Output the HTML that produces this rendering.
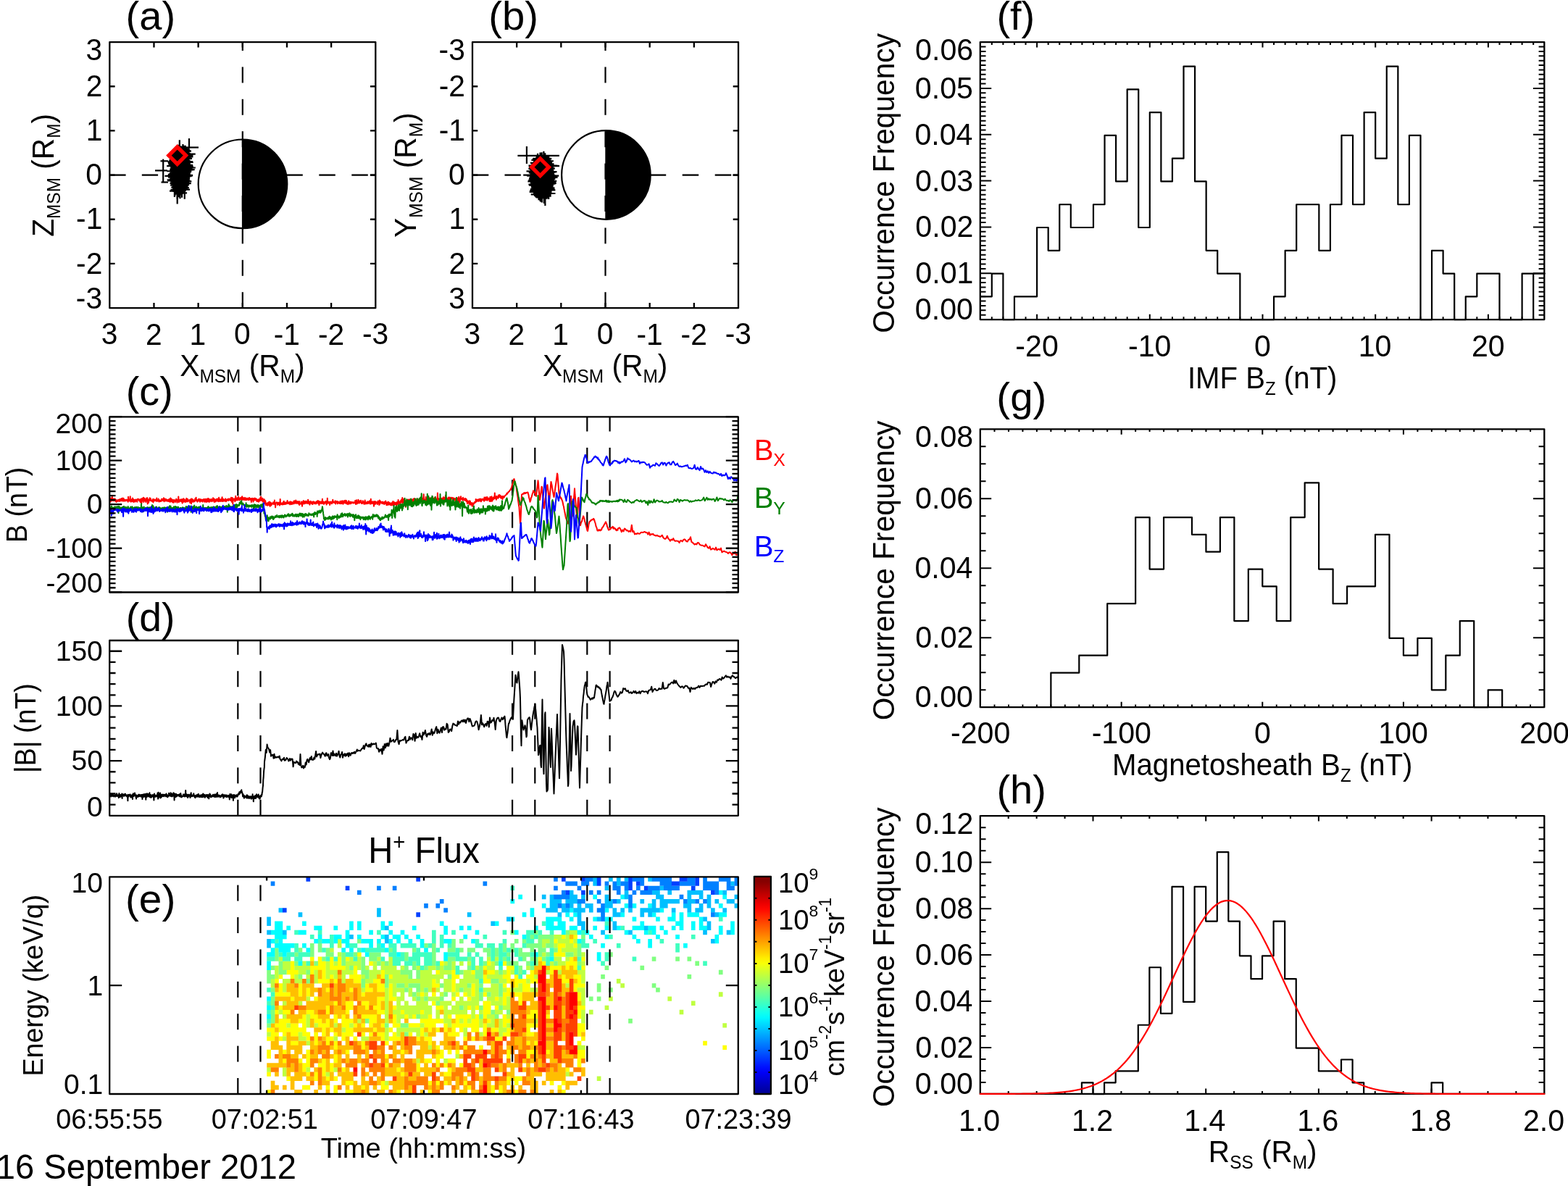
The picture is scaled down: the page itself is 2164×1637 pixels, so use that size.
<!DOCTYPE html>
<html><head><meta charset="utf-8"><title>Figure</title>
<style>html,body{margin:0;padding:0;background:#fff;overflow:hidden}svg{display:block}</style>
</head><body>
<svg width="2164" height="1637" viewBox="0 0 2164 1637" font-family="'Liberation Sans', Arial, Helvetica, sans-serif"><rect width="2164" height="1637" fill="#fff"/><circle cx="335" cy="253.8" r="61.3" fill="#fff" stroke="none"/>
<path d="M335,192.5 A61.3,61.3 0 0 1 335,315.1 Z" fill="#000"/>
<line x1="334.8" y1="425.2" x2="334.8" y2="403.2" stroke="#000" stroke-width="2.2" />
<line x1="334.8" y1="380.8" x2="334.8" y2="358.8" stroke="#000" stroke-width="2.2" />
<line x1="334.8" y1="336.4" x2="334.8" y2="314.4" stroke="#000" stroke-width="2.2" />
<line x1="334.8" y1="292" x2="334.8" y2="270" stroke="#000" stroke-width="2.2" />
<line x1="334.8" y1="247.6" x2="334.8" y2="225.6" stroke="#000" stroke-width="2.2" />
<line x1="334.8" y1="203.2" x2="334.8" y2="181.2" stroke="#000" stroke-width="2.2" />
<line x1="334.8" y1="158.8" x2="334.8" y2="136.8" stroke="#000" stroke-width="2.2" />
<line x1="334.8" y1="114.4" x2="334.8" y2="92.4" stroke="#000" stroke-width="2.2" />
<line x1="334.8" y1="70" x2="334.8" y2="58.1" stroke="#000" stroke-width="2.2" />
<line x1="151.3" y1="241.6" x2="173.6" y2="241.6" stroke="#000" stroke-width="2.3" />
<line x1="195.8" y1="241.6" x2="218.1" y2="241.6" stroke="#000" stroke-width="2.3" />
<line x1="240.3" y1="241.6" x2="262.6" y2="241.6" stroke="#000" stroke-width="2.3" />
<line x1="395.3" y1="241.6" x2="417.8" y2="241.6" stroke="#000" stroke-width="2.3" />
<line x1="440.3" y1="241.6" x2="462.8" y2="241.6" stroke="#000" stroke-width="2.3" />
<line x1="485.3" y1="241.6" x2="507.8" y2="241.6" stroke="#000" stroke-width="2.3" />
<line x1="510.8" y1="241.6" x2="518.3" y2="241.6" stroke="#000" stroke-width="2.3" />
<circle cx="335" cy="253.8" r="61.3" fill="none" stroke="#000" stroke-width="2.2"/>
<line x1="335" y1="192.5" x2="335" y2="315.1" stroke="#000" stroke-width="2.2"/>
<ellipse cx="249" cy="236" rx="13.8" ry="33" fill="#000"/>
<path d="M234.28,233.68H241.01M237.64,229.31V238.06M243.59,217.92H263.3M253.44,210.9V224.94M238.4,260.92H247.04M242.72,257.62V264.23M242.96,251.69H256.96M249.96,246.28V257.1M253.33,229.5H264.83M259.08,226.04V232.96M238.82,234.9H251.3M245.06,228.72V241.08M248.09,241.73H265.96M257.03,235.38V248.08M236.89,227H251.97M244.43,221.44V232.57M247.63,259.21H260.83M254.23,255.56V262.86M242.16,244.52H257.42M249.79,236.77V252.28M242.34,238.66H255.09M248.72,231.15V246.18M242.47,260.98H257.13M249.8,257.57V264.38M245.43,223.22H265.96M255.69,216.68V229.76M249.03,209.33H261.95M255.49,202.22V216.44M243.34,229.01H258.25M250.79,224.26V233.76M239.54,223.39H256.13M247.83,219.31V227.46M250.82,251.72H260.38M255.6,245.3V258.15M248.89,217.16H263.61M256.25,211.4V222.92M247.97,235.62H261.71M254.84,231.57V239.66M243.42,225.13H252.94M248.18,218.64V231.62M233.65,220.83H247.36M240.5,215.64V226.02M248.44,245.18H256.85M252.65,240.8V249.56M252.22,231.02H266.72M259.47,224.93V237.1M244,214.97H249.92M246.96,211.2V218.75M234.34,234.92H242.88M238.61,229.27V240.57M252.25,231.57H260.79M256.52,228.33V234.82M247,254.54H254.78M250.89,249.7V259.38M237.38,217.12H248.64M243.01,212.25V222M243.97,266.33H258.07M251.02,259.98V272.68M239.47,251.39H244.67M242.07,243.06V259.72M246.22,214.71H253.73M249.98,212.11V217.31M247.45,235.9H262.64M255.05,228.56V243.24M238.59,257.2H243.9M241.25,252.47V261.93M246.46,246.85H258.2M252.33,239.6V254.1M250.44,215.04H262.66M256.55,207.84V222.24M252.86,250.29H264.34M258.6,244.62V255.97M247.29,238.92H260.39M253.84,235.47V242.37M249.46,254.85H256.19M252.82,250.7V259.01M249.89,239.81H257.19M253.54,234.61V245.02M252.97,227.89H266.03M259.5,214.06V241.71M250.51,248.98H256.63M253.57,244.92V253.04M240.69,245.71H254.58M247.63,235.28V256.15M236.17,247.36H243.05M239.61,244.74V249.98M244.3,256.15H254.86M249.58,248.67V263.63M247.65,228.94H253.76M250.71,221.92V235.96M248.68,250.69H257.75M253.22,245.68V255.7M254.7,224.8H261.1M257.9,219.5V230.09M240.97,217.5H246.35M243.66,210.28V224.72M239.53,212.63H251.37M245.45,209.74V215.53M238.64,211.31H247.83M243.24,208.42V214.2M240.5,259.39H252.19M246.35,254.35V264.44M244.24,231.5H269.83M257.04,226.68V236.31M240.36,225.02H250.15M245.26,218.63V231.42M247.56,238.92H255.09M251.33,224.63V253.2M236.04,241.77H257.59M246.81,236.83V246.72M239.24,260.07H253.91M246.57,255.87V264.27M242.12,224.61H256.8M249.46,221.04V228.18M244.7,250.91H255.63M250.17,245.54V256.29M245.85,263.48H254.18M250.01,257.89V269.07M247.01,255.82H256.53M251.77,246.49V265.16M243.19,229.69H258.12M250.65,221.65V237.74M247.14,254.01H257.41M252.28,249.22V258.79M244.33,254.23H255.85M250.09,250.99V257.46M241.83,208.76H251.12M246.48,201.38V216.13M245.78,256.91H255.42M250.6,252.91V260.91M234.67,239.75H244.28M239.48,234.81V244.68M249.02,215.88H257.3M253.16,207.69V224.06M239.12,222.57H252.66M245.89,218.14V227M234.42,247.03H251.11M242.76,236.52V257.54M244.68,243.99H261.58M253.13,230.89V257.09M241.7,216.71H251.69M246.7,212.36V221.06M241.8,255.97H253.2M247.5,251.82V260.13M232,240.88H244.71M238.36,233.16V248.6M250.94,248.22H257.59M254.27,242.27V254.16M243.26,212.67H253.34M248.3,205.03V220.3M249.88,262.51H256.77M253.33,258.13V266.88M236.28,225.8H241.31M238.8,218.98V232.62M240.66,266.52H248.83M244.75,258.23V274.8M240.45,209.67H255.12M247.79,203.41V215.93M250.63,216.33H266.48M258.56,211.57V221.09M248.64,222.96H262.54M255.59,218.73V227.19M249.31,237.64H258.04M253.67,232.96V242.32M243.01,259.13H257.35M250.18,251.39V266.87M244.24,210.6H261.34M252.79,207.1V214.11M250.22,245.01H258.28M254.25,240.36V249.67M236.9,249.3H250.51M243.7,242.64V255.96M252.63,218.23H262.53M257.58,212.9V223.56M247.47,251.89H258.89M253.18,245.81V257.98M235.46,249.69H244.42M239.94,242.81V256.56M234.02,263.58H250.62M242.32,260.83V266.34M253.1,223.98H266.68M259.89,217.16V230.8M248.24,213.99H255.95M252.1,206.04V221.94M248.12,262.04H256.72M252.42,257.4V266.68M245.03,243.61H255.05M250.04,240.57V246.65M239.21,234.72H250.51M244.86,229.24V240.2M233.51,247.96H243.11M238.31,239.88V256.04M241.62,214H256.07M248.84,208.25V219.76M251.37,213.19H263.96M257.67,206.3V220.08M245.95,225.75H262.79M254.37,220.27V231.23M246.17,219.27H259.45M252.81,214.66V223.88M241.77,241.97H256.01M248.89,238.11V245.83M240.27,243.53H253.07M246.67,237.65V249.4M249.37,212.52H265.59M257.48,203.15V221.9M247.5,249.9H262.77M255.14,247.38V252.42M246.23,223.29H253.63M249.93,217.13V229.44M243.88,260.3H255.24M249.56,254.32V266.29M246.5,258.1H252.67M249.58,250.85V265.34M236.54,238.65H248.49M242.52,235.45V241.85M245.45,207.22H262.19M253.82,203.21V211.23M234.77,247.21H242.59M238.68,240.44V253.98M234.74,214.66H250.94M242.84,207.23V222.1M240.14,253.35H256.63M248.38,249.12V257.59M249.03,252.49H258.33M253.68,246.37V258.61M230.74,248.42H245.77M238.25,243.24V253.59M236.58,243.13H249.41M242.99,235.8V250.45M242.3,263.84H255.76M249.03,260.47V267.22M238.47,242.87H247.59M243.03,234.64V251.11M239.16,260.9H248.38M243.77,258.13V263.67M237.61,251.62H252.13M244.87,244.69V258.55M239.92,255.03H251.85M245.89,247.3V262.76M231.51,242.47H246.86M239.18,235.7V249.24M245.59,241.6H259.59M252.59,237.99V245.22M247.47,218.48H256.56M252.02,213.3V223.65M230.17,229.19H250.55M240.36,222.96V235.42M246.35,255.2H261.17M253.76,247.22V263.18M243.69,206.98H251.95M247.82,193.28V220.68M244.87,221.94H259.48M252.18,214.63V229.25M234.81,245.47H240.66M237.73,237.13V253.8M250.68,261.17H258.86M254.77,247.69V274.65M247.59,237.12H263.77M255.68,232.29V241.94M242.01,253.64H249.3M245.66,246.32V260.96M241.51,267.32H251.28M246.39,262.28V272.37M241.85,225.52H258.2M250.03,222.65V228.4M257.33,230.86H262.45M259.89,224.82V236.89M237.63,235.85H253.83M245.73,226.64V245.05M241.4,212.63H269.71M255.55,207.52V217.74M248.3,253.18H263.76M256.03,249.88V256.48M238.48,226.84H251.83M245.15,220.3V233.38M250.54,236.79H264.25M257.39,230.06V243.53M242.5,205.3H259.46M250.98,201.71V208.88M247,238.73H258.22M252.61,234.52V242.95M252.15,212.49H261.6M256.87,204.87V220.1M246.58,260.53H254.77M250.68,252.53V268.52M242.53,238.63H250.46M246.49,234.15V243.11M234.6,240.78H243.67M239.13,233.12V248.44M254.76,242.79H262.64M258.7,236.81V248.76M239.21,256.85H251.74M245.48,253.07V260.62M236.95,228.9H243.33M240.14,220.54V237.25M247.44,208.67H263.97M255.71,201.65V215.7M236.02,226.31H244.85M240.44,221.37V231.26M254.43,237.76H262.21M258.32,234.09V241.43M249.55,233.7H265.61M257.58,230.49V236.92M235.11,255.55H244.12M239.62,250.17V260.94M246.14,228.7H253.85M249.99,222.51V234.9M240.43,244.44H250.91M245.67,238.37V250.51M251.68,234.13H268.67M260.18,227.63V240.64M237.49,222.39H252.22M244.86,217.11V227.66M236.78,242.99H242.96M239.87,234.77V251.22M235.38,253.26H249.68M242.53,245.8V260.73M242.75,261.5H254.08M248.42,257.71V265.29M238.07,216.85H262.03M250.05,208.64V225.05M233.55,240.19H241.59M237.57,231.78V248.61M240.1,234.41H252.35M246.22,230.63V238.19M241.1,221.46H246.85M243.98,213.78V229.14M239.81,258.37H247.84M243.82,251.25V265.48M235.29,240.14H244.65M239.97,236.95V243.33M242.88,234.32H258.27M250.58,228.57V240.07M242.41,213.32H252.97M247.69,206.73V219.91M241.76,214.11H254.86M248.31,210.2V218.01M241.98,243.25H254.44M248.21,234.76V251.75M236.59,254.45H241.77M239.18,247.44V261.46M236.31,258.57H245.44M240.88,245.24V271.91M250.07,221.92H257.57M253.82,216.52V227.32M244.35,214.3H256.07M250.21,205.9V222.69M249.05,218.94H265.05M257.05,213.94V223.94M248.3,208.35H263.19M255.74,200.87V215.82M240.14,234.36H247.99M244.06,230.66V238.05M247.25,211.61H259.56M253.41,206.14V217.08M248.37,240.42H260.07M254.22,236.7V244.15M227.48,242.9H249.36M238.42,237.51V248.28M251.16,212.2H262.81M256.98,205.57V218.82M240.25,251.07H254.21M247.23,247.19V254.95M235.33,230.64H249.33M242.33,225.9V235.37M251.96,228.3H265.49M258.72,224.44V232.16M245.63,244.08H258.98M252.31,237.76V250.39M245.37,205.72H261.48M253.43,200.63V210.81M244.45,266.27H252.8M248.62,261.96V270.58M240.1,255.09H247.5M243.8,247.28V262.89M247.49,253.61H257.53M252.51,247.15V260.07M248.66,211.84H256.17M252.42,206.55V217.13M240.17,225.28H254.25M247.21,219.53V231.03M242.28,229.13H253.32M247.8,225.4V232.85M236.43,248.29H245.95M241.19,241.75V254.84M245.03,242.3H266.16M255.6,234.1V250.49M235.28,238.02H246.79M241.03,231.43V244.6M246.95,231.48H252.41M249.68,225.54V237.42M249.59,214.7H266.46M258.02,209.39V220.01M240.54,228.7H256.45M248.5,225.04V232.36M236.22,223.88H246.15M241.18,218.18V229.58M249.14,226.13H255.38M252.26,219.99V232.28M241.42,241.32H246.86M244.14,238.31V244.32M232.02,225.3H248.35M240.19,219.91V230.7M246.26,245.28H252.92M249.59,238.04V252.51M253.82,238.55H262.68M258.25,234.85V242.24M235.54,261.96H247.33M241.44,253.91V270.01M230.28,236.25H249.68M239.98,228.08V244.43M233.01,227.29H247.45M240.23,220.95V233.62M231.09,215.5H257.01M244.05,205.96V225.04M242.24,240.4H257.63M249.94,234.77V246.03M240.74,207.44H251.61M246.17,199.74V215.15M239.63,237.79H251.31M245.47,230.24V245.33M244.87,261.54H262.06M253.46,257.43V265.65M248.98,237.97H257.54M253.26,232.84V243.09M239.96,255.64H249.18M244.57,243.43V267.86M245.92,244.69H255.16M250.54,237.7V251.69M251.03,218.19H263.17M257.1,211.84V224.54M239.8,241.7H256.13M247.96,236.93V246.46M242.51,214.25H258.98M250.74,209.07V219.42M246.13,244.35H255.41M250.77,241.44V247.26M250.87,229.59H266.76M258.81,223.22V235.97M238.49,253.53H247.34M242.92,248.06V259.01M233.31,221.96H248.66M240.99,218.19V225.74M235.92,229.46H248.82M242.37,220.44V238.48M238.44,208.58H253.75M246.09,204.91V212.26M239.22,231.63H249.58M244.4,225.31V237.95M246.84,210.72H258.07M252.46,198.98V222.46M243.53,225H250.44M246.99,216.94V233.06M244.42,257.73H253.57M249,251.06V264.39M249.96,233.31H259.61M254.78,226.9V239.71M245.57,232.6H253.02M249.29,226.64V238.56M249.89,245.45H259.74M254.82,240.84V250.06M246.68,240.8H255.44M251.06,235.95V245.66M249.53,246.95H261.19M255.36,244.27V249.63M243.4,218.83H254.06M248.73,211.33V226.33M242.82,215.34H259.26M251.04,210.69V219.98M233.98,238.79H240.7M237.34,232.4V245.17M251.63,246.14H262.03M256.83,237.82V254.46M240.14,222.02H256.52M248.33,216.8V227.24M235.66,229.73H241.52M238.59,226.35V233.11M239.55,229.16H262.98M251.27,223.61V234.72M250.4,258.86H258.05M254.23,254.92V262.81M245.56,252.38H250.71M248.14,249.68V255.09M239.55,221.29H251.72M245.64,213.51V229.07M247,237.17H258.29M252.64,229.66V244.67M234.51,252.88H244.37M239.44,249.58V256.17M237.41,258.06H248.61M243.01,254.02V262.09M243.51,222.44H258.39M250.95,219.32V225.56M234.29,247.6H248.71M241.5,243.63V251.58M244.82,209.68H255.17M249.99,201.52V217.85M231.43,223.32H247.38M239.4,220.11V226.53M235.69,217.27H246.89M241.29,210.48V224.06M247.69,237.93H253.97M250.83,235.14V240.72M239.77,226.53H244.87M242.32,220.99V232.07M250.75,206.74H256.62M253.69,203.92V209.56M234.98,218.79H251.87M243.43,215.29V222.28M240.16,258.4H250.35M245.25,255.39V261.4M232.08,244.71H247.98M240.03,240.14V249.28M245.63,258.09H254.46M250.04,252.11V264.08M240.93,242.61H246.1M243.51,236.07V249.16M237.44,247.85H250.63M244.04,243.14V252.55M241.38,224.6H253.42M247.4,216.64V232.56M241.46,266.71H248.85M245.15,263.53V269.9M246.09,209.86H251.18M248.63,205.5V214.22M253.32,223.42H264.6M258.96,220.06V226.78M247.99,212.28H260.95M254.47,207.69V216.88M239.26,247.86H252.29M245.77,239.51V256.21M239.77,239.37H260.53M250.15,236.56V242.18M235.08,245.3H241.63M238.35,240.37V250.23M245.1,241.71H255.33M250.22,236.34V247.08M247.88,229.78H255.97M251.92,226.24V233.33M250.82,240.7H256.6M253.71,232.56V248.84M247.64,224.29H261.6M254.62,218.16V230.42M235.29,213.22H249.63M242.46,208.97V217.46M239.52,234.83H247.34M243.43,228.13V241.53M249.82,216.66H259.56M254.69,210.51V222.82M240.41,257.78H248.03M244.22,255.01V260.54M254.57,232.84H262.11M258.34,227.69V237.99M231.89,249.52H259.86M245.88,246.67V252.36M246.19,218.37H255.68M250.93,212.27V224.47M234.25,248.52H241.03M237.64,244.79V252.26M238.48,263.78H250.44M244.46,258.07V269.5M238.94,231.73H248.43M243.68,226.63V236.83M232.51,227.92H257.37M244.94,224.08V231.76M249.11,251.31H257.69M253.4,247.4V255.22M238.79,245.95H254.78M246.79,239.03V252.87M242.19,208.44H254.37M248.28,203.35V213.52M245.3,264.7H251.61M248.46,255.06V274.34M247.28,218.23H257.77M252.53,213.34V223.13M242.34,232.39H252.47M247.4,224.17V240.6M241.44,216.48H252.36M246.9,211.49V221.47M235.28,216.55H247.21M241.24,209.12V223.99M237.7,263.25H246.65M242.18,259.69V266.82M240.03,247.67H247.88M243.96,241.16V254.18M233.36,223H246.48M239.92,219.23V226.76M237.48,227.28H244.44M240.96,223.48V231.08M236.07,228.94H249.2M242.64,223.35V234.52M250.84,242.7H264.67M257.75,235.03V250.36M246.47,222.9H256.58M251.52,216.97V228.83M253.29,243.26H264.6M258.95,239.75V246.78M252.84,228.96H263.93M258.39,215.38V242.54M249.72,234.69H264.58M257.15,227.23V242.16M230.64,248.64H247.6M239.12,245.7V251.59M243.02,226.06H250.53M246.77,222.57V229.56M251.73,234.39H266.86M259.3,231.25V237.53M246.91,210.34H259.02M252.97,204.51V216.17M241.68,257.22H249.69M245.68,252.79V261.65M253.93,231.57H263.56M258.75,227.91V235.23M251.59,242.31H264.49M258.04,235.77V248.85M253.62,228.23H260.1M256.86,223.28V233.19M239.04,252.47H247.56M243.3,244.89V260.04M242.96,222.5H259.65M251.3,216.03V228.97M253.47,248.09H259.03M256.25,242.37V253.81M243.49,242.42H256.02M249.75,236.62V248.22M242.42,225.44H253.57M248,217.58V233.29M235.15,226.59H241.82M238.49,219.69V233.49M235.21,237.55H246.75M240.98,234.7V240.4M235.12,250.52H248.51M241.82,247.04V253.99M248.47,230.68H260.8M254.64,219.27V242.08M255.92,221.65H262.59M259.26,217.17V226.14M250.06,213.28H261.99M256.02,205.56V221" stroke="#000" stroke-width="2.2" fill="none"/>
<line x1="214" y1="235.4" x2="231" y2="235.4" stroke="#000" stroke-width="2.2" />
<line x1="225.2" y1="219.6" x2="225.2" y2="251.2" stroke="#000" stroke-width="2.2" />
<line x1="221.5" y1="222.3" x2="232" y2="222.3" stroke="#000" stroke-width="2.2" />
<line x1="222.5" y1="251.5" x2="232" y2="251.5" stroke="#000" stroke-width="2.2" />
<line x1="261" y1="191" x2="261" y2="205" stroke="#000" stroke-width="2.2" />
<line x1="244.7" y1="270" x2="244.7" y2="281.5" stroke="#000" stroke-width="2.2" />
<line x1="255" y1="203.5" x2="274" y2="203.5" stroke="#000" stroke-width="2.2" />
<path d="M232.9,214.6 L244.7,202.8 L256.5,214.6 L244.7,226.4 Z" fill="none" stroke="#ff0000" stroke-width="5.3" stroke-linejoin="miter"/>
<rect x="151.3" y="58.1" width="367" height="367.1" fill="none" stroke="#000" stroke-width="2.3" stroke-linejoin="round"/>
<path d="M212.47,425.2V417.9M212.47,58.1V65.4M151.3,119.27H158.6M518.3,119.27H511M273.63,425.2V417.9M273.63,58.1V65.4M151.3,180.43H158.6M518.3,180.43H511M334.8,425.2V417.9M334.8,58.1V65.4M151.3,241.6H158.6M518.3,241.6H511M395.97,425.2V417.9M395.97,58.1V65.4M151.3,302.77H158.6M518.3,302.77H511M457.13,425.2V417.9M457.13,58.1V65.4M151.3,363.93H158.6M518.3,363.93H511" stroke="#000" stroke-width="2.3" fill="none"/>
<circle cx="836.4" cy="241.5" r="61.3" fill="#fff" stroke="none"/>
<path d="M836.4,180.2 A61.3,61.3 0 0 1 836.4,302.8 Z" fill="#000"/>
<line x1="835.5" y1="425.2" x2="835.5" y2="403.2" stroke="#000" stroke-width="2.2" />
<line x1="835.5" y1="380.8" x2="835.5" y2="358.8" stroke="#000" stroke-width="2.2" />
<line x1="835.5" y1="336.4" x2="835.5" y2="314.4" stroke="#000" stroke-width="2.2" />
<line x1="835.5" y1="292" x2="835.5" y2="270" stroke="#000" stroke-width="2.2" />
<line x1="835.5" y1="247.6" x2="835.5" y2="225.6" stroke="#000" stroke-width="2.2" />
<line x1="835.5" y1="203.2" x2="835.5" y2="181.2" stroke="#000" stroke-width="2.2" />
<line x1="835.5" y1="158.8" x2="835.5" y2="136.8" stroke="#000" stroke-width="2.2" />
<line x1="835.5" y1="114.4" x2="835.5" y2="92.4" stroke="#000" stroke-width="2.2" />
<line x1="835.5" y1="70" x2="835.5" y2="58.1" stroke="#000" stroke-width="2.2" />
<line x1="652" y1="241.6" x2="674.3" y2="241.6" stroke="#000" stroke-width="2.3" />
<line x1="696.5" y1="241.6" x2="718.8" y2="241.6" stroke="#000" stroke-width="2.3" />
<line x1="741" y1="241.6" x2="763.3" y2="241.6" stroke="#000" stroke-width="2.3" />
<line x1="896.7" y1="241.6" x2="919.2" y2="241.6" stroke="#000" stroke-width="2.3" />
<line x1="941.7" y1="241.6" x2="964.2" y2="241.6" stroke="#000" stroke-width="2.3" />
<line x1="986.7" y1="241.6" x2="1009.2" y2="241.6" stroke="#000" stroke-width="2.3" />
<line x1="1011.5" y1="241.6" x2="1019" y2="241.6" stroke="#000" stroke-width="2.3" />
<circle cx="836.4" cy="241.5" r="61.3" fill="none" stroke="#000" stroke-width="2.2"/>
<line x1="836.4" y1="180.2" x2="836.4" y2="302.8" stroke="#000" stroke-width="2.2"/>
<ellipse cx="748.2" cy="244.5" rx="17" ry="30" fill="#000"/>
<path d="M740.22,260.3H754.99M747.6,254.2V266.4M745.39,250.8H753.69M749.54,244.92V256.67M731.97,254.25H742.05M737.01,245.94V262.55M738.58,252.4H747.73M743.16,244.55V260.25M736.89,269.86H747.54M742.21,266.72V273.01M745.82,270.54H758.98M752.4,264.17V276.9M729.03,242.18H744.38M736.71,234.32V250.03M746.61,226.53H759.92M753.26,220.89V232.16M743.86,247.87H757.29M750.58,239.98V255.76M731.04,263.41H743.14M737.09,258.47V268.35M745.09,255.38H757.34M751.21,252.76V258M750.94,255.88H761.8M756.37,250.36V261.41M742.02,222.52H754.43M748.23,214.23V230.81M741.27,224.46H746.77M744.02,216.4V232.52M753.78,245.77H758.9M756.34,240.4V251.15M750.65,242.3H765.65M758.15,237.46V247.14M743.59,244.15H750.37M746.98,239.01V249.29M734.18,234.38H750.09M742.13,231.52V237.23M733.17,234.68H738.94M736.05,229.44V239.92M747.32,229.09H772.01M759.67,220.73V237.45M748.47,252.04H760.92M754.69,246.86V257.22M745.92,225.33H760.43M753.18,216.99V233.68M743.49,243.27H759.08M751.28,236.49V250.06M735.18,239.8H745.83M740.51,231.86V247.74M745.03,258.64H755.62M750.32,255.44V261.85M748.82,239.55H761.51M755.16,232.86V246.23M730.64,248.67H743.16M736.9,240.83V256.52M747.64,259.37H759.47M753.56,252.61V266.14M751.79,241.94H759.9M755.85,237.67V246.21M748.2,241.11H759.42M753.81,235.65V246.56M743.87,217.35H750.21M747.04,214.46V220.25M742.69,243.71H757.16M749.93,235.76V251.66M743.64,230.71H749.55M746.6,227.96V233.47M738.17,264.3H753.86M746.01,258.99V269.61M748.39,263.07H755.57M751.98,256.89V269.26M750.36,241.63H763.42M756.89,234.68V248.59M756.13,226.78H763.18M759.66,221.69V231.88M754.46,242.53H771.32M762.89,236.44V248.62M745.13,251.86H752.16M748.65,248.84V254.89M754.12,250.84H765.03M759.58,245.18V256.5M735.75,220.93H744.99M740.37,217.12V224.75M739.74,236.71H747.83M743.78,233.14V240.29M748.53,226.92H756.86M752.69,222.82V231.03M751.28,250.13H760.16M755.72,243.2V257.06M740.05,251.05H754.12M747.09,244.61V257.48M749.46,246.75H763.81M756.64,242.16V251.34M754.46,251.02H762.55M758.5,247.19V254.85M740.35,271.19H746.66M743.5,266.03V276.35M739.36,261.33H745.2M742.28,254.48V268.18M737.61,247.79H744.6M741.1,240.41V255.17M734.51,256.97H748.25M741.38,248.97V264.96M730.33,247.13H741.87M736.1,241.91V252.35M731.5,237H742.34M736.92,229.85V244.16M746.43,218.94H761.23M753.83,214.24V223.65M750.28,251.33H765.48M757.88,244.86V257.81M737.05,232.97H751.69M744.37,225.13V240.81M755.79,258.02H762.08M758.94,253.05V263M752.1,251.44H765.23M758.66,245.29V257.59M738.97,261.03H751.4M745.18,257.42V264.64M741.86,225.4H750.24M746.05,220.1V230.71M745.63,235.27H760.28M752.96,228.89V241.64M740.02,217.28H756.07M748.05,213.8V220.77M742.89,257.59H757.55M750.22,250.02V265.16M730.7,264.81H744.53M737.61,262.24V267.38M758.52,246.84H766.35M762.43,240.84V252.83M726.52,236.35H741.89M734.2,228.36V244.35M731.24,242.12H748.24M739.74,235.19V249.04M740.67,235.83H752.11M746.39,229.95V241.71M744.5,249.9H768.21M756.35,247.11V252.69M749.28,231.52H761.77M755.52,227.38V235.65M746.76,263.67H753.54M750.15,257.28V270.06M748.24,269.24H757.71M752.98,266.6V271.88M732.25,233.13H739.29M735.77,225.67V240.59M745.19,225.22H750.76M747.97,222.56V227.87M738.6,249.95H749.03M743.81,246.4V253.49M746.06,244.41H756.13M751.1,237.52V251.3M747.81,228.03H755.22M751.51,221.86V234.21M740.03,237.33H751.92M745.97,225.89V248.77M736.2,222.95H745.52M740.86,215.1V230.8M749.67,269.44H759.55M754.61,264.12V274.77M748.86,229.43H765.05M756.96,221.39V237.48M734.47,247.94H739.54M737,244.61V251.28M753.23,251.2H767.45M760.34,248.13V254.28M738.06,258.53H751.37M744.72,255.45V261.61M736.49,230.98H752.59M744.54,228.02V233.93M746.53,259.84H762.46M754.5,256.43V263.25M734.37,236.07H744.39M739.38,228.62V243.51M744.68,240.74H755.18M749.93,233.19V248.29M735.63,242.97H748.82M742.23,235.81V250.13M737.32,235.68H744.97M741.14,228.31V243.05M742.68,224.69H757.9M750.29,220.74V228.64M736.33,233.65H752.56M744.44,230.27V237.02M759.19,244.88H766.28M762.74,235.41V254.34M742.94,258.79H757.11M750.03,255.44V262.14M736.01,243.82H752.68M744.35,238.67V248.96M738.44,236.03H754.71M746.57,229.26V242.81M747.56,229.5H762.3M754.93,222.8V236.21M741.4,253.89H757.4M749.4,250.73V257.05M742.98,256.4H759.13M751.06,249.35V263.45M745.6,221.09H754.76M750.18,217.09V225.08M744.45,262.42H759.71M752.08,256.31V268.53M745.15,223.95H761.53M753.34,215.86V232.04M746.02,235.33H751.56M748.79,228.79V241.87M737.44,263.72H751.88M744.66,256.13V271.31M748.12,222.26H763.95M756.04,214.31V230.21M729.49,228.53H742.23M735.86,223.86V233.19M730.14,245.91H741.61M735.87,242.26V249.55M739.1,236.28H748.16M743.63,232.34V240.21M729.74,238.47H742.7M736.22,230.38V246.57M749.42,261.88H760.75M755.08,257.12V266.63M738.44,230.55H744.64M741.54,227.14V233.96M733.56,238.43H745.12M739.34,231.97V244.89M750.53,241.56H758.43M754.48,233.14V249.97M733.84,259.94H739.86M736.85,253.76V266.12M749.88,255.75H761.99M755.94,250.03V261.46M751.01,243.18H759.08M755.04,240.07V246.28M730.26,233.06H738.79M734.52,226.86V239.25M745.01,245.26H760.54M752.77,238.91V251.61M745.62,223.96H753.39M749.51,220.05V227.87M742.07,260.37H754.25M748.16,257.45V263.28M756.94,232.53H765.77M761.36,228.27V236.78M739.66,272.35H755.19M747.42,266.55V278.15M737.52,221.47H751.35M744.44,218.17V224.77M741.58,234.3H748.92M745.25,229.48V239.11M739.93,267.82H752.31M746.12,263.65V272M742.84,252.79H750.66M746.75,248.93V256.64M735.73,254.47H743.22M739.48,251.5V257.43M730.07,229.5H741.66M735.86,224.78V234.22M735.43,242.12H742.3M738.86,237.12V247.11M744.72,234.97H755.17M749.95,230.94V238.99M748.56,237.13H755.65M752.1,231.47V242.79M735.1,218.74H748.96M742.03,211.78V225.69M748.67,223.73H754.76M751.72,215.55V231.91M732.96,262.3H746.16M739.56,257.04V267.57M753.25,258.83H759.68M756.46,251.73V265.93M747.5,222.3H760.13M753.82,217.09V227.52M740.04,238.87H751.07M745.56,233.45V244.3M744.81,225.01H760.11M752.46,217.14V232.88M745.3,244.66H752.36M748.83,240.37V248.96M753.32,236.06H760.71M757.01,227.67V244.45M745.8,239.99H759.7M752.75,235.33V244.65M730.95,250.48H739.5M735.22,245.38V255.58M737.53,242.23H752.78M745.15,238.81V245.64M754.69,228.52H764.54M759.62,220.31V236.74M735.54,228.64H750.92M743.23,221.17V236.11M732.62,242.06H745.86M739.24,237.08V247.04M743.95,233.37H754.89M749.42,224.96V241.79M733.52,239.04H749.93M741.73,231.04V247.04M747.56,261.89H755.87M751.71,254.44V269.34M758.66,241.92H766.26M762.46,235.31V248.52M740.83,272.27H752.78M746.81,266.39V278.15M745.61,226.76H756.66M751.13,219.17V234.36M752.9,244.84H769.58M761.24,237.54V252.14M749.7,243.47H765M757.35,237.33V249.61M752.5,239.39H763.17M757.84,234.18V244.6M744.46,258.92H754.11M749.29,253.7V264.14M749.4,259.84H756.53M752.96,254.96V264.72M730.16,255.61H746.25M738.2,251.46V259.76M744.89,230.72H758.74M751.82,225.05V236.39M735.25,247.01H748.47M741.86,239.22V254.8M750.19,238.38H761.89M756.04,235.05V241.72M735.84,232.77H745.03M740.43,229.81V235.73M741.21,252.27H758.01M749.61,247.6V256.94M748.08,272.14H756.69M752.38,260.27V284.02M755.19,248.97H760.56M757.88,240.65V257.29M742.5,257.07H749.13M745.82,253.62V260.51M739.24,217.96H751.84M745.54,210.56V225.36M736.71,254.55H751.33M744.02,246.79V262.31M751.3,227.07H763.14M757.22,215.33V238.82M744.25,235.6H755.74M749.99,228.53V242.67M739.35,220.11H748.48M743.92,215.12V225.09M753.55,230.58H758.69M756.12,224.56V236.6M743.55,225.1H750.65M747.1,218.95V231.26M745.64,249.8H755.26M750.45,245.23V254.37M743.73,222.59H760.53M752.13,214.45V230.73M747.83,215.82H752.97M750.4,208.86V222.78M754.93,253.34H760.71M757.82,250.53V256.14M756.06,252.96H767.75M761.9,249.58V256.34M738.34,271.45H757.24M747.79,263.34V279.57M750.52,243.79H761.52M756.02,240.63V246.95M739.49,268.73H744.8M742.15,266.11V271.35M737.62,247.99H746.38M742,244.35V251.63M748.48,234.35H760.48M754.48,226.25V242.46M736.18,261.21H742.89M739.54,254.09V268.32M731.4,233.84H739.31M735.35,229.39V238.29M740.23,220.1H752.55M746.39,215.72V224.47M748.85,260.25H765.52M757.18,256.29V264.22M735.25,233.57H744.84M740.04,228.36V238.79M741.41,232.89H755.78M748.6,224.44V241.34M743.77,223.66H751.47M747.62,210.25V237.06M743.77,264.44H752.26M748.01,260.88V268.01M729.41,232.84H746.12M737.77,227.54V238.14M737.9,264.08H752.01M744.95,256.71V271.45M729.29,248.66H739.4M734.34,240.37V256.95M755.2,237.57H766.55M760.87,230.27V244.88M752.01,228.64H768.72M760.36,225.31V231.96M754.08,256.7H760.51M757.29,252.37V261.03M736.21,246.48H750.28M743.25,234.96V258M744.66,233.41H759.5M752.08,222.18V244.63M732.37,252.08H756.78M744.57,246.91V257.24M749.66,227.66H755.66M752.66,223.38V231.94M748.29,244.73H764.59M756.44,237.93V251.53M744.58,254.94H761.01M752.8,248.45V261.43M744.4,233.53H750.67M747.54,229.48V237.57M749.77,244.41H757.77M753.77,239.57V249.25M735.48,233.17H746.73M741.1,225.5V240.84M738.26,266.33H756.42M747.34,259.41V273.25M732.02,248.67H754.77M743.4,245.79V251.55M730.46,255.66H738.48M734.47,251.22V260.09M744.62,242.8H751.17M747.89,236.89V248.71M751.9,250.84H757.12M754.51,242.75V258.94M745.5,234.13H753.84M749.67,227.54V240.72M756.36,259.73H764.36M760.36,252.05V267.4M728.37,250.36H745.25M736.81,245.27V255.44M739.43,243.6H747.05M743.24,237.05V250.15M740.97,251.39H754.95M747.96,244.6V258.18M750.47,224.48H756.12M753.29,216.09V232.86M746.82,226.42H761.2M754.01,222.11V230.73M748.26,250.17H756.7M752.48,245.31V255.03M733.39,220.88H747.87M740.63,217.75V224.02M739.82,243.61H746.62M743.22,236.14V251.07M750.03,247.14H761.64M755.83,244.5V249.79M756.36,237.17H768.51M762.44,225.97V248.37M742.88,272.3H749.08M745.98,266.09V278.51M731.95,261.04H748.7M740.32,258.46V263.62M752.77,262.36H766.4M759.58,253.1V271.63M742.3,252.6H756.36M749.33,247.38V257.82M745.26,263.26H755.31M750.29,260.58V265.94M752.32,258.95H763.05M757.69,252.63V265.27M750.53,259.27H765.4M757.97,253.67V264.87M746.9,238.93H757.83M752.36,228.5V249.36M738.99,256.95H748.06M743.53,249.54V264.35M747.27,217.07H757.27M752.27,211.29V222.84M747.54,270.4H757.31M752.43,266.06V274.74M727.23,242.75H741.02M734.13,237.25V248.24M753.57,228.26H762.51M758.04,223.44V233.07M749.54,221.84H755.18M752.36,214.66V229.03M748.69,224.43H761.93M755.31,216.35V232.5M752.36,219.84H758.8M755.58,214.08V225.6M746.19,242.61H751.99M749.09,238.46V246.76M747.9,266.98H766.46M757.18,259.04V274.91M745.41,253.3H750.77M748.09,250.07V256.52M737.73,241.98H751.39M744.56,235.58V248.37M737.02,269.39H753.79M745.4,261.41V277.37M741.68,230.5H755.86M748.77,222.37V238.63M744.33,261.41H754.49M749.41,256.33V266.49M743.33,271.23H758.26M750.8,261.8V280.67M738.71,234.91H745.3M742.01,228.06V241.76M741.31,221.65H753.36M747.34,214.51V228.79M740.11,229.68H747.69M743.9,223.38V235.99M740.2,247.98H754.58M747.39,236.06V259.9M749.07,250.13H755.79M752.43,247.48V252.77M731.16,238.11H744.3M737.73,232.47V243.75M746.17,229.23H752.97M749.57,225.98V232.48M745.9,266.05H755.85M750.88,257.98V274.12M752.06,262.62H760.74M756.4,255.2V270.05M738.33,262.92H752.63M745.48,254.68V271.16M744.79,244.78H761.74M753.27,239.29V250.27M735.4,245.11H748.94M742.17,237.38V252.83M731.78,224.74H747.1M739.44,220.15V229.33M744.8,267.46H757.27M751.04,262.43V272.49M736.21,248.73H742.21M739.21,243.99V253.47M748.95,232.48H761.82M755.38,225.15V239.81M758.26,244.97H766.07M762.16,238.24V251.7M740.16,244.75H745.33M742.74,241.31V248.2M745.12,246.21H761.32M753.22,235.65V256.76M737.05,224.99H751.86M744.46,218.51V231.47M731.62,233.51H741.02M736.32,230.22V236.79M739.88,237.23H747.59M743.73,234.29V240.17M732.23,241.56H742.08M737.15,234.61V248.5M758.44,245.51H763.93M761.18,239.76V251.26M749.69,235.01H761.61M755.65,229.33V240.69M732.32,253.63H748.25M740.28,246.09V261.18M732.77,268.34H747.78M740.27,264.51V272.17M729.44,254.69H742.67M736.05,251.25V258.13M743.73,262.22H759.96M751.85,256.26V268.18M751.53,257.85H761.28M756.4,252.69V263M748.25,226.55H757.33M752.79,218.71V234.39M733.49,240.19H753.06M743.27,236.96V243.42M745.92,247.36H757.43M751.68,243.44V251.28M749.59,259.33H758.94M754.26,253.51V265.15M749.74,250.29H757.85M753.8,242.63V257.95M748.11,222.51H763.11M755.61,219.69V225.32M753.2,253.72H766.46M759.83,249.59V257.85M748.79,223.14H762.04M755.41,217.67V228.6M749.43,259.75H761.28M755.35,256.76V262.75M739.64,222.64H747.62M743.63,216.39V228.88M734.84,225.83H749.13M741.98,219.23V232.43M744.76,243.05H750.54M747.65,237.92V248.17M736.91,253.96H742.69M739.8,248.45V259.47M749.59,228.76H771.29M760.44,223.83V233.69M741.5,249.99H755.32M748.41,243.9V256.08M742.77,221.04H749.41M746.09,217.16V224.91M753.33,224.27H760.5M756.91,218.59V229.95M742.95,261.55H755.16M749.06,254.58V268.53M749.48,246.63H761.05M755.27,238.23V255.03M745.6,234.71H759.83M752.71,226.24V243.17M756.11,232.33H765.44M760.77,229.23V235.44M748.73,235.67H757.66M753.2,228.29V243.05M735.7,237.62H750.83M743.26,231.48V243.77M736.16,225.01H750.04M743.1,221.86V228.16M748.26,234.31H758.81M753.54,230.2V238.42M737.36,254.07H753.2M745.28,247.56V260.58M741.17,228.73H769.4M755.29,224.79V232.67M729.87,230.58H744.92M737.39,222.52V238.64M734.83,244.61H739.84M737.33,233.13V256.09M743.84,255.18H750.02M746.93,250.02V260.34M732.62,225.39H749.57M741.1,222.77V228.01M749.59,238.97H757.1M753.35,231.67V246.28M748.91,246.94H765.42M757.16,240.32V253.56M751.23,249.96H762.02M756.63,246.38V253.55M748.76,256.74H758.93M753.84,251.99V261.49M748.97,247.64H761.63M755.3,242.57V252.7M755.14,249.38H764.71M759.92,244.93V253.84M744.99,251.74H756.8M750.9,248.44V255.04M740.77,231.16H747.57M744.17,222.83V239.49M752.51,243.6H759.11M755.81,240.58V246.62M722.22,241.65H745.07M733.65,237.01V246.29M731.46,238.03H743.19M737.33,234.28V241.79M748.54,226.39H764.55M756.54,223.39V229.39" stroke="#000" stroke-width="2.2" fill="none"/>
<line x1="714.4" y1="214.9" x2="771.9" y2="214.9" stroke="#000" stroke-width="2.2" />
<line x1="726.9" y1="202" x2="726.9" y2="226" stroke="#000" stroke-width="2.2" />
<path d="M733.8,230.7 L745.6,218.9 L757.4,230.7 L745.6,242.5 Z" fill="none" stroke="#ff0000" stroke-width="5.3" stroke-linejoin="miter"/>
<rect x="652" y="58.1" width="367" height="367.1" fill="none" stroke="#000" stroke-width="2.3" stroke-linejoin="round"/>
<path d="M713.17,425.2V417.9M713.17,58.1V65.4M652,119.27H659.3M1019,119.27H1011.7M774.33,425.2V417.9M774.33,58.1V65.4M652,180.43H659.3M1019,180.43H1011.7M835.5,425.2V417.9M835.5,58.1V65.4M652,241.6H659.3M1019,241.6H1011.7M896.67,425.2V417.9M896.67,58.1V65.4M652,302.77H659.3M1019,302.77H1011.7M957.83,425.2V417.9M957.83,58.1V65.4M652,363.93H659.3M1019,363.93H1011.7" stroke="#000" stroke-width="2.3" fill="none"/>
<line x1="328.3" y1="817.5" x2="328.3" y2="795.5" stroke="#000" stroke-width="2.2" />
<line x1="328.3" y1="773.1" x2="328.3" y2="751.1" stroke="#000" stroke-width="2.2" />
<line x1="328.3" y1="728.7" x2="328.3" y2="706.7" stroke="#000" stroke-width="2.2" />
<line x1="328.3" y1="684.3" x2="328.3" y2="662.3" stroke="#000" stroke-width="2.2" />
<line x1="328.3" y1="639.9" x2="328.3" y2="617.9" stroke="#000" stroke-width="2.2" />
<line x1="328.3" y1="595.5" x2="328.3" y2="575.4" stroke="#000" stroke-width="2.2" />
<line x1="359.5" y1="817.5" x2="359.5" y2="795.5" stroke="#000" stroke-width="2.2" />
<line x1="359.5" y1="773.1" x2="359.5" y2="751.1" stroke="#000" stroke-width="2.2" />
<line x1="359.5" y1="728.7" x2="359.5" y2="706.7" stroke="#000" stroke-width="2.2" />
<line x1="359.5" y1="684.3" x2="359.5" y2="662.3" stroke="#000" stroke-width="2.2" />
<line x1="359.5" y1="639.9" x2="359.5" y2="617.9" stroke="#000" stroke-width="2.2" />
<line x1="359.5" y1="595.5" x2="359.5" y2="575.4" stroke="#000" stroke-width="2.2" />
<line x1="707.1" y1="817.5" x2="707.1" y2="795.5" stroke="#000" stroke-width="2.2" />
<line x1="707.1" y1="773.1" x2="707.1" y2="751.1" stroke="#000" stroke-width="2.2" />
<line x1="707.1" y1="728.7" x2="707.1" y2="706.7" stroke="#000" stroke-width="2.2" />
<line x1="707.1" y1="684.3" x2="707.1" y2="662.3" stroke="#000" stroke-width="2.2" />
<line x1="707.1" y1="639.9" x2="707.1" y2="617.9" stroke="#000" stroke-width="2.2" />
<line x1="707.1" y1="595.5" x2="707.1" y2="575.4" stroke="#000" stroke-width="2.2" />
<line x1="738.3" y1="817.5" x2="738.3" y2="795.5" stroke="#000" stroke-width="2.2" />
<line x1="738.3" y1="773.1" x2="738.3" y2="751.1" stroke="#000" stroke-width="2.2" />
<line x1="738.3" y1="728.7" x2="738.3" y2="706.7" stroke="#000" stroke-width="2.2" />
<line x1="738.3" y1="684.3" x2="738.3" y2="662.3" stroke="#000" stroke-width="2.2" />
<line x1="738.3" y1="639.9" x2="738.3" y2="617.9" stroke="#000" stroke-width="2.2" />
<line x1="738.3" y1="595.5" x2="738.3" y2="575.4" stroke="#000" stroke-width="2.2" />
<line x1="810.3" y1="817.5" x2="810.3" y2="795.5" stroke="#000" stroke-width="2.2" />
<line x1="810.3" y1="773.1" x2="810.3" y2="751.1" stroke="#000" stroke-width="2.2" />
<line x1="810.3" y1="728.7" x2="810.3" y2="706.7" stroke="#000" stroke-width="2.2" />
<line x1="810.3" y1="684.3" x2="810.3" y2="662.3" stroke="#000" stroke-width="2.2" />
<line x1="810.3" y1="639.9" x2="810.3" y2="617.9" stroke="#000" stroke-width="2.2" />
<line x1="810.3" y1="595.5" x2="810.3" y2="575.4" stroke="#000" stroke-width="2.2" />
<line x1="841.6" y1="817.5" x2="841.6" y2="795.5" stroke="#000" stroke-width="2.2" />
<line x1="841.6" y1="773.1" x2="841.6" y2="751.1" stroke="#000" stroke-width="2.2" />
<line x1="841.6" y1="728.7" x2="841.6" y2="706.7" stroke="#000" stroke-width="2.2" />
<line x1="841.6" y1="684.3" x2="841.6" y2="662.3" stroke="#000" stroke-width="2.2" />
<line x1="841.6" y1="639.9" x2="841.6" y2="617.9" stroke="#000" stroke-width="2.2" />
<line x1="841.6" y1="595.5" x2="841.6" y2="575.4" stroke="#000" stroke-width="2.2" />
<polyline points="151.2,689.33 151.5,689.77 151.8,689.7 152.1,690.91 152.4,692.65 152.7,687.52 153,691.57 153.3,691.59 153.6,691.15 153.9,690.09 154.2,689.74 154.5,689.67 154.8,685.38 155.1,690.55 155.4,689.49 155.7,689.3 156,690.96 156.3,688.48 156.6,690.41 156.9,691.1 157.2,689.48 157.5,689.33 157.8,689.74 158.1,688.38 158.4,690.47 158.7,688.47 159,690.13 159.3,691.78 159.6,691.75 159.9,689.91 160.2,690.34 160.5,692.94 160.8,690.81 161.1,690.42 161.4,690.71 161.7,692.39 162,690.83 162.3,690.94 162.6,691.32 162.9,690.33 163.2,689.86 163.5,689.78 163.8,691.51 164.1,691.21 164.4,690.06 164.7,691.95 165,690.84 165.3,689.09 165.6,691.33 165.9,690.47 166.2,689.1 166.5,691.22 166.8,690.24 167.1,691.32 167.4,691.31 167.7,688.11 168,689.17 168.3,690.15 168.6,690.92 168.9,689.87 169.2,689.49 169.5,687.47 169.8,691.77 170.1,691.41 170.4,688.97 170.7,688.25 171,690.3 171.3,690.2 171.6,689.6 171.9,691.35 172.2,691.57 172.5,689.99 172.8,690.25 173.1,691.3 173.4,690.15 173.7,690.24 174,690.57 174.3,689.61 174.6,691.02 174.9,690.07 175.2,690.43 175.5,691.25 175.8,690.51 176.1,689.92 176.4,689.49 176.7,692.63 177,685.78 177.3,688.92 177.6,689.44 177.9,691.33 178.2,689.98 178.5,690.67 178.8,691.59 179.1,690.8 179.4,690.51 179.7,685.32 180,690.56 180.3,691.1 180.6,692.65 180.9,691.88 181.2,690.43 181.5,691.72 181.8,690.8 182.1,688.96 182.4,692.26 182.7,691.81 183,687.62 183.3,691.74 183.6,690.31 183.9,690.7 184.2,689.3 184.5,693.05 184.8,691.19 185.1,691.83 185.4,690.15 185.7,690.47 186,692.06 186.3,689.85 186.6,692.57 186.9,690.48 187.2,690.13 187.5,689.84 187.8,689.54 188.1,691.48 188.4,690.6 188.7,690.67 189,691.88 189.3,692.7 189.6,689.19 189.9,689.33 190.2,688.74 190.5,688.6 190.8,689.2 191.1,689.56 191.4,690.15 191.7,689.29 192,690.51 192.3,691.52 192.6,690.39 192.9,691.12 193.2,689.58 193.5,690.96 193.8,693.17 194.1,689.86 194.4,688.83 194.7,690.36 195,690.55 195.3,695.14 195.6,690.07 195.9,692.4 196.2,687.77 196.5,690.15 196.8,689.94 197.1,690.06 197.4,689.88 197.7,690.43 198,686.74 198.3,693.06 198.6,691.83 198.9,690.37 199.2,690.6 199.5,687.77 199.8,690.57 200.1,691.16 200.4,689.18 200.7,689.78 201,689.5 201.3,692.88 201.6,689.36 201.9,690.47 202.2,687.39 202.5,688.68 202.8,690.7 203.1,689.02 203.4,687.33 203.7,695.55 204,690.59 204.3,690.76 204.6,690.88 204.9,689.77 205.2,693.64 205.5,689.83 205.8,690.96 206.1,689.02 206.4,689.76 206.7,687.3 207,690.71 207.3,690.01 207.6,689.33 207.9,688.19 208.2,691.1 208.5,691.4 208.8,691.42 209.1,690.38 209.4,691.27 209.7,691.52 210,691.07 210.3,692.12 210.6,690.32 210.9,690.74 211.2,688.79 211.5,693.43 211.8,689.67 212.1,690.9 212.4,691.25 212.7,689.62 213,690.5 213.3,691.34 213.6,689.59 213.9,690.22 214.2,690.21 214.5,689.77 214.8,690.38 215.1,691 215.4,691.1 215.7,691.83 216,690.65 216.3,687.51 216.6,691.56 216.9,691 217.2,691.75 217.5,690.82 217.8,691.22 218.1,691.06 218.4,691.45 218.7,688.55 219,690.51 219.3,690.83 219.6,692.58 219.9,690.55 220.2,691.15 220.5,690.43 220.8,691 221.1,692.05 221.4,691.41 221.7,692.05 222,691.86 222.3,690.96 222.6,690.84 222.9,688.86 223.2,691.17 223.5,689.95 223.8,691.2 224.1,688.75 224.4,689.64 224.7,689.84 225,688.91 225.3,690.71 225.6,690.82 225.9,687.25 226.2,691.36 226.5,692.32 226.8,691.28 227.1,690.23 227.4,688.47 227.7,691.05 228,690.28 228.3,690.13 228.6,691.48 228.9,690.52 229.2,688.87 229.5,690.94 229.8,690.29 230.1,691.27 230.4,690.64 230.7,691.72 231,689.91 231.3,690.21 231.6,690.05 231.9,690.46 232.2,690.39 232.5,692.02 232.8,689.55 233.1,690.77 233.4,690.75 233.7,689.03 234,689.99 234.3,692.73 234.6,690.87 234.9,689.84 235.2,687.47 235.5,691.25 235.8,692.45 236.1,690.07 236.4,688.45 236.7,690.23 237,690.67 237.3,691.98 237.6,690.64 237.9,689.68 238.2,693.49 238.5,691.93 238.8,690.48 239.1,691.03 239.4,691.12 239.7,693.66 240,690.03 240.3,690.25 240.6,690.61 240.9,691.54 241.2,690.39 241.5,691.31 241.8,691.76 242.1,692.99 242.4,690.56 242.7,690.39 243,690.36 243.3,688.63 243.6,689.4 243.9,690.92 244.2,690.92 244.5,693.7 244.8,692.16 245.1,691.63 245.4,690.01 245.7,690.01 246,690.11 246.3,685.38 246.6,690.57 246.9,693.21 247.2,690.46 247.5,690.02 247.8,690.81 248.1,691.72 248.4,691.31 248.7,691.74 249,689.39 249.3,689.78 249.6,690.51 249.9,690.88 250.2,692.33 250.5,689.33 250.8,691.5 251.1,690.51 251.4,691.47 251.7,694.56 252,689.17 252.3,692.11 252.6,689.23 252.9,688.54 253.2,688.22 253.5,689.6 253.8,692.8 254.1,690.73 254.4,689.21 254.7,692.01 255,690.14 255.3,692.6 255.6,691.29 255.9,691.32 256.2,691.04 256.5,692.98 256.8,689.56 257.1,689.1 257.4,687.85 257.7,692.04 258,691.92 258.3,690.82 258.6,691.02 258.9,688.83 259.2,692.41 259.5,690.46 259.8,690.85 260.1,690.36 260.4,691.45 260.7,690.46 261,690.84 261.3,690.8 261.6,690.12 261.9,689.99 262.2,693.92 262.5,691.55 262.8,691.53 263.1,692.35 263.4,689.27 263.7,688.57 264,695.21 264.3,692.14 264.6,690.63 264.9,688.59 265.2,692.5 265.5,691.25 265.8,690.36 266.1,689.71 266.4,690.78 266.7,692.86 267,690.51 267.3,691.25 267.6,690.66 267.9,692.25 268.2,690.43 268.5,692.36 268.8,689.98 269.1,689.3 269.4,688.24 269.7,689.64 270,690.74 270.3,690.94 270.6,686.69 270.9,690.58 271.2,689.51 271.5,691.43 271.8,690.03 272.1,690.96 272.4,692.68 272.7,690.74 273,690.41 273.3,691.73 273.6,690.94 273.9,690.37 274.2,688.76 274.5,690.19 274.8,688.68 275.1,690.82 275.4,689.6 275.7,692.51 276,692.69 276.3,689.27 276.6,691.04 276.9,690.61 277.2,689.22 277.5,691.14 277.8,691.51 278.1,691.84 278.4,690.36 278.7,691.28 279,689.8 279.3,692.25 279.6,692.6 279.9,690.73 280.2,690.81 280.5,689.33 280.8,690.58 281.1,690.13 281.4,690.81 281.7,688.93 282,692.57 282.3,690.76 282.6,691.78 282.9,689.13 283.2,690.21 283.5,692.74 283.8,691.81 284.1,688.83 284.4,690.51 284.7,690.26 285,689.61 285.3,693 285.6,689.13 285.9,692.26 286.2,688.55 286.5,692.08 286.8,691.71 287.1,687.94 287.4,690.82 287.7,691.06 288,689.47 288.3,692.84 288.6,688.58 288.9,691.8 289.2,691.18 289.5,692.55 289.8,690.05 290.1,691.51 290.4,689.83 290.7,691.44 291,690.78 291.3,691.41 291.6,688.74 291.9,691.05 292.2,690.91 292.5,692.21 292.8,690.1 293.1,690.28 293.4,691.22 293.7,691.08 294,687.37 294.3,690.15 294.6,691.45 294.9,690.06 295.2,688.34 295.5,690.06 295.8,693.04 296.1,689.34 296.4,690.54 296.7,689.18 297,690.21 297.3,690.52 297.6,692.46 297.9,690.82 298.2,691.87 298.5,690.66 298.8,689.11 299.1,689.09 299.4,691.31 299.7,688.57 300,688.58 300.3,691.42 300.6,689.44 300.9,689.04 301.2,692.23 301.5,689.33 301.8,691.01 302.1,686.76 302.4,690.44 302.7,690.32 303,691.41 303.3,691.94 303.6,689.16 303.9,691.96 304.2,689.95 304.5,689.99 304.8,690.96 305.1,689.54 305.4,689.09 305.7,691.86 306,689.46 306.3,687.68 306.6,686.33 306.9,690.44 307.2,689.89 307.5,692.03 307.8,688.7 308.1,688.64 308.4,690.05 308.7,691.52 309,691.6 309.3,690.01 309.6,690.29 309.9,690.1 310.2,691.67 310.5,689.83 310.8,689.01 311.1,688.31 311.4,690.12 311.7,690 312,692.24 312.3,690.61 312.6,689.97 312.9,689.43 313.2,689.51 313.5,690.38 313.8,690.62 314.1,689.06 314.4,689.17 314.7,689.44 315,688.67 315.3,690.98 315.6,688.69 315.9,689.87 316.2,690.09 316.5,688.55 316.8,688.69 317.1,689.49 317.4,690.21 317.7,689.83 318,689.67 318.3,691.02 318.6,688.93 318.9,686.83 319.2,690.3 319.5,689.68 319.8,690.61 320.1,693.06 320.4,688.23 320.7,687.07 321,690.07 321.3,695.71 321.6,689.7 321.9,688.32 322.2,690.24 322.5,689.04 322.8,689.9 323.1,690.29 323.4,689.35 323.7,689.09 324,688.38 324.3,692.22 324.6,687.56 324.9,689.9 325.2,684.71 325.5,688.1 325.8,690.62 326.1,688.15 326.4,690.17 326.7,688.5 327,689.91 327.3,687.26 327.6,687.55 327.9,690.49 328.2,689.19 328.5,687.62 328.8,688.25 329.1,685.61 329.4,688.42 329.7,687.26 330,687.66 330.3,690.49 330.6,688.13 330.9,688.04 331.2,687.48 331.5,689.51 331.8,689.37 332.1,687.35 332.4,686.83 332.7,688.48 333,688.86 333.3,686.44 333.6,690.02 333.9,687.66 334.2,685.18 334.5,687.8 334.8,687.81 335.1,689.74 335.4,687.92 335.7,686.94 336,688.18 336.3,689.61 336.6,688.47 336.9,689.89 337.2,687.59 337.5,689.74 337.8,688.9 338.1,686.88 338.4,690.21 338.7,687.71 339,688.27 339.3,689.21 339.6,687.85 339.9,689.21 340.2,690.13 340.5,690.01 340.8,687.81 341.1,688.34 341.4,689.34 341.7,689.28 342,687.74 342.3,688.84 342.6,689.04 342.9,690.34 343.2,688.85 343.5,688.49 343.8,687.34 344.1,687 344.4,689.63 344.7,688.64 345,688.05 345.3,689.71 345.6,688.22 345.9,688.54 346.2,689.52 346.5,688.26 346.8,692.97 347.1,688.06 347.4,688.35 347.7,688.94 348,688.07 348.3,689.97 348.6,688.82 348.9,687.84 349.2,689.87 349.5,692.61 349.8,689.13 350.1,689.39 350.4,688.76 350.7,688.04 351,690.23 351.3,687.99 351.6,687.55 351.9,687.82 352.2,690.36 352.5,688.18 352.8,689.12 353.1,688.64 353.4,688.33 353.7,689.34 354,689.42 354.3,691.83 354.6,689.24 354.9,689.96 355.2,692.01 355.5,691.36 355.8,690.49 356.1,690.99 356.4,689.82 356.7,690.85 357,692.76 357.3,689.03 357.6,691.98 357.9,690.04 358.2,691.27 358.5,689.53 358.8,688.76 359.1,688.16 359.4,686.44 359.7,690.93 360,685.71 360.3,685.76 360.6,690.37 360.9,688.72 361.2,689.88 361.5,690.96 361.8,690.3 362.1,691.28 362.4,687.65 362.7,692.73 363,691.77 363.3,689.3 363.6,691.77 363.9,690.49 364.2,691.11 364.5,692.68 364.8,689.23 365.1,694.29 365.4,690.63 365.7,694.96 366,695.21 366.3,691.32 366.6,695.65 366.9,697.2 367.2,694.38 367.5,696.48 367.8,695.53 368.1,696.94 368.4,695.76 368.7,697.58 369,694.54 369.3,694.05 369.6,697.69 369.9,695.87 370.2,696.73 370.5,696.12 370.8,695.03 371.1,692.98 371.4,694.45 371.7,697.19 372,692.62 372.3,693.92 372.6,698.82 372.9,696.04 373.2,693.49 373.5,694.39 373.8,693.86 374.1,695.6 374.4,697.6 374.7,695.23 375,696.29 375.3,694.63 375.6,695.03 375.9,695.15 376.2,695.04 376.5,695.33 376.8,695.16 377.1,693.18 377.4,695.82 377.7,693.7 378,695.92 378.3,695.69 378.6,695.73 378.9,690.45 379.2,695.22 379.5,695.7 379.8,694.24 380.1,700.37 380.4,696.79 380.7,694.54 381,694.23 381.3,693.64 381.6,693.36 381.9,693.26 382.2,693.51 382.5,693.49 382.8,693.72 383.1,696.93 383.4,694.56 383.7,694.23 384,694.76 384.3,693.78 384.6,696.15 384.9,696.07 385.2,693.77 385.5,695.77 385.8,695.49 386.1,697.66 386.4,696.05 386.7,689.03 387,694.12 387.3,695.5 387.6,695.22 387.9,695.98 388.2,694.38 388.5,694.82 388.8,696.2 389.1,695.18 389.4,694.45 389.7,696.59 390,694.37 390.3,694.64 390.6,693.45 390.9,694.74 391.2,692.43 391.5,696.17 391.8,691.84 392.1,695.37 392.4,693.38 392.7,694.75 393,696.06 393.3,694.32 393.6,694.87 393.9,693.54 394.2,693.91 394.5,695.65 394.8,693.39 395.1,695.23 395.4,694.43 395.7,693.73 396,695.28 396.3,693.08 396.6,691.01 396.9,692.62 397.2,693.83 397.5,692.63 397.8,694.3 398.1,695.11 398.4,695.22 398.7,694.55 399,694.31 399.3,693.5 399.6,693.57 399.9,692.9 400.2,696.35 400.5,692.23 400.8,693.81 401.1,694.13 401.4,693.02 401.7,695.84 402,693.44 402.3,692.82 402.6,695.99 402.9,695.32 403.2,694.71 403.5,693.4 403.8,695.6 404.1,693.95 404.4,694.24 404.7,695.25 405,694.12 405.3,692.7 405.6,691.43 405.9,695.21 406.2,691.3 406.5,692.99 406.8,692.8 407.1,693.19 407.4,693.32 407.7,694.31 408,693.38 408.3,690.53 408.6,694.95 408.9,692.33 409.2,693.21 409.5,692.21 409.8,693.52 410.1,693.34 410.4,694.57 410.7,694.17 411,694.76 411.3,691.98 411.6,695.24 411.9,693.07 412.2,694.16 412.5,694.43 412.8,694.54 413.1,696.89 413.4,692.07 413.7,694.62 414,695.15 414.3,695.06 414.6,695.03 414.9,695.58 415.2,694.79 415.5,695.52 415.8,694.58 416.1,692.47 416.4,693.66 416.7,693.85 417,698.75 417.3,693.36 417.6,693.45 417.9,693.09 418.2,694.25 418.5,691.72 418.8,691.11 419.1,695.59 419.4,695.07 419.7,694.42 420,695.25 420.3,692.97 420.6,691.93 420.9,694.13 421.2,692.36 421.5,694.71 421.8,693.92 422.1,692.03 422.4,693.92 422.7,691.62 423,692.8 423.3,694.7 423.6,692.81 423.9,693.28 424.2,692.87 424.5,693.01 424.8,694.71 425.1,689.64 425.4,694.2 425.7,691.88 426,691.68 426.3,692.78 426.6,695.3 426.9,692.5 427.2,694.77 427.5,696.72 427.8,693.83 428.1,693.04 428.4,694.58 428.7,691.82 429,693.07 429.3,693.19 429.6,693.25 429.9,693.64 430.2,695.23 430.5,693.93 430.8,694.32 431.1,692.58 431.4,696.09 431.7,693.24 432,694.19 432.3,693.76 432.6,693.61 432.9,692.26 433.2,693.37 433.5,693.79 433.8,695.25 434.1,693.86 434.4,693.18 434.7,693.9 435,693.86 435.3,694.35 435.6,693.96 435.9,695.51 436.2,693.67 436.5,692.2 436.8,693.05 437.1,693.32 437.4,692.83 437.7,693.82 438,694.71 438.3,691.41 438.6,691.05 438.9,693.09 439.2,694.35 439.5,691.58 439.8,694.74 440.1,695.33 440.4,697.13 440.7,693.88 441,692.13 441.3,693.02 441.6,692.87 441.9,693.72 442.2,694.61 442.5,694.24 442.8,692.59 443.1,694.68 443.4,694.92 443.7,692.5 444,692.49 444.3,693.84 444.6,693.95 444.9,688.81 445.2,694.91 445.5,693.77 445.8,694.49 446.1,692.92 446.4,692.57 446.7,694.03 447,695.9 447.3,694.47 447.6,695.12 447.9,693.1 448.2,692.93 448.5,693.58 448.8,694.28 449.1,693.63 449.4,692.22 449.7,691.78 450,693.85 450.3,693.35 450.6,696.62 450.9,692.87 451.2,692.45 451.5,694.33 451.8,687.74 452.1,693.55 452.4,694.63 452.7,693.88 453,692.95 453.3,692.72 453.6,692.67 453.9,692.68 454.2,693.11 454.5,695 454.8,693.25 455.1,697 455.4,696.03 455.7,692.67 456,693.55 456.3,693.39 456.6,692.57 456.9,693.12 457.2,694.13 457.5,694.98 457.8,693.38 458.1,695.04 458.4,694.69 458.7,691.98 459,692.91 459.3,689.8 459.6,692.26 459.9,693.2 460.2,692.48 460.5,693.54 460.8,693.06 461.1,693.87 461.4,692.92 461.7,693.98 462,693.64 462.3,693.78 462.6,691.24 462.9,692.65 463.2,695.59 463.5,693.58 463.8,693.99 464.1,692.02 464.4,693.16 464.7,692.1 465,693.11 465.3,692.01 465.6,692.17 465.9,695.36 466.2,693.63 466.5,694.08 466.8,692.48 467.1,693.59 467.4,693.62 467.7,694.32 468,693.45 468.3,693.81 468.6,695 468.9,694.22 469.2,694.83 469.5,691.77 469.8,693.31 470.1,694.99 470.4,693.83 470.7,695.29 471,693.33 471.3,694.99 471.6,691.55 471.9,692.81 472.2,693.87 472.5,692.33 472.8,691.35 473.1,694.61 473.4,695.7 473.7,694.03 474,692.16 474.3,693.63 474.6,692.14 474.9,691.29 475.2,694.32 475.5,692.93 475.8,693.79 476.1,692.18 476.4,690.75 476.7,694.34 477,693.58 477.3,694.85 477.6,691.81 477.9,690.92 478.2,694.73 478.5,695.44 478.8,694.88 479.1,694.4 479.4,693.85 479.7,694.41 480,692.97 480.3,696.15 480.6,695.52 480.9,691.62 481.2,695.1 481.5,691.59 481.8,694.02 482.1,693.27 482.4,695.41 482.7,693.81 483,693.42 483.3,695.1 483.6,692.78 483.9,692.76 484.2,695.3 484.5,694.26 484.8,693.88 485.1,693.01 485.4,693.56 485.7,693.28 486,694.1 486.3,693.94 486.6,693.59 486.9,693.69 487.2,693.05 487.5,694.52 487.8,694.23 488.1,693.65 488.4,694.12 488.7,693.74 489,694.03 489.3,694.28 489.6,693.03 489.9,692.99 490.2,690.97 490.5,693.58 490.8,693.86 491.1,696.11 491.4,695.59 491.7,693.86 492,690.3 492.3,694.1 492.6,692.64 492.9,695.46 493.2,692.89 493.5,693.47 493.8,693.51 494.1,693.84 494.4,689.8 494.7,694.26 495,693.03 495.3,693.97 495.6,694.56 495.9,691.23 496.2,694.08 496.5,692.42 496.8,692.61 497.1,692.69 497.4,692.22 497.7,693.53 498,690.7 498.3,693.01 498.6,693.94 498.9,694.23 499.2,695.06 499.5,695.12 499.8,695.03 500.1,693.65 500.4,692.94 500.7,691.15 501,693.16 501.3,693.9 501.6,692.96 501.9,692.71 502.2,694.31 502.5,695.93 502.8,693.47 503.1,695.31 503.4,694.43 503.7,690.59 504,693.9 504.3,695.44 504.6,695.15 504.9,695.27 505.2,694.29 505.5,693.37 505.8,694.3 506.1,694.13 506.4,695.13 506.7,695.04 507,694.6 507.3,692.25 507.6,694.42 507.9,694.88 508.2,693.21 508.5,692.54 508.8,694.48 509.1,692.19 509.4,692.95 509.7,693.19 510,692.4 510.3,691.29 510.6,695.53 510.9,693.09 511.2,691.87 511.5,695.52 511.8,688.7 512.1,695.09 512.4,695.28 512.7,692.42 513,694.3 513.3,694.34 513.6,692.43 513.9,692.32 514.2,694.69 514.5,693.64 514.8,695.2 515.1,692.46 515.4,693.35 515.7,692.53 516,698.65 516.3,695.89 516.6,694.34 516.9,692.8 517.2,692.04 517.5,692.69 517.8,696.11 518.1,693.64 518.4,692.41 518.7,692.94 519,694.6 519.3,692.95 519.6,692.9 519.9,693.97 520.2,694.38 520.5,693.5 520.8,696.07 521.1,693.65 521.4,693.2 521.7,691.46 522,692.33 522.3,693.48 522.6,693.39 522.9,692.07 523.2,696.9 523.5,694.35 523.8,690.56 524.1,696.04 524.4,693.6 524.7,691.48 525,693.93 525.3,692.69 525.6,692.37 525.9,694.07 526.2,694.03 526.5,694.42 526.8,693.92 527.1,693.54 527.4,692.72 527.7,695.04 528,693.03 528.3,692.83 528.6,692.86 528.9,694.72 529.2,694.89 529.5,695.14 529.8,694.23 530.1,694.24 530.4,695.96 530.7,692.8 531,695.28 531.3,693.85 531.6,694 531.9,693.61 532.2,691.45 532.5,692.94 532.8,695.11 533.1,694.32 533.4,697.13 533.7,694.04 534,694.63 534.3,697.05 534.6,693.24 534.9,693.84 535.2,696.69 535.5,695.02 535.8,693.31 536.1,692.68 536.4,696.66 536.7,694.77 537,693.61 537.3,696.08 537.6,694.96 537.9,694.52 538.2,695.24 538.5,696.93 538.8,694.28 539.1,696.31 539.4,695.59 539.7,696.64 540,697.54 540.3,695.01 540.6,695.62 540.9,694.72 541.2,693.58 541.5,695.65 541.8,693.77 542.1,697.4 542.4,691.95 542.7,694.25 543,694.16 543.3,693.78 543.6,697.05 543.9,693.2 544.2,693.23 544.5,693.38 544.8,693.41 545.1,696.43 545.4,693.97 545.7,694.64 546,694.1 546.3,694.06 546.6,696.81 546.9,696.51 547.2,694.79 547.5,693.2 547.8,697.01 548.1,693.72 548.4,692.68 548.7,692.74 549,693.82 549.3,695.68 549.6,690 549.9,694.07 550.2,693.43 550.5,694.15 550.8,692.26 551.1,694.63 551.4,692.66 551.7,694.7 552,696.21 552.3,693.45 552.6,693.53 552.9,693.4 553.2,690.73 553.5,693.48 553.8,690.86 554.1,689.45 554.4,692.63 554.7,693.51 555,691.47 555.3,686.89 555.6,694.22 555.9,690.3 556.2,693.72 556.5,691.89 556.8,690.74 557.1,692.52 557.4,688.85 557.7,691.04 558,689.35 558.3,691.77 558.6,693.59 558.9,693.2 559.2,692.4 559.5,691.41 559.8,699.84 560.1,692.05 560.4,692.99 560.7,691.34 561,693.32 561.3,691.47 561.6,690.48 561.9,696.55 562.2,691.59 562.5,693.36 562.8,689.85 563.1,691.37 563.4,689.67 563.7,692.5 564,692.42 564.3,692.09 564.6,689.38 564.9,689.79 565.2,691.05 565.5,691.64 565.8,692.06 566.1,690.49 566.4,689.08 566.7,690.58 567,690.39 567.3,690.57 567.6,689.57 567.9,692.2 568.2,692.76 568.5,691.69 568.8,690.31 569.1,692.79 569.4,689.6 569.7,692.31 570,694.48 570.3,692.36 570.6,688.49 570.9,691.18 571.2,690.05 571.5,691.7 571.8,690.9 572.1,687.89 572.4,691.47 572.7,692.95 573,691.2 573.3,691.55 573.6,690.23 573.9,691.21 574.2,689.83 574.5,692.65 574.8,693.51 575.1,689.54 575.4,688.8 575.7,689.94 576,692.55 576.3,691.84 576.6,691.52 576.9,690.15 577.2,691.81 577.5,691.38 577.8,690.8 578.1,693.39 578.4,688.41 578.7,691.39 579,688.93 579.3,689.48 579.6,690.24 579.9,691.12 580.2,691.29 580.5,690.5 580.8,690.43 581.1,691.02 581.4,689.01 581.7,690.11 582,689.18 582.3,687.79 582.6,688.5 582.9,691.4 583.2,690.53 583.5,687.78 583.8,689.94 584.1,688.45 584.4,689.24 584.7,682.17 585,690.18 585.3,690.06 585.6,689.58 585.9,690.01 586.2,689.62 586.5,690.19 586.8,690.65 587.1,689.63 587.4,692.26 587.7,685.89 588,689.04 588.3,689.44 588.6,691.4 588.9,690.98 589.2,690.17 589.5,688.66 589.8,690.25 590.1,689.62 590.4,689.28 590.7,691.23 591,691.61 591.3,690.06 591.6,688.82 591.9,689.93 592.2,693.7 592.5,687.63 592.8,687.15 593.1,689.11 593.4,691.48 593.7,688.37 594,688.64 594.3,688.86 594.6,687.87 594.9,689.69 595.2,691.24 595.5,688.89 595.8,686.98 596.1,689.07 596.4,689.4 596.7,689.92 597,690.49 597.3,690.15 597.6,690.49 597.9,689.05 598.2,689.58 598.5,688.21 598.8,688.47 599.1,690.07 599.4,688.76 599.7,687.16 600,686.52 600.3,689.9 600.6,688.5 600.9,688.26 601.2,687.91 601.5,688.18 601.8,688.79 602.1,688.55 602.4,688.5 602.7,688.64 603,690 603.3,689.08 603.6,690.5 603.9,680.54 604.2,687.89 604.5,689.84 604.8,687.85 605.1,688.53 605.4,688.3 605.7,688.88 606,689.14 606.3,691.23 606.6,689.98 606.9,688.93 607.2,689.37 607.5,689.36 607.8,688.66 608.1,687.9 608.4,689.23 608.7,689.5 609,687.77 609.3,688.48 609.6,689.15 609.9,689.1 610.2,690.76 610.5,688.28 610.8,687.68 611.1,689.17 611.4,687.27 611.7,688.25 612,686.12 612.3,689.06 612.6,691.42 612.9,687.95 613.2,688.02 613.5,689.19 613.8,689.69 614.1,686.38 614.4,688.1 614.7,688.84 615,683.87 615.3,688.74 615.6,688.18 615.9,688.08 616.2,686.99 616.5,690.55 616.8,688.44 617.1,689.87 617.4,688.35 617.7,688.59 618,688.27 618.3,689.2 618.6,688.53 618.9,686.53 619.2,691.82 619.5,688.76 619.8,689.18 620.1,686.61 620.4,687.51 620.7,688.22 621,687.36 621.3,689.29 621.6,686.65 621.9,688.71 622.2,688.88 622.5,687.28 622.8,687.22 623.1,687.52 623.4,686.74 623.7,688.13 624,688.09 624.3,688.94 624.6,690.05 624.9,687.84 625.2,687.14 625.5,688.45 625.8,688.49 626.1,690.22 626.4,689.8 626.7,688.92 627,687.84 627.3,690.43 627.6,688.07 627.9,689.45 628.2,689.54 628.5,690.07 628.8,688.34 629.1,691.34 629.4,690.29 629.7,688.69 630,688.79 630.3,686.68 630.6,689.43 630.9,689.77 631.2,688.95 631.5,689.04 631.8,687.68 632.1,692.24 632.4,688.29 632.7,689.12 633,689.67 633.3,685.84 633.6,689.54 633.9,690.17 634.2,693.44 634.5,690.46 634.8,691.9 635.1,687.63 635.4,688.11 635.7,687.65 636,685.19 636.3,688.44 636.6,688.49 636.9,689.14 637.2,689.42 637.5,687.96 637.8,689.24 638.1,689.04 638.4,688.84 638.7,690.64 639,686.85 639.3,690.03 639.6,688.39 639.9,688.51 640.2,688.61 640.5,688.43 640.8,688.82 641.1,690.45 641.4,690.55 641.7,688.51 642,687.97 642.3,689.66 642.6,688.47 642.9,691.09 643.2,691.35 643.5,688.82 643.8,692.05 644.1,691.42 644.4,690.39 644.7,693.29 645,694.98 645.3,692.25 645.6,692.91 645.9,691.5 646.2,693.55 646.5,692.67 646.8,694.18 647.1,693.36 647.4,695.28 647.7,693.31 648,691.28 648.3,694.86 648.6,696.81 648.9,691.83 649.2,695.41 649.5,694.02 649.8,693.71 650.1,695.99 650.4,696.61 650.7,696.35 651,695.05 651.3,694.23 651.6,698.72 651.9,698.77 652.2,696.08 652.5,696.46 652.8,694.59 653.1,696.74 653.4,695.49 653.7,695.76 654,694.37 654.3,695 654.6,694.04 654.9,692.99 655.2,693.56 655.5,693.63 655.8,693.37 656.1,692.66 656.4,693.51 656.7,688.93 657,692.71 657.3,690.5 657.6,690.54 657.9,690.52 658.2,692.09 658.5,690.35 658.8,689.59 659.1,691.37 659.4,689.8 659.7,690.44 660,690.64 660.3,690.74 660.6,691.89 660.9,690.38 661.2,688.86 661.5,691.47 661.8,689.47 662.1,688.97 662.4,689.84 662.7,691.24 663,688.56 663.3,689.25 663.6,691.45 663.9,692.34 664.2,689.4 664.5,691.18 664.8,690.36 665.1,690.01 665.4,688.75 665.7,690.13 666,689.25 666.3,689.57 666.6,689.97 666.9,690.2 667.2,688.64 667.5,689.08 667.8,690.56 668.1,691.7 668.4,686.59 668.7,690.56 669,690.53 669.3,688.93 669.6,690.44 669.9,688.57 670.2,686.6 670.5,687.9 670.8,686.59 671.1,688.32 671.4,690.33 671.7,688.38 672,689.94 672.3,686.09 672.6,690.83 672.9,688.68 673.2,688.93 673.5,688.87 673.8,687.71 674.1,689.49 674.4,687.82 674.7,687.81 675,688.38 675.3,688.32 675.6,691.93 675.9,688.15 676.2,688.92 676.5,685.87 676.8,689.45 677.1,688.34 677.4,691.91 677.7,687.1 678,688.38 678.3,688.48 678.6,685.32 678.9,688.11 679.2,691.71 679.5,688.28 679.8,689.18 680.1,687.93 680.4,689.86 680.7,687.02 681,686.61 681.3,688.77 681.6,686.17 681.9,687.7 682.2,685.08 682.5,688.25 682.8,680.43 683.1,687.39 683.4,687.36 683.7,687.47 684,686.5 684.3,686.23 684.6,687.88 684.9,689.64 685.2,684.81 685.5,685.74 685.8,686.01 686.1,685.63 686.4,687.58 686.7,686.24 687,685.82 687.3,686.58 687.6,687.72 687.9,683.44 688.2,686.54 688.5,685.56 688.8,685.26 689.1,685.55 689.4,683.08 689.7,685.38 690,685.83 690.3,684.98 690.6,683.97 690.9,686.93 691.2,686.62 691.5,687.8 691.8,685.84 692.1,686.76 692.4,687.52 692.7,686.44 693,684.99 693.3,686.57 693.6,689.02 693.9,685.54 694.2,685.83 694.5,684.97 694.8,686.68 695,686.62 695.5,686.72 696,686.1 696.5,684.67 697,684.22 697.5,683.55 698,683.54 698.5,682.67 699,682.51 699.5,680.66 700,681.81 700.5,680.42 701,680.25 701.5,679.28 702,678.6 702.5,678.47 703,678.09 703.5,677.02 704,676.49 704.5,676.35 705,675.01 705.5,673.9 706,673.15 706.5,670.91 707,668.58 707.5,667.42 708,665.89 708.5,663.82 709,661.96 709.5,661.02 710,663.26 710.5,664.5 711,666.06 711.5,668.43 712,670.41 712.5,672.06 713,676.02 713.5,679.8 714,682.71 714.5,685.95 715,690.06 715.5,693.55 716,697.51 716.5,699.86 717,707.67 717.5,715.08 718,722.13 718.5,718.73 719,706.71 719.5,693.85 720,682.69 720.5,682.27 721,682.03 721.5,681.78 722,681.92 722.5,680.64 723,681.47 723.5,681.32 724,680 724.5,680.92 725,680.48 725.5,680.86 726,680.11 726.5,680.18 727,680.22 727.5,679.47 728,680.07 728.5,679.58 729,681.61 729.5,683.31 730,686.32 730.5,688.29 731,690.1 731.5,692.72 732,691.42 732.5,690.08 733,686.79 733.5,686.42 734,684.6 734.5,682.71 735,680.65 735.5,680.18 736,677.31 736.5,678.11 737,679.35 737.5,678.78 738,680.3 738.5,680.67 739,682.32 739.5,683.83 740,684.96 740.5,680.65 741,676.65 741.5,672.68 742,668.51 742.5,663.33 743,666.87 743.5,673.7 744,679.84 744.5,686.05 745,690.11 745.5,687.07 746,683.43 746.5,679.62 747,675.95 747.5,671.82 748,672.3 748.5,678.75 749,683.65 749.5,688.63 750,695.62 750.5,700.82 751,701.58 751.5,696.78 752,692.73 752.5,688.46 753,686.06 753.5,682.9 754,677.42 754.5,673.73 755,670.57 755.5,669.18 756,673.46 756.5,677.43 757,681.7 757.5,686.15 758,689.61 758.5,688.32 759,682.09 759.5,676.9 760,670.11 760.5,664.89 761,667.11 761.5,669.18 762,672.52 762.5,675.27 763,678.42 763.5,680.93 764,683.79 764.5,685.99 765,683.33 765.5,679.67 766,676.14 766.5,672.17 767,668.81 767.5,665.39 768,661.91 768.5,657.97 769,653.53 769.5,654.85 770,661.45 770.5,668.34 771,674.54 771.5,680.39 772,682.44 772.5,684.81 773,685.18 773.5,686.72 774,687.86 774.5,687.39 775,688.99 775.5,690.03 776,691.08 776.5,692.95 777,695.25 777.5,697.7 778,699.33 778.5,702.47 779,704.65 779.5,707.55 780,709.72 780.5,712.73 781,715.08 781.5,716.2 782,717.57 782.5,718.82 783,719.92 783.5,721.43 784,722.63 784.5,721.51 785,715.37 785.5,709.69 786,702.78 786.5,697.93 787,691.15 787.5,685.21 788,684.72 788.5,691.58 789,699.05 789.5,705.66 790,712.46 790.5,708.54 791,702.83 791.5,695.4 792,688 792.5,681.8 793,674.22 793.5,682.46 794,687.37 794.5,694.94 795,701.54 795.5,707.11 796,714.55 796.5,708.07 797,700.98 797.5,694.05 798,687.57 798.5,686.82 799,696.26 799.5,705.37 800,715.1 800.5,723.66 801,725.18 801.5,723.01 802,721.19 802.5,720.4 803,719.54 803.5,717.65 804,715.39 804.5,714.48 805,712.38 805.5,713.14 806,715.24 806.5,716.04 807,719.3 807.5,720.69 808,722.85 808.5,724.46 809,726.15 809.5,727.96 810,730.37 810.5,732.31 811,732.99 811.5,730.76 812,727.3 812.5,723.7 813,721.94 813.5,720.28 814,719.48 814.5,719.49 815,719.26 815.5,718.19 816,717.52 816.5,717.79 817,717.44 817.5,717 818,717.32 818.5,717.33 819,715.89 819.5,716.09 820,717.1 820.5,718.71 821,720.6 821.5,721.61 822,723.9 822.5,726.26 823,727.38 823.5,728.39 824,730.73 824.5,732.43 825,731.98 825.5,731.52 826,732.57 826.5,731.18 827,732.05 827.5,731.79 828,731.2 828.5,732.41 829,731.97 829.5,731.22 830,731.38 830.5,729.95 831,728.31 831.5,728.01 832,727.58 832.5,726.86 833,725.72 833.5,724.75 834,724.06 834.5,722.81 835,722.6 835.5,721.18 836,720.35 836.5,721.92 837,722.57 837.5,724.2 838,726.76 838.5,727.62 839,728.76 839.5,730.52 840,731.56 840.5,731.54 841,730.67 841.5,730.75 842,729.42 842.5,730.48 843,729.16 843.5,728.23 844,728.52 844.5,728.05 845,727.91 845.5,726.87 846,727.59 846.5,729.7 847,727.74 847.5,729.03 848,729.2 848.5,729.94 849,729.43 849.5,730.25 850,731.54 850.5,731.78 851,732.23 851.5,730.67 852,730.72 852.5,731.7 853,729.47 853.5,729.01 854,729.06 854.5,728.67 855,728.72 855,728.29 856.4,730.57 857.8,734.17 859.2,731.49 860.6,733.36 862,729.43 863.4,730.61 864.8,732.47 866.2,732 867.6,733.97 869,732.75 870.4,733.86 871.8,724.68 873.2,734.18 874.6,733.02 876,737.46 877.4,736.55 878.8,737.06 880.2,735.89 881.6,736.76 883,736.69 884.4,735.04 885.8,734.67 887.2,735.11 888.6,734.23 890,734.11 891.4,735.08 892.8,734.92 894.2,737.66 895.6,734.62 897,738.76 898.4,737.09 899.8,737.71 901.2,736.74 902.6,738.75 904,738.79 905.4,739.64 906.8,738.75 908.2,739.89 909.6,740.11 911,740.98 912.4,740.03 913.8,738.77 915.2,741.73 916.6,743.33 918,743.88 919.4,742.89 920.8,739.73 922.2,743.24 923.6,744.64 925,746.75 926.4,744.55 927.8,745.4 929.2,743.16 930.6,745.99 932,746.89 933.4,746.4 934.8,746.85 936.2,747.07 937.6,749.13 939,746.35 940.4,746.33 941.8,747.33 943.2,745.16 944.6,744.29 946,745.4 947.4,747.38 948.8,747.63 950.2,744.76 951.6,744.69 953,741.29 954.4,748.13 955.8,748.78 957.2,750.31 958.6,751.6 960,750.55 961.4,751.37 962.8,749.06 964.2,749.19 965.6,751.56 967,752.46 968.4,752.8 969.8,752.85 971.2,753.74 972.6,754.44 974,751.25 975.4,753.44 976.8,755.88 978.2,756.75 979.6,754.24 981,758.59 982.4,758.02 983.8,756.85 985.2,757.79 986.6,758.68 988,755.59 989.4,759.41 990.8,758.43 992.2,757.7 993.6,758.99 995,756.67 996.4,762.37 997.8,761.31 999.2,760.52 1000.6,761.47 1002,761.9 1003.4,762.35 1004.8,763.96 1006.2,762.54 1007.6,762.35 1009,763.7 1010.4,766.18 1011.8,762.79 1013.2,764.31 1014.6,761.42 1016,766.04 1017.4,765.25 1018.8,766.5" fill="none" stroke="#ff0000" stroke-width="2.0" stroke-linejoin="round" stroke-linecap="round" />
<polyline points="151.2,701.34 151.5,702.9 151.8,703.1 152.1,702.02 152.4,702.11 152.7,701.21 153,701.04 153.3,699.63 153.6,700.7 153.9,698.5 154.2,701.64 154.5,701.83 154.8,701.06 155.1,700.61 155.4,700.5 155.7,700.86 156,702.3 156.3,701.72 156.6,701.24 156.9,700.71 157.2,700.27 157.5,702.93 157.8,700.48 158.1,701.74 158.4,703.84 158.7,699.15 159,700.29 159.3,700.98 159.6,701.82 159.9,699.99 160.2,701.46 160.5,702.25 160.8,701.87 161.1,699.31 161.4,702.35 161.7,703.3 162,702.14 162.3,700.78 162.6,701.09 162.9,699.05 163.2,702.18 163.5,708.17 163.8,702.35 164.1,698.72 164.4,701.27 164.7,701.6 165,701.22 165.3,702.73 165.6,699.96 165.9,700.98 166.2,702.3 166.5,702.69 166.8,701.87 167.1,702.76 167.4,702.22 167.7,700.64 168,704.03 168.3,701.19 168.6,700.07 168.9,702.14 169.2,703.51 169.5,702.66 169.8,702.7 170.1,701.89 170.4,699.23 170.7,702.64 171,701.86 171.3,699.06 171.6,701.05 171.9,700.82 172.2,702.76 172.5,701.82 172.8,702 173.1,701.94 173.4,700.37 173.7,699.74 174,701.76 174.3,701.41 174.6,701.69 174.9,701.53 175.2,701.2 175.5,702.26 175.8,701.89 176.1,701.08 176.4,699.8 176.7,699.11 177,700.26 177.3,701.55 177.6,702.61 177.9,701.28 178.2,702.38 178.5,703.6 178.8,704.08 179.1,701.99 179.4,703.19 179.7,701.93 180,700.46 180.3,699.43 180.6,702 180.9,702.59 181.2,704.17 181.5,701.03 181.8,702.19 182.1,701.58 182.4,699.33 182.7,702.07 183,701.38 183.3,700.42 183.6,703.39 183.9,701.08 184.2,702.17 184.5,701.43 184.8,700.98 185.1,701.53 185.4,702.49 185.7,701.01 186,700.05 186.3,703.5 186.6,703.87 186.9,700.74 187.2,701.61 187.5,700.14 187.8,702.35 188.1,702.56 188.4,699.77 188.7,702.57 189,702.51 189.3,701.43 189.6,701.8 189.9,701.37 190.2,701.25 190.5,699.84 190.8,703.33 191.1,703 191.4,701.83 191.7,701.47 192,702.16 192.3,702.27 192.6,700.68 192.9,702.06 193.2,701.43 193.5,704.06 193.8,703 194.1,702.88 194.4,700.8 194.7,701.4 195,695.36 195.3,700.56 195.6,700.72 195.9,702.25 196.2,700.28 196.5,700.24 196.8,701.99 197.1,700.98 197.4,706.35 197.7,700.74 198,703.26 198.3,700.92 198.6,699.39 198.9,702.05 199.2,702.4 199.5,702.66 199.8,701.51 200.1,702.37 200.4,701.55 200.7,701.61 201,700.9 201.3,701.54 201.6,703.87 201.9,702.3 202.2,703.36 202.5,700.65 202.8,701.59 203.1,701.64 203.4,700.01 203.7,700.63 204,701.11 204.3,702.08 204.6,702.22 204.9,702.48 205.2,701.43 205.5,700.86 205.8,700.26 206.1,702.89 206.4,701.28 206.7,702.12 207,702.69 207.3,703.68 207.6,700.82 207.9,702.25 208.2,700.04 208.5,702.73 208.8,700.48 209.1,701.56 209.4,700.6 209.7,703.25 210,696.95 210.3,702.59 210.6,701.56 210.9,702.08 211.2,698.12 211.5,701.22 211.8,703.07 212.1,699.84 212.4,701.76 212.7,702.91 213,702.78 213.3,702.37 213.6,701.71 213.9,703.05 214.2,701.41 214.5,701.66 214.8,700.01 215.1,702.01 215.4,701.38 215.7,701.7 216,699.43 216.3,703.91 216.6,701.55 216.9,701.28 217.2,702.34 217.5,703.77 217.8,701.66 218.1,702.12 218.4,701.24 218.7,701.21 219,700.22 219.3,702.19 219.6,700.33 219.9,701.13 220.2,701.05 220.5,700.4 220.8,700.9 221.1,701.47 221.4,702.64 221.7,701.57 222,702.87 222.3,701.91 222.6,701.71 222.9,702.05 223.2,701.28 223.5,702.47 223.8,701.7 224.1,701.68 224.4,703.34 224.7,700.72 225,700.6 225.3,701.49 225.6,701.86 225.9,701.25 226.2,702.46 226.5,701.91 226.8,701.66 227.1,700.3 227.4,703.24 227.7,701.67 228,701.34 228.3,702.94 228.6,701.59 228.9,700.89 229.2,700.52 229.5,701.6 229.8,700.98 230.1,700.64 230.4,701.53 230.7,701.39 231,706.68 231.3,702.54 231.6,703.08 231.9,703.04 232.2,701.26 232.5,701.11 232.8,700.07 233.1,701.36 233.4,700.67 233.7,701.8 234,698.13 234.3,702.25 234.6,701.58 234.9,702.08 235.2,702.22 235.5,698.59 235.8,700.62 236.1,701.87 236.4,701.63 236.7,701.82 237,701.14 237.3,702.33 237.6,701.17 237.9,701.37 238.2,700.99 238.5,702.31 238.8,702.43 239.1,701.58 239.4,701.99 239.7,699.58 240,702.58 240.3,701.36 240.6,701.04 240.9,699.22 241.2,701.03 241.5,700.98 241.8,703.62 242.1,700.47 242.4,698.95 242.7,701.73 243,701.29 243.3,702.76 243.6,703.51 243.9,699.89 244.2,701.25 244.5,702.38 244.8,701.7 245.1,701.28 245.4,699.86 245.7,701.87 246,699.8 246.3,700.64 246.6,703.36 246.9,702.87 247.2,701.86 247.5,702.23 247.8,702.69 248.1,703.13 248.4,701.62 248.7,701.05 249,702.9 249.3,701.42 249.6,700.83 249.9,702.29 250.2,701.53 250.5,701.62 250.8,701.6 251.1,702.46 251.4,701.82 251.7,701.8 252,700.27 252.3,700.26 252.6,700.53 252.9,701.02 253.2,702.56 253.5,701.09 253.8,700.93 254.1,703.69 254.4,702.04 254.7,701.28 255,702.34 255.3,701.78 255.6,703.21 255.9,702.42 256.2,700.88 256.5,702.94 256.8,699.04 257.1,703.76 257.4,702.31 257.7,699.76 258,704.06 258.3,701.09 258.6,699.53 258.9,703.79 259.2,699.29 259.5,701.66 259.8,701.56 260.1,701.88 260.4,702.39 260.7,699.98 261,704.42 261.3,702.47 261.6,701.78 261.9,702.42 262.2,698.38 262.5,702.59 262.8,702.4 263.1,702.91 263.4,702.22 263.7,706.87 264,701.93 264.3,701.28 264.6,702.16 264.9,700.23 265.2,700.13 265.5,702.8 265.8,699.98 266.1,701.89 266.4,702.22 266.7,699.18 267,701.65 267.3,703.08 267.6,700.85 267.9,703.02 268.2,697.62 268.5,699.11 268.8,700.4 269.1,700.48 269.4,702.01 269.7,701.01 270,700.58 270.3,700.54 270.6,702.58 270.9,699.32 271.2,699.82 271.5,700.65 271.8,701.18 272.1,701.94 272.4,702.4 272.7,700.51 273,701.74 273.3,700.14 273.6,703.96 273.9,703.15 274.2,699.79 274.5,702.34 274.8,701.41 275.1,702.49 275.4,702.18 275.7,699.49 276,701.99 276.3,700.86 276.6,700.75 276.9,701.27 277.2,701.11 277.5,701.47 277.8,702.58 278.1,701.33 278.4,701.59 278.7,702.81 279,701.11 279.3,701.75 279.6,701.44 279.9,701.27 280.2,697.05 280.5,701.6 280.8,702.4 281.1,701.64 281.4,701.98 281.7,701.26 282,701.92 282.3,701.24 282.6,702.24 282.9,701.31 283.2,700.91 283.5,701.42 283.8,700.94 284.1,704.03 284.4,701.99 284.7,701.52 285,701.1 285.3,702.19 285.6,700.85 285.9,700.93 286.2,700.75 286.5,700.93 286.8,700.97 287.1,700.24 287.4,698.9 287.7,700.13 288,701.76 288.3,702.38 288.6,700.57 288.9,700.68 289.2,702.23 289.5,700.61 289.8,701.3 290.1,701.12 290.4,701.01 290.7,700.4 291,701.83 291.3,701.27 291.6,700.79 291.9,700.87 292.2,700.03 292.5,701.73 292.8,701.64 293.1,702.7 293.4,700.4 293.7,702.93 294,701.25 294.3,702.45 294.6,699.46 294.9,701.37 295.2,701.71 295.5,699.54 295.8,701.55 296.1,702.08 296.4,700.21 296.7,704.01 297,701.5 297.3,703.15 297.6,700.71 297.9,699.93 298.2,700.52 298.5,698.79 298.8,698.87 299.1,701.42 299.4,701.02 299.7,700.88 300,698.12 300.3,701.21 300.6,700.65 300.9,700.44 301.2,701.28 301.5,700.01 301.8,700.1 302.1,701.73 302.4,701.51 302.7,700.58 303,700.22 303.3,699.03 303.6,701.27 303.9,701.71 304.2,702.45 304.5,700.12 304.8,700.8 305.1,700.11 305.4,701.06 305.7,703.23 306,700.42 306.3,699.83 306.6,701.12 306.9,701 307.2,699 307.5,701.66 307.8,699.64 308.1,701.62 308.4,700.78 308.7,701.24 309,700.99 309.3,699.99 309.6,699.25 309.9,700 310.2,698.97 310.5,699.33 310.8,700.56 311.1,699.41 311.4,701.75 311.7,700.45 312,702.83 312.3,698.06 312.6,698.29 312.9,698.32 313.2,699.74 313.5,698.93 313.8,706.78 314.1,700.25 314.4,698.65 314.7,700.91 315,699.89 315.3,700.97 315.6,696.04 315.9,701.18 316.2,700.86 316.5,700.32 316.8,698.3 317.1,698.41 317.4,699.05 317.7,699.72 318,700.81 318.3,699.93 318.6,699.9 318.9,699.33 319.2,699.47 319.5,699.38 319.8,699.81 320.1,700.95 320.4,700.2 320.7,700.42 321,701.46 321.3,698.48 321.6,699.08 321.9,700.56 322.2,700.35 322.5,698.85 322.8,697.02 323.1,700.01 323.4,700.09 323.7,703.63 324,699.28 324.3,701.87 324.6,698.55 324.9,696.39 325.2,701.69 325.5,699.22 325.8,700.37 326.1,699.92 326.4,696.07 326.7,700.19 327,700.64 327.3,698.22 327.6,698.53 327.9,697.02 328.2,698.32 328.5,698.41 328.8,697.23 329.1,697.19 329.4,696.72 329.7,696.97 330,698.08 330.3,696.3 330.6,693.66 330.9,694.57 331.2,695.48 331.5,694.8 331.8,693.61 332.1,695.07 332.4,691.64 332.7,693.68 333,692.46 333.3,691.33 333.6,696.34 333.9,695.09 334.2,695.12 334.5,695 334.8,696.32 335.1,694.4 335.4,696.2 335.7,695.29 336,696.76 336.3,697.09 336.6,697.12 336.9,697.26 337.2,696.89 337.5,697.38 337.8,697.76 338.1,698.71 338.4,697.51 338.7,698.92 339,696.69 339.3,698.3 339.6,694.18 339.9,697.92 340.2,699.85 340.5,697.62 340.8,698.24 341.1,696.9 341.4,697.12 341.7,697.6 342,699.41 342.3,698.39 342.6,697.51 342.9,698.55 343.2,699.89 343.5,697.8 343.8,698.53 344.1,697.86 344.4,698.11 344.7,699.33 345,697.59 345.3,698.69 345.6,698.75 345.9,698.2 346.2,697.76 346.5,699.05 346.8,697.81 347.1,697.4 347.4,700.05 347.7,698.55 348,697.07 348.3,697.91 348.6,698.08 348.9,698.5 349.2,698.13 349.5,699.38 349.8,699.13 350.1,702.45 350.4,696.4 350.7,698.23 351,698.36 351.3,696.18 351.6,697.96 351.9,700.41 352.2,698.13 352.5,699.07 352.8,698.79 353.1,696.77 353.4,699.38 353.7,699.41 354,699.88 354.3,700.44 354.6,697.93 354.9,699.26 355.2,697.96 355.5,698.47 355.8,696.74 356.1,699.14 356.4,700.64 356.7,699.23 357,699.06 357.3,699.37 357.6,699.42 357.9,697.59 358.2,699.81 358.5,698.43 358.8,700.89 359.1,699.84 359.4,699.09 359.7,699.13 360,696.46 360.3,699.17 360.6,699.28 360.9,699.28 361.2,698.67 361.5,700.15 361.8,700.01 362.1,695.52 362.4,699.84 362.7,698.28 363,700.91 363.3,700.87 363.6,700.53 363.9,703.98 364.2,705.08 364.5,708.72 364.8,707.41 365.1,707.3 365.4,708.66 365.7,712.36 366,712.28 366.3,712.84 366.6,715.46 366.9,717.78 367.2,717.38 367.5,716.28 367.8,717.05 368.1,715.76 368.4,715.36 368.7,711.33 369,715.09 369.3,718.01 369.6,716.92 369.9,714.44 370.2,719.37 370.5,714.25 370.8,718.88 371.1,715.04 371.4,716.13 371.7,716.42 372,714.89 372.3,715.2 372.6,716.27 372.9,713.15 373.2,716.45 373.5,715.54 373.8,714.57 374.1,715.04 374.4,713.47 374.7,713.66 375,712.52 375.3,713.23 375.6,715.22 375.9,713.95 376.2,714.74 376.5,712.81 376.8,712.8 377.1,717.06 377.4,715.19 377.7,714.32 378,714.69 378.3,715.75 378.6,714.06 378.9,714.25 379.2,713.45 379.5,713.37 379.8,712.71 380.1,712.09 380.4,713.41 380.7,714.08 381,713.15 381.3,713.47 381.6,713.47 381.9,713.43 382.2,711.04 382.5,712.4 382.8,713.03 383.1,712.81 383.4,713.64 383.7,713.84 384,713.68 384.3,713.34 384.6,712.34 384.9,711.75 385.2,712.14 385.5,714.37 385.8,712.45 386.1,712.37 386.4,714.17 386.7,711.89 387,713.4 387.3,712.62 387.6,711.56 387.9,712.66 388.2,713.27 388.5,714.54 388.8,713.03 389.1,713.29 389.4,711.24 389.7,713.62 390,713 390.3,713.14 390.6,713.28 390.9,712.03 391.2,714.38 391.5,714.54 391.8,714.06 392.1,712.59 392.4,711.77 392.7,712.42 393,710.44 393.3,710.82 393.6,712.46 393.9,711.28 394.2,712.61 394.5,713.45 394.8,712.65 395.1,711.49 395.4,712.53 395.7,711.73 396,712.49 396.3,711.65 396.6,711.31 396.9,710.26 397.2,710.41 397.5,709.49 397.8,711.62 398.1,709.15 398.4,712.5 398.7,710.9 399,711.22 399.3,711.84 399.6,712.79 399.9,710.6 400.2,710.54 400.5,711.58 400.8,710.52 401.1,711.95 401.4,710.29 401.7,711.32 402,711.05 402.3,710.7 402.6,710.44 402.9,710.38 403.2,708.67 403.5,710.82 403.8,712.39 404.1,709.45 404.4,711.87 404.7,711.77 405,712.67 405.3,711.13 405.6,712.29 405.9,711.29 406.2,711.09 406.5,712.65 406.8,712.13 407.1,710.84 407.4,709.98 407.7,712.19 408,712.13 408.3,709.64 408.6,711.16 408.9,712.83 409.2,711.09 409.5,713.1 409.8,711.75 410.1,710.11 410.4,710.54 410.7,710.15 411,711.65 411.3,712.72 411.6,710.61 411.9,710.99 412.2,713.01 412.5,711.37 412.8,709.51 413.1,711.21 413.4,710.86 413.7,708.54 414,711.25 414.3,711.59 414.6,711.27 414.9,710.39 415.2,711.8 415.5,708.77 415.8,711.92 416.1,710.61 416.4,709.56 416.7,710.86 417,711.47 417.3,708.91 417.6,713.74 417.9,712.95 418.2,710.98 418.5,712.35 418.8,710.6 419.1,709.89 419.4,711.51 419.7,713.54 420,711.25 420.3,710.13 420.6,710.23 420.9,711.16 421.2,710.8 421.5,708.89 421.8,711.76 422.1,710.36 422.4,711.64 422.7,709.77 423,711.09 423.3,709.8 423.6,710.84 423.9,711.44 424.2,711.87 424.5,710.88 424.8,710.72 425.1,710.51 425.4,710.21 425.7,712 426,711.65 426.3,708.32 426.6,710.43 426.9,709.74 427.2,710.45 427.5,709.9 427.8,709.81 428.1,709.53 428.4,709.47 428.7,710.38 429,710.94 429.3,710.72 429.6,711.21 429.9,710.64 430.2,710.55 430.5,709.44 430.8,710.76 431.1,709.52 431.4,710.01 431.7,709.83 432,711.16 432.3,710.98 432.6,709.79 432.9,708.59 433.2,713.43 433.5,708.4 433.8,709.21 434.1,709.78 434.4,707.01 434.7,708.64 435,707.4 435.3,710.09 435.6,708.79 435.9,708.09 436.2,708.64 436.5,708.59 436.8,708.41 437.1,708.16 437.4,707.28 437.7,712.9 438,705.53 438.3,709.37 438.6,706.9 438.9,708.1 439.2,707.12 439.5,706.63 439.8,705.28 440.1,707.3 440.4,706.18 440.7,707.46 441,707.41 441.3,706.85 441.6,704.59 441.9,705.95 442.2,707.76 442.5,706.69 442.8,707.24 443.1,705.81 443.4,705.74 443.7,704.37 444,705.03 444.3,702.63 444.6,702.17 444.9,699.35 445.2,700.92 445.5,704.04 445.8,706.1 446.1,708.7 446.4,710.55 446.7,712.47 447,716.29 447.3,716.45 447.6,715.26 447.9,715.49 448.2,718.11 448.5,715.61 448.8,716.56 449.1,713.88 449.4,717.22 449.7,714.42 450,715.7 450.3,715.79 450.6,716.01 450.9,715.26 451.2,715.62 451.5,716.18 451.8,715.7 452.1,714.67 452.4,715.38 452.7,714.35 453,716.6 453.3,714.22 453.6,714.94 453.9,714.86 454.2,714.52 454.5,712.75 454.8,716.12 455.1,713.8 455.4,713.39 455.7,714.1 456,714.01 456.3,715.56 456.6,714.21 456.9,717.48 457.2,714.16 457.5,715.37 457.8,715.39 458.1,715.13 458.4,713.88 458.7,712.62 459,716.4 459.3,712.48 459.6,714.07 459.9,715.88 460.2,714.71 460.5,712.87 460.8,714.27 461.1,715.33 461.4,713.18 461.7,712.26 462,714.36 462.3,712.43 462.6,712.41 462.9,713.63 463.2,712.72 463.5,712.77 463.8,714.09 464.1,713.9 464.4,713.69 464.7,712.39 465,712.26 465.3,717.18 465.6,710.24 465.9,711.1 466.2,712.1 466.5,712.08 466.8,712.87 467.1,713.18 467.4,713.12 467.7,715.13 468,713.29 468.3,712.82 468.6,713.61 468.9,714.2 469.2,714.24 469.5,711.88 469.8,713.04 470.1,712.02 470.4,711.84 470.7,709.2 471,713.45 471.3,710.41 471.6,711.66 471.9,711.63 472.2,708.25 472.5,710.68 472.8,711.76 473.1,713.2 473.4,711.76 473.7,709.89 474,710.94 474.3,711.5 474.6,711.55 474.9,711.26 475.2,711.05 475.5,711.12 475.8,708.92 476.1,709.39 476.4,710.32 476.7,711.98 477,711.37 477.3,710.84 477.6,710.98 477.9,711.73 478.2,709.38 478.5,709.41 478.8,709.56 479.1,710.78 479.4,709.5 479.7,709.42 480,713.59 480.3,708.93 480.6,710.51 480.9,711.81 481.2,710.52 481.5,710.43 481.8,711.43 482.1,711.49 482.4,708.24 482.7,708.87 483,712.5 483.3,712.96 483.6,710.63 483.9,710.78 484.2,711.47 484.5,709.8 484.8,710.17 485.1,710.69 485.4,711.91 485.7,711.14 486,712.43 486.3,712.5 486.6,713.06 486.9,713.58 487.2,709.99 487.5,711.86 487.8,711.89 488.1,710.67 488.4,714.29 488.7,713.14 489,711.84 489.3,718.14 489.6,711.81 489.9,713.13 490.2,713.27 490.5,711.04 490.8,712.92 491.1,710.18 491.4,714.72 491.7,712.18 492,712.44 492.3,715.31 492.6,714.15 492.9,713.86 493.2,713.61 493.5,714.89 493.8,713.37 494.1,711.44 494.4,715.03 494.7,714.68 495,711.42 495.3,715.45 495.6,714.59 495.9,713.49 496.2,712.71 496.5,715.11 496.8,714.71 497.1,713.56 497.4,717.15 497.7,715.89 498,714.13 498.3,713.58 498.6,713.71 498.9,713.9 499.2,714.82 499.5,715.08 499.8,714.93 500.1,714.68 500.4,713.99 500.7,713.61 501,715.4 501.3,714.81 501.6,717.16 501.9,715.02 502.2,713.99 502.5,714.23 502.8,715.5 503.1,714.83 503.4,714.36 503.7,717.36 504,716.86 504.3,715.26 504.6,713.17 504.9,717.31 505.2,713.97 505.5,714.91 505.8,715.81 506.1,716 506.4,714.86 506.7,713.43 507,716.16 507.3,714.06 507.6,714.32 507.9,717.31 508.2,713.24 508.5,713.86 508.8,714.93 509.1,712.21 509.4,715.63 509.7,713.46 510,714.04 510.3,713.33 510.6,715.49 510.9,716.73 511.2,714.86 511.5,714.11 511.8,714.44 512.1,714 512.4,714.4 512.7,714.67 513,712.93 513.3,713.77 513.6,713.31 513.9,712.93 514.2,716.67 514.5,711.7 514.8,710.1 515.1,713.77 515.4,713.25 515.7,711.87 516,712.99 516.3,712.15 516.6,713.15 516.9,710.95 517.2,712.27 517.5,712.51 517.8,711.37 518.1,712.67 518.4,712.58 518.7,712.87 519,711.02 519.3,711.32 519.6,711.37 519.9,710.31 520.2,712.61 520.5,712.98 520.8,712.24 521.1,711.38 521.4,712.83 521.7,711.57 522,715.28 522.3,712.37 522.6,715.09 522.9,714.57 523.2,713.63 523.5,716.49 523.8,717.15 524.1,716.06 524.4,716.62 524.7,715.11 525,718.32 525.3,716.15 525.6,715.48 525.9,716.91 526.2,716.58 526.5,715.28 526.8,715.82 527.1,714.82 527.4,713.55 527.7,716.6 528,714.8 528.3,715.09 528.6,715.53 528.9,714.24 529.2,714.94 529.5,715.45 529.8,714.74 530.1,714.59 530.4,713.6 530.7,714.47 531,713.58 531.3,713.36 531.6,711.74 531.9,710.49 532.2,712.71 532.5,713.18 532.8,712.89 533.1,713.98 533.4,712.92 533.7,712.15 534,712.52 534.3,711.92 534.6,712.97 534.9,712.38 535.2,714.48 535.5,711.06 535.8,711.97 536.1,718 536.4,711.3 536.7,711.6 537,709.77 537.3,710.45 537.6,709.84 537.9,712.74 538.2,711.43 538.5,710.8 538.8,711.27 539.1,709.67 539.4,711.14 539.7,710.51 540,708.52 540.3,708.73 540.6,703.75 540.9,709.66 541.2,715.01 541.5,709.51 541.8,706.17 542.1,707 542.4,705.6 542.7,705.11 543,702.83 543.3,705.73 543.6,697.8 543.9,709.23 544.2,708.94 544.5,712.93 544.8,708.35 545.1,706.05 545.4,714.67 545.7,707.77 546,699.81 546.3,700.25 546.6,704.46 546.9,702.95 547.2,698.36 547.5,703.18 547.8,703.86 548.1,706 548.4,703.17 548.7,702.3 549,702.58 549.3,701.56 549.6,697.89 549.9,704.26 550.2,701.35 550.5,696.45 550.8,698.86 551.1,704.77 551.4,702.19 551.7,701.41 552,700.88 552.3,701.01 552.6,700.26 552.9,696.25 553.2,701.13 553.5,695.93 553.8,699.12 554.1,699.36 554.4,698.51 554.7,700.06 555,704.46 555.3,695.76 555.6,696.76 555.9,702.26 556.2,697.21 556.5,698.37 556.8,699.23 557.1,697.54 557.4,695.41 557.7,694.34 558,692.6 558.3,697.58 558.6,687.68 558.9,692.69 559.2,694.17 559.5,695.52 559.8,694.45 560.1,698.89 560.4,698.2 560.7,695.16 561,694.02 561.3,689.37 561.6,692.67 561.9,693.97 562.2,690.42 562.5,692.73 562.8,703.28 563.1,693.4 563.4,693.52 563.7,696.49 564,692.16 564.3,690.77 564.6,696.42 564.9,694.27 565.2,697.54 565.5,695.32 565.8,696.92 566.1,691.09 566.4,693.76 566.7,692.26 567,696.1 567.3,688.41 567.6,698.89 567.9,690.79 568.2,693.53 568.5,692.87 568.8,695.72 569.1,699.29 569.4,698.69 569.7,695.34 570,695.49 570.3,695.2 570.6,692.83 570.9,697.99 571.2,696.52 571.5,694.42 571.8,695.19 572.1,692.18 572.4,694.1 572.7,690.7 573,688.55 573.3,695.88 573.6,694.7 573.9,692.12 574.2,697.74 574.5,692.81 574.8,698.05 575.1,691.57 575.4,695.06 575.7,687.91 576,694.92 576.3,689.33 576.6,696.65 576.9,696.93 577.2,692.08 577.5,690.72 577.8,696.61 578.1,690.24 578.4,692.72 578.7,688.25 579,690.17 579.3,689.66 579.6,691.84 579.9,694.76 580.2,686.6 580.5,690.33 580.8,692.38 581.1,690.93 581.4,691.34 581.7,681.34 582,688.41 582.3,697.42 582.6,698.23 582.9,693.97 583.2,695.07 583.5,692.13 583.8,691.5 584.1,694.64 584.4,694.43 584.7,690.53 585,694.03 585.3,691.26 585.6,691.99 585.9,692.68 586.2,693.06 586.5,691.27 586.8,691.95 587.1,696.68 587.4,696.16 587.7,691.88 588,693.38 588.3,694.42 588.6,697.7 588.9,697.06 589.2,693.57 589.5,690.9 589.8,681.76 590.1,693.71 590.4,696.25 590.7,692.77 591,689.32 591.3,684.65 591.6,694.2 591.9,694.98 592.2,695.57 592.5,693.06 592.8,691.64 593.1,691.5 593.4,694.29 593.7,688.29 594,697.74 594.3,690.87 594.6,690.37 594.9,687.27 595.2,691.6 595.5,703.82 595.8,694.41 596.1,696.59 596.4,684.63 596.7,690.58 597,685.34 597.3,693.17 597.6,693.88 597.9,694 598.2,689.93 598.5,688.5 598.8,691.81 599.1,690.99 599.4,693.23 599.7,694.61 600,690.3 600.3,690.48 600.6,692.54 600.9,685.89 601.2,692.82 601.5,692.97 601.8,692.02 602.1,689.59 602.4,695.05 602.7,693.99 603,697.59 603.3,691.52 603.6,691.96 603.9,692.7 604.2,695.51 604.5,696.68 604.8,691.89 605.1,694.38 605.4,694.82 605.7,695.53 606,693.21 606.3,693.1 606.6,688.62 606.9,690.68 607.2,695.45 607.5,682.02 607.8,693.77 608.1,698.57 608.4,689.59 608.7,690.9 609,689.62 609.3,693.55 609.6,694.16 609.9,690.35 610.2,690.12 610.5,694.17 610.8,692.17 611.1,690.69 611.4,696.07 611.7,696.19 612,694.63 612.3,696.68 612.6,695.43 612.9,690.95 613.2,693.05 613.5,691.03 613.8,690.44 614.1,690.36 614.4,692.8 614.7,692.07 615,691.92 615.3,691.59 615.6,679.24 615.9,691.62 616.2,692.55 616.5,692.79 616.8,690.05 617.1,693.48 617.4,698.41 617.7,693.47 618,690.3 618.3,696.23 618.6,695.68 618.9,696.67 619.2,690.38 619.5,693.78 619.8,694.56 620.1,698.83 620.4,698.02 620.7,694.52 621,690.66 621.3,703.84 621.6,698.12 621.9,687.97 622.2,694.77 622.5,696.17 622.8,695.96 623.1,697.46 623.4,693.44 623.7,698.02 624,695.08 624.3,691.09 624.6,692.8 624.9,694.92 625.2,697.29 625.5,697.26 625.8,689.18 626.1,696.19 626.4,696.21 626.7,693.01 627,697.15 627.3,695.95 627.6,693.24 627.9,699.22 628.2,692.27 628.5,703.4 628.8,696.86 629.1,694.79 629.4,696.55 629.7,697.39 630,686.94 630.3,692.69 630.6,699.45 630.9,696.65 631.2,697.86 631.5,696.49 631.8,697.77 632.1,697.56 632.4,692.29 632.7,699.86 633,694.21 633.3,694.85 633.6,699.98 633.9,696.28 634.2,696.46 634.5,697.76 634.8,696.63 635.1,701.82 635.4,695.22 635.7,696.96 636,694.68 636.3,697.88 636.6,694.04 636.9,692.55 637.2,698.72 637.5,696.47 637.8,698.37 638.1,712.3 638.4,694.01 638.7,694.27 639,692.88 639.3,692.47 639.6,697.74 639.9,698.91 640.2,700.41 640.5,699.39 640.8,694.9 641.1,698.53 641.4,697.9 641.7,700.83 642,699.94 642.3,700.47 642.6,700.39 642.9,699.72 643.2,699.76 643.5,700.93 643.8,700.52 644.1,700.86 644.4,703.04 644.7,704.4 645,706.59 645.3,704.52 645.6,701.92 645.9,704.05 646.2,697.4 646.5,707.51 646.8,708.83 647.1,706.74 647.4,703.53 647.7,704.72 648,703.81 648.3,703.7 648.6,704.64 648.9,703.73 649.2,704.44 649.5,708.39 649.8,705.7 650.1,703.09 650.4,707.38 650.7,709.09 651,707.41 651.3,706.2 651.6,704.87 651.9,708.48 652.2,705.41 652.5,703.51 652.8,701.74 653.1,706.18 653.4,704.33 653.7,702.97 654,698.45 654.3,707.85 654.6,703.73 654.9,705.94 655.2,703.5 655.5,704.57 655.8,707.61 656.1,706.39 656.4,706.35 656.7,704.42 657,707.34 657.3,706.75 657.6,706.74 657.9,707.38 658.2,707.55 658.5,702.9 658.8,706.14 659.1,703.55 659.4,705.26 659.7,706.12 660,706.72 660.3,706.06 660.6,700.96 660.9,704.48 661.2,707.35 661.5,704.57 661.8,704.94 662.1,709.54 662.4,703.98 662.7,702.66 663,706.16 663.3,702.52 663.6,703.53 663.9,707.74 664.2,706.48 664.5,705.12 664.8,702.56 665.1,704.08 665.4,707.32 665.7,704 666,704.44 666.3,707.43 666.6,705.16 666.9,698.26 667.2,701.29 667.5,704.24 667.8,702.32 668.1,704.37 668.4,704.9 668.7,702.32 669,704.78 669.3,702.66 669.6,705.17 669.9,709.56 670.2,701.94 670.5,702.18 670.8,703.21 671.1,703.43 671.4,702.3 671.7,705.44 672,705.65 672.3,702.05 672.6,703.06 672.9,698.85 673.2,703.04 673.5,704.45 673.8,701.8 674.1,702.02 674.4,698.24 674.7,701.57 675,704.57 675.3,702.34 675.6,698.22 675.9,701.34 676.2,702.61 676.5,702.34 676.8,699.35 677.1,701.4 677.4,700.4 677.7,702.08 678,702.89 678.3,702.73 678.6,702.82 678.9,702.34 679.2,699.06 679.5,704.54 679.8,703.84 680.1,697.44 680.4,698.52 680.7,700.86 681,705.61 681.3,700.57 681.6,705.18 681.9,699.27 682.2,702.6 682.5,702.47 682.8,702.21 683.1,701.98 683.4,698.88 683.7,701.74 684,699.79 684.3,698.27 684.6,700.37 684.9,703.47 685.2,701.91 685.5,700.89 685.8,700.17 686.1,700.59 686.4,703.13 686.7,702.44 687,701.77 687.3,699.49 687.6,704.26 687.9,703.21 688.2,699.74 688.5,702.43 688.8,702.7 689.1,699.69 689.4,704.72 689.7,702.45 690,700.07 690.3,704.49 690.6,703.98 690.9,703.55 691.2,697.95 691.5,702.38 691.8,704.82 692.1,701.61 692.4,704.02 692.7,702.34 693,691.28 693.3,703.03 693.6,699.48 693.9,701.98 694.2,700.79 694.5,700.55 694.8,701.04 695,701.92 695.5,700.97 696,697.35 696.5,697.79 697,695.11 697.5,693.01 698,691.37 698.5,689.56 699,688.44 699.5,687.43 700,689.47 700.5,692.65 701,694.39 701.5,697.61 702,702.63 702.5,701.14 703,700.73 703.5,699 704,696.52 704.5,696.76 705,695.23 705.5,693.84 706,692.08 706.5,691.43 707,687.93 707.5,684.59 708,680.15 708.5,677.06 709,671.67 709.5,668.45 710,664.49 710.5,664.21 711,665.67 711.5,668.65 712,670.01 712.5,671.26 713,673.25 713.5,674.26 714,677.16 714.5,679.18 715,682.17 715.5,685.17 716,686.9 716.5,690.14 717,691.53 717.5,694.5 718,696.37 718.5,697.15 719,695.6 719.5,693.77 720,692.07 720.5,691.38 721,689.77 721.5,686.53 722,688.1 722.5,687.69 723,689.61 723.5,691.28 724,692.78 724.5,693.41 725,694.94 725.5,696.93 726,698.11 726.5,699.78 727,702.21 727.5,704.01 728,705.06 728.5,706.74 729,708.36 729.5,709.74 730,709.96 730.5,707.82 731,707 731.5,704.73 732,702.87 732.5,701.25 733,699.62 733.5,699.29 734,698.87 734.5,699.39 735,700.34 735.5,700.31 736,702.18 736.5,702.56 737,703.02 737.5,703.12 738,704.24 738.5,705.02 739,705.28 739.5,706.95 740,708.63 740.5,712.73 741,714.47 741.5,713.2 742,699.28 742.5,683.99 743,687.81 743.5,698.43 744,708.15 744.5,718.73 745,725.76 745.5,731.15 746,735.79 746.5,741.21 747,744.19 747.5,747.56 748,752.98 748.5,755.74 749,746.98 749.5,738.45 750,728.56 750.5,718.75 751,719.76 751.5,725.26 752,731.19 752.5,737.37 753,744.16 753.5,738.26 754,733.58 754.5,729.55 755,724.95 755.5,719.89 756,717.19 756.5,723 757,728.65 757.5,733.34 758,738.38 758.5,737.01 759,728.83 759.5,722.89 760,717.14 760.5,710.62 761,704.51 761.5,698.91 762,691.87 762.5,689.9 763,692.09 763.5,695.89 764,700.44 764.5,702.47 765,706.14 765.5,709.53 766,713.02 766.5,719.44 767,725.01 767.5,731.08 768,736.06 768.5,733.81 769,730.4 769.5,727.03 770,724.02 770.5,719.92 771,716.15 771.5,712.62 772,718.4 772.5,724.57 773,733 773.5,738.53 774,746.09 774.5,754.14 775,761.11 775.5,767.4 776,774.96 776.5,781.71 777,786.23 777.5,784.34 778,781.88 778.5,780.84 779,772.58 779.5,764.96 780,757.24 780.5,749.06 781,741.86 781.5,734.08 782,726.26 782.5,717 783,706.5 783.5,696.11 784,695.07 784.5,705.88 785,716.16 785.5,726.9 786,737.43 786.5,747.27 787,745.2 787.5,734.27 788,725.09 788.5,713.91 789,703.03 789.5,692.61 790,691.77 790.5,693.99 791,694.55 791.5,694.1 792,696.07 792.5,697.33 793,698.58 793.5,699.17 794,699.35 794.5,700.75 795,700.93 795.5,700.69 796,702.37 796.5,705.8 797,710.2 797.5,713.67 798,715.82 798.5,719.96 799,723.32 799.5,724.01 800,718.01 800.5,713.56 801,708.07 801.5,702 802,695.1 802.5,691.09 803,686.45 803.5,687.25 804,688.57 804.5,689.08 805,691.08 805.5,691.73 806,692.38 806.5,693.27 807,691.1 807.5,688.23 808,687.07 808.5,684.9 809,682.15 809.5,681.95 810,683.46 810.5,683.7 811,685.78 811.5,686.81 812,686.47 812.5,687.85 813,689.58 813.5,688.96 814,689.28 814.5,690.22 815,690.31 815.5,690.98 816,692.57 816.5,692.86 817,693.73 817.5,694.08 818,693.54 818.5,694.09 819,694.25 819.5,694.22 820,694.32 820.5,695.22 821,695.15 821.5,695.64 822,696.25 822.5,696.47 823,694.91 823.5,694.66 824,694.61 824.5,694.43 825,694.52 825.5,692.97 826,692.88 826.5,692.89 827,693.07 827.5,692.76 828,690.92 828.5,691.08 829,690.78 829.5,691.82 830,691.63 830.5,691.2 831,691.1 831.5,691.7 832,692.16 832.5,691.16 833,691.48 833.5,691.8 834,691.79 834.5,692.03 835,691.28 835.5,691.58 836,690.73 836.5,692.07 837,692.73 837.5,690.91 838,691.81 838.5,692.78 839,692.21 839.5,691.21 840,693.1 840.5,691.5 841,693.14 841.5,691.93 842,691.82 842.5,692.22 843,692.15 843.5,692.48 844,692.38 844.5,691.95 845,692.79 845.5,692.39 846,692.08 846.5,691.96 847,691.78 847.5,691.75 848,692.16 848.5,692 849,691.7 849.5,692.25 850,691.44 850.5,691.82 851,692.04 851.5,690.81 852,691.28 852.5,692.4 853,690.79 853.5,692.01 854,690.64 854.5,691.48 855,690.56 855,689.52 856.4,689.8 857.8,689.73 859.2,690.59 860.6,693.12 862,689.5 863.4,692.6 864.8,693.03 866.2,689.91 867.6,690.76 869,692.21 870.4,693.15 871.8,694.32 873.2,692.85 874.6,693.74 876,691.33 877.4,690.87 878.8,689.9 880.2,690.62 881.6,691.56 883,692.23 884.4,690.42 885.8,692.98 887.2,691.88 888.6,691.23 890,691.08 891.4,694.42 892.8,692.2 894.2,697.02 895.6,690.86 897,694.21 898.4,691.31 899.8,693.43 901.2,693.69 902.6,689.17 904,693.55 905.4,691.66 906.8,690.59 908.2,691.21 909.6,692.51 911,692.27 912.4,692.3 913.8,690.9 915.2,693.28 916.6,693.53 918,693.9 919.4,692.88 920.8,693.93 922.2,694.14 923.6,692.45 925,692.64 926.4,692.26 927.8,693.17 929.2,692.55 930.6,689.43 932,691.06 933.4,691.99 934.8,688.84 936.2,689.6 937.6,693.2 939,689.99 940.4,690.67 941.8,691.64 943.2,690.58 944.6,690.08 946,690.45 947.4,690.52 948.8,690.3 950.2,691.18 951.6,692.86 953,691.31 954.4,692.8 955.8,691.7 957.2,691.78 958.6,691.44 960,690.34 961.4,691.08 962.8,690.81 964.2,689.94 965.6,691.09 967,690.76 968.4,690.39 969.8,689.15 971.2,686.53 972.6,691.33 974,689.36 975.4,686.7 976.8,689.97 978.2,688.22 979.6,689.76 981,688.69 982.4,690.05 983.8,688.84 985.2,688.77 986.6,691.96 988,689.66 989.4,686.5 990.8,691.11 992.2,689.12 993.6,687.81 995,688.66 996.4,688.32 997.8,689.11 999.2,690.36 1000.6,688.6 1002,690.49 1003.4,690.92 1004.8,690.74 1006.2,691.94 1007.6,690.05 1009,691.03 1010.4,693.25 1011.8,690.38 1013.2,690.25 1014.6,690.49 1016,691.26 1017.4,689.89 1018.8,682.22" fill="none" stroke="#008000" stroke-width="2.0" stroke-linejoin="round" stroke-linecap="round" />
<polyline points="151.2,706.09 151.5,705.09 151.8,703.04 152.1,703.95 152.4,703.86 152.7,707.04 153,703.07 153.3,705.85 153.6,704.35 153.9,711.83 154.2,704.2 154.5,704.67 154.8,704.79 155.1,708.47 155.4,704.99 155.7,704.62 156,709.13 156.3,706.37 156.6,704.1 156.9,703.98 157.2,704.7 157.5,702.64 157.8,704.58 158.1,703.58 158.4,703.22 158.7,702.31 159,703.94 159.3,703.22 159.6,703.57 159.9,703.12 160.2,703.53 160.5,704.03 160.8,702.82 161.1,704.46 161.4,702.92 161.7,704.06 162,706.3 162.3,704.41 162.6,706.6 162.9,703.38 163.2,702.85 163.5,703.87 163.8,704.31 164.1,704.66 164.4,704.68 164.7,703.83 165,705.28 165.3,704.11 165.6,705.05 165.9,704.75 166.2,704.52 166.5,704.48 166.8,703.35 167.1,704.87 167.4,704.91 167.7,703.64 168,707.27 168.3,704.04 168.6,702.68 168.9,702.33 169.2,703.2 169.5,701.59 169.8,704.71 170.1,712.86 170.4,704.68 170.7,702.57 171,704.49 171.3,705.51 171.6,704.58 171.9,702.13 172.2,704.29 172.5,703.77 172.8,705.63 173.1,704.72 173.4,706.49 173.7,704.47 174,702.97 174.3,703.19 174.6,705.71 174.9,703.09 175.2,704.46 175.5,706.85 175.8,704.27 176.1,703.22 176.4,705.32 176.7,704.74 177,702.85 177.3,708.75 177.6,704.51 177.9,705.13 178.2,703.5 178.5,705.65 178.8,703.67 179.1,705.18 179.4,702.95 179.7,704.64 180,704.69 180.3,702.73 180.6,701.99 180.9,703.43 181.2,703.32 181.5,703.49 181.8,704.09 182.1,706.96 182.4,704.5 182.7,706.22 183,704.72 183.3,705.62 183.6,704.98 183.9,704.37 184.2,704.88 184.5,706.91 184.8,702.33 185.1,704.56 185.4,705.05 185.7,702.83 186,704.94 186.3,704.51 186.6,705.78 186.9,705.04 187.2,704.27 187.5,704.63 187.8,701.68 188.1,706.7 188.4,703.02 188.7,702.6 189,703.09 189.3,703.99 189.6,703.55 189.9,704.45 190.2,703.42 190.5,704.85 190.8,703.67 191.1,704.12 191.4,702.55 191.7,703.31 192,704.04 192.3,702.48 192.6,703.89 192.9,703.79 193.2,702.29 193.5,705.46 193.8,702.52 194.1,706.2 194.4,705.38 194.7,704.84 195,704.12 195.3,703.14 195.6,706.13 195.9,706.6 196.2,703.35 196.5,706.37 196.8,705.58 197.1,705.28 197.4,704.85 197.7,703.91 198,704.14 198.3,704.52 198.6,705.84 198.9,702.72 199.2,704.51 199.5,702.96 199.8,704.35 200.1,703.93 200.4,703.37 200.7,701.84 201,705.07 201.3,702.75 201.6,703.37 201.9,704.82 202.2,703.64 202.5,704.61 202.8,700.91 203.1,703.77 203.4,701.65 203.7,704.58 204,712.28 204.3,703.93 204.6,704.05 204.9,705.95 205.2,704.1 205.5,706.22 205.8,701.63 206.1,702.12 206.4,704.48 206.7,706.15 207,704.82 207.3,704.61 207.6,705.74 207.9,706.8 208.2,705.76 208.5,704.92 208.8,699.27 209.1,707.07 209.4,702.51 209.7,703.48 210,703.89 210.3,703.81 210.6,702.21 210.9,706.97 211.2,704.15 211.5,708.99 211.8,707.63 212.1,702.83 212.4,707.04 212.7,704.12 213,704.42 213.3,704.21 213.6,704.62 213.9,705.95 214.2,704.99 214.5,700.22 214.8,703.47 215.1,702.97 215.4,704.94 215.7,702.19 216,704.85 216.3,704.48 216.6,703.63 216.9,705.17 217.2,703.91 217.5,701.94 217.8,702.43 218.1,703.05 218.4,701.11 218.7,704.18 219,704.5 219.3,702.79 219.6,701.47 219.9,702.87 220.2,706.09 220.5,704.01 220.8,704.33 221.1,704.51 221.4,704.21 221.7,704.01 222,704.99 222.3,704.95 222.6,703.34 222.9,703.37 223.2,704.12 223.5,704.62 223.8,704.92 224.1,702.61 224.4,704.04 224.7,702.85 225,705.67 225.3,705.41 225.6,705.17 225.9,703.9 226.2,702.97 226.5,703.59 226.8,703.56 227.1,704.86 227.4,703.81 227.7,705.57 228,704.92 228.3,707.29 228.6,701.95 228.9,705.96 229.2,703.64 229.5,704.24 229.8,704.64 230.1,701.35 230.4,704.39 230.7,703.77 231,705.76 231.3,699.86 231.6,705.47 231.9,704.07 232.2,705.77 232.5,704.26 232.8,703.31 233.1,702.94 233.4,703.47 233.7,705.15 234,705.99 234.3,704.4 234.6,704.7 234.9,702.52 235.2,704.08 235.5,705.6 235.8,704.45 236.1,702.8 236.4,703.76 236.7,703.62 237,704.65 237.3,703.45 237.6,706.5 237.9,705.89 238.2,704.5 238.5,705.13 238.8,704.48 239.1,702.57 239.4,704.2 239.7,704.43 240,706.27 240.3,703.12 240.6,705.57 240.9,704.98 241.2,706.45 241.5,706.15 241.8,704.91 242.1,704.06 242.4,706.24 242.7,706.55 243,704.14 243.3,706.48 243.6,701.75 243.9,704.75 244.2,703.21 244.5,710.3 244.8,704.47 245.1,704.38 245.4,703.62 245.7,703.76 246,705.08 246.3,704.04 246.6,702.2 246.9,703.11 247.2,705.97 247.5,704.41 247.8,704.16 248.1,706.26 248.4,702.13 248.7,703.06 249,705.14 249.3,705.71 249.6,704.72 249.9,702.92 250.2,705.52 250.5,704.57 250.8,703.24 251.1,701.71 251.4,704.3 251.7,703.36 252,703.11 252.3,703.28 252.6,703.77 252.9,703.59 253.2,704.36 253.5,705.89 253.8,701.56 254.1,703.06 254.4,707.67 254.7,704.26 255,704.83 255.3,703.92 255.6,703.95 255.9,704.57 256.2,705.42 256.5,704.94 256.8,703.72 257.1,705.07 257.4,704.67 257.7,701.16 258,705.19 258.3,705.08 258.6,703.01 258.9,707.7 259.2,703.84 259.5,706.54 259.8,706.15 260.1,704.1 260.4,698.1 260.7,702.89 261,703.47 261.3,704.34 261.6,704.49 261.9,704.41 262.2,703.43 262.5,704.49 262.8,704.39 263.1,702.85 263.4,700.84 263.7,704.52 264,702.81 264.3,698.45 264.6,705.18 264.9,703.67 265.2,706.07 265.5,705.11 265.8,707.89 266.1,704.5 266.4,705.24 266.7,705.72 267,706.21 267.3,703.98 267.6,704.3 267.9,705 268.2,702.35 268.5,704.75 268.8,706.3 269.1,704.22 269.4,705.19 269.7,703 270,705.1 270.3,702.03 270.6,703.59 270.9,705.38 271.2,708.13 271.5,704.67 271.8,702.67 272.1,704.05 272.4,704.09 272.7,704.02 273,702.88 273.3,703.45 273.6,702.66 273.9,702.84 274.2,702.48 274.5,703.54 274.8,705.32 275.1,709.22 275.4,704.55 275.7,704.41 276,702.86 276.3,703.04 276.6,704.87 276.9,698.73 277.2,702.9 277.5,703.33 277.8,705.32 278.1,703.62 278.4,705.01 278.7,703.3 279,703.29 279.3,703.9 279.6,700.94 279.9,704.21 280.2,704.83 280.5,703.94 280.8,704.19 281.1,702.55 281.4,705.5 281.7,704.19 282,701.85 282.3,703.97 282.6,702.31 282.9,703.8 283.2,702.35 283.5,702.77 283.8,702.47 284.1,702.33 284.4,702.21 284.7,704.98 285,705.26 285.3,703.75 285.6,703.48 285.9,703.71 286.2,704.81 286.5,702.5 286.8,703.64 287.1,703.85 287.4,703.27 287.7,705.17 288,703.9 288.3,703.12 288.6,705.37 288.9,702.2 289.2,703.19 289.5,703.31 289.8,702.6 290.1,704.86 290.4,702.07 290.7,703.59 291,702.27 291.3,707.14 291.6,704.83 291.9,702.25 292.2,702.4 292.5,706.81 292.8,702.8 293.1,704.18 293.4,705.53 293.7,703.66 294,704.06 294.3,704.31 294.6,705.43 294.9,699.91 295.2,702.26 295.5,705.79 295.8,704.05 296.1,702.71 296.4,703.91 296.7,704.34 297,702.02 297.3,704.35 297.6,705.65 297.9,704.36 298.2,704.4 298.5,703.74 298.8,704.48 299.1,702.73 299.4,705.31 299.7,704.1 300,705.08 300.3,705.84 300.6,702.31 300.9,703.47 301.2,701.92 301.5,705.98 301.8,702.73 302.1,699.57 302.4,703.95 302.7,703.41 303,704.51 303.3,702.21 303.6,704.55 303.9,704.57 304.2,701.13 304.5,702.64 304.8,701.7 305.1,707.15 305.4,701.64 305.7,702.13 306,702.17 306.3,701.81 306.6,705.62 306.9,701.08 307.2,702.15 307.5,702.01 307.8,697.73 308.1,703.28 308.4,703.35 308.7,702.77 309,700.81 309.3,702.62 309.6,700.8 309.9,702.23 310.2,702.42 310.5,702.73 310.8,702.08 311.1,702.75 311.4,702.84 311.7,702.23 312,701.37 312.3,702.96 312.6,703.07 312.9,703.45 313.2,702.18 313.5,703.29 313.8,701.28 314.1,701.94 314.4,702.3 314.7,704.09 315,701.42 315.3,701.86 315.6,701.36 315.9,703.43 316.2,703.05 316.5,701.99 316.8,700.43 317.1,703.14 317.4,700.8 317.7,703.29 318,700.47 318.3,703.24 318.6,701.65 318.9,700.68 319.2,703.07 319.5,702.6 319.8,699.85 320.1,704.16 320.4,700.81 320.7,700.58 321,702.75 321.3,703.36 321.6,703 321.9,702.07 322.2,705.75 322.5,701.9 322.8,696.85 323.1,706.21 323.4,702.35 323.7,702.42 324,704.08 324.3,701.83 324.6,702.65 324.9,702.91 325.2,703.38 325.5,703.24 325.8,702.59 326.1,703.68 326.4,704.75 326.7,702.09 327,702.22 327.3,703.64 327.6,702.93 327.9,705.73 328.2,703.99 328.5,703.31 328.8,702.4 329.1,703.73 329.4,702.78 329.7,709.76 330,701.91 330.3,703.66 330.6,704.45 330.9,702.3 331.2,702.55 331.5,702.55 331.8,704.57 332.1,704.07 332.4,701.52 332.7,703.87 333,704 333.3,704.42 333.6,705.39 333.9,697.92 334.2,705.04 334.5,702.14 334.8,703.04 335.1,703.18 335.4,703.51 335.7,703.44 336,707.67 336.3,704.71 336.6,705.14 336.9,704.77 337.2,703.86 337.5,696.97 337.8,705.15 338.1,704.86 338.4,704.77 338.7,704.4 339,704.97 339.3,701.79 339.6,705.23 339.9,704.87 340.2,703.45 340.5,705.33 340.8,703.53 341.1,703.22 341.4,704.59 341.7,705.91 342,704.7 342.3,702.47 342.6,703.54 342.9,705.12 343.2,702.61 343.5,703.58 343.8,704.82 344.1,706.2 344.4,703.85 344.7,704.04 345,704.79 345.3,704 345.6,704.18 345.9,704.49 346.2,706.05 346.5,704.88 346.8,707.07 347.1,702.7 347.4,704.13 347.7,703.34 348,703.3 348.3,705.74 348.6,704.84 348.9,702.62 349.2,704.99 349.5,705.24 349.8,703.16 350.1,703.75 350.4,703.87 350.7,705.14 351,705.21 351.3,704.24 351.6,704.21 351.9,704.33 352.2,702.21 352.5,702.13 352.8,705.41 353.1,704.1 353.4,703.99 353.7,702.84 354,703.08 354.3,702.39 354.6,705.26 354.9,703.72 355.2,704.68 355.5,707.26 355.8,703.58 356.1,705.98 356.4,704.83 356.7,703.23 357,702.86 357.3,703.23 357.6,705.19 357.9,702.21 358.2,706.26 358.5,704.85 358.8,704.57 359.1,699.93 359.4,701.56 359.7,706.53 360,704.75 360.3,705.65 360.6,705.72 360.9,706.22 361.2,705.69 361.5,703.62 361.8,703.41 362.1,703.86 362.4,705.09 362.7,702.22 363,702.04 363.3,702.75 363.6,700.96 363.9,694.28 364.2,703.91 364.5,701.52 364.8,703.64 365.1,703.62 365.4,705.66 365.7,707.4 366,709.26 366.3,711.45 366.6,711.19 366.9,713.76 367.2,718.41 367.5,719.39 367.8,717.67 368.1,727.75 368.4,726.25 368.7,734.7 369,729.06 369.3,729.84 369.6,728.71 369.9,728.45 370.2,728.78 370.5,729.07 370.8,727.25 371.1,727.85 371.4,727.46 371.7,730.11 372,726.33 372.3,728.65 372.6,725.33 372.9,725.82 373.2,728.33 373.5,725.77 373.8,728.25 374.1,724.98 374.4,726.47 374.7,726.33 375,723.36 375.3,727.38 375.6,726.41 375.9,723.45 376.2,726.87 376.5,725.3 376.8,725.29 377.1,726.84 377.4,723.84 377.7,724.82 378,726.48 378.3,724.91 378.6,724.64 378.9,726.45 379.2,725.27 379.5,723.52 379.8,724.96 380.1,724.3 380.4,725.74 380.7,726.08 381,727.61 381.3,724.07 381.6,724.92 381.9,726.48 382.2,724.86 382.5,725.5 382.8,726.15 383.1,724.35 383.4,725.58 383.7,725.71 384,725.61 384.3,723.14 384.6,725.85 384.9,725.07 385.2,724.08 385.5,723.32 385.8,725.1 386.1,726.89 386.4,725.46 386.7,724.02 387,725.69 387.3,723.86 387.6,724.12 387.9,724.06 388.2,726.08 388.5,725.63 388.8,724.97 389.1,724.24 389.4,725.41 389.7,726.67 390,724.69 390.3,725.81 390.6,725.11 390.9,723.59 391.2,723.15 391.5,724.32 391.8,723.29 392.1,730.34 392.4,725.09 392.7,721.32 393,724.18 393.3,726.18 393.6,722.84 393.9,722.62 394.2,723.42 394.5,723.42 394.8,725.54 395.1,723.71 395.4,726.52 395.7,724.72 396,723.38 396.3,722.66 396.6,726.14 396.9,724.02 397.2,724.36 397.5,722.54 397.8,723.46 398.1,724.9 398.4,723.2 398.7,724.06 399,724.29 399.3,722.68 399.6,722.82 399.9,724.77 400.2,723.72 400.5,722.39 400.8,725.11 401.1,719.25 401.4,723.52 401.7,723.02 402,722.25 402.3,721.94 402.6,724.71 402.9,725.27 403.2,724.33 403.5,720.84 403.8,723.32 404.1,724.72 404.4,722.81 404.7,724.11 405,721.93 405.3,723.96 405.6,724.47 405.9,724.24 406.2,722.54 406.5,722.96 406.8,723.95 407.1,722.45 407.4,723.52 407.7,721.81 408,721.43 408.3,721.31 408.6,722.11 408.9,724.03 409.2,721.27 409.5,724.72 409.8,723.98 410.1,718.91 410.4,721.61 410.7,722.45 411,723.34 411.3,724.18 411.6,721.99 411.9,722.66 412.2,722.81 412.5,721.26 412.8,722.98 413.1,722.7 413.4,720.5 413.7,722.1 414,722.13 414.3,721.38 414.6,722.93 414.9,722.99 415.2,722.34 415.5,720.95 415.8,720.94 416.1,723.05 416.4,719.57 416.7,721.38 417,720.72 417.3,719.22 417.6,720.74 417.9,721.25 418.2,722.86 418.5,720.47 418.8,723.43 419.1,720.47 419.4,721.82 419.7,720.23 420,723.46 420.3,721.07 420.6,722.42 420.9,721.63 421.2,722.36 421.5,727.12 421.8,721.43 422.1,722.29 422.4,722.32 422.7,720.72 423,722.06 423.3,722.4 423.6,716.5 423.9,721.59 424.2,720.76 424.5,723.29 424.8,721.79 425.1,724.46 425.4,724.36 425.7,721.8 426,722.22 426.3,722.63 426.6,725.06 426.9,722.66 427.2,722.86 427.5,723.48 427.8,724.72 428.1,722.76 428.4,721.45 428.7,717.62 429,724.53 429.3,723.56 429.6,724.72 429.9,722.92 430.2,723.05 430.5,724.96 430.8,724.22 431.1,722.02 431.4,725.02 431.7,722.21 432,725.01 432.3,720.42 432.6,724.92 432.9,726.41 433.2,725.36 433.5,724.51 433.8,724.11 434.1,724.76 434.4,724.12 434.7,723.54 435,725.13 435.3,723.54 435.6,724.7 435.9,723.8 436.2,723.02 436.5,726.04 436.8,723.97 437.1,727.9 437.4,724.15 437.7,723.69 438,723.23 438.3,722.43 438.6,723.81 438.9,723.87 439.2,726.39 439.5,729.86 439.8,725.62 440.1,725.35 440.4,724.84 440.7,728.16 441,728.72 441.3,727.24 441.6,725.56 441.9,726.05 442.2,728.24 442.5,728.05 442.8,729.49 443.1,729.68 443.4,729.1 443.7,729.35 444,728.37 444.3,728.57 444.6,726.61 444.9,726 445.2,723.65 445.5,723.12 445.8,722.69 446.1,719.54 446.4,722.85 446.7,724.06 447,722.4 447.3,723.76 447.6,725.77 447.9,728.07 448.2,729.42 448.5,725.33 448.8,726.79 449.1,726.49 449.4,728.15 449.7,727.06 450,727 450.3,726.79 450.6,727.36 450.9,727.63 451.2,725.68 451.5,726.04 451.8,727.77 452.1,725.91 452.4,726.78 452.7,726.88 453,724.56 453.3,727.8 453.6,726.41 453.9,726.18 454.2,727.58 454.5,725.78 454.8,726.84 455.1,725.96 455.4,724.86 455.7,725.58 456,725.91 456.3,726.26 456.6,723.15 456.9,726.99 457.2,725.32 457.5,722.83 457.8,727.57 458.1,720.62 458.4,725.7 458.7,724.26 459,723.99 459.3,726.29 459.6,726.1 459.9,727.38 460.2,727.56 460.5,725.88 460.8,725.02 461.1,728.7 461.4,722.22 461.7,728.12 462,725.4 462.3,725.38 462.6,726.22 462.9,725.16 463.2,725.86 463.5,725.48 463.8,726.73 464.1,726.25 464.4,725.78 464.7,726.34 465,727.47 465.3,728.58 465.6,724.16 465.9,727.14 466.2,726.08 466.5,725.49 466.8,726.84 467.1,725.31 467.4,725.54 467.7,728.86 468,725.2 468.3,727.64 468.6,727.63 468.9,728.18 469.2,725.1 469.5,728.82 469.8,725.3 470.1,726.33 470.4,725.67 470.7,727.95 471,727.24 471.3,726.52 471.6,730.61 471.9,727.15 472.2,728.99 472.5,726.55 472.8,728.98 473.1,727.3 473.4,727.68 473.7,725.88 474,731.59 474.3,725.07 474.6,727.07 474.9,727.2 475.2,727.84 475.5,726.53 475.8,729.86 476.1,727.54 476.4,724.6 476.7,729.95 477,726.75 477.3,727.21 477.6,727.69 477.9,729.13 478.2,730.51 478.5,727.95 478.8,727.06 479.1,727.48 479.4,730.1 479.7,729.54 480,727.88 480.3,729.41 480.6,727.09 480.9,728.52 481.2,728.42 481.5,729.32 481.8,728.9 482.1,728.92 482.4,727.82 482.7,728.54 483,728.38 483.3,728.58 483.6,727.2 483.9,726.33 484.2,729.06 484.5,725.98 484.8,729.75 485.1,727.91 485.4,725.33 485.7,729.9 486,728.19 486.3,727.72 486.6,729.79 486.9,729.43 487.2,726.52 487.5,727.61 487.8,726 488.1,730.11 488.4,728.59 488.7,728.42 489,728.14 489.3,728.17 489.6,727.53 489.9,727.69 490.2,728.1 490.5,728.59 490.8,727.46 491.1,725.81 491.4,728.46 491.7,726.57 492,726.86 492.3,729.12 492.6,727.07 492.9,726.25 493.2,728.71 493.5,728.07 493.8,729.88 494.1,728.6 494.4,728.78 494.7,727.35 495,726.39 495.3,727.75 495.6,728.15 495.9,722.51 496.2,727.39 496.5,728.51 496.8,727.73 497.1,728.75 497.4,726.46 497.7,727.12 498,727.52 498.3,729.23 498.6,727.39 498.9,724.76 499.2,727.53 499.5,726.93 499.8,728.49 500.1,728.8 500.4,728.82 500.7,729.6 501,726.88 501.3,730.89 501.6,727.02 501.9,727.38 502.2,726.53 502.5,728.19 502.8,728.22 503.1,726.04 503.4,730.28 503.7,728.65 504,731.26 504.3,723.03 504.6,729.32 504.9,728.89 505.2,737.51 505.5,730.51 505.8,725.46 506.1,728.48 506.4,727.8 506.7,732.66 507,732.05 507.3,731.5 507.6,729.79 507.9,731.06 508.2,728.61 508.5,730.96 508.8,731.15 509.1,733.7 509.4,732.37 509.7,729.43 510,733.37 510.3,730.69 510.6,732.44 510.9,731.56 511.2,732.34 511.5,735.06 511.8,733.57 512.1,733.28 512.4,735.31 512.7,734 513,731.57 513.3,732.42 513.6,730.6 513.9,736.01 514.2,734.18 514.5,735.86 514.8,735.54 515.1,733.75 515.4,732.05 515.7,735.25 516,732.77 516.3,734.12 516.6,729.63 516.9,732.21 517.2,728.92 517.5,730.17 517.8,732.38 518.1,731.97 518.4,731.05 518.7,731.46 519,730.47 519.3,731.96 519.6,731.53 519.9,728.96 520.2,730.25 520.5,729.66 520.8,732.15 521.1,730.25 521.4,730.48 521.7,730.55 522,729.82 522.3,726.93 522.6,728.13 522.9,729.05 523.2,728.56 523.5,728.52 523.8,727.44 524.1,727.15 524.4,724.24 524.7,728.37 525,725.31 525.3,724.06 525.6,722.39 525.9,727.69 526.2,727.78 526.5,727.37 526.8,725.91 527.1,726.87 527.4,727.81 527.7,728.59 528,727.4 528.3,727.75 528.6,726.83 528.9,731.52 529.2,730.71 529.5,729.86 529.8,727.03 530.1,729.73 530.4,729.39 530.7,729.16 531,731.02 531.3,730.74 531.6,729.54 531.9,733.43 532.2,732.6 532.5,730.63 532.8,730.75 533.1,734.09 533.4,731.09 533.7,730.66 534,733.63 534.3,733.73 534.6,732.81 534.9,732.7 535.2,733.88 535.5,734.06 535.8,732.23 536.1,731.77 536.4,729.72 536.7,730.84 537,733.73 537.3,732.1 537.6,739.84 537.9,733.44 538.2,733.33 538.5,734.1 538.8,736.3 539.1,731.94 539.4,728.24 539.7,735.6 540,725.5 540.3,733.88 540.6,734.61 540.9,735.28 541.2,733.28 541.5,731.86 541.8,735.01 542.1,732.17 542.4,736.3 542.7,738.81 543,734.29 543.3,734.01 543.6,734.95 543.9,735.98 544.2,736.78 544.5,737.53 544.8,738.28 545.1,733.16 545.4,736.51 545.7,737.06 546,736.99 546.3,738.12 546.6,733.92 546.9,736.15 547.2,737.67 547.5,738.25 547.8,737.38 548.1,736.49 548.4,737.35 548.7,736.38 549,736.08 549.3,740.38 549.6,735.68 549.9,739.78 550.2,735.66 550.5,737.61 550.8,736.38 551.1,738.25 551.4,737.42 551.7,736.36 552,736.8 552.3,741.79 552.6,736.27 552.9,735.45 553.2,739.22 553.5,739.32 553.8,739.1 554.1,740.13 554.4,734.36 554.7,736.04 555,739.35 555.3,736.2 555.6,737.31 555.9,738.33 556.2,738.13 556.5,738.85 556.8,739.25 557.1,739.81 557.4,740.07 557.7,740.68 558,739.23 558.3,736.2 558.6,739.94 558.9,738.68 559.2,739.24 559.5,740.08 559.8,738.98 560.1,742.02 560.4,739.47 560.7,740.26 561,739.01 561.3,740.04 561.6,739.71 561.9,740.07 562.2,739.58 562.5,741.86 562.8,740.68 563.1,740.53 563.4,739.81 563.7,739.93 564,737.82 564.3,739.36 564.6,738.71 564.9,740.09 565.2,740.62 565.5,741.91 565.8,738.87 566.1,741.71 566.4,740.46 566.7,740 567,742.65 567.3,739.1 567.6,740.13 567.9,741.25 568.2,740.3 568.5,740.9 568.8,739.79 569.1,740.25 569.4,737.74 569.7,740.37 570,741.8 570.3,740.04 570.6,742.07 570.9,743.55 571.2,740.71 571.5,740.87 571.8,740.18 572.1,739.31 572.4,739.21 572.7,739.62 573,740.66 573.3,740.12 573.6,741.29 573.9,740.08 574.2,738.79 574.5,738.14 574.8,738.17 575.1,736.58 575.4,740.06 575.7,736.12 576,739.51 576.3,734.83 576.6,742.88 576.9,737.86 577.2,742.34 577.5,738.33 577.8,734.6 578.1,741 578.4,739.91 578.7,739.01 579,739.37 579.3,732.3 579.6,740.09 579.9,739.57 580.2,739.98 580.5,740.21 580.8,739.51 581.1,736.98 581.4,740.18 581.7,739.12 582,741.82 582.3,740.3 582.6,740.44 582.9,739.44 583.2,742.11 583.5,741.32 583.8,741 584.1,740.86 584.4,739.57 584.7,736.88 585,734.28 585.3,739.89 585.6,737.87 585.9,740.49 586.2,738.89 586.5,738.83 586.8,740.23 587.1,747.09 587.4,741.54 587.7,738.78 588,742 588.3,739.79 588.6,740.74 588.9,738.54 589.2,742.88 589.5,742.87 589.8,746.26 590.1,741.56 590.4,740.15 590.7,744.91 591,737.01 591.3,741.64 591.6,739.73 591.9,737.9 592.2,742.24 592.5,740.8 592.8,738.89 593.1,740.69 593.4,741.05 593.7,739.65 594,740.78 594.3,741.87 594.6,741.98 594.9,740.47 595.2,740.97 595.5,741.93 595.8,741.33 596.1,742.24 596.4,740.59 596.7,745.14 597,741.97 597.3,740.18 597.6,745.05 597.9,742.29 598.2,739.78 598.5,741.01 598.8,741.04 599.1,734.8 599.4,742.02 599.7,740.96 600,742.85 600.3,739.53 600.6,740.4 600.9,738.33 601.2,739.95 601.5,740.98 601.8,741.44 602.1,737.61 602.4,738.86 602.7,743.7 603,735.87 603.3,743.12 603.6,740.45 603.9,743.57 604.2,741.52 604.5,740.64 604.8,740.77 605.1,741.62 605.4,736.65 605.7,741.95 606,742.35 606.3,740.58 606.6,743.37 606.9,739.87 607.2,740.29 607.5,741.39 607.8,741.86 608.1,738.72 608.4,741.82 608.7,742 609,738.66 609.3,740.48 609.6,739.39 609.9,739.98 610.2,741.9 610.5,740.99 610.8,741.74 611.1,741.33 611.4,738.06 611.7,739.42 612,740.79 612.3,738.24 612.6,743.63 612.9,738.64 613.2,737.89 613.5,743.36 613.8,744.66 614.1,739.3 614.4,740.68 614.7,740.92 615,738.8 615.3,740.18 615.6,740.81 615.9,741.68 616.2,738.13 616.5,738.87 616.8,739.66 617.1,741.4 617.4,738.48 617.7,737.45 618,739.27 618.3,738.34 618.6,739.17 618.9,741.34 619.2,740.36 619.5,741.42 619.8,739.83 620.1,734.38 620.4,740.89 620.7,740.96 621,739.35 621.3,739.79 621.6,739.84 621.9,739.96 622.2,740.28 622.5,741.69 622.8,741.23 623.1,740.18 623.4,737.58 623.7,737.76 624,741.72 624.3,740.77 624.6,739.3 624.9,741.11 625.2,740.89 625.5,745.65 625.8,743.23 626.1,741.49 626.4,742.86 626.7,743.71 627,743.29 627.3,741.74 627.6,742.68 627.9,743.08 628.2,741.67 628.5,744.45 628.8,743.24 629.1,741.8 629.4,742.81 629.7,747.08 630,741.5 630.3,743 630.6,744.29 630.9,743.92 631.2,745.13 631.5,742.8 631.8,742.39 632.1,744.59 632.4,742.77 632.7,745.88 633,745.84 633.3,745.3 633.6,748.71 633.9,746.25 634.2,742.95 634.5,746.03 634.8,747.3 635.1,746.89 635.4,741.2 635.7,745.06 636,744.62 636.3,744.43 636.6,744.89 636.9,744.1 637.2,744.39 637.5,746.45 637.8,745.53 638.1,746.64 638.4,744.97 638.7,745.76 639,749.14 639.3,747.09 639.6,747.33 639.9,743.27 640.2,744.94 640.5,748.64 640.8,747.5 641.1,746.61 641.4,747.88 641.7,747.88 642,746.99 642.3,746.35 642.6,748.43 642.9,748.63 643.2,748.34 643.5,745.86 643.8,747.15 644.1,748.76 644.4,746.97 644.7,748.16 645,747.97 645.3,747.67 645.6,747.46 645.9,749.94 646.2,746.39 646.5,745.95 646.8,748.3 647.1,745.95 647.4,746.84 647.7,749.06 648,748.41 648.3,745.36 648.6,746.58 648.9,751.03 649.2,748.36 649.5,746.76 649.8,746.49 650.1,743.87 650.4,746.55 650.7,744.12 651,745.74 651.3,748.34 651.6,743.58 651.9,746.51 652.2,748.23 652.5,746.71 652.8,747.6 653.1,747.68 653.4,747.97 653.7,746.09 654,741.43 654.3,747.07 654.6,746.24 654.9,744.11 655.2,743.66 655.5,744.36 655.8,745.63 656.1,745.43 656.4,743.14 656.7,747.1 657,742.72 657.3,745.99 657.6,743.23 657.9,746.43 658.2,746.41 658.5,746.51 658.8,744.44 659.1,744.42 659.4,743.24 659.7,747.05 660,743.46 660.3,744.93 660.6,742.04 660.9,742.97 661.2,743.5 661.5,743.71 661.8,745.75 662.1,744.61 662.4,746.27 662.7,743.76 663,745.39 663.3,745.24 663.6,744.46 663.9,744.42 664.2,742.94 664.5,742.52 664.8,744.49 665.1,741.35 665.4,742.37 665.7,743.31 666,743.6 666.3,743.92 666.6,744.12 666.9,746.43 667.2,743.85 667.5,743.02 667.8,746.54 668.1,743.74 668.4,743.42 668.7,741.25 669,743.68 669.3,743.66 669.6,742.39 669.9,742.82 670.2,744.43 670.5,741.45 670.8,743.38 671.1,745.5 671.4,746.24 671.7,740.3 672,741.99 672.3,744.21 672.6,742.77 672.9,743.19 673.2,743.5 673.5,743.57 673.8,744.58 674.1,742.03 674.4,743.3 674.7,742.32 675,741.59 675.3,742.81 675.6,739.05 675.9,744.38 676.2,743.85 676.5,740.58 676.8,741.77 677.1,741.03 677.4,741.56 677.7,740.32 678,739.66 678.3,742.55 678.6,743.57 678.9,736.24 679.2,739.12 679.5,741.99 679.8,740.26 680.1,741.97 680.4,743.32 680.7,740.55 681,740.79 681.3,741.62 681.6,740.79 681.9,743.82 682.2,744.09 682.5,743.89 682.8,743.64 683.1,742.66 683.4,743.82 683.7,745.44 684,737.19 684.3,741.62 684.6,745.52 684.9,744.3 685.2,744.81 685.5,748.82 685.8,743.55 686.1,744.77 686.4,745.65 686.7,744.52 687,742.37 687.3,744.26 687.6,743.69 687.9,744.41 688.2,743.3 688.5,746.08 688.8,745.6 689.1,747.2 689.4,746.58 689.7,746.35 690,748.24 690.3,746.08 690.6,746.51 690.9,748.35 691.2,746.81 691.5,749.41 691.8,749.21 692.1,747.52 692.4,748.8 692.7,748.18 693,749.68 693.3,750.54 693.6,746.51 693.9,750.46 694.2,748.2 694.5,749.18 694.8,749.25 695,749 695.5,747.95 696,746.74 696.5,744.57 697,744.06 697.5,742.43 698,741.31 698.5,739.67 699,738.74 699.5,736.31 700,738.59 700.5,739.8 701,740.4 701.5,742.53 702,743.92 702.5,744.33 703,747 703.5,746.19 704,745.72 704.5,744.91 705,744.35 705.5,743.96 706,743.33 706.5,741.86 707,741.87 707.5,740.69 708,740.09 708.5,739.91 709,739.87 709.5,739.12 710,744.54 710.5,750.53 711,756.52 711.5,763.05 712,767.47 712.5,768.01 713,769.35 713.5,770.16 714,771.75 714.5,771 715,771.93 715.5,773.9 716,773.11 716.5,762.57 717,752.97 717.5,742.16 718,732.1 718.5,722.35 719,721.57 719.5,732.62 720,743.04 720.5,743.03 721,742.16 721.5,742.03 722,741 722.5,741.08 723,740.27 723.5,740.16 724,739.39 724.5,738.85 725,738.85 725.5,738.17 726,737.89 726.5,737.94 727,739.81 727.5,740.46 728,742.61 728.5,744.26 729,744.82 729.5,747.19 730,748.69 730.5,749.26 731,749.72 731.5,747.83 732,746.79 732.5,746.01 733,743.64 733.5,743.08 734,743.56 734.5,744.31 735,745.86 735.5,746.11 736,747.56 736.5,748.91 737,749.66 737.5,750.9 738,751.4 738.5,752.92 739,753.81 739.5,753.78 740,750.88 740.5,745.04 741,739.73 741.5,733.55 742,727.54 742.5,721.49 743,722.02 743.5,724.06 744,725.19 744.5,726.56 745,729.57 745.5,731.01 746,733.02 746.5,726.28 747,719.19 747.5,712.36 748,706.97 748.5,700.4 749,693.69 749.5,686.7 750,681.53 750.5,675.98 751,671.01 751.5,665.57 752,660.29 752.5,659.4 753,674.65 753.5,687.36 754,703.1 754.5,717.64 755,722.36 755.5,715.54 756,707.84 756.5,699.97 757,692.37 757.5,684.33 758,687.89 758.5,696.61 759,704.62 759.5,712.08 760,720.77 760.5,729.21 761,725.16 761.5,719.03 762,713.01 762.5,706.12 763,699.03 763.5,692.87 764,696.41 764.5,698.9 765,701.7 765.5,705.31 766,704.02 766.5,697.82 767,692.34 767.5,687.64 768,680.2 768.5,682.09 769,683.92 769.5,685.12 770,687.03 770.5,689.91 771,691.32 771.5,688.16 772,686.57 772.5,682.97 773,680.28 773.5,677.36 774,674.42 774.5,671.86 775,668.84 775.5,666.51 776,667.83 776.5,669.84 777,671.9 777.5,674.05 778,675.68 778.5,677 779,680.18 779.5,681.27 780,684.13 780.5,687.03 781,688.44 781.5,691.4 782,687.47 782.5,684.55 783,682.23 783.5,679.55 784,677.24 784.5,674.49 785,672.4 785.5,669.12 786,684.16 786.5,698.44 787,714.06 787.5,728.29 788,733.64 788.5,727.81 789,719.17 789.5,711.7 790,704.35 790.5,697.66 791,689.11 791.5,692.17 792,710.06 792.5,728.14 793,744.46 793.5,734.63 794,724.17 794.5,715.59 795,711.09 795.5,717.52 796,724.03 796.5,729.89 797,736.74 797.5,742.51 798,742.01 798.5,733.79 799,726.39 799.5,719.66 800,711.07 800.5,704.98 801,695.56 801.5,684.42 802,675.15 802.5,664.75 803,655.24 803.5,644.82 804,641.95 804.5,640.32 805,637.5 805.5,635.3 806,633.31 806.5,631.3 807,629.98 807.5,627.92 808,627.95 808.5,628.85 809,631.54 809.5,632.9 810,635.71 810.5,637.26 811,639 811.5,638.9 812,637.63 812.5,638.55 813,638.08 813.5,637.23 814,637.74 814.5,637.45 815,637.22 815.5,636.74 816,636.73 816.5,636.14 817,635.18 817.5,634.5 818,633.7 818.5,633.02 819,633.02 819.5,631.84 820,630.8 820.5,631.03 821,630.86 821.5,629.56 822,630.59 822.5,630.84 823,630.55 823.5,631.67 824,631.91 824.5,632.75 825,631.47 825.5,633.73 826,634.14 826.5,633.76 827,635.35 827.5,635.44 828,636.31 828.5,637.35 829,638.29 829.5,638.4 830,639.35 830.5,639.93 831,640.04 831.5,641.93 832,642.19 832.5,642.58 833,641.53 833.5,639.76 834,637.7 834.5,636.96 835,634.98 835.5,633.75 836,632.41 836.5,630.9 837,629.85 837.5,630.07 838,631.58 838.5,632.99 839,634.74 839.5,637.08 840,638.66 840.5,639.71 841,641.53 841.5,642 842,642.49 842.5,640.75 843,640.9 843.5,639.41 844,639.6 844.5,639.91 845,638.09 845.5,638.8 846,636.78 846.5,637.25 847,636.17 847.5,636.21 848,635.6 848.5,636.05 849,636 849.5,636.16 850,636.02 850.5,636.72 851,636.31 851.5,636.61 852,636.83 852.5,637.64 853,638.7 853.5,637.75 854,638.95 854.5,637.7 855,638.12 855,639.76 856.4,638.94 857.8,637.19 859.2,637.61 860.6,636.14 862,633.3 863.4,638.38 864.8,636.39 866.2,632.39 867.6,633.72 869,634.2 870.4,635.62 871.8,637.46 873.2,636.29 874.6,635.55 876,637.26 877.4,636.59 878.8,637.56 880.2,636.63 881.6,636.01 883,639.94 884.4,637.74 885.8,638.59 887.2,637.71 888.6,637.99 890,638.47 891.4,640.52 892.8,641.89 894.2,641.41 895.6,640.3 897,645.85 898.4,643.45 899.8,643.38 901.2,641.76 902.6,641.95 904,642.97 905.4,639.18 906.8,640.37 908.2,641.87 909.6,643.09 911,641.38 912.4,638.93 913.8,638.4 915.2,641.46 916.6,638.68 918,639.28 919.4,642.65 920.8,639.7 922.2,638.99 923.6,638.25 925,641.32 926.4,641.22 927.8,638.13 929.2,636.93 930.6,639.12 932,642.06 933.4,641.38 934.8,639.58 936.2,642.6 937.6,643.95 939,643.45 940.4,644.29 941.8,644.18 943.2,643.56 944.6,643.46 946,642.55 947.4,642.94 948.8,641.73 950.2,645.71 951.6,646.2 953,645.98 954.4,646.96 955.8,646.8 957.2,645.99 958.6,641.73 960,647.48 961.4,647.79 962.8,645.1 964.2,647.57 965.6,649.14 967,643.97 968.4,647.5 969.8,646.47 971.2,648.27 972.6,651.81 974,649.16 975.4,652.08 976.8,650.19 978.2,652.9 979.6,650.92 981,652.63 982.4,653.32 983.8,653.57 985.2,651.53 986.6,652.73 988,652.24 989.4,653.64 990.8,653.73 992.2,654.26 993.6,655.98 995,653.91 996.4,657.06 997.8,655.45 999.2,656.38 1000.6,655.96 1002,653.12 1003.4,656.38 1004.8,661.08 1006.2,658.93 1007.6,661.04 1009,658.08 1010.4,659.63 1011.8,660.66 1013.2,663.47 1014.6,661.34 1016,663.77 1017.4,660.83 1018.8,664.5" fill="none" stroke="#0000ff" stroke-width="2.0" stroke-linejoin="round" stroke-linecap="round" />
<rect x="151.2" y="575.4" width="867.6" height="242.1" fill="none" stroke="#000" stroke-width="2.3" stroke-linejoin="round"/>
<path d="M151.2,817.3H168.2M1018.8,817.3H1001.8M151.2,811.25H159.5M1018.8,811.25H1010.5M151.2,805.19H159.5M1018.8,805.19H1010.5M151.2,799.13H159.5M1018.8,799.13H1010.5M151.2,793.08H159.5M1018.8,793.08H1010.5M151.2,787.03H159.5M1018.8,787.03H1010.5M151.2,780.97H159.5M1018.8,780.97H1010.5M151.2,774.92H159.5M1018.8,774.92H1010.5M151.2,768.86H159.5M1018.8,768.86H1010.5M151.2,762.81H159.5M1018.8,762.81H1010.5M151.2,756.75H168.2M1018.8,756.75H1001.8M151.2,750.7H159.5M1018.8,750.7H1010.5M151.2,744.64H159.5M1018.8,744.64H1010.5M151.2,738.59H159.5M1018.8,738.59H1010.5M151.2,732.53H159.5M1018.8,732.53H1010.5M151.2,726.48H159.5M1018.8,726.48H1010.5M151.2,720.42H159.5M1018.8,720.42H1010.5M151.2,714.37H159.5M1018.8,714.37H1010.5M151.2,708.31H159.5M1018.8,708.31H1010.5M151.2,702.25H159.5M1018.8,702.25H1010.5M151.2,696.2H168.2M1018.8,696.2H1001.8M151.2,690.15H159.5M1018.8,690.15H1010.5M151.2,684.09H159.5M1018.8,684.09H1010.5M151.2,678.04H159.5M1018.8,678.04H1010.5M151.2,671.98H159.5M1018.8,671.98H1010.5M151.2,665.93H159.5M1018.8,665.93H1010.5M151.2,659.87H159.5M1018.8,659.87H1010.5M151.2,653.82H159.5M1018.8,653.82H1010.5M151.2,647.76H159.5M1018.8,647.76H1010.5M151.2,641.71H159.5M1018.8,641.71H1010.5M151.2,635.65H168.2M1018.8,635.65H1001.8M151.2,629.6H159.5M1018.8,629.6H1010.5M151.2,623.54H159.5M1018.8,623.54H1010.5M151.2,617.49H159.5M1018.8,617.49H1010.5M151.2,611.43H159.5M1018.8,611.43H1010.5M151.2,605.38H159.5M1018.8,605.38H1010.5M151.2,599.32H159.5M1018.8,599.32H1010.5M151.2,593.27H159.5M1018.8,593.27H1010.5M151.2,587.21H159.5M1018.8,587.21H1010.5M151.2,581.16H159.5M1018.8,581.16H1010.5M151.2,575.1H168.2M1018.8,575.1H1001.8" stroke="#000" stroke-width="2.3" fill="none"/>
<line x1="328.3" y1="1125.8" x2="328.3" y2="1103.8" stroke="#000" stroke-width="2.2" />
<line x1="328.3" y1="1081.4" x2="328.3" y2="1059.4" stroke="#000" stroke-width="2.2" />
<line x1="328.3" y1="1037" x2="328.3" y2="1015" stroke="#000" stroke-width="2.2" />
<line x1="328.3" y1="992.6" x2="328.3" y2="970.6" stroke="#000" stroke-width="2.2" />
<line x1="328.3" y1="948.2" x2="328.3" y2="926.2" stroke="#000" stroke-width="2.2" />
<line x1="328.3" y1="903.8" x2="328.3" y2="884" stroke="#000" stroke-width="2.2" />
<line x1="359.5" y1="1125.8" x2="359.5" y2="1103.8" stroke="#000" stroke-width="2.2" />
<line x1="359.5" y1="1081.4" x2="359.5" y2="1059.4" stroke="#000" stroke-width="2.2" />
<line x1="359.5" y1="1037" x2="359.5" y2="1015" stroke="#000" stroke-width="2.2" />
<line x1="359.5" y1="992.6" x2="359.5" y2="970.6" stroke="#000" stroke-width="2.2" />
<line x1="359.5" y1="948.2" x2="359.5" y2="926.2" stroke="#000" stroke-width="2.2" />
<line x1="359.5" y1="903.8" x2="359.5" y2="884" stroke="#000" stroke-width="2.2" />
<line x1="707.1" y1="1125.8" x2="707.1" y2="1103.8" stroke="#000" stroke-width="2.2" />
<line x1="707.1" y1="1081.4" x2="707.1" y2="1059.4" stroke="#000" stroke-width="2.2" />
<line x1="707.1" y1="1037" x2="707.1" y2="1015" stroke="#000" stroke-width="2.2" />
<line x1="707.1" y1="992.6" x2="707.1" y2="970.6" stroke="#000" stroke-width="2.2" />
<line x1="707.1" y1="948.2" x2="707.1" y2="926.2" stroke="#000" stroke-width="2.2" />
<line x1="707.1" y1="903.8" x2="707.1" y2="884" stroke="#000" stroke-width="2.2" />
<line x1="738.3" y1="1125.8" x2="738.3" y2="1103.8" stroke="#000" stroke-width="2.2" />
<line x1="738.3" y1="1081.4" x2="738.3" y2="1059.4" stroke="#000" stroke-width="2.2" />
<line x1="738.3" y1="1037" x2="738.3" y2="1015" stroke="#000" stroke-width="2.2" />
<line x1="738.3" y1="992.6" x2="738.3" y2="970.6" stroke="#000" stroke-width="2.2" />
<line x1="738.3" y1="948.2" x2="738.3" y2="926.2" stroke="#000" stroke-width="2.2" />
<line x1="738.3" y1="903.8" x2="738.3" y2="884" stroke="#000" stroke-width="2.2" />
<line x1="810.3" y1="1125.8" x2="810.3" y2="1103.8" stroke="#000" stroke-width="2.2" />
<line x1="810.3" y1="1081.4" x2="810.3" y2="1059.4" stroke="#000" stroke-width="2.2" />
<line x1="810.3" y1="1037" x2="810.3" y2="1015" stroke="#000" stroke-width="2.2" />
<line x1="810.3" y1="992.6" x2="810.3" y2="970.6" stroke="#000" stroke-width="2.2" />
<line x1="810.3" y1="948.2" x2="810.3" y2="926.2" stroke="#000" stroke-width="2.2" />
<line x1="810.3" y1="903.8" x2="810.3" y2="884" stroke="#000" stroke-width="2.2" />
<line x1="841.6" y1="1125.8" x2="841.6" y2="1103.8" stroke="#000" stroke-width="2.2" />
<line x1="841.6" y1="1081.4" x2="841.6" y2="1059.4" stroke="#000" stroke-width="2.2" />
<line x1="841.6" y1="1037" x2="841.6" y2="1015" stroke="#000" stroke-width="2.2" />
<line x1="841.6" y1="992.6" x2="841.6" y2="970.6" stroke="#000" stroke-width="2.2" />
<line x1="841.6" y1="948.2" x2="841.6" y2="926.2" stroke="#000" stroke-width="2.2" />
<line x1="841.6" y1="903.8" x2="841.6" y2="884" stroke="#000" stroke-width="2.2" />
<polyline points="151.2,1096.59 151.5,1096.67 151.8,1095.25 152.1,1098.79 152.4,1096.71 152.7,1096.72 153,1097.45 153.3,1099.5 153.6,1096.85 153.9,1097.11 154.2,1098.13 154.5,1097.25 154.8,1098.35 155.1,1097.26 155.4,1098.97 155.7,1096.38 156,1098.29 156.3,1097.68 156.6,1098.41 156.9,1097.97 157.2,1099.52 157.5,1098.59 157.8,1098.11 158.1,1097.97 158.4,1097.34 158.7,1097.48 159,1097.56 159.3,1099.67 159.6,1097.71 159.9,1097.24 160.2,1096.45 160.5,1098.76 160.8,1096.63 161.1,1095.25 161.4,1097.62 161.7,1099.11 162,1097.14 162.3,1098.66 162.6,1098.41 162.9,1098.73 163.2,1097.2 163.5,1097.53 163.8,1101.17 164.1,1098.73 164.4,1095.06 164.7,1099.39 165,1100.26 165.3,1097.64 165.6,1098.89 165.9,1096.96 166.2,1098 166.5,1099.86 166.8,1097.23 167.1,1099.07 167.4,1098.58 167.7,1098.69 168,1098.99 168.3,1095.45 168.6,1101.88 168.9,1096.12 169.2,1097.47 169.5,1096.6 169.8,1096.7 170.1,1098.09 170.4,1096.41 170.7,1096.77 171,1098.96 171.3,1096.82 171.6,1098.15 171.9,1096.19 172.2,1098.29 172.5,1095.95 172.8,1095.62 173.1,1096 173.4,1098.23 173.7,1096.79 174,1097.32 174.3,1098.24 174.6,1099 174.9,1098.62 175.2,1097.7 175.5,1099.64 175.8,1098.97 176.1,1099.73 176.4,1105.23 176.7,1096.87 177,1097.82 177.3,1099.47 177.6,1098.81 177.9,1098.55 178.2,1097.61 178.5,1096.87 178.8,1097.57 179.1,1098.6 179.4,1097.45 179.7,1096.41 180,1097.61 180.3,1100.52 180.6,1099.17 180.9,1100.52 181.2,1098.16 181.5,1097.95 181.8,1097.54 182.1,1100.22 182.4,1097.21 182.7,1100.9 183,1103.02 183.3,1096.57 183.6,1097.52 183.9,1095.22 184.2,1097.95 184.5,1098.97 184.8,1097.17 185.1,1098.61 185.4,1097.34 185.7,1098.01 186,1094.44 186.3,1097.2 186.6,1096.4 186.9,1097.76 187.2,1097.77 187.5,1100.51 187.8,1099.62 188.1,1102.53 188.4,1097.56 188.7,1099.78 189,1099.4 189.3,1098.49 189.6,1099.94 189.9,1098.66 190.2,1098.75 190.5,1098.17 190.8,1097.26 191.1,1099.62 191.4,1096.71 191.7,1098.55 192,1096.74 192.3,1098.26 192.6,1097.02 192.9,1099.17 193.2,1097.52 193.5,1097.67 193.8,1097.21 194.1,1097.31 194.4,1097.28 194.7,1099.62 195,1098.35 195.3,1097.01 195.6,1099.62 195.9,1098.44 196.2,1099.06 196.5,1103.07 196.8,1096.85 197.1,1097.39 197.4,1098.27 197.7,1100.11 198,1099.33 198.3,1096.23 198.6,1096.26 198.9,1099.8 199.2,1098.29 199.5,1099.33 199.8,1099.51 200.1,1095.96 200.4,1099.14 200.7,1098.02 201,1098.04 201.3,1103.8 201.6,1095.87 201.9,1097.47 202.2,1096.49 202.5,1100.2 202.8,1099.01 203.1,1095.3 203.4,1098.4 203.7,1098.62 204,1095.98 204.3,1098.72 204.6,1097.32 204.9,1099.45 205.2,1097.4 205.5,1098.03 205.8,1095.47 206.1,1096.96 206.4,1094.32 206.7,1100.27 207,1097.76 207.3,1098.28 207.6,1097.1 207.9,1097.3 208.2,1096.97 208.5,1100.96 208.8,1099.03 209.1,1100.07 209.4,1099.88 209.7,1098.37 210,1098.95 210.3,1099.43 210.6,1097.1 210.9,1097.82 211.2,1097.25 211.5,1097.84 211.8,1098.9 212.1,1100.72 212.4,1104.39 212.7,1098.81 213,1095.61 213.3,1099.68 213.6,1097.41 213.9,1099.05 214.2,1099.83 214.5,1099.86 214.8,1097.78 215.1,1098.65 215.4,1098.33 215.7,1097.87 216,1099.32 216.3,1097.85 216.6,1097.96 216.9,1098.95 217.2,1099.52 217.5,1094.6 217.8,1098.27 218.1,1102.62 218.4,1101.52 218.7,1093.72 219,1100.89 219.3,1098.47 219.6,1097.79 219.9,1099.72 220.2,1098.36 220.5,1098.17 220.8,1095.64 221.1,1094.41 221.4,1101.57 221.7,1100.02 222,1096.85 222.3,1100.28 222.6,1100.55 222.9,1097.36 223.2,1099.58 223.5,1096.75 223.8,1096.46 224.1,1099.12 224.4,1098.89 224.7,1098 225,1097.02 225.3,1097.58 225.6,1096.7 225.9,1097.5 226.2,1099.24 226.5,1099.33 226.8,1096.75 227.1,1097.78 227.4,1097.26 227.7,1098.06 228,1097.58 228.3,1096.76 228.6,1096.74 228.9,1099.29 229.2,1097.72 229.5,1095.5 229.8,1098.56 230.1,1099.28 230.4,1098.58 230.7,1097.25 231,1100.08 231.3,1100.34 231.6,1099.03 231.9,1099.42 232.2,1098.09 232.5,1098.08 232.8,1096.68 233.1,1094.8 233.4,1096.04 233.7,1098.51 234,1098.05 234.3,1097.04 234.6,1096.88 234.9,1098.21 235.2,1098.64 235.5,1094.29 235.8,1096.68 236.1,1099.09 236.4,1098.46 236.7,1096.02 237,1095.38 237.3,1099.53 237.6,1097.91 237.9,1096.37 238.2,1098.07 238.5,1098.39 238.8,1098.62 239.1,1097.53 239.4,1094.24 239.7,1097.85 240,1098.55 240.3,1098.21 240.6,1104.38 240.9,1095.35 241.2,1096.98 241.5,1098.11 241.8,1098.43 242.1,1099.87 242.4,1100.15 242.7,1097.77 243,1095.67 243.3,1098.02 243.6,1097.87 243.9,1099.38 244.2,1097.8 244.5,1097.85 244.8,1096.99 245.1,1097.09 245.4,1098.3 245.7,1097.67 246,1096.98 246.3,1097.14 246.6,1098.1 246.9,1098.05 247.2,1099.01 247.5,1096.56 247.8,1098.69 248.1,1099.54 248.4,1097.44 248.7,1095.79 249,1099.34 249.3,1095.03 249.6,1097.91 249.9,1097.21 250.2,1100.48 250.5,1099.78 250.8,1099.27 251.1,1099.07 251.4,1099.03 251.7,1099.58 252,1098.83 252.3,1098.95 252.6,1099.08 252.9,1096.56 253.2,1096.49 253.5,1098.64 253.8,1098.42 254.1,1099.08 254.4,1096.39 254.7,1099.45 255,1099.15 255.3,1096.56 255.6,1099.3 255.9,1095.53 256.2,1090.98 256.5,1098.85 256.8,1098.56 257.1,1096.04 257.4,1098.62 257.7,1099.5 258,1097.73 258.3,1099.28 258.6,1097.7 258.9,1096.73 259.2,1101.06 259.5,1098.9 259.8,1098.5 260.1,1097.94 260.4,1099.23 260.7,1096.7 261,1097.63 261.3,1098.31 261.6,1098.23 261.9,1098.4 262.2,1098.46 262.5,1101.04 262.8,1096.33 263.1,1098.23 263.4,1098.65 263.7,1094.29 264,1098.2 264.3,1099.25 264.6,1098.15 264.9,1099.06 265.2,1097.52 265.5,1098.36 265.8,1099.13 266.1,1098.74 266.4,1098.61 266.7,1097.8 267,1098.53 267.3,1095.3 267.6,1097.54 267.9,1097.87 268.2,1098.86 268.5,1099.89 268.8,1098.21 269.1,1098.38 269.4,1101.22 269.7,1099.31 270,1098.15 270.3,1097.89 270.6,1097.59 270.9,1098.86 271.2,1098.7 271.5,1099.67 271.8,1097.26 272.1,1097.9 272.4,1099.72 272.7,1096.81 273,1098.74 273.3,1099.31 273.6,1097.38 273.9,1095.94 274.2,1099.02 274.5,1097.98 274.8,1100.23 275.1,1098.15 275.4,1099.28 275.7,1098.36 276,1099.93 276.3,1097.58 276.6,1098.43 276.9,1097.86 277.2,1097.89 277.5,1100 277.8,1099.36 278.1,1099.83 278.4,1096.96 278.7,1099.64 279,1100.18 279.3,1100.26 279.6,1097.87 279.9,1098.67 280.2,1095.57 280.5,1099.92 280.8,1096.09 281.1,1098.62 281.4,1098.38 281.7,1097.83 282,1099 282.3,1096.99 282.6,1100.12 282.9,1100.86 283.2,1099.24 283.5,1098.61 283.8,1097.56 284.1,1098.83 284.4,1098.62 284.7,1097.09 285,1099.22 285.3,1097.63 285.6,1098.1 285.9,1097.16 286.2,1099.55 286.5,1101.08 286.8,1097.21 287.1,1096.93 287.4,1100.07 287.7,1098.38 288,1098.25 288.3,1102.37 288.6,1097.29 288.9,1099.74 289.2,1098.64 289.5,1095.57 289.8,1096.96 290.1,1097.86 290.4,1096.84 290.7,1099.95 291,1098.19 291.3,1099.7 291.6,1100.27 291.9,1099.64 292.2,1098.62 292.5,1098.91 292.8,1098.37 293.1,1098.66 293.4,1097.45 293.7,1099.32 294,1096.81 294.3,1097.67 294.6,1099.21 294.9,1098.81 295.2,1098.06 295.5,1099.28 295.8,1099.8 296.1,1096.39 296.4,1099.78 296.7,1096.88 297,1100.08 297.3,1097.51 297.6,1097.88 297.9,1096.52 298.2,1098.76 298.5,1100.04 298.8,1095.82 299.1,1097.65 299.4,1096.14 299.7,1098.78 300,1093.98 300.3,1099.74 300.6,1099.29 300.9,1099.79 301.2,1099.08 301.5,1098.99 301.8,1097.56 302.1,1097.47 302.4,1098.73 302.7,1098.6 303,1098.06 303.3,1099.63 303.6,1100.46 303.9,1099.43 304.2,1098.28 304.5,1099.8 304.8,1100 305.1,1099 305.4,1098.44 305.7,1098.5 306,1097.72 306.3,1096.84 306.6,1098.7 306.9,1096.41 307.2,1099.26 307.5,1096.42 307.8,1097.44 308.1,1098.33 308.4,1101.57 308.7,1100.65 309,1100.49 309.3,1097.25 309.6,1099.07 309.9,1097.93 310.2,1098.6 310.5,1097.41 310.8,1097.6 311.1,1099.34 311.4,1097.57 311.7,1099.65 312,1098.77 312.3,1099.86 312.6,1100.04 312.9,1097.52 313.2,1100.21 313.5,1098.25 313.8,1098.88 314.1,1099.13 314.4,1099.01 314.7,1099.48 315,1098.53 315.3,1097.81 315.6,1100.11 315.9,1098.31 316.2,1100.6 316.5,1100.32 316.8,1103.51 317.1,1098.84 317.4,1096.01 317.7,1098.94 318,1099.23 318.3,1098.79 318.6,1100.2 318.9,1099.62 319.2,1096.22 319.5,1101.03 319.8,1097.64 320.1,1100.95 320.4,1098.57 320.7,1098.83 321,1097.58 321.3,1099 321.6,1097.14 321.9,1104.87 322.2,1098.51 322.5,1098.79 322.8,1100.9 323.1,1096.95 323.4,1097.98 323.7,1097.71 324,1101.36 324.3,1098.81 324.6,1097.65 324.9,1097.84 325.2,1099.48 325.5,1098.2 325.8,1097.86 326.1,1099.12 326.4,1097.16 326.7,1099.4 327,1098.86 327.3,1099.59 327.6,1099.34 327.9,1099.06 328.2,1097.52 328.5,1096.19 328.8,1095.75 329.1,1096.77 329.4,1095.05 329.7,1096.68 330,1096.48 330.3,1093.13 330.6,1094.63 330.9,1095.57 331.2,1095.21 331.5,1092.8 331.8,1094.07 332.1,1091.94 332.4,1092.16 332.7,1093.83 333,1091.77 333.3,1090.21 333.6,1093.98 333.9,1094.15 334.2,1093.24 334.5,1095.89 334.8,1095.71 335.1,1099.31 335.4,1096.08 335.7,1097.85 336,1099.64 336.3,1099.22 336.6,1097.69 336.9,1101.64 337.2,1098.91 337.5,1099.94 337.8,1098.84 338.1,1099.43 338.4,1099.2 338.7,1100.59 339,1099.38 339.3,1100.6 339.6,1098.7 339.9,1099.04 340.2,1099.73 340.5,1101.6 340.8,1097.13 341.1,1099.15 341.4,1097.79 341.7,1101.43 342,1099.82 342.3,1098.66 342.6,1099.47 342.9,1101.11 343.2,1101.78 343.5,1099.31 343.8,1100.39 344.1,1101.76 344.4,1101.81 344.7,1099.57 345,1100.93 345.3,1099.6 345.6,1100.99 345.9,1100.51 346.2,1101.68 346.5,1099.19 346.8,1102.73 347.1,1101.53 347.4,1100.25 347.7,1100.71 348,1100.47 348.3,1101.67 348.6,1096.22 348.9,1099.59 349.2,1100.05 349.5,1100.73 349.8,1106.31 350.1,1102.06 350.4,1099.21 350.7,1102.12 351,1099.93 351.3,1100.03 351.6,1102.08 351.9,1100.63 352.2,1098.06 352.5,1099.69 352.8,1101.09 353.1,1102.04 353.4,1099.48 353.7,1100.6 354,1096.25 354.3,1099.28 354.6,1099.24 354.9,1099.82 355.2,1100.15 355.5,1099.47 355.8,1099.93 356.1,1097.38 356.4,1098.9 356.7,1096.43 357,1097.63 357.3,1101.4 357.6,1099.46 357.9,1099.2 358.2,1102.62 358.5,1099.02 358.8,1102.52 359.1,1099.2 359.4,1100.39 359.7,1099.43 360,1097.84 360.3,1097.57 360.6,1098.54 360.9,1099.23 361.2,1096.25 361.5,1097.23 361.8,1093.37 362.1,1093.74 362.4,1089.58 362.7,1086.32 363,1084.62 363.3,1076.25 363.6,1073.7 363.9,1068.51 364.2,1063.52 364.5,1061.11 364.8,1058.9 365,1051.65 365.9,1045 366.8,1034.78 367.7,1038.88 368.6,1027.39 369.5,1031.95 370.4,1032.58 371.3,1034.72 372.2,1038.44 373.1,1035.12 374,1043.64 374.9,1042.81 375.8,1041.73 376.7,1041.9 377.6,1046.79 378.5,1040.83 379.4,1046.18 380.3,1044.64 381.2,1044.92 382.1,1045.61 383,1044.75 383.9,1044.55 384.8,1045.68 385.7,1043.42 386.6,1047.83 387.5,1048.9 388.4,1050.33 389.3,1048.26 390.2,1047.52 391.1,1048.34 392,1045.74 392.9,1049.74 393.8,1049.27 394.7,1048.42 395.6,1046.02 396.5,1046.87 397.4,1047.85 398.3,1050.54 399.2,1049.38 400.1,1046.93 401,1049.82 401.9,1047.99 402.8,1047.26 403.7,1047.95 404.6,1058.36 405.5,1051.83 406.4,1052.59 407.3,1052.73 408.2,1053.2 409.1,1050.51 410,1051.88 410.9,1051.73 411.8,1054.85 412.7,1053.22 413.6,1056.16 414.5,1040.95 415.4,1056.15 416.3,1059.39 417.2,1058.98 418.1,1056.78 419,1060.5 419.9,1057.53 420.8,1058.82 421.7,1052.6 422.6,1055.59 423.5,1049.45 424.4,1047.81 425.3,1050.26 426.2,1052.26 427.1,1048.03 428,1045.99 428.9,1048.42 429.8,1043.97 430.7,1048.81 431.6,1048.77 432.5,1048.77 433.4,1045.62 434.3,1047.51 435.2,1042.3 436.1,1036.95 437,1044.42 437.9,1042.55 438.8,1041.21 439.7,1041.05 440.6,1041.62 441.5,1040.46 442.4,1046.12 443.3,1042.7 444.2,1040.34 445.1,1038.63 446,1040.07 446.9,1041.04 447.8,1042 448.7,1043.75 449.6,1039.66 450.5,1039.31 451.4,1043.28 452.3,1042.71 453.2,1040.97 454.1,1046.19 455,1048.2 455.9,1046.31 456.8,1039.15 457.7,1039.46 458.6,1042.9 459.5,1036.49 460.4,1043.04 461.3,1040.5 462.2,1042.27 463.1,1043.25 464,1039.71 464.9,1043.68 465.8,1041.95 466.7,1040 467.6,1036.77 468.5,1043.37 469.4,1045.55 470.3,1041.63 471.2,1040.97 472.1,1037.97 473,1045.74 473.9,1041.53 474.8,1042.55 475.7,1040.3 476.6,1043.68 477.5,1040.65 478.4,1042.97 479.3,1040.31 480.2,1039.59 481.1,1044.2 482,1039.15 482.9,1042.08 483.8,1042.59 484.7,1039.65 485.6,1038.98 486.5,1039.99 487.4,1038.86 488.3,1039.66 489.2,1037.77 490.1,1039.92 491,1038.21 491.9,1036.76 492.8,1034.5 493.7,1036.73 494.6,1035.65 495.5,1035.86 496.4,1036.17 497.3,1036.41 498.2,1034.93 499.1,1033.97 500,1032.52 500.9,1032.93 501.8,1029.11 502.7,1034.06 503.6,1030.56 504.5,1027.8 505.4,1026.26 506.3,1029.37 507.2,1029.53 508.1,1030.63 509,1027.75 509.9,1030.67 510.8,1027.41 511.7,1030.86 512.6,1025.86 513.5,1027.97 514.4,1027.21 515.3,1026.35 516.2,1027.43 517.1,1027.05 518,1026.11 518.9,1025.65 519.8,1032.19 520.9,1033.32 522,1033.13 523.1,1037.81 524.2,1034.44 525.3,1036.21 526.4,1033.75 527.5,1040.78 528.6,1030.26 529.7,1035.49 530.8,1026.9 531.9,1032.22 533,1026.34 534.1,1029.63 535.2,1025.65 536.3,1029.85 537.4,1025.68 538.5,1018.64 539.6,1023.86 540.7,1022.61 541.8,1022.26 542.9,1020.89 544,1024.25 545.1,1023.74 546.2,1021.05 547.3,1020.78 548.4,1007.98 549.5,1023.49 550.6,1027.2 551.7,1022.11 552.8,1022.67 553.9,1022.06 555,1021.61 556.1,1020.89 557.2,1021.55 558.3,1018.35 559.4,1016.81 560.5,1025.5 561.6,1023.03 562.7,1021.85 563.8,1021.95 564.9,1016.73 566,1020.78 567.1,1018.32 568.2,1018.73 569.3,1021.24 570.4,1012.97 571.5,1013.98 572.6,1022.84 573.7,1012.06 574.8,1018.73 575.9,1016.8 577,1018.05 578.1,1015.85 579.2,1012.3 580.3,1017.1 581.4,1016.09 582.5,1021.01 583.6,1010.8 584.7,1014.24 585.8,1011.92 586.9,1008.07 588,1014.7 589.1,1016.88 590.2,1012.89 591.3,1013.63 592.4,1011.74 593.5,1014.3 594.6,1011.79 595.7,1006.58 596.8,1014.76 597.9,1010.36 599,1012.3 600.1,1009.83 601.2,1005.69 602.3,1003.13 603.4,1012.24 604.5,1006.81 605.6,1010.8 606.7,1011.66 607.8,1008.04 608.9,1004.43 610,1011.1 611.1,1003.2 612.2,1003.25 613.3,1007.7 614.4,1006.27 615.5,1006.54 616.6,998.82 617.7,1000.4 618.8,1010.89 619.9,1009.75 621,1006.63 622.1,1006.56 623.2,1009.15 624.3,1002.31 625.4,998.63 626.5,999.16 627.6,1000.74 628.7,1000.8 629.8,1001.61 630.9,1001.98 632,995.53 633.1,999.72 634.2,996.5 635.3,997.52 636.4,995.36 637.5,994.39 638.6,996.11 639.7,993.5 640.8,996.28 641.9,993.58 643,998 644.1,993.97 645.2,991.49 646.3,991.48 647.4,996.22 648.5,991.98 649.6,994.56 650.7,998.38 651.8,1002.43 652.9,1002.13 654,1001.93 655.1,1000.67 656.2,996.49 657.3,995.32 658.4,996.16 659.5,1000.36 660.6,1007.18 661.7,1002.96 662.8,997.61 663.9,987.08 665,1000.33 666.1,998.2 667.2,1000.52 668.3,1003.32 669.4,999.82 670.5,998.92 671.6,1001.92 672.7,995.8 673.8,996.15 674.9,1003.5 676,990.52 677.1,997.54 678.2,996.91 679.3,993.98 680.4,994.63 681.5,990.83 682.6,997.01 683.7,1006.93 684.8,994.88 685.9,991.74 687,990.58 688.1,990.83 689.2,994.95 690.3,995.95 691.4,993.19 692.5,990.46 693.6,993.23 694.7,992.32 695,990.38 695.5,990.27 696,989.26 696.5,988.65 697,993.47 697.5,1000.42 698,1005.64 698.5,1010.74 699,1016.38 699.5,1018.2 700,1014.38 700.5,1011.22 701,1006.95 701.5,1002.12 702,998.58 702.5,998.61 703,996.89 703.5,994.82 704,993.94 704.5,992.59 705,991.67 705.5,990.82 706,990.17 706.5,991.16 707,991.94 707.5,992.72 708,992.68 708.5,982.19 709,972.59 709.5,963.57 710,955.73 710.5,948 711,939.55 711.5,931.71 712,936.13 712.5,939.33 713,941.51 713.5,942.54 714,937.89 714.5,933.79 715,930.58 715.5,927.36 716,931.6 716.5,939.68 717,945.72 717.5,953.62 718,964.43 718.5,989.36 719,1014.75 719.5,1029.34 720,1003.03 720.5,994.31 721,998.01 721.5,1001.58 722,1004.62 722.5,1007.44 723,1005.67 723.5,1005.3 724,1003.37 724.5,1001.3 725,1002.81 725.5,1007.81 726,1012.43 726.5,1017.3 727,1015.57 727.5,1001.68 728,993.52 728.5,992.81 729,991.93 729.5,991.08 730,990.63 730.5,990 731,990.85 731.5,995.49 732,1000.55 732.5,1005.21 733,1007.37 733.5,1003.48 734,998.6 734.5,994.75 735,990.45 735.5,986.96 736,984.08 736.5,981.41 737,979.24 737.5,975.76 738,974.1 738.5,971.83 739,977.64 739.5,981.85 740,987.64 740.5,992.25 741,999.36 741.5,1004.01 742,1015.89 742.5,1028.25 743,1042.12 743.5,1041.4 744,1037.12 744.5,1033.16 745,1029.29 745.5,1028.79 746,1041.58 746.5,1056.35 747,1059.13 747.5,1023.57 748,987.93 748.5,965.5 749,996.92 749.5,1028.57 750,1059.5 750.5,1068.23 751,1040.39 751.5,1013.97 752,985.84 752.5,983.19 753,1015.91 753.5,1048.75 754,1081.29 754.5,1092.44 755,1091.42 755.5,1091.33 756,1089.19 756.5,1063.96 757,1034.73 757.5,1003.94 758,1008.62 758.5,1023.51 759,1039.01 759.5,1052.75 760,1058.96 760.5,1031.98 761,1005.78 761.5,1017.19 762,1031.04 762.5,1043.78 763,1056.82 763.5,1069.81 764,1082.34 764.5,1095.48 765,1082.81 765.5,1070.69 766,1056.3 766.5,1044.74 767,1033.26 767.5,1020.97 768,1010.71 768.5,998.7 769,986.02 769.5,1001.25 770,1016.26 770.5,1030.51 771,1044.63 771.5,1059.82 772,1074.22 772.5,1052.89 773,1023.69 773.5,994.89 774,965.29 774.5,937.16 775,920.02 775.5,903.71 776,889.94 776.5,891.98 777,894.11 777.5,896.66 778,899.32 778.5,910.04 779,930.56 779.5,948.67 780,967.44 780.5,986.73 781,1005.48 781.5,1021.89 782,1034.87 782.5,1047.11 783,1060.27 783.5,1071.5 784,1085.11 784.5,1081.92 785,1058.38 785.5,1033.92 786,1010.32 786.5,985.03 787,1004.44 787.5,1034.67 788,1064.03 788.5,1057.49 789,1043.39 789.5,1028.94 790,1014.05 790.5,1002.25 791,999.84 791.5,995.95 792,995.06 792.5,994.2 793,997.91 793.5,1008.87 794,1019.98 794.5,1030.5 795,1041.67 795.5,1031.82 796,1022.9 796.5,1011.84 797,1002.28 797.5,1002.72 798,1019.31 798.5,1036.41 799,1053.15 799.5,1071.34 800,1087.5 800.5,1070.04 801,1053.88 801.5,1038.04 802,1020.6 802.5,1005.18 803,990.08 803.5,976.59 804,971.6 804.5,968.08 805,961.1 805.5,957.81 806,952.95 806.5,948.61 807,945.79 807.5,944.17 808,941.83 808.5,941.58 809,945.85 809.5,951.09 810,956.25 810.5,959.23 811,959.71 811.5,961.85 812,962.1 812.5,961.8 813,962.51 813.5,963.66 814,963.97 814.5,965.26 815,965.85 815.5,965.18 816,964.41 816.5,964.42 817,963.46 817.5,963.81 818,964.59 818.5,963.13 819,963.45 819.5,963.42 820,963.32 820.5,959.55 821,956.46 821.5,952.63 822,949.94 822.5,946.15 823,945.49 823.5,946.14 824,947.01 824.5,948.26 825,947.46 825.5,948.66 826,948.04 826.5,948.29 827,949.81 827.5,949.52 828,949.62 828.5,951.53 829,951.71 829.5,951.72 830,955.59 830.5,958.18 831,961.05 831.5,963.04 832,966.17 832.5,968.11 833,970.91 833.5,971.82 834,968.39 834.5,965.92 835,962.91 835.5,959.95 836,957.16 836.5,954.56 837,950.89 837.5,946.94 838,944.96 838.5,941.79 839,945.9 839.5,950.68 840,954.45 840.5,958.79 841,963.76 841.5,967.88 842,967.26 842.5,966.97 843,966.3 843.5,966.54 844,964.67 844.5,963.46 845,962.5 845.5,962.01 846,960.26 846.5,959 847,957.04 847.5,955.22 848,954.37 848.5,953.7 849,954.75 849.5,955.1 850,956.87 850.5,958.59 851,959.5 851.5,960.2 852,961.46 852.5,961.83 853,961.33 853.5,960.2 854,959.78 854.5,958.81 855,957.97 855,958.42 856.3,954.91 857.6,956.73 858.9,955.83 860.2,949.92 861.5,951.26 862.8,950.23 864.1,953.4 865.4,954.14 866.7,952.96 868,956.13 869.3,956.2 870.6,955.16 871.9,957.07 873.2,956.05 874.5,953.9 875.8,956.09 877.1,953.94 878.4,957.17 879.7,955.69 881,956.62 882.3,954.23 883.6,957.23 884.9,954.66 886.2,953.96 887.5,953.85 888.8,955.12 890.1,954.61 891.4,954.59 892.7,954.52 894,957.32 895.3,952.89 896.6,952.6 897.9,951.98 899.2,947.79 900.5,955.01 901.8,952.61 903.1,951.09 904.4,950.83 905.7,953.05 907,952.92 908.3,952.3 909.6,949.96 910.9,951.24 912.2,950.82 913.5,950.78 914.8,942.07 916.1,950.34 917.4,950.9 918.7,949.64 920,949.79 921.3,949.16 922.6,944.4 923.9,945.13 925.2,943.66 926.5,942.17 927.8,941.58 929.1,943.38 930.4,938.85 931.7,943.01 933,939.54 934.3,942.87 935.6,944.76 936.9,946.52 938.2,947.77 939.5,948.95 940.8,947.49 942.1,947.42 943.4,949.8 944.7,948.14 946,946.43 947.3,946.8 948.6,947.3 949.9,949.84 951.2,949.43 952.5,954.95 953.8,948.88 955.1,950.09 956.4,951.09 957.7,949.71 959,951.22 960.3,949.34 961.6,949.25 962.9,948.62 964.2,946.64 965.5,948.9 966.8,946.67 968.1,946.9 969.4,947.09 970.7,946.63 972,946.75 973.3,945.21 974.6,944.41 975.9,944.74 977.2,941.76 978.5,941.92 979.8,941.89 981.1,948 982.4,943.8 983.7,941.04 985,941.41 986.3,943.73 987.6,940.38 988.9,941.7 990.2,938.31 991.5,938.9 992.8,936.98 994.1,937.37 995.4,938.73 996.7,934.59 998,936.74 999.3,935.75 1000.6,933.93 1001.9,932.35 1003.2,934.8 1004.5,933.65 1005.8,934.82 1007.1,934.33 1008.4,936.88 1009.7,933.62 1011,932.24 1012.3,934.25 1013.6,934.29 1014.9,936.2 1016.2,935.28 1017.5,934.44 1018.8,936.29" fill="none" stroke="#000" stroke-width="2.0" stroke-linejoin="round" stroke-linecap="round" />
<rect x="151.2" y="884" width="867.6" height="241.8" fill="none" stroke="#000" stroke-width="2.3" stroke-linejoin="round"/>
<path d="M151.2,1110.66H159.5M1018.8,1110.66H1010.5M151.2,1095.52H159.5M1018.8,1095.52H1010.5M151.2,1080.39H159.5M1018.8,1080.39H1010.5M151.2,1065.25H159.5M1018.8,1065.25H1010.5M151.2,1050.11H168.2M1018.8,1050.11H1001.8M151.2,1034.97H159.5M1018.8,1034.97H1010.5M151.2,1019.83H159.5M1018.8,1019.83H1010.5M151.2,1004.7H159.5M1018.8,1004.7H1010.5M151.2,989.56H159.5M1018.8,989.56H1010.5M151.2,974.42H168.2M1018.8,974.42H1001.8M151.2,959.28H159.5M1018.8,959.28H1010.5M151.2,944.14H159.5M1018.8,944.14H1010.5M151.2,929.01H159.5M1018.8,929.01H1010.5M151.2,913.87H159.5M1018.8,913.87H1010.5M151.2,898.73H168.2M1018.8,898.73H1001.8" stroke="#000" stroke-width="2.3" fill="none"/>
<path d="M368.25,1503.89h5.67v6.36h-5.67zM368.25,1479.43h5.67v6.36h-5.67zM368.25,1454.97h5.67v6.36h-5.67zM368.25,1448.86h5.67v6.36h-5.67zM368.25,1430.51h5.67v6.36h-5.67zM368.25,1418.29h5.67v6.36h-5.67zM373.67,1430.51h5.67v6.36h-5.67zM373.67,1424.4h5.67v6.36h-5.67zM373.67,1418.29h5.67v6.36h-5.67zM379.1,1424.4h5.67v6.36h-5.67zM379.1,1412.17h5.67v6.36h-5.67zM379.1,1393.83h5.67v6.36h-5.67zM379.1,1369.37h5.67v6.36h-5.67zM379.1,1351.03h5.67v6.36h-5.67zM384.52,1430.51h5.67v6.36h-5.67zM384.52,1418.29h5.67v6.36h-5.67zM384.52,1412.17h5.67v6.36h-5.67zM384.52,1406.06h5.67v6.36h-5.67zM384.52,1387.71h5.67v6.36h-5.67zM384.52,1369.37h5.67v6.36h-5.67zM384.52,1363.26h5.67v6.36h-5.67zM384.52,1357.14h5.67v6.36h-5.67zM384.52,1344.91h5.67v6.36h-5.67zM389.94,1461.09h5.67v6.36h-5.67zM389.94,1448.86h5.67v6.36h-5.67zM389.94,1424.4h5.67v6.36h-5.67zM389.94,1418.29h5.67v6.36h-5.67zM389.94,1412.17h5.67v6.36h-5.67zM389.94,1406.06h5.67v6.36h-5.67zM389.94,1393.83h5.67v6.36h-5.67zM389.94,1369.37h5.67v6.36h-5.67zM395.36,1485.54h5.67v6.36h-5.67zM395.36,1418.29h5.67v6.36h-5.67zM395.36,1406.06h5.67v6.36h-5.67zM395.36,1393.83h5.67v6.36h-5.67zM395.36,1369.37h5.67v6.36h-5.67zM395.36,1338.8h5.67v6.36h-5.67zM400.79,1436.63h5.67v6.36h-5.67zM400.79,1424.4h5.67v6.36h-5.67zM400.79,1418.29h5.67v6.36h-5.67zM400.79,1412.17h5.67v6.36h-5.67zM400.79,1375.49h5.67v6.36h-5.67zM400.79,1344.91h5.67v6.36h-5.67zM400.79,1338.8h5.67v6.36h-5.67zM400.79,1332.69h5.67v6.36h-5.67zM400.79,1326.57h5.67v6.36h-5.67zM406.21,1436.63h5.67v6.36h-5.67zM406.21,1424.4h5.67v6.36h-5.67zM406.21,1418.29h5.67v6.36h-5.67zM406.21,1412.17h5.67v6.36h-5.67zM406.21,1338.8h5.67v6.36h-5.67zM411.63,1461.09h5.67v6.36h-5.67zM411.63,1418.29h5.67v6.36h-5.67zM411.63,1406.06h5.67v6.36h-5.67zM411.63,1369.37h5.67v6.36h-5.67zM411.63,1363.26h5.67v6.36h-5.67zM411.63,1357.14h5.67v6.36h-5.67zM417.06,1497.77h5.67v6.36h-5.67zM417.06,1473.31h5.67v6.36h-5.67zM417.06,1467.2h5.67v6.36h-5.67zM417.06,1424.4h5.67v6.36h-5.67zM417.06,1418.29h5.67v6.36h-5.67zM417.06,1412.17h5.67v6.36h-5.67zM417.06,1406.06h5.67v6.36h-5.67zM417.06,1399.94h5.67v6.36h-5.67zM422.48,1497.77h5.67v6.36h-5.67zM422.48,1479.43h5.67v6.36h-5.67zM422.48,1467.2h5.67v6.36h-5.67zM422.48,1461.09h5.67v6.36h-5.67zM422.48,1454.97h5.67v6.36h-5.67zM422.48,1448.86h5.67v6.36h-5.67zM422.48,1430.51h5.67v6.36h-5.67zM422.48,1424.4h5.67v6.36h-5.67zM422.48,1393.83h5.67v6.36h-5.67zM422.48,1369.37h5.67v6.36h-5.67zM422.48,1363.26h5.67v6.36h-5.67zM427.9,1399.94h5.67v6.36h-5.67zM427.9,1393.83h5.67v6.36h-5.67zM427.9,1338.8h5.67v6.36h-5.67zM427.9,1332.69h5.67v6.36h-5.67zM427.9,1320.46h5.67v6.36h-5.67zM433.32,1485.54h5.67v6.36h-5.67zM433.32,1479.43h5.67v6.36h-5.67zM433.32,1436.63h5.67v6.36h-5.67zM433.32,1430.51h5.67v6.36h-5.67zM433.32,1424.4h5.67v6.36h-5.67zM433.32,1406.06h5.67v6.36h-5.67zM433.32,1399.94h5.67v6.36h-5.67zM433.32,1375.49h5.67v6.36h-5.67zM433.32,1332.69h5.67v6.36h-5.67zM438.75,1467.2h5.67v6.36h-5.67zM438.75,1412.17h5.67v6.36h-5.67zM438.75,1406.06h5.67v6.36h-5.67zM438.75,1351.03h5.67v6.36h-5.67zM438.75,1332.69h5.67v6.36h-5.67zM438.75,1326.57h5.67v6.36h-5.67zM438.75,1320.46h5.67v6.36h-5.67zM444.17,1479.43h5.67v6.36h-5.67zM444.17,1473.31h5.67v6.36h-5.67zM444.17,1467.2h5.67v6.36h-5.67zM444.17,1461.09h5.67v6.36h-5.67zM444.17,1424.4h5.67v6.36h-5.67zM444.17,1418.29h5.67v6.36h-5.67zM444.17,1412.17h5.67v6.36h-5.67zM444.17,1351.03h5.67v6.36h-5.67zM444.17,1344.91h5.67v6.36h-5.67zM444.17,1338.8h5.67v6.36h-5.67zM444.17,1332.69h5.67v6.36h-5.67zM444.17,1326.57h5.67v6.36h-5.67zM449.59,1497.77h5.67v6.36h-5.67zM449.59,1485.54h5.67v6.36h-5.67zM449.59,1436.63h5.67v6.36h-5.67zM449.59,1430.51h5.67v6.36h-5.67zM449.59,1412.17h5.67v6.36h-5.67zM449.59,1406.06h5.67v6.36h-5.67zM449.59,1393.83h5.67v6.36h-5.67zM449.59,1387.71h5.67v6.36h-5.67zM449.59,1363.26h5.67v6.36h-5.67zM449.59,1351.03h5.67v6.36h-5.67zM455.02,1473.31h5.67v6.36h-5.67zM455.02,1467.2h5.67v6.36h-5.67zM455.02,1430.51h5.67v6.36h-5.67zM455.02,1418.29h5.67v6.36h-5.67zM455.02,1344.91h5.67v6.36h-5.67zM455.02,1332.69h5.67v6.36h-5.67zM455.02,1326.57h5.67v6.36h-5.67zM455.02,1320.46h5.67v6.36h-5.67zM460.44,1503.89h5.67v6.36h-5.67zM460.44,1497.77h5.67v6.36h-5.67zM460.44,1485.54h5.67v6.36h-5.67zM460.44,1461.09h5.67v6.36h-5.67zM460.44,1454.97h5.67v6.36h-5.67zM460.44,1442.74h5.67v6.36h-5.67zM460.44,1436.63h5.67v6.36h-5.67zM460.44,1424.4h5.67v6.36h-5.67zM460.44,1406.06h5.67v6.36h-5.67zM460.44,1399.94h5.67v6.36h-5.67zM460.44,1381.6h5.67v6.36h-5.67zM460.44,1351.03h5.67v6.36h-5.67zM460.44,1332.69h5.67v6.36h-5.67zM465.86,1332.69h5.67v6.36h-5.67zM465.86,1326.57h5.67v6.36h-5.67zM465.86,1320.46h5.67v6.36h-5.67zM471.29,1473.31h5.67v6.36h-5.67zM471.29,1430.51h5.67v6.36h-5.67zM471.29,1424.4h5.67v6.36h-5.67zM471.29,1412.17h5.67v6.36h-5.67zM471.29,1406.06h5.67v6.36h-5.67zM471.29,1399.94h5.67v6.36h-5.67zM471.29,1332.69h5.67v6.36h-5.67zM476.71,1503.89h5.67v6.36h-5.67zM476.71,1491.66h5.67v6.36h-5.67zM476.71,1448.86h5.67v6.36h-5.67zM476.71,1424.4h5.67v6.36h-5.67zM476.71,1418.29h5.67v6.36h-5.67zM476.71,1412.17h5.67v6.36h-5.67zM476.71,1406.06h5.67v6.36h-5.67zM476.71,1393.83h5.67v6.36h-5.67zM476.71,1387.71h5.67v6.36h-5.67zM476.71,1381.6h5.67v6.36h-5.67zM476.71,1320.46h5.67v6.36h-5.67zM482.13,1503.89h5.67v6.36h-5.67zM482.13,1491.66h5.67v6.36h-5.67zM482.13,1424.4h5.67v6.36h-5.67zM482.13,1418.29h5.67v6.36h-5.67zM482.13,1406.06h5.67v6.36h-5.67zM482.13,1387.71h5.67v6.36h-5.67zM482.13,1381.6h5.67v6.36h-5.67zM482.13,1363.26h5.67v6.36h-5.67zM482.13,1344.91h5.67v6.36h-5.67zM487.55,1430.51h5.67v6.36h-5.67zM487.55,1412.17h5.67v6.36h-5.67zM487.55,1351.03h5.67v6.36h-5.67zM487.55,1344.91h5.67v6.36h-5.67zM487.55,1338.8h5.67v6.36h-5.67zM487.55,1332.69h5.67v6.36h-5.67zM492.98,1351.03h5.67v6.36h-5.67zM492.98,1344.91h5.67v6.36h-5.67zM492.98,1314.34h5.67v6.36h-5.67zM498.4,1497.77h5.67v6.36h-5.67zM498.4,1442.74h5.67v6.36h-5.67zM498.4,1436.63h5.67v6.36h-5.67zM498.4,1424.4h5.67v6.36h-5.67zM498.4,1412.17h5.67v6.36h-5.67zM498.4,1399.94h5.67v6.36h-5.67zM498.4,1381.6h5.67v6.36h-5.67zM498.4,1369.37h5.67v6.36h-5.67zM503.82,1399.94h5.67v6.36h-5.67zM503.82,1387.71h5.67v6.36h-5.67zM503.82,1381.6h5.67v6.36h-5.67zM503.82,1363.26h5.67v6.36h-5.67zM503.82,1357.14h5.67v6.36h-5.67zM509.25,1424.4h5.67v6.36h-5.67zM509.25,1412.17h5.67v6.36h-5.67zM509.25,1406.06h5.67v6.36h-5.67zM509.25,1399.94h5.67v6.36h-5.67zM509.25,1363.26h5.67v6.36h-5.67zM509.25,1326.57h5.67v6.36h-5.67zM514.67,1418.29h5.67v6.36h-5.67zM514.67,1406.06h5.67v6.36h-5.67zM514.67,1399.94h5.67v6.36h-5.67zM514.67,1387.71h5.67v6.36h-5.67zM514.67,1351.03h5.67v6.36h-5.67zM520.09,1424.4h5.67v6.36h-5.67zM520.09,1393.83h5.67v6.36h-5.67zM520.09,1387.71h5.67v6.36h-5.67zM520.09,1381.6h5.67v6.36h-5.67zM520.09,1375.49h5.67v6.36h-5.67zM520.09,1363.26h5.67v6.36h-5.67zM520.09,1357.14h5.67v6.36h-5.67zM520.09,1351.03h5.67v6.36h-5.67zM525.51,1497.77h5.67v6.36h-5.67zM525.51,1491.66h5.67v6.36h-5.67zM525.51,1430.51h5.67v6.36h-5.67zM525.51,1424.4h5.67v6.36h-5.67zM525.51,1412.17h5.67v6.36h-5.67zM525.51,1393.83h5.67v6.36h-5.67zM525.51,1375.49h5.67v6.36h-5.67zM525.51,1363.26h5.67v6.36h-5.67zM525.51,1357.14h5.67v6.36h-5.67zM525.51,1344.91h5.67v6.36h-5.67zM525.51,1338.8h5.67v6.36h-5.67zM530.94,1497.77h5.67v6.36h-5.67zM530.94,1467.2h5.67v6.36h-5.67zM530.94,1454.97h5.67v6.36h-5.67zM530.94,1436.63h5.67v6.36h-5.67zM536.36,1430.51h5.67v6.36h-5.67zM536.36,1418.29h5.67v6.36h-5.67zM536.36,1375.49h5.67v6.36h-5.67zM536.36,1369.37h5.67v6.36h-5.67zM536.36,1363.26h5.67v6.36h-5.67zM536.36,1357.14h5.67v6.36h-5.67zM536.36,1344.91h5.67v6.36h-5.67zM541.78,1430.51h5.67v6.36h-5.67zM541.78,1424.4h5.67v6.36h-5.67zM541.78,1412.17h5.67v6.36h-5.67zM541.78,1406.06h5.67v6.36h-5.67zM541.78,1399.94h5.67v6.36h-5.67zM541.78,1387.71h5.67v6.36h-5.67zM541.78,1375.49h5.67v6.36h-5.67zM547.21,1503.89h5.67v6.36h-5.67zM547.21,1473.31h5.67v6.36h-5.67zM547.21,1430.51h5.67v6.36h-5.67zM547.21,1412.17h5.67v6.36h-5.67zM552.63,1479.43h5.67v6.36h-5.67zM552.63,1448.86h5.67v6.36h-5.67zM552.63,1393.83h5.67v6.36h-5.67zM558.05,1399.94h5.67v6.36h-5.67zM563.48,1424.4h5.67v6.36h-5.67zM563.48,1412.17h5.67v6.36h-5.67zM568.9,1412.17h5.67v6.36h-5.67zM568.9,1399.94h5.67v6.36h-5.67zM574.32,1473.31h5.67v6.36h-5.67zM574.32,1467.2h5.67v6.36h-5.67zM574.32,1430.51h5.67v6.36h-5.67zM574.32,1412.17h5.67v6.36h-5.67zM579.74,1424.4h5.67v6.36h-5.67zM579.74,1418.29h5.67v6.36h-5.67zM579.74,1406.06h5.67v6.36h-5.67zM579.74,1393.83h5.67v6.36h-5.67zM579.74,1369.37h5.67v6.36h-5.67zM585.17,1461.09h5.67v6.36h-5.67zM585.17,1430.51h5.67v6.36h-5.67zM585.17,1412.17h5.67v6.36h-5.67zM585.17,1406.06h5.67v6.36h-5.67zM590.59,1503.89h5.67v6.36h-5.67zM590.59,1491.66h5.67v6.36h-5.67zM590.59,1461.09h5.67v6.36h-5.67zM590.59,1436.63h5.67v6.36h-5.67zM590.59,1430.51h5.67v6.36h-5.67zM590.59,1418.29h5.67v6.36h-5.67zM590.59,1412.17h5.67v6.36h-5.67zM590.59,1406.06h5.67v6.36h-5.67zM590.59,1399.94h5.67v6.36h-5.67zM596.01,1412.17h5.67v6.36h-5.67zM596.01,1406.06h5.67v6.36h-5.67zM596.01,1381.6h5.67v6.36h-5.67zM596.01,1369.37h5.67v6.36h-5.67zM596.01,1357.14h5.67v6.36h-5.67zM596.01,1351.03h5.67v6.36h-5.67zM601.44,1491.66h5.67v6.36h-5.67zM601.44,1467.2h5.67v6.36h-5.67zM601.44,1461.09h5.67v6.36h-5.67zM601.44,1454.97h5.67v6.36h-5.67zM601.44,1442.74h5.67v6.36h-5.67zM601.44,1418.29h5.67v6.36h-5.67zM601.44,1406.06h5.67v6.36h-5.67zM601.44,1387.71h5.67v6.36h-5.67zM601.44,1357.14h5.67v6.36h-5.67zM601.44,1338.8h5.67v6.36h-5.67zM606.86,1454.97h5.67v6.36h-5.67zM606.86,1448.86h5.67v6.36h-5.67zM606.86,1406.06h5.67v6.36h-5.67zM606.86,1387.71h5.67v6.36h-5.67zM606.86,1326.57h5.67v6.36h-5.67zM612.28,1491.66h5.67v6.36h-5.67zM612.28,1479.43h5.67v6.36h-5.67zM612.28,1467.2h5.67v6.36h-5.67zM612.28,1418.29h5.67v6.36h-5.67zM612.28,1412.17h5.67v6.36h-5.67zM617.7,1479.43h5.67v6.36h-5.67zM617.7,1473.31h5.67v6.36h-5.67zM617.7,1461.09h5.67v6.36h-5.67zM617.7,1448.86h5.67v6.36h-5.67zM617.7,1424.4h5.67v6.36h-5.67zM617.7,1399.94h5.67v6.36h-5.67zM623.13,1461.09h5.67v6.36h-5.67zM623.13,1424.4h5.67v6.36h-5.67zM623.13,1418.29h5.67v6.36h-5.67zM623.13,1412.17h5.67v6.36h-5.67zM623.13,1375.49h5.67v6.36h-5.67zM623.13,1363.26h5.67v6.36h-5.67zM623.13,1357.14h5.67v6.36h-5.67zM623.13,1351.03h5.67v6.36h-5.67zM623.13,1344.91h5.67v6.36h-5.67zM623.13,1338.8h5.67v6.36h-5.67zM628.55,1448.86h5.67v6.36h-5.67zM628.55,1424.4h5.67v6.36h-5.67zM628.55,1412.17h5.67v6.36h-5.67zM628.55,1406.06h5.67v6.36h-5.67zM628.55,1399.94h5.67v6.36h-5.67zM628.55,1369.37h5.67v6.36h-5.67zM628.55,1344.91h5.67v6.36h-5.67zM633.97,1467.2h5.67v6.36h-5.67zM633.97,1418.29h5.67v6.36h-5.67zM633.97,1412.17h5.67v6.36h-5.67zM633.97,1399.94h5.67v6.36h-5.67zM639.4,1491.66h5.67v6.36h-5.67zM639.4,1442.74h5.67v6.36h-5.67zM639.4,1430.51h5.67v6.36h-5.67zM639.4,1412.17h5.67v6.36h-5.67zM639.4,1406.06h5.67v6.36h-5.67zM639.4,1399.94h5.67v6.36h-5.67zM639.4,1369.37h5.67v6.36h-5.67zM644.82,1497.77h5.67v6.36h-5.67zM644.82,1412.17h5.67v6.36h-5.67zM644.82,1399.94h5.67v6.36h-5.67zM644.82,1387.71h5.67v6.36h-5.67zM644.82,1375.49h5.67v6.36h-5.67zM650.24,1430.51h5.67v6.36h-5.67zM650.24,1418.29h5.67v6.36h-5.67zM650.24,1412.17h5.67v6.36h-5.67zM650.24,1406.06h5.67v6.36h-5.67zM650.24,1369.37h5.67v6.36h-5.67zM650.24,1363.26h5.67v6.36h-5.67zM650.24,1357.14h5.67v6.36h-5.67zM650.24,1338.8h5.67v6.36h-5.67zM655.66,1418.29h5.67v6.36h-5.67zM655.66,1412.17h5.67v6.36h-5.67zM655.66,1406.06h5.67v6.36h-5.67zM655.66,1399.94h5.67v6.36h-5.67zM655.66,1387.71h5.67v6.36h-5.67zM661.09,1442.74h5.67v6.36h-5.67zM666.51,1424.4h5.67v6.36h-5.67zM666.51,1418.29h5.67v6.36h-5.67zM666.51,1412.17h5.67v6.36h-5.67zM666.51,1399.94h5.67v6.36h-5.67zM666.51,1393.83h5.67v6.36h-5.67zM666.51,1387.71h5.67v6.36h-5.67zM666.51,1381.6h5.67v6.36h-5.67zM666.51,1369.37h5.67v6.36h-5.67zM666.51,1351.03h5.67v6.36h-5.67zM666.51,1344.91h5.67v6.36h-5.67zM666.51,1332.69h5.67v6.36h-5.67zM671.93,1406.06h5.67v6.36h-5.67zM671.93,1393.83h5.67v6.36h-5.67zM671.93,1387.71h5.67v6.36h-5.67zM671.93,1381.6h5.67v6.36h-5.67zM671.93,1351.03h5.67v6.36h-5.67zM671.93,1338.8h5.67v6.36h-5.67zM671.93,1326.57h5.67v6.36h-5.67zM677.36,1503.89h5.67v6.36h-5.67zM677.36,1497.77h5.67v6.36h-5.67zM677.36,1418.29h5.67v6.36h-5.67zM677.36,1338.8h5.67v6.36h-5.67zM682.78,1430.51h5.67v6.36h-5.67zM682.78,1418.29h5.67v6.36h-5.67zM682.78,1387.71h5.67v6.36h-5.67zM682.78,1375.49h5.67v6.36h-5.67zM688.2,1503.89h5.67v6.36h-5.67zM688.2,1497.77h5.67v6.36h-5.67zM688.2,1430.51h5.67v6.36h-5.67zM693.62,1424.4h5.67v6.36h-5.67zM693.62,1412.17h5.67v6.36h-5.67zM693.62,1406.06h5.67v6.36h-5.67zM693.62,1399.94h5.67v6.36h-5.67zM693.62,1381.6h5.67v6.36h-5.67zM693.62,1375.49h5.67v6.36h-5.67zM693.62,1369.37h5.67v6.36h-5.67zM693.62,1357.14h5.67v6.36h-5.67zM693.62,1344.91h5.67v6.36h-5.67zM693.62,1326.57h5.67v6.36h-5.67zM699.05,1491.66h5.67v6.36h-5.67zM699.05,1485.54h5.67v6.36h-5.67zM699.05,1454.97h5.67v6.36h-5.67zM699.05,1448.86h5.67v6.36h-5.67zM699.05,1424.4h5.67v6.36h-5.67zM699.05,1418.29h5.67v6.36h-5.67zM699.05,1406.06h5.67v6.36h-5.67zM699.05,1369.37h5.67v6.36h-5.67zM699.05,1363.26h5.67v6.36h-5.67zM699.05,1351.03h5.67v6.36h-5.67zM699.05,1344.91h5.67v6.36h-5.67zM699.05,1338.8h5.67v6.36h-5.67zM699.05,1332.69h5.67v6.36h-5.67zM704.47,1332.69h5.67v6.36h-5.67zM709.89,1503.89h5.67v6.36h-5.67zM709.89,1491.66h5.67v6.36h-5.67zM709.89,1485.54h5.67v6.36h-5.67zM709.89,1369.37h5.67v6.36h-5.67zM709.89,1357.14h5.67v6.36h-5.67zM709.89,1351.03h5.67v6.36h-5.67zM709.89,1344.91h5.67v6.36h-5.67zM715.32,1485.54h5.67v6.36h-5.67zM715.32,1381.6h5.67v6.36h-5.67zM715.32,1375.49h5.67v6.36h-5.67zM715.32,1369.37h5.67v6.36h-5.67zM715.32,1351.03h5.67v6.36h-5.67zM720.74,1363.26h5.67v6.36h-5.67zM720.74,1357.14h5.67v6.36h-5.67zM720.74,1351.03h5.67v6.36h-5.67zM726.16,1454.97h5.67v6.36h-5.67zM726.16,1448.86h5.67v6.36h-5.67zM726.16,1436.63h5.67v6.36h-5.67zM726.16,1424.4h5.67v6.36h-5.67zM726.16,1418.29h5.67v6.36h-5.67zM726.16,1412.17h5.67v6.36h-5.67zM726.16,1399.94h5.67v6.36h-5.67zM726.16,1363.26h5.67v6.36h-5.67zM726.16,1357.14h5.67v6.36h-5.67zM726.16,1344.91h5.67v6.36h-5.67zM731.59,1448.86h5.67v6.36h-5.67zM731.59,1424.4h5.67v6.36h-5.67zM731.59,1412.17h5.67v6.36h-5.67zM731.59,1399.94h5.67v6.36h-5.67zM731.59,1393.83h5.67v6.36h-5.67zM731.59,1351.03h5.67v6.36h-5.67zM731.59,1344.91h5.67v6.36h-5.67zM731.59,1338.8h5.67v6.36h-5.67zM737.01,1436.63h5.67v6.36h-5.67zM737.01,1412.17h5.67v6.36h-5.67zM737.01,1399.94h5.67v6.36h-5.67zM737.01,1393.83h5.67v6.36h-5.67zM737.01,1351.03h5.67v6.36h-5.67zM742.43,1320.46h5.67v6.36h-5.67zM747.85,1326.57h5.67v6.36h-5.67zM753.28,1448.86h5.67v6.36h-5.67zM753.28,1399.94h5.67v6.36h-5.67zM758.7,1491.66h5.67v6.36h-5.67zM758.7,1338.8h5.67v6.36h-5.67zM758.7,1332.69h5.67v6.36h-5.67zM764.12,1332.69h5.67v6.36h-5.67zM764.12,1314.34h5.67v6.36h-5.67zM764.12,1296h5.67v6.36h-5.67zM769.55,1497.77h5.67v6.36h-5.67zM769.55,1332.69h5.67v6.36h-5.67zM769.55,1314.34h5.67v6.36h-5.67zM769.55,1308.23h5.67v6.36h-5.67zM769.55,1302.11h5.67v6.36h-5.67zM774.97,1503.89h5.67v6.36h-5.67zM774.97,1491.66h5.67v6.36h-5.67zM774.97,1351.03h5.67v6.36h-5.67zM774.97,1344.91h5.67v6.36h-5.67zM774.97,1314.34h5.67v6.36h-5.67zM774.97,1302.11h5.67v6.36h-5.67zM774.97,1289.89h5.67v6.36h-5.67zM780.39,1473.31h5.67v6.36h-5.67zM780.39,1351.03h5.67v6.36h-5.67zM780.39,1332.69h5.67v6.36h-5.67zM780.39,1326.57h5.67v6.36h-5.67zM785.81,1326.57h5.67v6.36h-5.67zM785.81,1320.46h5.67v6.36h-5.67zM785.81,1296h5.67v6.36h-5.67zM791.24,1363.26h5.67v6.36h-5.67zM791.24,1357.14h5.67v6.36h-5.67zM791.24,1344.91h5.67v6.36h-5.67zM791.24,1332.69h5.67v6.36h-5.67zM791.24,1326.57h5.67v6.36h-5.67zM791.24,1302.11h5.67v6.36h-5.67zM791.24,1289.89h5.67v6.36h-5.67zM796.66,1467.2h5.67v6.36h-5.67zM796.66,1461.09h5.67v6.36h-5.67zM796.66,1454.97h5.67v6.36h-5.67zM796.66,1448.86h5.67v6.36h-5.67zM796.66,1436.63h5.67v6.36h-5.67zM796.66,1424.4h5.67v6.36h-5.67zM796.66,1418.29h5.67v6.36h-5.67zM796.66,1412.17h5.67v6.36h-5.67zM796.66,1399.94h5.67v6.36h-5.67zM796.66,1393.83h5.67v6.36h-5.67zM796.66,1387.71h5.67v6.36h-5.67zM796.66,1375.49h5.67v6.36h-5.67zM796.66,1369.37h5.67v6.36h-5.67zM796.66,1357.14h5.67v6.36h-5.67zM796.66,1351.03h5.67v6.36h-5.67zM796.66,1344.91h5.67v6.36h-5.67zM802.08,1454.97h5.67v6.36h-5.67zM802.08,1448.86h5.67v6.36h-5.67zM802.08,1430.51h5.67v6.36h-5.67zM802.08,1418.29h5.67v6.36h-5.67zM802.08,1412.17h5.67v6.36h-5.67zM802.08,1387.71h5.67v6.36h-5.67zM802.08,1357.14h5.67v6.36h-5.67zM802.08,1332.69h5.67v6.36h-5.67zM802.08,1320.46h5.67v6.36h-5.67zM970.19,1436.63h5.67v6.36h-5.67zM997.31,1442.74h5.67v6.36h-5.67z" fill="#ffff00"/>
<path d="M368.25,1473.31h5.67v6.36h-5.67zM368.25,1424.4h5.67v6.36h-5.67zM373.67,1357.14h5.67v6.36h-5.67zM373.67,1351.03h5.67v6.36h-5.67zM379.1,1344.91h5.67v6.36h-5.67zM379.1,1338.8h5.67v6.36h-5.67zM379.1,1332.69h5.67v6.36h-5.67zM384.52,1393.83h5.67v6.36h-5.67zM384.52,1320.46h5.67v6.36h-5.67zM389.94,1479.43h5.67v6.36h-5.67zM389.94,1473.31h5.67v6.36h-5.67zM389.94,1430.51h5.67v6.36h-5.67zM389.94,1399.94h5.67v6.36h-5.67zM389.94,1381.6h5.67v6.36h-5.67zM389.94,1363.26h5.67v6.36h-5.67zM389.94,1357.14h5.67v6.36h-5.67zM389.94,1351.03h5.67v6.36h-5.67zM389.94,1332.69h5.67v6.36h-5.67zM389.94,1326.57h5.67v6.36h-5.67zM395.36,1412.17h5.67v6.36h-5.67zM395.36,1351.03h5.67v6.36h-5.67zM395.36,1332.69h5.67v6.36h-5.67zM395.36,1326.57h5.67v6.36h-5.67zM406.21,1351.03h5.67v6.36h-5.67zM406.21,1344.91h5.67v6.36h-5.67zM406.21,1332.69h5.67v6.36h-5.67zM411.63,1430.51h5.67v6.36h-5.67zM411.63,1424.4h5.67v6.36h-5.67zM411.63,1381.6h5.67v6.36h-5.67zM411.63,1351.03h5.67v6.36h-5.67zM411.63,1338.8h5.67v6.36h-5.67zM411.63,1332.69h5.67v6.36h-5.67zM417.06,1430.51h5.67v6.36h-5.67zM417.06,1338.8h5.67v6.36h-5.67zM417.06,1332.69h5.67v6.36h-5.67zM417.06,1326.57h5.67v6.36h-5.67zM422.48,1473.31h5.67v6.36h-5.67zM422.48,1436.63h5.67v6.36h-5.67zM422.48,1412.17h5.67v6.36h-5.67zM422.48,1406.06h5.67v6.36h-5.67zM422.48,1399.94h5.67v6.36h-5.67zM422.48,1375.49h5.67v6.36h-5.67zM422.48,1344.91h5.67v6.36h-5.67zM422.48,1332.69h5.67v6.36h-5.67zM433.32,1412.17h5.67v6.36h-5.67zM433.32,1351.03h5.67v6.36h-5.67zM433.32,1344.91h5.67v6.36h-5.67zM433.32,1338.8h5.67v6.36h-5.67zM449.59,1479.43h5.67v6.36h-5.67zM449.59,1344.91h5.67v6.36h-5.67zM449.59,1338.8h5.67v6.36h-5.67zM449.59,1332.69h5.67v6.36h-5.67zM449.59,1326.57h5.67v6.36h-5.67zM455.02,1338.8h5.67v6.36h-5.67zM455.02,1308.23h5.67v6.36h-5.67zM460.44,1473.31h5.67v6.36h-5.67zM460.44,1430.51h5.67v6.36h-5.67zM460.44,1412.17h5.67v6.36h-5.67zM460.44,1344.91h5.67v6.36h-5.67zM460.44,1338.8h5.67v6.36h-5.67zM460.44,1326.57h5.67v6.36h-5.67zM465.86,1314.34h5.67v6.36h-5.67zM465.86,1302.11h5.67v6.36h-5.67zM465.86,1296h5.67v6.36h-5.67zM471.29,1418.29h5.67v6.36h-5.67zM471.29,1351.03h5.67v6.36h-5.67zM471.29,1344.91h5.67v6.36h-5.67zM471.29,1338.8h5.67v6.36h-5.67zM476.71,1338.8h5.67v6.36h-5.67zM476.71,1332.69h5.67v6.36h-5.67zM476.71,1326.57h5.67v6.36h-5.67zM482.13,1412.17h5.67v6.36h-5.67zM482.13,1338.8h5.67v6.36h-5.67zM482.13,1326.57h5.67v6.36h-5.67zM482.13,1320.46h5.67v6.36h-5.67zM487.55,1326.57h5.67v6.36h-5.67zM492.98,1406.06h5.67v6.36h-5.67zM492.98,1332.69h5.67v6.36h-5.67zM492.98,1326.57h5.67v6.36h-5.67zM492.98,1320.46h5.67v6.36h-5.67zM498.4,1430.51h5.67v6.36h-5.67zM498.4,1363.26h5.67v6.36h-5.67zM498.4,1344.91h5.67v6.36h-5.67zM503.82,1430.51h5.67v6.36h-5.67zM503.82,1351.03h5.67v6.36h-5.67zM503.82,1332.69h5.67v6.36h-5.67zM509.25,1351.03h5.67v6.36h-5.67zM509.25,1344.91h5.67v6.36h-5.67zM509.25,1338.8h5.67v6.36h-5.67zM514.67,1344.91h5.67v6.36h-5.67zM514.67,1338.8h5.67v6.36h-5.67zM514.67,1332.69h5.67v6.36h-5.67zM514.67,1326.57h5.67v6.36h-5.67zM520.09,1338.8h5.67v6.36h-5.67zM520.09,1320.46h5.67v6.36h-5.67zM525.51,1332.69h5.67v6.36h-5.67zM525.51,1326.57h5.67v6.36h-5.67zM530.94,1491.66h5.67v6.36h-5.67zM530.94,1430.51h5.67v6.36h-5.67zM530.94,1424.4h5.67v6.36h-5.67zM530.94,1418.29h5.67v6.36h-5.67zM530.94,1406.06h5.67v6.36h-5.67zM530.94,1399.94h5.67v6.36h-5.67zM530.94,1393.83h5.67v6.36h-5.67zM530.94,1387.71h5.67v6.36h-5.67zM530.94,1381.6h5.67v6.36h-5.67zM530.94,1375.49h5.67v6.36h-5.67zM530.94,1369.37h5.67v6.36h-5.67zM530.94,1363.26h5.67v6.36h-5.67zM530.94,1338.8h5.67v6.36h-5.67zM530.94,1332.69h5.67v6.36h-5.67zM536.36,1351.03h5.67v6.36h-5.67zM536.36,1338.8h5.67v6.36h-5.67zM536.36,1332.69h5.67v6.36h-5.67zM536.36,1326.57h5.67v6.36h-5.67zM536.36,1320.46h5.67v6.36h-5.67zM541.78,1393.83h5.67v6.36h-5.67zM541.78,1369.37h5.67v6.36h-5.67zM541.78,1363.26h5.67v6.36h-5.67zM541.78,1357.14h5.67v6.36h-5.67zM541.78,1351.03h5.67v6.36h-5.67zM541.78,1344.91h5.67v6.36h-5.67zM541.78,1338.8h5.67v6.36h-5.67zM541.78,1332.69h5.67v6.36h-5.67zM547.21,1424.4h5.67v6.36h-5.67zM547.21,1418.29h5.67v6.36h-5.67zM547.21,1406.06h5.67v6.36h-5.67zM547.21,1399.94h5.67v6.36h-5.67zM547.21,1393.83h5.67v6.36h-5.67zM547.21,1387.71h5.67v6.36h-5.67zM547.21,1381.6h5.67v6.36h-5.67zM547.21,1375.49h5.67v6.36h-5.67zM547.21,1363.26h5.67v6.36h-5.67zM547.21,1351.03h5.67v6.36h-5.67zM547.21,1344.91h5.67v6.36h-5.67zM547.21,1338.8h5.67v6.36h-5.67zM552.63,1418.29h5.67v6.36h-5.67zM552.63,1399.94h5.67v6.36h-5.67zM552.63,1387.71h5.67v6.36h-5.67zM552.63,1375.49h5.67v6.36h-5.67zM552.63,1369.37h5.67v6.36h-5.67zM552.63,1363.26h5.67v6.36h-5.67zM552.63,1351.03h5.67v6.36h-5.67zM552.63,1344.91h5.67v6.36h-5.67zM552.63,1332.69h5.67v6.36h-5.67zM558.05,1418.29h5.67v6.36h-5.67zM558.05,1393.83h5.67v6.36h-5.67zM558.05,1387.71h5.67v6.36h-5.67zM558.05,1381.6h5.67v6.36h-5.67zM558.05,1357.14h5.67v6.36h-5.67zM558.05,1351.03h5.67v6.36h-5.67zM558.05,1344.91h5.67v6.36h-5.67zM563.48,1418.29h5.67v6.36h-5.67zM563.48,1399.94h5.67v6.36h-5.67zM563.48,1393.83h5.67v6.36h-5.67zM563.48,1387.71h5.67v6.36h-5.67zM563.48,1369.37h5.67v6.36h-5.67zM563.48,1363.26h5.67v6.36h-5.67zM563.48,1351.03h5.67v6.36h-5.67zM568.9,1418.29h5.67v6.36h-5.67zM568.9,1393.83h5.67v6.36h-5.67zM568.9,1387.71h5.67v6.36h-5.67zM568.9,1375.49h5.67v6.36h-5.67zM568.9,1351.03h5.67v6.36h-5.67zM574.32,1461.09h5.67v6.36h-5.67zM574.32,1424.4h5.67v6.36h-5.67zM574.32,1418.29h5.67v6.36h-5.67zM574.32,1393.83h5.67v6.36h-5.67zM574.32,1387.71h5.67v6.36h-5.67zM574.32,1381.6h5.67v6.36h-5.67zM574.32,1369.37h5.67v6.36h-5.67zM574.32,1351.03h5.67v6.36h-5.67zM574.32,1332.69h5.67v6.36h-5.67zM579.74,1412.17h5.67v6.36h-5.67zM579.74,1399.94h5.67v6.36h-5.67zM579.74,1387.71h5.67v6.36h-5.67zM579.74,1381.6h5.67v6.36h-5.67zM579.74,1375.49h5.67v6.36h-5.67zM579.74,1363.26h5.67v6.36h-5.67zM579.74,1357.14h5.67v6.36h-5.67zM579.74,1351.03h5.67v6.36h-5.67zM579.74,1344.91h5.67v6.36h-5.67zM579.74,1338.8h5.67v6.36h-5.67zM585.17,1424.4h5.67v6.36h-5.67zM585.17,1399.94h5.67v6.36h-5.67zM585.17,1393.83h5.67v6.36h-5.67zM585.17,1387.71h5.67v6.36h-5.67zM585.17,1381.6h5.67v6.36h-5.67zM585.17,1369.37h5.67v6.36h-5.67zM585.17,1357.14h5.67v6.36h-5.67zM585.17,1351.03h5.67v6.36h-5.67zM585.17,1344.91h5.67v6.36h-5.67zM585.17,1338.8h5.67v6.36h-5.67zM590.59,1442.74h5.67v6.36h-5.67zM590.59,1393.83h5.67v6.36h-5.67zM590.59,1387.71h5.67v6.36h-5.67zM590.59,1375.49h5.67v6.36h-5.67zM590.59,1363.26h5.67v6.36h-5.67zM590.59,1357.14h5.67v6.36h-5.67zM590.59,1351.03h5.67v6.36h-5.67zM590.59,1344.91h5.67v6.36h-5.67zM590.59,1338.8h5.67v6.36h-5.67zM590.59,1332.69h5.67v6.36h-5.67zM596.01,1375.49h5.67v6.36h-5.67zM596.01,1344.91h5.67v6.36h-5.67zM596.01,1332.69h5.67v6.36h-5.67zM601.44,1399.94h5.67v6.36h-5.67zM601.44,1393.83h5.67v6.36h-5.67zM601.44,1375.49h5.67v6.36h-5.67zM601.44,1363.26h5.67v6.36h-5.67zM601.44,1351.03h5.67v6.36h-5.67zM601.44,1344.91h5.67v6.36h-5.67zM606.86,1381.6h5.67v6.36h-5.67zM606.86,1369.37h5.67v6.36h-5.67zM606.86,1344.91h5.67v6.36h-5.67zM606.86,1338.8h5.67v6.36h-5.67zM606.86,1332.69h5.67v6.36h-5.67zM612.28,1461.09h5.67v6.36h-5.67zM612.28,1406.06h5.67v6.36h-5.67zM612.28,1399.94h5.67v6.36h-5.67zM612.28,1393.83h5.67v6.36h-5.67zM612.28,1387.71h5.67v6.36h-5.67zM612.28,1381.6h5.67v6.36h-5.67zM612.28,1363.26h5.67v6.36h-5.67zM612.28,1357.14h5.67v6.36h-5.67zM612.28,1351.03h5.67v6.36h-5.67zM612.28,1338.8h5.67v6.36h-5.67zM612.28,1326.57h5.67v6.36h-5.67zM617.7,1412.17h5.67v6.36h-5.67zM617.7,1406.06h5.67v6.36h-5.67zM617.7,1393.83h5.67v6.36h-5.67zM617.7,1381.6h5.67v6.36h-5.67zM617.7,1363.26h5.67v6.36h-5.67zM617.7,1357.14h5.67v6.36h-5.67zM617.7,1351.03h5.67v6.36h-5.67zM617.7,1338.8h5.67v6.36h-5.67zM623.13,1393.83h5.67v6.36h-5.67zM623.13,1387.71h5.67v6.36h-5.67zM623.13,1369.37h5.67v6.36h-5.67zM623.13,1332.69h5.67v6.36h-5.67zM623.13,1326.57h5.67v6.36h-5.67zM628.55,1454.97h5.67v6.36h-5.67zM628.55,1393.83h5.67v6.36h-5.67zM628.55,1387.71h5.67v6.36h-5.67zM628.55,1381.6h5.67v6.36h-5.67zM628.55,1363.26h5.67v6.36h-5.67zM628.55,1357.14h5.67v6.36h-5.67zM633.97,1406.06h5.67v6.36h-5.67zM633.97,1393.83h5.67v6.36h-5.67zM633.97,1381.6h5.67v6.36h-5.67zM633.97,1375.49h5.67v6.36h-5.67zM633.97,1357.14h5.67v6.36h-5.67zM633.97,1351.03h5.67v6.36h-5.67zM633.97,1326.57h5.67v6.36h-5.67zM639.4,1424.4h5.67v6.36h-5.67zM639.4,1418.29h5.67v6.36h-5.67zM639.4,1393.83h5.67v6.36h-5.67zM639.4,1387.71h5.67v6.36h-5.67zM639.4,1381.6h5.67v6.36h-5.67zM639.4,1363.26h5.67v6.36h-5.67zM639.4,1357.14h5.67v6.36h-5.67zM639.4,1351.03h5.67v6.36h-5.67zM639.4,1344.91h5.67v6.36h-5.67zM639.4,1338.8h5.67v6.36h-5.67zM644.82,1406.06h5.67v6.36h-5.67zM644.82,1381.6h5.67v6.36h-5.67zM644.82,1369.37h5.67v6.36h-5.67zM644.82,1363.26h5.67v6.36h-5.67zM644.82,1351.03h5.67v6.36h-5.67zM644.82,1344.91h5.67v6.36h-5.67zM644.82,1338.8h5.67v6.36h-5.67zM644.82,1326.57h5.67v6.36h-5.67zM650.24,1399.94h5.67v6.36h-5.67zM650.24,1393.83h5.67v6.36h-5.67zM650.24,1387.71h5.67v6.36h-5.67zM650.24,1381.6h5.67v6.36h-5.67zM650.24,1375.49h5.67v6.36h-5.67zM650.24,1351.03h5.67v6.36h-5.67zM650.24,1344.91h5.67v6.36h-5.67zM655.66,1381.6h5.67v6.36h-5.67zM655.66,1375.49h5.67v6.36h-5.67zM655.66,1369.37h5.67v6.36h-5.67zM655.66,1363.26h5.67v6.36h-5.67zM655.66,1357.14h5.67v6.36h-5.67zM655.66,1351.03h5.67v6.36h-5.67zM655.66,1332.69h5.67v6.36h-5.67zM661.09,1424.4h5.67v6.36h-5.67zM661.09,1412.17h5.67v6.36h-5.67zM661.09,1406.06h5.67v6.36h-5.67zM661.09,1393.83h5.67v6.36h-5.67zM666.51,1363.26h5.67v6.36h-5.67zM671.93,1412.17h5.67v6.36h-5.67zM671.93,1399.94h5.67v6.36h-5.67zM671.93,1375.49h5.67v6.36h-5.67zM671.93,1363.26h5.67v6.36h-5.67zM671.93,1344.91h5.67v6.36h-5.67zM671.93,1332.69h5.67v6.36h-5.67zM671.93,1320.46h5.67v6.36h-5.67zM677.36,1412.17h5.67v6.36h-5.67zM677.36,1406.06h5.67v6.36h-5.67zM677.36,1399.94h5.67v6.36h-5.67zM677.36,1381.6h5.67v6.36h-5.67zM677.36,1375.49h5.67v6.36h-5.67zM677.36,1369.37h5.67v6.36h-5.67zM677.36,1363.26h5.67v6.36h-5.67zM677.36,1357.14h5.67v6.36h-5.67zM677.36,1344.91h5.67v6.36h-5.67zM677.36,1332.69h5.67v6.36h-5.67zM677.36,1326.57h5.67v6.36h-5.67zM682.78,1393.83h5.67v6.36h-5.67zM682.78,1381.6h5.67v6.36h-5.67zM682.78,1369.37h5.67v6.36h-5.67zM682.78,1363.26h5.67v6.36h-5.67zM682.78,1357.14h5.67v6.36h-5.67zM682.78,1344.91h5.67v6.36h-5.67zM682.78,1338.8h5.67v6.36h-5.67zM682.78,1320.46h5.67v6.36h-5.67zM688.2,1424.4h5.67v6.36h-5.67zM688.2,1418.29h5.67v6.36h-5.67zM688.2,1412.17h5.67v6.36h-5.67zM688.2,1406.06h5.67v6.36h-5.67zM688.2,1393.83h5.67v6.36h-5.67zM688.2,1381.6h5.67v6.36h-5.67zM688.2,1375.49h5.67v6.36h-5.67zM688.2,1351.03h5.67v6.36h-5.67zM688.2,1344.91h5.67v6.36h-5.67zM693.62,1418.29h5.67v6.36h-5.67zM693.62,1387.71h5.67v6.36h-5.67zM693.62,1363.26h5.67v6.36h-5.67zM693.62,1351.03h5.67v6.36h-5.67zM693.62,1338.8h5.67v6.36h-5.67zM699.05,1412.17h5.67v6.36h-5.67zM699.05,1399.94h5.67v6.36h-5.67zM699.05,1387.71h5.67v6.36h-5.67zM699.05,1381.6h5.67v6.36h-5.67zM699.05,1375.49h5.67v6.36h-5.67zM704.47,1363.26h5.67v6.36h-5.67zM704.47,1338.8h5.67v6.36h-5.67zM709.89,1363.26h5.67v6.36h-5.67zM715.32,1363.26h5.67v6.36h-5.67zM715.32,1357.14h5.67v6.36h-5.67zM726.16,1351.03h5.67v6.36h-5.67zM726.16,1332.69h5.67v6.36h-5.67zM731.59,1363.26h5.67v6.36h-5.67zM737.01,1406.06h5.67v6.36h-5.67zM737.01,1363.26h5.67v6.36h-5.67zM737.01,1344.91h5.67v6.36h-5.67zM747.85,1314.34h5.67v6.36h-5.67zM747.85,1302.11h5.67v6.36h-5.67zM747.85,1296h5.67v6.36h-5.67zM753.28,1338.8h5.67v6.36h-5.67zM753.28,1296h5.67v6.36h-5.67zM758.7,1326.57h5.67v6.36h-5.67zM764.12,1320.46h5.67v6.36h-5.67zM764.12,1302.11h5.67v6.36h-5.67zM764.12,1289.89h5.67v6.36h-5.67zM769.55,1338.8h5.67v6.36h-5.67zM769.55,1326.57h5.67v6.36h-5.67zM769.55,1320.46h5.67v6.36h-5.67zM769.55,1296h5.67v6.36h-5.67zM769.55,1289.89h5.67v6.36h-5.67zM774.97,1326.57h5.67v6.36h-5.67zM774.97,1308.23h5.67v6.36h-5.67zM774.97,1296h5.67v6.36h-5.67zM780.39,1479.43h5.67v6.36h-5.67zM780.39,1357.14h5.67v6.36h-5.67zM780.39,1320.46h5.67v6.36h-5.67zM780.39,1308.23h5.67v6.36h-5.67zM780.39,1302.11h5.67v6.36h-5.67zM780.39,1296h5.67v6.36h-5.67zM780.39,1289.89h5.67v6.36h-5.67zM785.81,1308.23h5.67v6.36h-5.67zM785.81,1302.11h5.67v6.36h-5.67zM785.81,1283.77h5.67v6.36h-5.67zM791.24,1314.34h5.67v6.36h-5.67zM791.24,1308.23h5.67v6.36h-5.67zM791.24,1296h5.67v6.36h-5.67zM791.24,1283.77h5.67v6.36h-5.67zM796.66,1442.74h5.67v6.36h-5.67zM796.66,1363.26h5.67v6.36h-5.67zM796.66,1338.8h5.67v6.36h-5.67zM802.08,1442.74h5.67v6.36h-5.67zM802.08,1406.06h5.67v6.36h-5.67zM802.08,1399.94h5.67v6.36h-5.67zM802.08,1393.83h5.67v6.36h-5.67zM802.08,1381.6h5.67v6.36h-5.67zM802.08,1375.49h5.67v6.36h-5.67zM802.08,1369.37h5.67v6.36h-5.67zM802.08,1363.26h5.67v6.36h-5.67zM802.08,1351.03h5.67v6.36h-5.67zM802.08,1344.91h5.67v6.36h-5.67zM802.08,1338.8h5.67v6.36h-5.67zM802.08,1326.57h5.67v6.36h-5.67zM802.08,1314.34h5.67v6.36h-5.67zM812.93,1393.83h5.67v6.36h-5.67zM823.77,1485.54h5.67v6.36h-5.67zM834.62,1387.71h5.67v6.36h-5.67zM840.04,1375.49h5.67v6.36h-5.67zM850.89,1351.03h5.67v6.36h-5.67zM856.31,1357.14h5.67v6.36h-5.67zM921.39,1375.49h5.67v6.36h-5.67zM937.66,1393.83h5.67v6.36h-5.67zM953.92,1381.6h5.67v6.36h-5.67zM991.89,1369.37h5.67v6.36h-5.67zM997.31,1412.17h5.67v6.36h-5.67z" fill="#bfff40"/>
<path d="M368.25,1467.2h5.67v6.36h-5.67zM373.67,1497.77h5.67v6.36h-5.67zM373.67,1491.66h5.67v6.36h-5.67zM373.67,1467.2h5.67v6.36h-5.67zM373.67,1442.74h5.67v6.36h-5.67zM373.67,1436.63h5.67v6.36h-5.67zM373.67,1412.17h5.67v6.36h-5.67zM379.1,1497.77h5.67v6.36h-5.67zM379.1,1479.43h5.67v6.36h-5.67zM379.1,1467.2h5.67v6.36h-5.67zM379.1,1442.74h5.67v6.36h-5.67zM379.1,1436.63h5.67v6.36h-5.67zM379.1,1430.51h5.67v6.36h-5.67zM379.1,1418.29h5.67v6.36h-5.67zM379.1,1406.06h5.67v6.36h-5.67zM379.1,1399.94h5.67v6.36h-5.67zM379.1,1387.71h5.67v6.36h-5.67zM379.1,1375.49h5.67v6.36h-5.67zM379.1,1363.26h5.67v6.36h-5.67zM384.52,1467.2h5.67v6.36h-5.67zM384.52,1461.09h5.67v6.36h-5.67zM384.52,1454.97h5.67v6.36h-5.67zM384.52,1448.86h5.67v6.36h-5.67zM384.52,1442.74h5.67v6.36h-5.67zM384.52,1375.49h5.67v6.36h-5.67zM389.94,1497.77h5.67v6.36h-5.67zM389.94,1467.2h5.67v6.36h-5.67zM389.94,1387.71h5.67v6.36h-5.67zM389.94,1375.49h5.67v6.36h-5.67zM395.36,1479.43h5.67v6.36h-5.67zM395.36,1473.31h5.67v6.36h-5.67zM395.36,1448.86h5.67v6.36h-5.67zM395.36,1442.74h5.67v6.36h-5.67zM395.36,1436.63h5.67v6.36h-5.67zM395.36,1430.51h5.67v6.36h-5.67zM395.36,1424.4h5.67v6.36h-5.67zM395.36,1399.94h5.67v6.36h-5.67zM395.36,1387.71h5.67v6.36h-5.67zM395.36,1381.6h5.67v6.36h-5.67zM395.36,1375.49h5.67v6.36h-5.67zM395.36,1363.26h5.67v6.36h-5.67zM395.36,1357.14h5.67v6.36h-5.67zM400.79,1497.77h5.67v6.36h-5.67zM400.79,1491.66h5.67v6.36h-5.67zM400.79,1485.54h5.67v6.36h-5.67zM400.79,1473.31h5.67v6.36h-5.67zM400.79,1467.2h5.67v6.36h-5.67zM400.79,1454.97h5.67v6.36h-5.67zM400.79,1442.74h5.67v6.36h-5.67zM400.79,1430.51h5.67v6.36h-5.67zM400.79,1406.06h5.67v6.36h-5.67zM400.79,1399.94h5.67v6.36h-5.67zM400.79,1387.71h5.67v6.36h-5.67zM400.79,1381.6h5.67v6.36h-5.67zM400.79,1369.37h5.67v6.36h-5.67zM400.79,1363.26h5.67v6.36h-5.67zM400.79,1357.14h5.67v6.36h-5.67zM406.21,1503.89h5.67v6.36h-5.67zM406.21,1485.54h5.67v6.36h-5.67zM406.21,1479.43h5.67v6.36h-5.67zM406.21,1454.97h5.67v6.36h-5.67zM406.21,1448.86h5.67v6.36h-5.67zM406.21,1442.74h5.67v6.36h-5.67zM406.21,1430.51h5.67v6.36h-5.67zM406.21,1406.06h5.67v6.36h-5.67zM406.21,1399.94h5.67v6.36h-5.67zM406.21,1381.6h5.67v6.36h-5.67zM406.21,1375.49h5.67v6.36h-5.67zM406.21,1369.37h5.67v6.36h-5.67zM406.21,1363.26h5.67v6.36h-5.67zM411.63,1503.89h5.67v6.36h-5.67zM411.63,1485.54h5.67v6.36h-5.67zM411.63,1479.43h5.67v6.36h-5.67zM411.63,1473.31h5.67v6.36h-5.67zM411.63,1467.2h5.67v6.36h-5.67zM411.63,1448.86h5.67v6.36h-5.67zM411.63,1442.74h5.67v6.36h-5.67zM411.63,1436.63h5.67v6.36h-5.67zM411.63,1399.94h5.67v6.36h-5.67zM411.63,1393.83h5.67v6.36h-5.67zM411.63,1375.49h5.67v6.36h-5.67zM417.06,1479.43h5.67v6.36h-5.67zM417.06,1454.97h5.67v6.36h-5.67zM417.06,1436.63h5.67v6.36h-5.67zM417.06,1393.83h5.67v6.36h-5.67zM417.06,1375.49h5.67v6.36h-5.67zM417.06,1369.37h5.67v6.36h-5.67zM417.06,1363.26h5.67v6.36h-5.67zM417.06,1357.14h5.67v6.36h-5.67zM422.48,1485.54h5.67v6.36h-5.67zM422.48,1387.71h5.67v6.36h-5.67zM422.48,1381.6h5.67v6.36h-5.67zM422.48,1357.14h5.67v6.36h-5.67zM427.9,1485.54h5.67v6.36h-5.67zM427.9,1454.97h5.67v6.36h-5.67zM427.9,1442.74h5.67v6.36h-5.67zM427.9,1436.63h5.67v6.36h-5.67zM427.9,1412.17h5.67v6.36h-5.67zM427.9,1406.06h5.67v6.36h-5.67zM427.9,1387.71h5.67v6.36h-5.67zM427.9,1381.6h5.67v6.36h-5.67zM427.9,1369.37h5.67v6.36h-5.67zM427.9,1363.26h5.67v6.36h-5.67zM427.9,1357.14h5.67v6.36h-5.67zM427.9,1326.57h5.67v6.36h-5.67zM433.32,1503.89h5.67v6.36h-5.67zM433.32,1473.31h5.67v6.36h-5.67zM433.32,1454.97h5.67v6.36h-5.67zM433.32,1448.86h5.67v6.36h-5.67zM433.32,1442.74h5.67v6.36h-5.67zM433.32,1418.29h5.67v6.36h-5.67zM433.32,1393.83h5.67v6.36h-5.67zM433.32,1387.71h5.67v6.36h-5.67zM433.32,1381.6h5.67v6.36h-5.67zM433.32,1363.26h5.67v6.36h-5.67zM438.75,1497.77h5.67v6.36h-5.67zM438.75,1461.09h5.67v6.36h-5.67zM438.75,1436.63h5.67v6.36h-5.67zM438.75,1418.29h5.67v6.36h-5.67zM438.75,1399.94h5.67v6.36h-5.67zM438.75,1387.71h5.67v6.36h-5.67zM438.75,1381.6h5.67v6.36h-5.67zM438.75,1375.49h5.67v6.36h-5.67zM438.75,1344.91h5.67v6.36h-5.67zM438.75,1338.8h5.67v6.36h-5.67zM444.17,1491.66h5.67v6.36h-5.67zM444.17,1485.54h5.67v6.36h-5.67zM444.17,1448.86h5.67v6.36h-5.67zM444.17,1430.51h5.67v6.36h-5.67zM444.17,1406.06h5.67v6.36h-5.67zM444.17,1399.94h5.67v6.36h-5.67zM444.17,1387.71h5.67v6.36h-5.67zM444.17,1381.6h5.67v6.36h-5.67zM444.17,1375.49h5.67v6.36h-5.67zM444.17,1369.37h5.67v6.36h-5.67zM444.17,1363.26h5.67v6.36h-5.67zM444.17,1357.14h5.67v6.36h-5.67zM449.59,1503.89h5.67v6.36h-5.67zM449.59,1491.66h5.67v6.36h-5.67zM449.59,1473.31h5.67v6.36h-5.67zM449.59,1467.2h5.67v6.36h-5.67zM449.59,1461.09h5.67v6.36h-5.67zM449.59,1424.4h5.67v6.36h-5.67zM449.59,1418.29h5.67v6.36h-5.67zM449.59,1399.94h5.67v6.36h-5.67zM449.59,1381.6h5.67v6.36h-5.67zM449.59,1375.49h5.67v6.36h-5.67zM449.59,1369.37h5.67v6.36h-5.67zM449.59,1357.14h5.67v6.36h-5.67zM455.02,1485.54h5.67v6.36h-5.67zM455.02,1479.43h5.67v6.36h-5.67zM455.02,1454.97h5.67v6.36h-5.67zM455.02,1442.74h5.67v6.36h-5.67zM455.02,1412.17h5.67v6.36h-5.67zM455.02,1406.06h5.67v6.36h-5.67zM455.02,1381.6h5.67v6.36h-5.67zM455.02,1351.03h5.67v6.36h-5.67zM460.44,1467.2h5.67v6.36h-5.67zM460.44,1448.86h5.67v6.36h-5.67zM460.44,1418.29h5.67v6.36h-5.67zM460.44,1393.83h5.67v6.36h-5.67zM460.44,1387.71h5.67v6.36h-5.67zM460.44,1369.37h5.67v6.36h-5.67zM460.44,1363.26h5.67v6.36h-5.67zM460.44,1357.14h5.67v6.36h-5.67zM465.86,1479.43h5.67v6.36h-5.67zM465.86,1467.2h5.67v6.36h-5.67zM465.86,1461.09h5.67v6.36h-5.67zM465.86,1454.97h5.67v6.36h-5.67zM465.86,1442.74h5.67v6.36h-5.67zM465.86,1424.4h5.67v6.36h-5.67zM465.86,1418.29h5.67v6.36h-5.67zM465.86,1412.17h5.67v6.36h-5.67zM465.86,1399.94h5.67v6.36h-5.67zM465.86,1393.83h5.67v6.36h-5.67zM465.86,1387.71h5.67v6.36h-5.67zM465.86,1344.91h5.67v6.36h-5.67zM471.29,1491.66h5.67v6.36h-5.67zM471.29,1485.54h5.67v6.36h-5.67zM471.29,1479.43h5.67v6.36h-5.67zM471.29,1448.86h5.67v6.36h-5.67zM471.29,1442.74h5.67v6.36h-5.67zM471.29,1393.83h5.67v6.36h-5.67zM471.29,1381.6h5.67v6.36h-5.67zM471.29,1375.49h5.67v6.36h-5.67zM471.29,1369.37h5.67v6.36h-5.67zM476.71,1497.77h5.67v6.36h-5.67zM476.71,1485.54h5.67v6.36h-5.67zM476.71,1479.43h5.67v6.36h-5.67zM476.71,1473.31h5.67v6.36h-5.67zM476.71,1461.09h5.67v6.36h-5.67zM476.71,1454.97h5.67v6.36h-5.67zM476.71,1442.74h5.67v6.36h-5.67zM476.71,1436.63h5.67v6.36h-5.67zM476.71,1430.51h5.67v6.36h-5.67zM476.71,1399.94h5.67v6.36h-5.67zM476.71,1369.37h5.67v6.36h-5.67zM476.71,1363.26h5.67v6.36h-5.67zM476.71,1357.14h5.67v6.36h-5.67zM476.71,1351.03h5.67v6.36h-5.67zM482.13,1485.54h5.67v6.36h-5.67zM482.13,1479.43h5.67v6.36h-5.67zM482.13,1442.74h5.67v6.36h-5.67zM482.13,1375.49h5.67v6.36h-5.67zM482.13,1369.37h5.67v6.36h-5.67zM482.13,1357.14h5.67v6.36h-5.67zM482.13,1351.03h5.67v6.36h-5.67zM487.55,1503.89h5.67v6.36h-5.67zM487.55,1497.77h5.67v6.36h-5.67zM487.55,1491.66h5.67v6.36h-5.67zM487.55,1418.29h5.67v6.36h-5.67zM487.55,1406.06h5.67v6.36h-5.67zM487.55,1399.94h5.67v6.36h-5.67zM487.55,1357.14h5.67v6.36h-5.67zM492.98,1503.89h5.67v6.36h-5.67zM492.98,1497.77h5.67v6.36h-5.67zM492.98,1461.09h5.67v6.36h-5.67zM492.98,1454.97h5.67v6.36h-5.67zM492.98,1436.63h5.67v6.36h-5.67zM492.98,1418.29h5.67v6.36h-5.67zM492.98,1412.17h5.67v6.36h-5.67zM492.98,1393.83h5.67v6.36h-5.67zM492.98,1387.71h5.67v6.36h-5.67zM492.98,1375.49h5.67v6.36h-5.67zM492.98,1369.37h5.67v6.36h-5.67zM492.98,1363.26h5.67v6.36h-5.67zM492.98,1357.14h5.67v6.36h-5.67zM498.4,1491.66h5.67v6.36h-5.67zM498.4,1485.54h5.67v6.36h-5.67zM498.4,1467.2h5.67v6.36h-5.67zM498.4,1418.29h5.67v6.36h-5.67zM498.4,1406.06h5.67v6.36h-5.67zM498.4,1393.83h5.67v6.36h-5.67zM498.4,1387.71h5.67v6.36h-5.67zM498.4,1375.49h5.67v6.36h-5.67zM503.82,1503.89h5.67v6.36h-5.67zM503.82,1497.77h5.67v6.36h-5.67zM503.82,1491.66h5.67v6.36h-5.67zM503.82,1479.43h5.67v6.36h-5.67zM503.82,1454.97h5.67v6.36h-5.67zM503.82,1448.86h5.67v6.36h-5.67zM503.82,1442.74h5.67v6.36h-5.67zM503.82,1418.29h5.67v6.36h-5.67zM503.82,1393.83h5.67v6.36h-5.67zM503.82,1375.49h5.67v6.36h-5.67zM503.82,1369.37h5.67v6.36h-5.67zM509.25,1430.51h5.67v6.36h-5.67zM509.25,1418.29h5.67v6.36h-5.67zM509.25,1393.83h5.67v6.36h-5.67zM509.25,1381.6h5.67v6.36h-5.67zM509.25,1375.49h5.67v6.36h-5.67zM509.25,1369.37h5.67v6.36h-5.67zM509.25,1357.14h5.67v6.36h-5.67zM514.67,1497.77h5.67v6.36h-5.67zM514.67,1430.51h5.67v6.36h-5.67zM514.67,1412.17h5.67v6.36h-5.67zM514.67,1393.83h5.67v6.36h-5.67zM514.67,1381.6h5.67v6.36h-5.67zM514.67,1375.49h5.67v6.36h-5.67zM514.67,1369.37h5.67v6.36h-5.67zM514.67,1363.26h5.67v6.36h-5.67zM514.67,1357.14h5.67v6.36h-5.67zM520.09,1503.89h5.67v6.36h-5.67zM520.09,1491.66h5.67v6.36h-5.67zM520.09,1485.54h5.67v6.36h-5.67zM520.09,1448.86h5.67v6.36h-5.67zM520.09,1430.51h5.67v6.36h-5.67zM520.09,1418.29h5.67v6.36h-5.67zM520.09,1412.17h5.67v6.36h-5.67zM520.09,1406.06h5.67v6.36h-5.67zM520.09,1399.94h5.67v6.36h-5.67zM520.09,1369.37h5.67v6.36h-5.67zM520.09,1344.91h5.67v6.36h-5.67zM525.51,1503.89h5.67v6.36h-5.67zM525.51,1418.29h5.67v6.36h-5.67zM525.51,1406.06h5.67v6.36h-5.67zM525.51,1387.71h5.67v6.36h-5.67zM525.51,1381.6h5.67v6.36h-5.67zM525.51,1369.37h5.67v6.36h-5.67zM530.94,1479.43h5.67v6.36h-5.67zM530.94,1473.31h5.67v6.36h-5.67zM530.94,1461.09h5.67v6.36h-5.67zM536.36,1491.66h5.67v6.36h-5.67zM536.36,1479.43h5.67v6.36h-5.67zM536.36,1473.31h5.67v6.36h-5.67zM536.36,1406.06h5.67v6.36h-5.67zM536.36,1393.83h5.67v6.36h-5.67zM536.36,1387.71h5.67v6.36h-5.67zM536.36,1381.6h5.67v6.36h-5.67zM541.78,1503.89h5.67v6.36h-5.67zM541.78,1497.77h5.67v6.36h-5.67zM541.78,1491.66h5.67v6.36h-5.67zM541.78,1479.43h5.67v6.36h-5.67zM541.78,1473.31h5.67v6.36h-5.67zM541.78,1467.2h5.67v6.36h-5.67zM541.78,1454.97h5.67v6.36h-5.67zM541.78,1448.86h5.67v6.36h-5.67zM541.78,1442.74h5.67v6.36h-5.67zM541.78,1436.63h5.67v6.36h-5.67zM547.21,1497.77h5.67v6.36h-5.67zM547.21,1491.66h5.67v6.36h-5.67zM547.21,1485.54h5.67v6.36h-5.67zM547.21,1479.43h5.67v6.36h-5.67zM547.21,1467.2h5.67v6.36h-5.67zM547.21,1448.86h5.67v6.36h-5.67zM552.63,1497.77h5.67v6.36h-5.67zM552.63,1491.66h5.67v6.36h-5.67zM552.63,1485.54h5.67v6.36h-5.67zM552.63,1473.31h5.67v6.36h-5.67zM552.63,1461.09h5.67v6.36h-5.67zM552.63,1454.97h5.67v6.36h-5.67zM552.63,1442.74h5.67v6.36h-5.67zM552.63,1436.63h5.67v6.36h-5.67zM552.63,1430.51h5.67v6.36h-5.67zM552.63,1424.4h5.67v6.36h-5.67zM558.05,1503.89h5.67v6.36h-5.67zM558.05,1479.43h5.67v6.36h-5.67zM558.05,1448.86h5.67v6.36h-5.67zM558.05,1406.06h5.67v6.36h-5.67zM563.48,1503.89h5.67v6.36h-5.67zM563.48,1497.77h5.67v6.36h-5.67zM563.48,1485.54h5.67v6.36h-5.67zM568.9,1485.54h5.67v6.36h-5.67zM568.9,1479.43h5.67v6.36h-5.67zM568.9,1461.09h5.67v6.36h-5.67zM574.32,1479.43h5.67v6.36h-5.67zM574.32,1454.97h5.67v6.36h-5.67zM574.32,1448.86h5.67v6.36h-5.67zM574.32,1436.63h5.67v6.36h-5.67zM579.74,1503.89h5.67v6.36h-5.67zM579.74,1473.31h5.67v6.36h-5.67zM579.74,1461.09h5.67v6.36h-5.67zM579.74,1454.97h5.67v6.36h-5.67zM579.74,1448.86h5.67v6.36h-5.67zM579.74,1442.74h5.67v6.36h-5.67zM579.74,1436.63h5.67v6.36h-5.67zM579.74,1430.51h5.67v6.36h-5.67zM585.17,1479.43h5.67v6.36h-5.67zM585.17,1473.31h5.67v6.36h-5.67zM585.17,1467.2h5.67v6.36h-5.67zM585.17,1448.86h5.67v6.36h-5.67zM585.17,1442.74h5.67v6.36h-5.67zM585.17,1436.63h5.67v6.36h-5.67zM585.17,1418.29h5.67v6.36h-5.67zM590.59,1497.77h5.67v6.36h-5.67zM590.59,1479.43h5.67v6.36h-5.67zM590.59,1473.31h5.67v6.36h-5.67zM590.59,1448.86h5.67v6.36h-5.67zM590.59,1424.4h5.67v6.36h-5.67zM596.01,1473.31h5.67v6.36h-5.67zM596.01,1454.97h5.67v6.36h-5.67zM596.01,1442.74h5.67v6.36h-5.67zM596.01,1436.63h5.67v6.36h-5.67zM596.01,1424.4h5.67v6.36h-5.67zM596.01,1418.29h5.67v6.36h-5.67zM596.01,1363.26h5.67v6.36h-5.67zM601.44,1497.77h5.67v6.36h-5.67zM601.44,1448.86h5.67v6.36h-5.67zM606.86,1479.43h5.67v6.36h-5.67zM606.86,1436.63h5.67v6.36h-5.67zM606.86,1393.83h5.67v6.36h-5.67zM612.28,1485.54h5.67v6.36h-5.67zM612.28,1442.74h5.67v6.36h-5.67zM612.28,1436.63h5.67v6.36h-5.67zM612.28,1430.51h5.67v6.36h-5.67zM612.28,1424.4h5.67v6.36h-5.67zM617.7,1491.66h5.67v6.36h-5.67zM617.7,1485.54h5.67v6.36h-5.67zM617.7,1442.74h5.67v6.36h-5.67zM617.7,1430.51h5.67v6.36h-5.67zM617.7,1418.29h5.67v6.36h-5.67zM623.13,1503.89h5.67v6.36h-5.67zM623.13,1473.31h5.67v6.36h-5.67zM623.13,1467.2h5.67v6.36h-5.67zM623.13,1430.51h5.67v6.36h-5.67zM623.13,1406.06h5.67v6.36h-5.67zM628.55,1497.77h5.67v6.36h-5.67zM628.55,1491.66h5.67v6.36h-5.67zM628.55,1485.54h5.67v6.36h-5.67zM628.55,1442.74h5.67v6.36h-5.67zM628.55,1436.63h5.67v6.36h-5.67zM633.97,1503.89h5.67v6.36h-5.67zM633.97,1454.97h5.67v6.36h-5.67zM639.4,1503.89h5.67v6.36h-5.67zM639.4,1497.77h5.67v6.36h-5.67zM639.4,1485.54h5.67v6.36h-5.67zM644.82,1479.43h5.67v6.36h-5.67zM650.24,1503.89h5.67v6.36h-5.67zM655.66,1503.89h5.67v6.36h-5.67zM655.66,1473.31h5.67v6.36h-5.67zM661.09,1491.66h5.67v6.36h-5.67zM661.09,1485.54h5.67v6.36h-5.67zM661.09,1473.31h5.67v6.36h-5.67zM661.09,1467.2h5.67v6.36h-5.67zM661.09,1461.09h5.67v6.36h-5.67zM661.09,1430.51h5.67v6.36h-5.67zM666.51,1406.06h5.67v6.36h-5.67zM666.51,1338.8h5.67v6.36h-5.67zM671.93,1503.89h5.67v6.36h-5.67zM671.93,1497.77h5.67v6.36h-5.67zM671.93,1491.66h5.67v6.36h-5.67zM677.36,1448.86h5.67v6.36h-5.67zM677.36,1442.74h5.67v6.36h-5.67zM677.36,1436.63h5.67v6.36h-5.67zM677.36,1424.4h5.67v6.36h-5.67zM682.78,1412.17h5.67v6.36h-5.67zM682.78,1406.06h5.67v6.36h-5.67zM688.2,1491.66h5.67v6.36h-5.67zM688.2,1473.31h5.67v6.36h-5.67zM688.2,1467.2h5.67v6.36h-5.67zM693.62,1503.89h5.67v6.36h-5.67zM693.62,1497.77h5.67v6.36h-5.67zM693.62,1491.66h5.67v6.36h-5.67zM699.05,1479.43h5.67v6.36h-5.67zM699.05,1467.2h5.67v6.36h-5.67zM699.05,1442.74h5.67v6.36h-5.67zM704.47,1497.77h5.67v6.36h-5.67zM704.47,1485.54h5.67v6.36h-5.67zM704.47,1479.43h5.67v6.36h-5.67zM704.47,1473.31h5.67v6.36h-5.67zM704.47,1467.2h5.67v6.36h-5.67zM704.47,1418.29h5.67v6.36h-5.67zM704.47,1357.14h5.67v6.36h-5.67zM704.47,1351.03h5.67v6.36h-5.67zM709.89,1467.2h5.67v6.36h-5.67zM709.89,1436.63h5.67v6.36h-5.67zM709.89,1430.51h5.67v6.36h-5.67zM715.32,1497.77h5.67v6.36h-5.67zM715.32,1442.74h5.67v6.36h-5.67zM715.32,1436.63h5.67v6.36h-5.67zM715.32,1430.51h5.67v6.36h-5.67zM720.74,1473.31h5.67v6.36h-5.67zM720.74,1461.09h5.67v6.36h-5.67zM720.74,1424.4h5.67v6.36h-5.67zM720.74,1375.49h5.67v6.36h-5.67zM720.74,1369.37h5.67v6.36h-5.67zM726.16,1485.54h5.67v6.36h-5.67zM726.16,1467.2h5.67v6.36h-5.67zM726.16,1430.51h5.67v6.36h-5.67zM726.16,1406.06h5.67v6.36h-5.67zM726.16,1393.83h5.67v6.36h-5.67zM726.16,1387.71h5.67v6.36h-5.67zM726.16,1375.49h5.67v6.36h-5.67zM726.16,1369.37h5.67v6.36h-5.67zM731.59,1497.77h5.67v6.36h-5.67zM731.59,1491.66h5.67v6.36h-5.67zM731.59,1485.54h5.67v6.36h-5.67zM731.59,1479.43h5.67v6.36h-5.67zM731.59,1473.31h5.67v6.36h-5.67zM731.59,1461.09h5.67v6.36h-5.67zM731.59,1442.74h5.67v6.36h-5.67zM731.59,1436.63h5.67v6.36h-5.67zM731.59,1430.51h5.67v6.36h-5.67zM731.59,1406.06h5.67v6.36h-5.67zM731.59,1387.71h5.67v6.36h-5.67zM731.59,1381.6h5.67v6.36h-5.67zM731.59,1375.49h5.67v6.36h-5.67zM731.59,1369.37h5.67v6.36h-5.67zM737.01,1503.89h5.67v6.36h-5.67zM737.01,1497.77h5.67v6.36h-5.67zM737.01,1491.66h5.67v6.36h-5.67zM737.01,1479.43h5.67v6.36h-5.67zM737.01,1454.97h5.67v6.36h-5.67zM737.01,1448.86h5.67v6.36h-5.67zM737.01,1430.51h5.67v6.36h-5.67zM737.01,1424.4h5.67v6.36h-5.67zM737.01,1387.71h5.67v6.36h-5.67zM737.01,1381.6h5.67v6.36h-5.67zM737.01,1369.37h5.67v6.36h-5.67zM737.01,1338.8h5.67v6.36h-5.67zM737.01,1332.69h5.67v6.36h-5.67zM742.43,1479.43h5.67v6.36h-5.67zM742.43,1467.2h5.67v6.36h-5.67zM742.43,1461.09h5.67v6.36h-5.67zM742.43,1332.69h5.67v6.36h-5.67zM742.43,1326.57h5.67v6.36h-5.67zM747.85,1491.66h5.67v6.36h-5.67zM753.28,1485.54h5.67v6.36h-5.67zM753.28,1479.43h5.67v6.36h-5.67zM753.28,1454.97h5.67v6.36h-5.67zM753.28,1442.74h5.67v6.36h-5.67zM753.28,1436.63h5.67v6.36h-5.67zM753.28,1424.4h5.67v6.36h-5.67zM753.28,1412.17h5.67v6.36h-5.67zM753.28,1393.83h5.67v6.36h-5.67zM753.28,1381.6h5.67v6.36h-5.67zM753.28,1375.49h5.67v6.36h-5.67zM753.28,1351.03h5.67v6.36h-5.67zM753.28,1332.69h5.67v6.36h-5.67zM758.7,1503.89h5.67v6.36h-5.67zM758.7,1485.54h5.67v6.36h-5.67zM758.7,1479.43h5.67v6.36h-5.67zM758.7,1473.31h5.67v6.36h-5.67zM758.7,1461.09h5.67v6.36h-5.67zM758.7,1454.97h5.67v6.36h-5.67zM758.7,1448.86h5.67v6.36h-5.67zM758.7,1442.74h5.67v6.36h-5.67zM758.7,1436.63h5.67v6.36h-5.67zM758.7,1424.4h5.67v6.36h-5.67zM758.7,1412.17h5.67v6.36h-5.67zM758.7,1387.71h5.67v6.36h-5.67zM758.7,1381.6h5.67v6.36h-5.67zM758.7,1375.49h5.67v6.36h-5.67zM758.7,1369.37h5.67v6.36h-5.67zM758.7,1357.14h5.67v6.36h-5.67zM758.7,1351.03h5.67v6.36h-5.67zM758.7,1344.91h5.67v6.36h-5.67zM764.12,1485.54h5.67v6.36h-5.67zM764.12,1479.43h5.67v6.36h-5.67zM764.12,1461.09h5.67v6.36h-5.67zM769.55,1503.89h5.67v6.36h-5.67zM769.55,1485.54h5.67v6.36h-5.67zM769.55,1479.43h5.67v6.36h-5.67zM769.55,1473.31h5.67v6.36h-5.67zM769.55,1467.2h5.67v6.36h-5.67zM769.55,1344.91h5.67v6.36h-5.67zM774.97,1485.54h5.67v6.36h-5.67zM774.97,1479.43h5.67v6.36h-5.67zM774.97,1473.31h5.67v6.36h-5.67zM774.97,1454.97h5.67v6.36h-5.67zM774.97,1448.86h5.67v6.36h-5.67zM774.97,1430.51h5.67v6.36h-5.67zM774.97,1424.4h5.67v6.36h-5.67zM774.97,1399.94h5.67v6.36h-5.67zM774.97,1393.83h5.67v6.36h-5.67zM774.97,1387.71h5.67v6.36h-5.67zM774.97,1369.37h5.67v6.36h-5.67zM774.97,1363.26h5.67v6.36h-5.67zM774.97,1357.14h5.67v6.36h-5.67zM774.97,1338.8h5.67v6.36h-5.67zM774.97,1332.69h5.67v6.36h-5.67zM780.39,1497.77h5.67v6.36h-5.67zM780.39,1491.66h5.67v6.36h-5.67zM780.39,1454.97h5.67v6.36h-5.67zM780.39,1363.26h5.67v6.36h-5.67zM780.39,1344.91h5.67v6.36h-5.67zM780.39,1338.8h5.67v6.36h-5.67zM785.81,1491.66h5.67v6.36h-5.67zM785.81,1479.43h5.67v6.36h-5.67zM785.81,1454.97h5.67v6.36h-5.67zM785.81,1344.91h5.67v6.36h-5.67zM785.81,1338.8h5.67v6.36h-5.67zM785.81,1332.69h5.67v6.36h-5.67zM785.81,1289.89h5.67v6.36h-5.67zM791.24,1491.66h5.67v6.36h-5.67zM791.24,1351.03h5.67v6.36h-5.67zM791.24,1338.8h5.67v6.36h-5.67zM791.24,1320.46h5.67v6.36h-5.67zM796.66,1381.6h5.67v6.36h-5.67zM802.08,1479.43h5.67v6.36h-5.67zM802.08,1473.31h5.67v6.36h-5.67zM802.08,1424.4h5.67v6.36h-5.67z" fill="#ffbf00"/>
<path d="M368.25,1412.17h5.67v6.36h-5.67zM368.25,1351.03h5.67v6.36h-5.67zM368.25,1344.91h5.67v6.36h-5.67zM368.25,1338.8h5.67v6.36h-5.67zM373.67,1406.06h5.67v6.36h-5.67zM373.67,1399.94h5.67v6.36h-5.67zM373.67,1393.83h5.67v6.36h-5.67zM373.67,1381.6h5.67v6.36h-5.67zM373.67,1375.49h5.67v6.36h-5.67zM373.67,1363.26h5.67v6.36h-5.67zM373.67,1344.91h5.67v6.36h-5.67zM373.67,1332.69h5.67v6.36h-5.67zM379.1,1320.46h5.67v6.36h-5.67zM379.1,1314.34h5.67v6.36h-5.67zM379.1,1308.23h5.67v6.36h-5.67zM384.52,1338.8h5.67v6.36h-5.67zM384.52,1332.69h5.67v6.36h-5.67zM384.52,1326.57h5.67v6.36h-5.67zM389.94,1338.8h5.67v6.36h-5.67zM406.21,1326.57h5.67v6.36h-5.67zM406.21,1314.34h5.67v6.36h-5.67zM411.63,1344.91h5.67v6.36h-5.67zM411.63,1308.23h5.67v6.36h-5.67zM422.48,1351.03h5.67v6.36h-5.67zM422.48,1338.8h5.67v6.36h-5.67zM427.9,1314.34h5.67v6.36h-5.67zM427.9,1308.23h5.67v6.36h-5.67zM427.9,1302.11h5.67v6.36h-5.67zM433.32,1326.57h5.67v6.36h-5.67zM438.75,1308.23h5.67v6.36h-5.67zM438.75,1302.11h5.67v6.36h-5.67zM444.17,1320.46h5.67v6.36h-5.67zM449.59,1314.34h5.67v6.36h-5.67zM449.59,1308.23h5.67v6.36h-5.67zM455.02,1314.34h5.67v6.36h-5.67zM471.29,1326.57h5.67v6.36h-5.67zM471.29,1320.46h5.67v6.36h-5.67zM471.29,1314.34h5.67v6.36h-5.67zM482.13,1332.69h5.67v6.36h-5.67zM487.55,1314.34h5.67v6.36h-5.67zM492.98,1296h5.67v6.36h-5.67zM498.4,1357.14h5.67v6.36h-5.67zM498.4,1351.03h5.67v6.36h-5.67zM498.4,1338.8h5.67v6.36h-5.67zM498.4,1332.69h5.67v6.36h-5.67zM498.4,1326.57h5.67v6.36h-5.67zM498.4,1320.46h5.67v6.36h-5.67zM503.82,1406.06h5.67v6.36h-5.67zM503.82,1344.91h5.67v6.36h-5.67zM503.82,1338.8h5.67v6.36h-5.67zM509.25,1320.46h5.67v6.36h-5.67zM509.25,1314.34h5.67v6.36h-5.67zM514.67,1320.46h5.67v6.36h-5.67zM514.67,1314.34h5.67v6.36h-5.67zM520.09,1326.57h5.67v6.36h-5.67zM520.09,1314.34h5.67v6.36h-5.67zM530.94,1412.17h5.67v6.36h-5.67zM530.94,1357.14h5.67v6.36h-5.67zM530.94,1351.03h5.67v6.36h-5.67zM530.94,1344.91h5.67v6.36h-5.67zM530.94,1326.57h5.67v6.36h-5.67zM536.36,1308.23h5.67v6.36h-5.67zM547.21,1357.14h5.67v6.36h-5.67zM552.63,1412.17h5.67v6.36h-5.67zM552.63,1357.14h5.67v6.36h-5.67zM552.63,1338.8h5.67v6.36h-5.67zM558.05,1424.4h5.67v6.36h-5.67zM558.05,1412.17h5.67v6.36h-5.67zM558.05,1363.26h5.67v6.36h-5.67zM558.05,1338.8h5.67v6.36h-5.67zM558.05,1332.69h5.67v6.36h-5.67zM558.05,1320.46h5.67v6.36h-5.67zM558.05,1314.34h5.67v6.36h-5.67zM563.48,1357.14h5.67v6.36h-5.67zM563.48,1344.91h5.67v6.36h-5.67zM563.48,1338.8h5.67v6.36h-5.67zM568.9,1369.37h5.67v6.36h-5.67zM568.9,1357.14h5.67v6.36h-5.67zM568.9,1332.69h5.67v6.36h-5.67zM568.9,1326.57h5.67v6.36h-5.67zM568.9,1308.23h5.67v6.36h-5.67zM574.32,1399.94h5.67v6.36h-5.67zM574.32,1375.49h5.67v6.36h-5.67zM574.32,1363.26h5.67v6.36h-5.67zM574.32,1357.14h5.67v6.36h-5.67zM574.32,1344.91h5.67v6.36h-5.67zM574.32,1338.8h5.67v6.36h-5.67zM585.17,1375.49h5.67v6.36h-5.67zM585.17,1363.26h5.67v6.36h-5.67zM585.17,1332.69h5.67v6.36h-5.67zM585.17,1302.11h5.67v6.36h-5.67zM596.01,1326.57h5.67v6.36h-5.67zM596.01,1320.46h5.67v6.36h-5.67zM596.01,1314.34h5.67v6.36h-5.67zM596.01,1308.23h5.67v6.36h-5.67zM596.01,1302.11h5.67v6.36h-5.67zM601.44,1381.6h5.67v6.36h-5.67zM601.44,1332.69h5.67v6.36h-5.67zM606.86,1375.49h5.67v6.36h-5.67zM606.86,1357.14h5.67v6.36h-5.67zM612.28,1369.37h5.67v6.36h-5.67zM612.28,1332.69h5.67v6.36h-5.67zM617.7,1344.91h5.67v6.36h-5.67zM617.7,1332.69h5.67v6.36h-5.67zM617.7,1326.57h5.67v6.36h-5.67zM617.7,1320.46h5.67v6.36h-5.67zM617.7,1308.23h5.67v6.36h-5.67zM623.13,1320.46h5.67v6.36h-5.67zM623.13,1308.23h5.67v6.36h-5.67zM623.13,1302.11h5.67v6.36h-5.67zM623.13,1296h5.67v6.36h-5.67zM633.97,1387.71h5.67v6.36h-5.67zM633.97,1363.26h5.67v6.36h-5.67zM633.97,1338.8h5.67v6.36h-5.67zM633.97,1308.23h5.67v6.36h-5.67zM633.97,1296h5.67v6.36h-5.67zM644.82,1357.14h5.67v6.36h-5.67zM644.82,1332.69h5.67v6.36h-5.67zM644.82,1320.46h5.67v6.36h-5.67zM644.82,1308.23h5.67v6.36h-5.67zM650.24,1308.23h5.67v6.36h-5.67zM655.66,1344.91h5.67v6.36h-5.67zM655.66,1338.8h5.67v6.36h-5.67zM661.09,1399.94h5.67v6.36h-5.67zM661.09,1387.71h5.67v6.36h-5.67zM661.09,1375.49h5.67v6.36h-5.67zM661.09,1369.37h5.67v6.36h-5.67zM661.09,1357.14h5.67v6.36h-5.67zM661.09,1344.91h5.67v6.36h-5.67zM661.09,1338.8h5.67v6.36h-5.67zM661.09,1332.69h5.67v6.36h-5.67zM666.51,1326.57h5.67v6.36h-5.67zM666.51,1308.23h5.67v6.36h-5.67zM671.93,1369.37h5.67v6.36h-5.67zM671.93,1314.34h5.67v6.36h-5.67zM671.93,1308.23h5.67v6.36h-5.67zM677.36,1393.83h5.67v6.36h-5.67zM677.36,1351.03h5.67v6.36h-5.67zM682.78,1399.94h5.67v6.36h-5.67zM682.78,1351.03h5.67v6.36h-5.67zM682.78,1326.57h5.67v6.36h-5.67zM682.78,1314.34h5.67v6.36h-5.67zM682.78,1308.23h5.67v6.36h-5.67zM688.2,1387.71h5.67v6.36h-5.67zM688.2,1369.37h5.67v6.36h-5.67zM688.2,1363.26h5.67v6.36h-5.67zM688.2,1357.14h5.67v6.36h-5.67zM688.2,1338.8h5.67v6.36h-5.67zM693.62,1320.46h5.67v6.36h-5.67zM693.62,1308.23h5.67v6.36h-5.67zM693.62,1302.11h5.67v6.36h-5.67zM699.05,1393.83h5.67v6.36h-5.67zM699.05,1326.57h5.67v6.36h-5.67zM699.05,1314.34h5.67v6.36h-5.67zM704.47,1326.57h5.67v6.36h-5.67zM704.47,1308.23h5.67v6.36h-5.67zM704.47,1302.11h5.67v6.36h-5.67zM704.47,1283.77h5.67v6.36h-5.67zM709.89,1326.57h5.67v6.36h-5.67zM709.89,1296h5.67v6.36h-5.67zM715.32,1338.8h5.67v6.36h-5.67zM715.32,1332.69h5.67v6.36h-5.67zM715.32,1314.34h5.67v6.36h-5.67zM715.32,1308.23h5.67v6.36h-5.67zM720.74,1320.46h5.67v6.36h-5.67zM720.74,1314.34h5.67v6.36h-5.67zM720.74,1296h5.67v6.36h-5.67zM726.16,1326.57h5.67v6.36h-5.67zM726.16,1314.34h5.67v6.36h-5.67zM726.16,1302.11h5.67v6.36h-5.67zM731.59,1332.69h5.67v6.36h-5.67zM731.59,1320.46h5.67v6.36h-5.67zM731.59,1308.23h5.67v6.36h-5.67zM731.59,1302.11h5.67v6.36h-5.67zM731.59,1289.89h5.67v6.36h-5.67zM737.01,1326.57h5.67v6.36h-5.67zM737.01,1320.46h5.67v6.36h-5.67zM737.01,1302.11h5.67v6.36h-5.67zM737.01,1283.77h5.67v6.36h-5.67zM742.43,1314.34h5.67v6.36h-5.67zM742.43,1308.23h5.67v6.36h-5.67zM742.43,1302.11h5.67v6.36h-5.67zM742.43,1296h5.67v6.36h-5.67zM742.43,1289.89h5.67v6.36h-5.67zM747.85,1320.46h5.67v6.36h-5.67zM747.85,1308.23h5.67v6.36h-5.67zM747.85,1289.89h5.67v6.36h-5.67zM753.28,1314.34h5.67v6.36h-5.67zM753.28,1302.11h5.67v6.36h-5.67zM753.28,1289.89h5.67v6.36h-5.67zM758.7,1302.11h5.67v6.36h-5.67zM758.7,1296h5.67v6.36h-5.67zM758.7,1289.89h5.67v6.36h-5.67zM764.12,1326.57h5.67v6.36h-5.67zM764.12,1308.23h5.67v6.36h-5.67zM780.39,1314.34h5.67v6.36h-5.67zM780.39,1283.77h5.67v6.36h-5.67zM785.81,1314.34h5.67v6.36h-5.67zM796.66,1326.57h5.67v6.36h-5.67zM796.66,1314.34h5.67v6.36h-5.67zM796.66,1308.23h5.67v6.36h-5.67zM796.66,1302.11h5.67v6.36h-5.67zM802.08,1289.89h5.67v6.36h-5.67zM812.93,1375.49h5.67v6.36h-5.67zM823.77,1375.49h5.67v6.36h-5.67zM823.77,1363.26h5.67v6.36h-5.67zM823.77,1357.14h5.67v6.36h-5.67zM829.2,1344.91h5.67v6.36h-5.67zM834.62,1332.69h5.67v6.36h-5.67zM840.04,1363.26h5.67v6.36h-5.67zM840.04,1314.34h5.67v6.36h-5.67zM867.16,1406.06h5.67v6.36h-5.67zM883.43,1332.69h5.67v6.36h-5.67zM899.7,1357.14h5.67v6.36h-5.67zM899.7,1320.46h5.67v6.36h-5.67zM905.12,1363.26h5.67v6.36h-5.67zM932.23,1320.46h5.67v6.36h-5.67zM948.5,1344.91h5.67v6.36h-5.67zM948.5,1320.46h5.67v6.36h-5.67zM959.35,1326.57h5.67v6.36h-5.67zM991.89,1338.8h5.67v6.36h-5.67z" fill="#80ff80"/>
<path d="M368.25,1406.06h5.67v6.36h-5.67zM368.25,1393.83h5.67v6.36h-5.67zM368.25,1381.6h5.67v6.36h-5.67zM368.25,1363.26h5.67v6.36h-5.67zM368.25,1320.46h5.67v6.36h-5.67zM373.67,1387.71h5.67v6.36h-5.67zM373.67,1369.37h5.67v6.36h-5.67zM373.67,1320.46h5.67v6.36h-5.67zM379.1,1296h5.67v6.36h-5.67zM384.52,1314.34h5.67v6.36h-5.67zM389.94,1320.46h5.67v6.36h-5.67zM395.36,1320.46h5.67v6.36h-5.67zM395.36,1314.34h5.67v6.36h-5.67zM400.79,1314.34h5.67v6.36h-5.67zM406.21,1320.46h5.67v6.36h-5.67zM406.21,1308.23h5.67v6.36h-5.67zM406.21,1302.11h5.67v6.36h-5.67zM406.21,1283.77h5.67v6.36h-5.67zM411.63,1320.46h5.67v6.36h-5.67zM411.63,1314.34h5.67v6.36h-5.67zM417.06,1314.34h5.67v6.36h-5.67zM422.48,1326.57h5.67v6.36h-5.67zM422.48,1314.34h5.67v6.36h-5.67zM427.9,1289.89h5.67v6.36h-5.67zM438.75,1296h5.67v6.36h-5.67zM438.75,1283.77h5.67v6.36h-5.67zM444.17,1308.23h5.67v6.36h-5.67zM449.59,1320.46h5.67v6.36h-5.67zM455.02,1302.11h5.67v6.36h-5.67zM455.02,1296h5.67v6.36h-5.67zM455.02,1289.89h5.67v6.36h-5.67zM460.44,1320.46h5.67v6.36h-5.67zM476.71,1314.34h5.67v6.36h-5.67zM482.13,1314.34h5.67v6.36h-5.67zM482.13,1302.11h5.67v6.36h-5.67zM487.55,1320.46h5.67v6.36h-5.67zM487.55,1302.11h5.67v6.36h-5.67zM492.98,1308.23h5.67v6.36h-5.67zM503.82,1308.23h5.67v6.36h-5.67zM509.25,1308.23h5.67v6.36h-5.67zM514.67,1308.23h5.67v6.36h-5.67zM520.09,1308.23h5.67v6.36h-5.67zM520.09,1302.11h5.67v6.36h-5.67zM520.09,1283.77h5.67v6.36h-5.67zM525.51,1320.46h5.67v6.36h-5.67zM525.51,1308.23h5.67v6.36h-5.67zM536.36,1314.34h5.67v6.36h-5.67zM536.36,1302.11h5.67v6.36h-5.67zM541.78,1326.57h5.67v6.36h-5.67zM541.78,1320.46h5.67v6.36h-5.67zM541.78,1314.34h5.67v6.36h-5.67zM541.78,1308.23h5.67v6.36h-5.67zM541.78,1302.11h5.67v6.36h-5.67zM547.21,1326.57h5.67v6.36h-5.67zM547.21,1320.46h5.67v6.36h-5.67zM552.63,1320.46h5.67v6.36h-5.67zM552.63,1314.34h5.67v6.36h-5.67zM552.63,1302.11h5.67v6.36h-5.67zM558.05,1326.57h5.67v6.36h-5.67zM558.05,1302.11h5.67v6.36h-5.67zM563.48,1326.57h5.67v6.36h-5.67zM563.48,1320.46h5.67v6.36h-5.67zM563.48,1302.11h5.67v6.36h-5.67zM568.9,1320.46h5.67v6.36h-5.67zM568.9,1314.34h5.67v6.36h-5.67zM568.9,1302.11h5.67v6.36h-5.67zM574.32,1326.57h5.67v6.36h-5.67zM574.32,1320.46h5.67v6.36h-5.67zM574.32,1314.34h5.67v6.36h-5.67zM574.32,1308.23h5.67v6.36h-5.67zM579.74,1332.69h5.67v6.36h-5.67zM579.74,1314.34h5.67v6.36h-5.67zM585.17,1326.57h5.67v6.36h-5.67zM585.17,1320.46h5.67v6.36h-5.67zM585.17,1314.34h5.67v6.36h-5.67zM590.59,1326.57h5.67v6.36h-5.67zM590.59,1320.46h5.67v6.36h-5.67zM590.59,1314.34h5.67v6.36h-5.67zM590.59,1302.11h5.67v6.36h-5.67zM596.01,1296h5.67v6.36h-5.67zM596.01,1289.89h5.67v6.36h-5.67zM596.01,1283.77h5.67v6.36h-5.67zM601.44,1326.57h5.67v6.36h-5.67zM601.44,1308.23h5.67v6.36h-5.67zM606.86,1302.11h5.67v6.36h-5.67zM606.86,1296h5.67v6.36h-5.67zM606.86,1289.89h5.67v6.36h-5.67zM617.7,1314.34h5.67v6.36h-5.67zM617.7,1302.11h5.67v6.36h-5.67zM623.13,1314.34h5.67v6.36h-5.67zM623.13,1283.77h5.67v6.36h-5.67zM628.55,1338.8h5.67v6.36h-5.67zM628.55,1332.69h5.67v6.36h-5.67zM628.55,1320.46h5.67v6.36h-5.67zM628.55,1314.34h5.67v6.36h-5.67zM628.55,1308.23h5.67v6.36h-5.67zM633.97,1320.46h5.67v6.36h-5.67zM639.4,1320.46h5.67v6.36h-5.67zM644.82,1314.34h5.67v6.36h-5.67zM650.24,1332.69h5.67v6.36h-5.67zM650.24,1326.57h5.67v6.36h-5.67zM650.24,1320.46h5.67v6.36h-5.67zM655.66,1314.34h5.67v6.36h-5.67zM655.66,1302.11h5.67v6.36h-5.67zM655.66,1296h5.67v6.36h-5.67zM661.09,1363.26h5.67v6.36h-5.67zM661.09,1351.03h5.67v6.36h-5.67zM661.09,1326.57h5.67v6.36h-5.67zM661.09,1320.46h5.67v6.36h-5.67zM661.09,1302.11h5.67v6.36h-5.67zM666.51,1289.89h5.67v6.36h-5.67zM671.93,1302.11h5.67v6.36h-5.67zM677.36,1320.46h5.67v6.36h-5.67zM677.36,1314.34h5.67v6.36h-5.67zM677.36,1308.23h5.67v6.36h-5.67zM677.36,1302.11h5.67v6.36h-5.67zM688.2,1332.69h5.67v6.36h-5.67zM688.2,1320.46h5.67v6.36h-5.67zM688.2,1314.34h5.67v6.36h-5.67zM688.2,1308.23h5.67v6.36h-5.67zM688.2,1302.11h5.67v6.36h-5.67zM693.62,1314.34h5.67v6.36h-5.67zM693.62,1296h5.67v6.36h-5.67zM693.62,1283.77h5.67v6.36h-5.67zM699.05,1320.46h5.67v6.36h-5.67zM699.05,1308.23h5.67v6.36h-5.67zM704.47,1222.63h5.67v6.36h-5.67zM709.89,1338.8h5.67v6.36h-5.67zM709.89,1332.69h5.67v6.36h-5.67zM709.89,1314.34h5.67v6.36h-5.67zM709.89,1308.23h5.67v6.36h-5.67zM715.32,1344.91h5.67v6.36h-5.67zM715.32,1320.46h5.67v6.36h-5.67zM720.74,1338.8h5.67v6.36h-5.67zM720.74,1302.11h5.67v6.36h-5.67zM726.16,1296h5.67v6.36h-5.67zM726.16,1289.89h5.67v6.36h-5.67zM726.16,1283.77h5.67v6.36h-5.67zM731.59,1326.57h5.67v6.36h-5.67zM731.59,1314.34h5.67v6.36h-5.67zM731.59,1296h5.67v6.36h-5.67zM731.59,1283.77h5.67v6.36h-5.67zM737.01,1289.89h5.67v6.36h-5.67zM742.43,1283.77h5.67v6.36h-5.67zM747.85,1271.54h5.67v6.36h-5.67zM753.28,1326.57h5.67v6.36h-5.67zM753.28,1320.46h5.67v6.36h-5.67zM758.7,1314.34h5.67v6.36h-5.67zM758.7,1308.23h5.67v6.36h-5.67zM758.7,1283.77h5.67v6.36h-5.67zM796.66,1332.69h5.67v6.36h-5.67zM796.66,1320.46h5.67v6.36h-5.67zM802.08,1302.11h5.67v6.36h-5.67zM802.08,1296h5.67v6.36h-5.67zM802.08,1283.77h5.67v6.36h-5.67zM807.51,1302.11h5.67v6.36h-5.67zM818.35,1296h5.67v6.36h-5.67zM829.2,1326.57h5.67v6.36h-5.67zM834.62,1320.46h5.67v6.36h-5.67zM834.62,1314.34h5.67v6.36h-5.67zM834.62,1271.54h5.67v6.36h-5.67zM840.04,1289.89h5.67v6.36h-5.67zM850.89,1302.11h5.67v6.36h-5.67zM856.31,1277.66h5.67v6.36h-5.67zM872.58,1320.46h5.67v6.36h-5.67zM894.27,1283.77h5.67v6.36h-5.67zM910.54,1296h5.67v6.36h-5.67zM932.23,1308.23h5.67v6.36h-5.67zM932.23,1302.11h5.67v6.36h-5.67zM953.92,1289.89h5.67v6.36h-5.67zM970.19,1326.57h5.67v6.36h-5.67zM991.89,1265.43h5.67v6.36h-5.67z" fill="#40ffbf"/>
<path d="M368.25,1399.94h5.67v6.36h-5.67zM368.25,1387.71h5.67v6.36h-5.67zM368.25,1375.49h5.67v6.36h-5.67zM368.25,1332.69h5.67v6.36h-5.67zM368.25,1326.57h5.67v6.36h-5.67zM368.25,1314.34h5.67v6.36h-5.67zM373.67,1314.34h5.67v6.36h-5.67zM373.67,1308.23h5.67v6.36h-5.67zM373.67,1296h5.67v6.36h-5.67zM373.67,1283.77h5.67v6.36h-5.67zM379.1,1302.11h5.67v6.36h-5.67zM379.1,1289.89h5.67v6.36h-5.67zM379.1,1283.77h5.67v6.36h-5.67zM379.1,1277.66h5.67v6.36h-5.67zM379.1,1271.54h5.67v6.36h-5.67zM384.52,1308.23h5.67v6.36h-5.67zM384.52,1302.11h5.67v6.36h-5.67zM384.52,1296h5.67v6.36h-5.67zM384.52,1289.89h5.67v6.36h-5.67zM384.52,1283.77h5.67v6.36h-5.67zM384.52,1277.66h5.67v6.36h-5.67zM384.52,1271.54h5.67v6.36h-5.67zM389.94,1314.34h5.67v6.36h-5.67zM389.94,1308.23h5.67v6.36h-5.67zM389.94,1302.11h5.67v6.36h-5.67zM389.94,1289.89h5.67v6.36h-5.67zM395.36,1308.23h5.67v6.36h-5.67zM395.36,1302.11h5.67v6.36h-5.67zM395.36,1277.66h5.67v6.36h-5.67zM400.79,1302.11h5.67v6.36h-5.67zM411.63,1326.57h5.67v6.36h-5.67zM411.63,1283.77h5.67v6.36h-5.67zM417.06,1302.11h5.67v6.36h-5.67zM417.06,1283.77h5.67v6.36h-5.67zM417.06,1271.54h5.67v6.36h-5.67zM422.48,1308.23h5.67v6.36h-5.67zM433.32,1296h5.67v6.36h-5.67zM433.32,1277.66h5.67v6.36h-5.67zM438.75,1289.89h5.67v6.36h-5.67zM438.75,1277.66h5.67v6.36h-5.67zM444.17,1296h5.67v6.36h-5.67zM449.59,1296h5.67v6.36h-5.67zM460.44,1296h5.67v6.36h-5.67zM460.44,1289.89h5.67v6.36h-5.67zM460.44,1277.66h5.67v6.36h-5.67zM465.86,1289.89h5.67v6.36h-5.67zM471.29,1308.23h5.67v6.36h-5.67zM471.29,1296h5.67v6.36h-5.67zM476.71,1302.11h5.67v6.36h-5.67zM476.71,1296h5.67v6.36h-5.67zM476.71,1289.89h5.67v6.36h-5.67zM476.71,1283.77h5.67v6.36h-5.67zM482.13,1308.23h5.67v6.36h-5.67zM482.13,1277.66h5.67v6.36h-5.67zM482.13,1271.54h5.67v6.36h-5.67zM492.98,1289.89h5.67v6.36h-5.67zM492.98,1277.66h5.67v6.36h-5.67zM492.98,1271.54h5.67v6.36h-5.67zM498.4,1308.23h5.67v6.36h-5.67zM498.4,1296h5.67v6.36h-5.67zM503.82,1314.34h5.67v6.36h-5.67zM503.82,1296h5.67v6.36h-5.67zM509.25,1302.11h5.67v6.36h-5.67zM509.25,1296h5.67v6.36h-5.67zM509.25,1283.77h5.67v6.36h-5.67zM520.09,1296h5.67v6.36h-5.67zM525.51,1302.11h5.67v6.36h-5.67zM525.51,1289.89h5.67v6.36h-5.67zM525.51,1277.66h5.67v6.36h-5.67zM525.51,1271.54h5.67v6.36h-5.67zM530.94,1308.23h5.67v6.36h-5.67zM536.36,1296h5.67v6.36h-5.67zM536.36,1283.77h5.67v6.36h-5.67zM536.36,1271.54h5.67v6.36h-5.67zM541.78,1289.89h5.67v6.36h-5.67zM547.21,1314.34h5.67v6.36h-5.67zM547.21,1296h5.67v6.36h-5.67zM547.21,1289.89h5.67v6.36h-5.67zM552.63,1283.77h5.67v6.36h-5.67zM558.05,1289.89h5.67v6.36h-5.67zM563.48,1296h5.67v6.36h-5.67zM568.9,1277.66h5.67v6.36h-5.67zM574.32,1289.89h5.67v6.36h-5.67zM579.74,1302.11h5.67v6.36h-5.67zM579.74,1296h5.67v6.36h-5.67zM585.17,1308.23h5.67v6.36h-5.67zM606.86,1271.54h5.67v6.36h-5.67zM612.28,1320.46h5.67v6.36h-5.67zM612.28,1314.34h5.67v6.36h-5.67zM612.28,1296h5.67v6.36h-5.67zM612.28,1283.77h5.67v6.36h-5.67zM612.28,1277.66h5.67v6.36h-5.67zM617.7,1296h5.67v6.36h-5.67zM633.97,1277.66h5.67v6.36h-5.67zM639.4,1289.89h5.67v6.36h-5.67zM644.82,1277.66h5.67v6.36h-5.67zM650.24,1296h5.67v6.36h-5.67zM655.66,1283.77h5.67v6.36h-5.67zM682.78,1271.54h5.67v6.36h-5.67zM688.2,1326.57h5.67v6.36h-5.67zM704.47,1265.43h5.67v6.36h-5.67zM704.47,1240.97h5.67v6.36h-5.67zM709.89,1283.77h5.67v6.36h-5.67zM715.32,1234.86h5.67v6.36h-5.67zM720.74,1289.89h5.67v6.36h-5.67zM720.74,1259.31h5.67v6.36h-5.67zM731.59,1259.31h5.67v6.36h-5.67zM731.59,1253.2h5.67v6.36h-5.67zM737.01,1314.34h5.67v6.36h-5.67zM737.01,1277.66h5.67v6.36h-5.67zM747.85,1247.09h5.67v6.36h-5.67zM753.28,1277.66h5.67v6.36h-5.67zM753.28,1271.54h5.67v6.36h-5.67zM753.28,1265.43h5.67v6.36h-5.67zM758.7,1320.46h5.67v6.36h-5.67zM758.7,1277.66h5.67v6.36h-5.67zM758.7,1271.54h5.67v6.36h-5.67zM758.7,1265.43h5.67v6.36h-5.67zM764.12,1277.66h5.67v6.36h-5.67zM764.12,1265.43h5.67v6.36h-5.67zM769.55,1277.66h5.67v6.36h-5.67zM769.55,1271.54h5.67v6.36h-5.67zM769.55,1265.43h5.67v6.36h-5.67zM774.97,1283.77h5.67v6.36h-5.67zM774.97,1277.66h5.67v6.36h-5.67zM774.97,1271.54h5.67v6.36h-5.67zM780.39,1259.31h5.67v6.36h-5.67zM785.81,1277.66h5.67v6.36h-5.67zM785.81,1265.43h5.67v6.36h-5.67zM785.81,1253.2h5.67v6.36h-5.67zM791.24,1277.66h5.67v6.36h-5.67zM791.24,1259.31h5.67v6.36h-5.67zM796.66,1296h5.67v6.36h-5.67zM796.66,1283.77h5.67v6.36h-5.67zM807.51,1283.77h5.67v6.36h-5.67zM812.93,1289.89h5.67v6.36h-5.67zM818.35,1277.66h5.67v6.36h-5.67zM818.35,1265.43h5.67v6.36h-5.67zM818.35,1234.86h5.67v6.36h-5.67zM823.77,1320.46h5.67v6.36h-5.67zM823.77,1314.34h5.67v6.36h-5.67zM829.2,1302.11h5.67v6.36h-5.67zM834.62,1289.89h5.67v6.36h-5.67zM834.62,1277.66h5.67v6.36h-5.67zM834.62,1265.43h5.67v6.36h-5.67zM834.62,1253.2h5.67v6.36h-5.67zM840.04,1265.43h5.67v6.36h-5.67zM850.89,1277.66h5.67v6.36h-5.67zM856.31,1259.31h5.67v6.36h-5.67zM856.31,1234.86h5.67v6.36h-5.67zM861.74,1283.77h5.67v6.36h-5.67zM861.74,1247.09h5.67v6.36h-5.67zM872.58,1289.89h5.67v6.36h-5.67zM872.58,1277.66h5.67v6.36h-5.67zM872.58,1265.43h5.67v6.36h-5.67zM872.58,1247.09h5.67v6.36h-5.67zM878,1296h5.67v6.36h-5.67zM878,1277.66h5.67v6.36h-5.67zM883.43,1277.66h5.67v6.36h-5.67zM883.43,1271.54h5.67v6.36h-5.67zM888.85,1283.77h5.67v6.36h-5.67zM894.27,1302.11h5.67v6.36h-5.67zM894.27,1296h5.67v6.36h-5.67zM894.27,1277.66h5.67v6.36h-5.67zM894.27,1247.09h5.67v6.36h-5.67zM899.7,1283.77h5.67v6.36h-5.67zM899.7,1277.66h5.67v6.36h-5.67zM899.7,1259.31h5.67v6.36h-5.67zM905.12,1289.89h5.67v6.36h-5.67zM905.12,1265.43h5.67v6.36h-5.67zM910.54,1277.66h5.67v6.36h-5.67zM910.54,1253.2h5.67v6.36h-5.67zM915.96,1283.77h5.67v6.36h-5.67zM921.39,1265.43h5.67v6.36h-5.67zM926.81,1277.66h5.67v6.36h-5.67zM926.81,1265.43h5.67v6.36h-5.67zM926.81,1259.31h5.67v6.36h-5.67zM932.23,1289.89h5.67v6.36h-5.67zM932.23,1271.54h5.67v6.36h-5.67zM937.66,1277.66h5.67v6.36h-5.67zM937.66,1271.54h5.67v6.36h-5.67zM937.66,1265.43h5.67v6.36h-5.67zM937.66,1259.31h5.67v6.36h-5.67zM943.08,1302.11h5.67v6.36h-5.67zM948.5,1259.31h5.67v6.36h-5.67zM953.92,1277.66h5.67v6.36h-5.67zM953.92,1271.54h5.67v6.36h-5.67zM953.92,1259.31h5.67v6.36h-5.67zM959.35,1259.31h5.67v6.36h-5.67zM964.77,1277.66h5.67v6.36h-5.67zM964.77,1271.54h5.67v6.36h-5.67zM964.77,1265.43h5.67v6.36h-5.67zM970.19,1277.66h5.67v6.36h-5.67zM986.46,1296h5.67v6.36h-5.67zM986.46,1289.89h5.67v6.36h-5.67zM991.89,1283.77h5.67v6.36h-5.67zM991.89,1277.66h5.67v6.36h-5.67zM991.89,1259.31h5.67v6.36h-5.67zM991.89,1247.09h5.67v6.36h-5.67zM991.89,1228.74h5.67v6.36h-5.67zM997.31,1259.31h5.67v6.36h-5.67zM997.31,1234.86h5.67v6.36h-5.67zM1008.15,1283.77h5.67v6.36h-5.67zM1008.15,1277.66h5.67v6.36h-5.67zM1008.15,1271.54h5.67v6.36h-5.67z" fill="#00ffff"/>
<path d="M368.25,1302.11h5.67v6.36h-5.67zM368.25,1296h5.67v6.36h-5.67zM368.25,1283.77h5.67v6.36h-5.67zM368.25,1271.54h5.67v6.36h-5.67zM368.25,1265.43h5.67v6.36h-5.67zM384.52,1253.2h5.67v6.36h-5.67zM389.94,1283.77h5.67v6.36h-5.67zM411.63,1259.31h5.67v6.36h-5.67zM482.13,1289.89h5.67v6.36h-5.67zM520.09,1259.31h5.67v6.36h-5.67zM520.09,1253.2h5.67v6.36h-5.67zM530.94,1296h5.67v6.36h-5.67zM530.94,1289.89h5.67v6.36h-5.67zM530.94,1277.66h5.67v6.36h-5.67zM644.82,1259.31h5.67v6.36h-5.67zM677.36,1271.54h5.67v6.36h-5.67zM699.05,1265.43h5.67v6.36h-5.67zM747.85,1234.86h5.67v6.36h-5.67zM753.28,1253.2h5.67v6.36h-5.67zM758.7,1253.2h5.67v6.36h-5.67zM758.7,1247.09h5.67v6.36h-5.67zM758.7,1240.97h5.67v6.36h-5.67zM758.7,1234.86h5.67v6.36h-5.67zM764.12,1253.2h5.67v6.36h-5.67zM764.12,1247.09h5.67v6.36h-5.67zM764.12,1240.97h5.67v6.36h-5.67zM769.55,1259.31h5.67v6.36h-5.67zM769.55,1240.97h5.67v6.36h-5.67zM774.97,1253.2h5.67v6.36h-5.67zM774.97,1247.09h5.67v6.36h-5.67zM780.39,1253.2h5.67v6.36h-5.67zM780.39,1240.97h5.67v6.36h-5.67zM785.81,1247.09h5.67v6.36h-5.67zM785.81,1240.97h5.67v6.36h-5.67zM785.81,1234.86h5.67v6.36h-5.67zM785.81,1228.74h5.67v6.36h-5.67zM791.24,1253.2h5.67v6.36h-5.67zM791.24,1240.97h5.67v6.36h-5.67zM791.24,1234.86h5.67v6.36h-5.67zM796.66,1271.54h5.67v6.36h-5.67zM796.66,1265.43h5.67v6.36h-5.67zM796.66,1259.31h5.67v6.36h-5.67zM796.66,1253.2h5.67v6.36h-5.67zM796.66,1247.09h5.67v6.36h-5.67zM802.08,1277.66h5.67v6.36h-5.67zM802.08,1271.54h5.67v6.36h-5.67zM802.08,1253.2h5.67v6.36h-5.67zM802.08,1234.86h5.67v6.36h-5.67zM807.51,1247.09h5.67v6.36h-5.67zM812.93,1253.2h5.67v6.36h-5.67zM812.93,1247.09h5.67v6.36h-5.67zM818.35,1216.51h5.67v6.36h-5.67zM818.35,1210.4h5.67v6.36h-5.67zM823.77,1265.43h5.67v6.36h-5.67zM829.2,1283.77h5.67v6.36h-5.67zM834.62,1247.09h5.67v6.36h-5.67zM834.62,1240.97h5.67v6.36h-5.67zM834.62,1234.86h5.67v6.36h-5.67zM834.62,1222.63h5.67v6.36h-5.67zM840.04,1247.09h5.67v6.36h-5.67zM840.04,1240.97h5.67v6.36h-5.67zM840.04,1210.4h5.67v6.36h-5.67zM845.47,1277.66h5.67v6.36h-5.67zM845.47,1271.54h5.67v6.36h-5.67zM845.47,1259.31h5.67v6.36h-5.67zM845.47,1253.2h5.67v6.36h-5.67zM850.89,1259.31h5.67v6.36h-5.67zM850.89,1240.97h5.67v6.36h-5.67zM850.89,1216.51h5.67v6.36h-5.67zM850.89,1210.4h5.67v6.36h-5.67zM856.31,1253.2h5.67v6.36h-5.67zM861.74,1234.86h5.67v6.36h-5.67zM861.74,1228.74h5.67v6.36h-5.67zM861.74,1210.4h5.67v6.36h-5.67zM867.16,1283.77h5.67v6.36h-5.67zM867.16,1253.2h5.67v6.36h-5.67zM883.43,1259.31h5.67v6.36h-5.67zM883.43,1253.2h5.67v6.36h-5.67zM883.43,1240.97h5.67v6.36h-5.67zM888.85,1277.66h5.67v6.36h-5.67zM888.85,1253.2h5.67v6.36h-5.67zM894.27,1259.31h5.67v6.36h-5.67zM894.27,1253.2h5.67v6.36h-5.67zM894.27,1210.4h5.67v6.36h-5.67zM899.7,1253.2h5.67v6.36h-5.67zM899.7,1247.09h5.67v6.36h-5.67zM899.7,1240.97h5.67v6.36h-5.67zM899.7,1228.74h5.67v6.36h-5.67zM905.12,1253.2h5.67v6.36h-5.67zM905.12,1234.86h5.67v6.36h-5.67zM905.12,1228.74h5.67v6.36h-5.67zM910.54,1247.09h5.67v6.36h-5.67zM910.54,1240.97h5.67v6.36h-5.67zM910.54,1234.86h5.67v6.36h-5.67zM910.54,1222.63h5.67v6.36h-5.67zM915.96,1247.09h5.67v6.36h-5.67zM915.96,1240.97h5.67v6.36h-5.67zM921.39,1240.97h5.67v6.36h-5.67zM921.39,1228.74h5.67v6.36h-5.67zM926.81,1253.2h5.67v6.36h-5.67zM926.81,1240.97h5.67v6.36h-5.67zM932.23,1240.97h5.67v6.36h-5.67zM943.08,1247.09h5.67v6.36h-5.67zM948.5,1253.2h5.67v6.36h-5.67zM948.5,1247.09h5.67v6.36h-5.67zM948.5,1240.97h5.67v6.36h-5.67zM948.5,1234.86h5.67v6.36h-5.67zM948.5,1228.74h5.67v6.36h-5.67zM953.92,1240.97h5.67v6.36h-5.67zM953.92,1228.74h5.67v6.36h-5.67zM959.35,1253.2h5.67v6.36h-5.67zM959.35,1228.74h5.67v6.36h-5.67zM964.77,1253.2h5.67v6.36h-5.67zM964.77,1247.09h5.67v6.36h-5.67zM964.77,1234.86h5.67v6.36h-5.67zM964.77,1228.74h5.67v6.36h-5.67zM970.19,1283.77h5.67v6.36h-5.67zM970.19,1265.43h5.67v6.36h-5.67zM975.62,1277.66h5.67v6.36h-5.67zM975.62,1271.54h5.67v6.36h-5.67zM975.62,1247.09h5.67v6.36h-5.67zM975.62,1240.97h5.67v6.36h-5.67zM975.62,1234.86h5.67v6.36h-5.67zM981.04,1296h5.67v6.36h-5.67zM981.04,1253.2h5.67v6.36h-5.67zM986.46,1259.31h5.67v6.36h-5.67zM986.46,1240.97h5.67v6.36h-5.67zM997.31,1253.2h5.67v6.36h-5.67zM997.31,1228.74h5.67v6.36h-5.67zM1002.73,1283.77h5.67v6.36h-5.67zM1002.73,1240.97h5.67v6.36h-5.67zM1008.15,1240.97h5.67v6.36h-5.67zM1008.15,1216.51h5.67v6.36h-5.67zM1013.58,1247.09h5.67v6.36h-5.67zM1013.58,1234.86h5.67v6.36h-5.67z" fill="#00bfff"/>
<path d="M373.67,1503.89h5.67v6.36h-5.67zM373.67,1473.31h5.67v6.36h-5.67zM379.1,1473.31h5.67v6.36h-5.67zM379.1,1454.97h5.67v6.36h-5.67zM379.1,1381.6h5.67v6.36h-5.67zM379.1,1357.14h5.67v6.36h-5.67zM389.94,1454.97h5.67v6.36h-5.67zM395.36,1467.2h5.67v6.36h-5.67zM395.36,1461.09h5.67v6.36h-5.67zM395.36,1454.97h5.67v6.36h-5.67zM400.79,1461.09h5.67v6.36h-5.67zM400.79,1393.83h5.67v6.36h-5.67zM400.79,1351.03h5.67v6.36h-5.67zM406.21,1473.31h5.67v6.36h-5.67zM406.21,1467.2h5.67v6.36h-5.67zM406.21,1461.09h5.67v6.36h-5.67zM406.21,1357.14h5.67v6.36h-5.67zM411.63,1387.71h5.67v6.36h-5.67zM417.06,1387.71h5.67v6.36h-5.67zM417.06,1351.03h5.67v6.36h-5.67zM427.9,1491.66h5.67v6.36h-5.67zM427.9,1479.43h5.67v6.36h-5.67zM427.9,1467.2h5.67v6.36h-5.67zM427.9,1461.09h5.67v6.36h-5.67zM427.9,1448.86h5.67v6.36h-5.67zM427.9,1430.51h5.67v6.36h-5.67zM427.9,1351.03h5.67v6.36h-5.67zM427.9,1344.91h5.67v6.36h-5.67zM433.32,1461.09h5.67v6.36h-5.67zM438.75,1491.66h5.67v6.36h-5.67zM438.75,1485.54h5.67v6.36h-5.67zM438.75,1479.43h5.67v6.36h-5.67zM438.75,1473.31h5.67v6.36h-5.67zM438.75,1448.86h5.67v6.36h-5.67zM438.75,1442.74h5.67v6.36h-5.67zM438.75,1430.51h5.67v6.36h-5.67zM438.75,1393.83h5.67v6.36h-5.67zM438.75,1369.37h5.67v6.36h-5.67zM438.75,1363.26h5.67v6.36h-5.67zM444.17,1454.97h5.67v6.36h-5.67zM444.17,1442.74h5.67v6.36h-5.67zM444.17,1436.63h5.67v6.36h-5.67zM444.17,1393.83h5.67v6.36h-5.67zM449.59,1454.97h5.67v6.36h-5.67zM449.59,1448.86h5.67v6.36h-5.67zM449.59,1442.74h5.67v6.36h-5.67zM455.02,1436.63h5.67v6.36h-5.67zM455.02,1393.83h5.67v6.36h-5.67zM455.02,1387.71h5.67v6.36h-5.67zM455.02,1375.49h5.67v6.36h-5.67zM455.02,1369.37h5.67v6.36h-5.67zM455.02,1363.26h5.67v6.36h-5.67zM460.44,1375.49h5.67v6.36h-5.67zM465.86,1497.77h5.67v6.36h-5.67zM465.86,1473.31h5.67v6.36h-5.67zM465.86,1448.86h5.67v6.36h-5.67zM465.86,1436.63h5.67v6.36h-5.67zM465.86,1381.6h5.67v6.36h-5.67zM465.86,1375.49h5.67v6.36h-5.67zM465.86,1369.37h5.67v6.36h-5.67zM465.86,1363.26h5.67v6.36h-5.67zM465.86,1357.14h5.67v6.36h-5.67zM465.86,1351.03h5.67v6.36h-5.67zM465.86,1338.8h5.67v6.36h-5.67zM471.29,1461.09h5.67v6.36h-5.67zM471.29,1387.71h5.67v6.36h-5.67zM471.29,1363.26h5.67v6.36h-5.67zM471.29,1357.14h5.67v6.36h-5.67zM476.71,1467.2h5.67v6.36h-5.67zM476.71,1375.49h5.67v6.36h-5.67zM482.13,1467.2h5.67v6.36h-5.67zM482.13,1461.09h5.67v6.36h-5.67zM487.55,1467.2h5.67v6.36h-5.67zM487.55,1461.09h5.67v6.36h-5.67zM487.55,1448.86h5.67v6.36h-5.67zM487.55,1442.74h5.67v6.36h-5.67zM487.55,1436.63h5.67v6.36h-5.67zM487.55,1393.83h5.67v6.36h-5.67zM487.55,1387.71h5.67v6.36h-5.67zM487.55,1375.49h5.67v6.36h-5.67zM487.55,1369.37h5.67v6.36h-5.67zM487.55,1363.26h5.67v6.36h-5.67zM492.98,1448.86h5.67v6.36h-5.67zM492.98,1442.74h5.67v6.36h-5.67zM492.98,1399.94h5.67v6.36h-5.67zM492.98,1381.6h5.67v6.36h-5.67zM498.4,1503.89h5.67v6.36h-5.67zM498.4,1479.43h5.67v6.36h-5.67zM498.4,1473.31h5.67v6.36h-5.67zM498.4,1461.09h5.67v6.36h-5.67zM498.4,1448.86h5.67v6.36h-5.67zM503.82,1467.2h5.67v6.36h-5.67zM503.82,1461.09h5.67v6.36h-5.67zM503.82,1436.63h5.67v6.36h-5.67zM509.25,1491.66h5.67v6.36h-5.67zM509.25,1485.54h5.67v6.36h-5.67zM509.25,1473.31h5.67v6.36h-5.67zM509.25,1387.71h5.67v6.36h-5.67zM514.67,1491.66h5.67v6.36h-5.67zM514.67,1479.43h5.67v6.36h-5.67zM514.67,1473.31h5.67v6.36h-5.67zM514.67,1467.2h5.67v6.36h-5.67zM514.67,1454.97h5.67v6.36h-5.67zM514.67,1448.86h5.67v6.36h-5.67zM514.67,1424.4h5.67v6.36h-5.67zM520.09,1473.31h5.67v6.36h-5.67zM520.09,1467.2h5.67v6.36h-5.67zM520.09,1454.97h5.67v6.36h-5.67zM520.09,1442.74h5.67v6.36h-5.67zM525.51,1485.54h5.67v6.36h-5.67zM525.51,1479.43h5.67v6.36h-5.67zM525.51,1473.31h5.67v6.36h-5.67zM525.51,1461.09h5.67v6.36h-5.67zM525.51,1454.97h5.67v6.36h-5.67zM525.51,1448.86h5.67v6.36h-5.67zM525.51,1442.74h5.67v6.36h-5.67zM525.51,1351.03h5.67v6.36h-5.67zM536.36,1503.89h5.67v6.36h-5.67zM536.36,1467.2h5.67v6.36h-5.67zM536.36,1454.97h5.67v6.36h-5.67zM536.36,1442.74h5.67v6.36h-5.67zM536.36,1399.94h5.67v6.36h-5.67zM541.78,1461.09h5.67v6.36h-5.67zM547.21,1461.09h5.67v6.36h-5.67zM547.21,1436.63h5.67v6.36h-5.67zM558.05,1497.77h5.67v6.36h-5.67zM558.05,1491.66h5.67v6.36h-5.67zM558.05,1485.54h5.67v6.36h-5.67zM558.05,1473.31h5.67v6.36h-5.67zM558.05,1467.2h5.67v6.36h-5.67zM558.05,1461.09h5.67v6.36h-5.67zM558.05,1442.74h5.67v6.36h-5.67zM563.48,1491.66h5.67v6.36h-5.67zM563.48,1473.31h5.67v6.36h-5.67zM563.48,1467.2h5.67v6.36h-5.67zM563.48,1461.09h5.67v6.36h-5.67zM563.48,1448.86h5.67v6.36h-5.67zM563.48,1442.74h5.67v6.36h-5.67zM563.48,1436.63h5.67v6.36h-5.67zM563.48,1430.51h5.67v6.36h-5.67zM568.9,1491.66h5.67v6.36h-5.67zM568.9,1473.31h5.67v6.36h-5.67zM568.9,1467.2h5.67v6.36h-5.67zM568.9,1436.63h5.67v6.36h-5.67zM568.9,1430.51h5.67v6.36h-5.67zM574.32,1491.66h5.67v6.36h-5.67zM574.32,1485.54h5.67v6.36h-5.67zM579.74,1491.66h5.67v6.36h-5.67zM579.74,1485.54h5.67v6.36h-5.67zM585.17,1497.77h5.67v6.36h-5.67zM585.17,1491.66h5.67v6.36h-5.67zM585.17,1485.54h5.67v6.36h-5.67zM596.01,1503.89h5.67v6.36h-5.67zM596.01,1497.77h5.67v6.36h-5.67zM596.01,1491.66h5.67v6.36h-5.67zM596.01,1467.2h5.67v6.36h-5.67zM596.01,1448.86h5.67v6.36h-5.67zM601.44,1503.89h5.67v6.36h-5.67zM601.44,1485.54h5.67v6.36h-5.67zM601.44,1473.31h5.67v6.36h-5.67zM606.86,1497.77h5.67v6.36h-5.67zM606.86,1491.66h5.67v6.36h-5.67zM606.86,1467.2h5.67v6.36h-5.67zM606.86,1418.29h5.67v6.36h-5.67zM617.7,1467.2h5.67v6.36h-5.67zM617.7,1436.63h5.67v6.36h-5.67zM623.13,1497.77h5.67v6.36h-5.67zM623.13,1485.54h5.67v6.36h-5.67zM623.13,1479.43h5.67v6.36h-5.67zM623.13,1442.74h5.67v6.36h-5.67zM628.55,1479.43h5.67v6.36h-5.67zM628.55,1473.31h5.67v6.36h-5.67zM633.97,1491.66h5.67v6.36h-5.67zM633.97,1485.54h5.67v6.36h-5.67zM633.97,1479.43h5.67v6.36h-5.67zM633.97,1473.31h5.67v6.36h-5.67zM633.97,1442.74h5.67v6.36h-5.67zM639.4,1473.31h5.67v6.36h-5.67zM639.4,1448.86h5.67v6.36h-5.67zM639.4,1436.63h5.67v6.36h-5.67zM644.82,1491.66h5.67v6.36h-5.67zM644.82,1448.86h5.67v6.36h-5.67zM644.82,1442.74h5.67v6.36h-5.67zM644.82,1430.51h5.67v6.36h-5.67zM644.82,1424.4h5.67v6.36h-5.67zM650.24,1497.77h5.67v6.36h-5.67zM650.24,1491.66h5.67v6.36h-5.67zM650.24,1467.2h5.67v6.36h-5.67zM650.24,1461.09h5.67v6.36h-5.67zM650.24,1448.86h5.67v6.36h-5.67zM650.24,1442.74h5.67v6.36h-5.67zM655.66,1485.54h5.67v6.36h-5.67zM655.66,1479.43h5.67v6.36h-5.67zM655.66,1448.86h5.67v6.36h-5.67zM655.66,1430.51h5.67v6.36h-5.67zM655.66,1424.4h5.67v6.36h-5.67zM661.09,1497.77h5.67v6.36h-5.67zM661.09,1448.86h5.67v6.36h-5.67zM666.51,1485.54h5.67v6.36h-5.67zM666.51,1479.43h5.67v6.36h-5.67zM666.51,1473.31h5.67v6.36h-5.67zM666.51,1430.51h5.67v6.36h-5.67zM671.93,1485.54h5.67v6.36h-5.67zM671.93,1479.43h5.67v6.36h-5.67zM671.93,1473.31h5.67v6.36h-5.67zM671.93,1448.86h5.67v6.36h-5.67zM671.93,1436.63h5.67v6.36h-5.67zM671.93,1418.29h5.67v6.36h-5.67zM677.36,1485.54h5.67v6.36h-5.67zM677.36,1467.2h5.67v6.36h-5.67zM677.36,1454.97h5.67v6.36h-5.67zM682.78,1497.77h5.67v6.36h-5.67zM682.78,1491.66h5.67v6.36h-5.67zM682.78,1467.2h5.67v6.36h-5.67zM682.78,1424.4h5.67v6.36h-5.67zM688.2,1485.54h5.67v6.36h-5.67zM688.2,1454.97h5.67v6.36h-5.67zM688.2,1448.86h5.67v6.36h-5.67zM688.2,1442.74h5.67v6.36h-5.67zM693.62,1485.54h5.67v6.36h-5.67zM693.62,1473.31h5.67v6.36h-5.67zM693.62,1467.2h5.67v6.36h-5.67zM693.62,1448.86h5.67v6.36h-5.67zM699.05,1503.89h5.67v6.36h-5.67zM699.05,1461.09h5.67v6.36h-5.67zM699.05,1436.63h5.67v6.36h-5.67zM704.47,1503.89h5.67v6.36h-5.67zM704.47,1448.86h5.67v6.36h-5.67zM704.47,1442.74h5.67v6.36h-5.67zM704.47,1436.63h5.67v6.36h-5.67zM704.47,1430.51h5.67v6.36h-5.67zM704.47,1406.06h5.67v6.36h-5.67zM704.47,1399.94h5.67v6.36h-5.67zM704.47,1393.83h5.67v6.36h-5.67zM704.47,1387.71h5.67v6.36h-5.67zM704.47,1381.6h5.67v6.36h-5.67zM704.47,1375.49h5.67v6.36h-5.67zM704.47,1369.37h5.67v6.36h-5.67zM709.89,1461.09h5.67v6.36h-5.67zM709.89,1454.97h5.67v6.36h-5.67zM709.89,1442.74h5.67v6.36h-5.67zM709.89,1418.29h5.67v6.36h-5.67zM709.89,1412.17h5.67v6.36h-5.67zM709.89,1406.06h5.67v6.36h-5.67zM709.89,1393.83h5.67v6.36h-5.67zM709.89,1387.71h5.67v6.36h-5.67zM709.89,1381.6h5.67v6.36h-5.67zM715.32,1503.89h5.67v6.36h-5.67zM715.32,1467.2h5.67v6.36h-5.67zM715.32,1448.86h5.67v6.36h-5.67zM715.32,1424.4h5.67v6.36h-5.67zM715.32,1418.29h5.67v6.36h-5.67zM715.32,1412.17h5.67v6.36h-5.67zM715.32,1406.06h5.67v6.36h-5.67zM715.32,1399.94h5.67v6.36h-5.67zM715.32,1393.83h5.67v6.36h-5.67zM720.74,1503.89h5.67v6.36h-5.67zM720.74,1491.66h5.67v6.36h-5.67zM720.74,1485.54h5.67v6.36h-5.67zM720.74,1448.86h5.67v6.36h-5.67zM720.74,1442.74h5.67v6.36h-5.67zM720.74,1436.63h5.67v6.36h-5.67zM720.74,1430.51h5.67v6.36h-5.67zM720.74,1412.17h5.67v6.36h-5.67zM720.74,1406.06h5.67v6.36h-5.67zM720.74,1393.83h5.67v6.36h-5.67zM726.16,1491.66h5.67v6.36h-5.67zM726.16,1479.43h5.67v6.36h-5.67zM726.16,1473.31h5.67v6.36h-5.67zM726.16,1461.09h5.67v6.36h-5.67zM726.16,1442.74h5.67v6.36h-5.67zM731.59,1503.89h5.67v6.36h-5.67zM731.59,1454.97h5.67v6.36h-5.67zM737.01,1473.31h5.67v6.36h-5.67zM737.01,1467.2h5.67v6.36h-5.67zM737.01,1461.09h5.67v6.36h-5.67zM737.01,1442.74h5.67v6.36h-5.67zM742.43,1454.97h5.67v6.36h-5.67zM747.85,1467.2h5.67v6.36h-5.67zM753.28,1473.31h5.67v6.36h-5.67zM753.28,1430.51h5.67v6.36h-5.67zM753.28,1418.29h5.67v6.36h-5.67zM753.28,1406.06h5.67v6.36h-5.67zM753.28,1369.37h5.67v6.36h-5.67zM753.28,1363.26h5.67v6.36h-5.67zM753.28,1357.14h5.67v6.36h-5.67zM758.7,1467.2h5.67v6.36h-5.67zM758.7,1430.51h5.67v6.36h-5.67zM758.7,1418.29h5.67v6.36h-5.67zM758.7,1406.06h5.67v6.36h-5.67zM764.12,1473.31h5.67v6.36h-5.67zM764.12,1467.2h5.67v6.36h-5.67zM769.55,1369.37h5.67v6.36h-5.67zM774.97,1461.09h5.67v6.36h-5.67zM774.97,1442.74h5.67v6.36h-5.67zM774.97,1418.29h5.67v6.36h-5.67zM774.97,1412.17h5.67v6.36h-5.67zM774.97,1406.06h5.67v6.36h-5.67zM774.97,1381.6h5.67v6.36h-5.67zM774.97,1375.49h5.67v6.36h-5.67zM780.39,1467.2h5.67v6.36h-5.67zM780.39,1461.09h5.67v6.36h-5.67zM780.39,1448.86h5.67v6.36h-5.67zM780.39,1406.06h5.67v6.36h-5.67zM785.81,1467.2h5.67v6.36h-5.67zM785.81,1461.09h5.67v6.36h-5.67zM791.24,1473.31h5.67v6.36h-5.67zM791.24,1454.97h5.67v6.36h-5.67zM796.66,1473.31h5.67v6.36h-5.67zM802.08,1461.09h5.67v6.36h-5.67z" fill="#ff8000"/>
<path d="M373.67,1216.51h5.67v6.36h-5.67zM492.98,1228.74h5.67v6.36h-5.67zM520.09,1222.63h5.67v6.36h-5.67zM541.78,1222.63h5.67v6.36h-5.67zM585.17,1247.09h5.67v6.36h-5.67zM601.44,1247.09h5.67v6.36h-5.67zM606.86,1240.97h5.67v6.36h-5.67zM612.28,1253.2h5.67v6.36h-5.67zM666.51,1216.51h5.67v6.36h-5.67zM764.12,1234.86h5.67v6.36h-5.67zM764.12,1222.63h5.67v6.36h-5.67zM764.12,1210.4h5.67v6.36h-5.67zM769.55,1247.09h5.67v6.36h-5.67zM769.55,1234.86h5.67v6.36h-5.67zM774.97,1234.86h5.67v6.36h-5.67zM774.97,1228.74h5.67v6.36h-5.67zM780.39,1247.09h5.67v6.36h-5.67zM780.39,1234.86h5.67v6.36h-5.67zM780.39,1216.51h5.67v6.36h-5.67zM785.81,1216.51h5.67v6.36h-5.67zM791.24,1216.51h5.67v6.36h-5.67zM796.66,1240.97h5.67v6.36h-5.67zM796.66,1222.63h5.67v6.36h-5.67zM802.08,1240.97h5.67v6.36h-5.67zM802.08,1216.51h5.67v6.36h-5.67zM807.51,1216.51h5.67v6.36h-5.67zM807.51,1210.4h5.67v6.36h-5.67zM812.93,1228.74h5.67v6.36h-5.67zM812.93,1210.4h5.67v6.36h-5.67zM823.77,1253.2h5.67v6.36h-5.67zM823.77,1240.97h5.67v6.36h-5.67zM823.77,1228.74h5.67v6.36h-5.67zM829.2,1265.43h5.67v6.36h-5.67zM829.2,1259.31h5.67v6.36h-5.67zM829.2,1253.2h5.67v6.36h-5.67zM829.2,1247.09h5.67v6.36h-5.67zM834.62,1216.51h5.67v6.36h-5.67zM845.47,1240.97h5.67v6.36h-5.67zM845.47,1222.63h5.67v6.36h-5.67zM845.47,1216.51h5.67v6.36h-5.67zM850.89,1228.74h5.67v6.36h-5.67zM850.89,1222.63h5.67v6.36h-5.67zM856.31,1216.51h5.67v6.36h-5.67zM861.74,1222.63h5.67v6.36h-5.67zM861.74,1216.51h5.67v6.36h-5.67zM867.16,1247.09h5.67v6.36h-5.67zM867.16,1240.97h5.67v6.36h-5.67zM867.16,1234.86h5.67v6.36h-5.67zM872.58,1228.74h5.67v6.36h-5.67zM872.58,1210.4h5.67v6.36h-5.67zM878,1222.63h5.67v6.36h-5.67zM878,1210.4h5.67v6.36h-5.67zM883.43,1228.74h5.67v6.36h-5.67zM883.43,1216.51h5.67v6.36h-5.67zM883.43,1210.4h5.67v6.36h-5.67zM888.85,1228.74h5.67v6.36h-5.67zM894.27,1228.74h5.67v6.36h-5.67zM894.27,1222.63h5.67v6.36h-5.67zM899.7,1222.63h5.67v6.36h-5.67zM899.7,1210.4h5.67v6.36h-5.67zM905.12,1222.63h5.67v6.36h-5.67zM905.12,1210.4h5.67v6.36h-5.67zM910.54,1216.51h5.67v6.36h-5.67zM910.54,1210.4h5.67v6.36h-5.67zM915.96,1222.63h5.67v6.36h-5.67zM915.96,1216.51h5.67v6.36h-5.67zM915.96,1210.4h5.67v6.36h-5.67zM921.39,1222.63h5.67v6.36h-5.67zM921.39,1216.51h5.67v6.36h-5.67zM921.39,1210.4h5.67v6.36h-5.67zM926.81,1222.63h5.67v6.36h-5.67zM932.23,1222.63h5.67v6.36h-5.67zM937.66,1234.86h5.67v6.36h-5.67zM937.66,1216.51h5.67v6.36h-5.67zM943.08,1240.97h5.67v6.36h-5.67zM943.08,1216.51h5.67v6.36h-5.67zM948.5,1216.51h5.67v6.36h-5.67zM948.5,1210.4h5.67v6.36h-5.67zM953.92,1216.51h5.67v6.36h-5.67zM953.92,1210.4h5.67v6.36h-5.67zM959.35,1240.97h5.67v6.36h-5.67zM970.19,1240.97h5.67v6.36h-5.67zM970.19,1222.63h5.67v6.36h-5.67zM970.19,1216.51h5.67v6.36h-5.67zM970.19,1210.4h5.67v6.36h-5.67zM975.62,1222.63h5.67v6.36h-5.67zM975.62,1216.51h5.67v6.36h-5.67zM981.04,1259.31h5.67v6.36h-5.67zM981.04,1222.63h5.67v6.36h-5.67zM981.04,1216.51h5.67v6.36h-5.67zM986.46,1228.74h5.67v6.36h-5.67zM986.46,1222.63h5.67v6.36h-5.67zM986.46,1216.51h5.67v6.36h-5.67zM991.89,1210.4h5.67v6.36h-5.67zM997.31,1210.4h5.67v6.36h-5.67zM1002.73,1222.63h5.67v6.36h-5.67zM1002.73,1216.51h5.67v6.36h-5.67zM1002.73,1210.4h5.67v6.36h-5.67zM1008.15,1222.63h5.67v6.36h-5.67zM1013.58,1216.51h5.67v6.36h-5.67zM1013.58,1210.4h5.67v6.36h-5.67z" fill="#0080ff"/>
<path d="M389.94,1253.2h5.67v6.36h-5.67zM422.48,1210.4h5.67v6.36h-5.67zM476.71,1222.63h5.67v6.36h-5.67zM574.32,1259.31h5.67v6.36h-5.67zM574.32,1210.4h5.67v6.36h-5.67zM774.97,1210.4h5.67v6.36h-5.67zM780.39,1228.74h5.67v6.36h-5.67zM802.08,1228.74h5.67v6.36h-5.67zM802.08,1210.4h5.67v6.36h-5.67zM823.77,1216.51h5.67v6.36h-5.67zM823.77,1210.4h5.67v6.36h-5.67zM867.16,1222.63h5.67v6.36h-5.67zM867.16,1216.51h5.67v6.36h-5.67zM867.16,1210.4h5.67v6.36h-5.67zM878,1216.51h5.67v6.36h-5.67zM888.85,1222.63h5.67v6.36h-5.67zM926.81,1216.51h5.67v6.36h-5.67zM932.23,1216.51h5.67v6.36h-5.67zM937.66,1210.4h5.67v6.36h-5.67zM943.08,1210.4h5.67v6.36h-5.67zM953.92,1222.63h5.67v6.36h-5.67zM959.35,1216.51h5.67v6.36h-5.67zM959.35,1210.4h5.67v6.36h-5.67zM981.04,1228.74h5.67v6.36h-5.67z" fill="#0040ff"/>
<path d="M406.21,1387.71h5.67v6.36h-5.67zM455.02,1357.14h5.67v6.36h-5.67zM482.13,1436.63h5.67v6.36h-5.67zM487.55,1479.43h5.67v6.36h-5.67zM492.98,1424.4h5.67v6.36h-5.67zM509.25,1467.2h5.67v6.36h-5.67zM509.25,1454.97h5.67v6.36h-5.67zM509.25,1442.74h5.67v6.36h-5.67zM509.25,1436.63h5.67v6.36h-5.67zM514.67,1461.09h5.67v6.36h-5.67zM514.67,1442.74h5.67v6.36h-5.67zM514.67,1436.63h5.67v6.36h-5.67zM525.51,1467.2h5.67v6.36h-5.67zM525.51,1436.63h5.67v6.36h-5.67zM541.78,1485.54h5.67v6.36h-5.67zM558.05,1436.63h5.67v6.36h-5.67zM558.05,1430.51h5.67v6.36h-5.67zM563.48,1479.43h5.67v6.36h-5.67zM568.9,1503.89h5.67v6.36h-5.67zM568.9,1497.77h5.67v6.36h-5.67zM596.01,1485.54h5.67v6.36h-5.67zM596.01,1479.43h5.67v6.36h-5.67zM623.13,1436.63h5.67v6.36h-5.67zM639.4,1467.2h5.67v6.36h-5.67zM639.4,1461.09h5.67v6.36h-5.67zM639.4,1454.97h5.67v6.36h-5.67zM644.82,1473.31h5.67v6.36h-5.67zM644.82,1467.2h5.67v6.36h-5.67zM644.82,1454.97h5.67v6.36h-5.67zM650.24,1485.54h5.67v6.36h-5.67zM650.24,1479.43h5.67v6.36h-5.67zM650.24,1473.31h5.67v6.36h-5.67zM655.66,1461.09h5.67v6.36h-5.67zM655.66,1454.97h5.67v6.36h-5.67zM661.09,1503.89h5.67v6.36h-5.67zM661.09,1454.97h5.67v6.36h-5.67zM666.51,1491.66h5.67v6.36h-5.67zM666.51,1461.09h5.67v6.36h-5.67zM666.51,1454.97h5.67v6.36h-5.67zM671.93,1467.2h5.67v6.36h-5.67zM671.93,1461.09h5.67v6.36h-5.67zM671.93,1430.51h5.67v6.36h-5.67zM677.36,1461.09h5.67v6.36h-5.67zM677.36,1430.51h5.67v6.36h-5.67zM682.78,1485.54h5.67v6.36h-5.67zM682.78,1473.31h5.67v6.36h-5.67zM682.78,1461.09h5.67v6.36h-5.67zM682.78,1454.97h5.67v6.36h-5.67zM682.78,1448.86h5.67v6.36h-5.67zM682.78,1442.74h5.67v6.36h-5.67zM682.78,1436.63h5.67v6.36h-5.67zM688.2,1461.09h5.67v6.36h-5.67zM688.2,1436.63h5.67v6.36h-5.67zM693.62,1479.43h5.67v6.36h-5.67zM693.62,1430.51h5.67v6.36h-5.67zM704.47,1424.4h5.67v6.36h-5.67zM704.47,1412.17h5.67v6.36h-5.67zM709.89,1424.4h5.67v6.36h-5.67zM715.32,1473.31h5.67v6.36h-5.67zM715.32,1461.09h5.67v6.36h-5.67zM715.32,1454.97h5.67v6.36h-5.67zM715.32,1387.71h5.67v6.36h-5.67zM720.74,1454.97h5.67v6.36h-5.67zM720.74,1418.29h5.67v6.36h-5.67zM720.74,1399.94h5.67v6.36h-5.67zM720.74,1387.71h5.67v6.36h-5.67zM720.74,1381.6h5.67v6.36h-5.67zM742.43,1473.31h5.67v6.36h-5.67zM742.43,1448.86h5.67v6.36h-5.67zM742.43,1442.74h5.67v6.36h-5.67zM742.43,1430.51h5.67v6.36h-5.67zM742.43,1424.4h5.67v6.36h-5.67zM742.43,1418.29h5.67v6.36h-5.67zM742.43,1412.17h5.67v6.36h-5.67zM742.43,1406.06h5.67v6.36h-5.67zM742.43,1399.94h5.67v6.36h-5.67zM742.43,1393.83h5.67v6.36h-5.67zM742.43,1387.71h5.67v6.36h-5.67zM742.43,1381.6h5.67v6.36h-5.67zM742.43,1369.37h5.67v6.36h-5.67zM742.43,1363.26h5.67v6.36h-5.67zM742.43,1357.14h5.67v6.36h-5.67zM742.43,1338.8h5.67v6.36h-5.67zM747.85,1473.31h5.67v6.36h-5.67zM747.85,1461.09h5.67v6.36h-5.67zM747.85,1454.97h5.67v6.36h-5.67zM747.85,1369.37h5.67v6.36h-5.67zM753.28,1467.2h5.67v6.36h-5.67zM753.28,1387.71h5.67v6.36h-5.67zM764.12,1454.97h5.67v6.36h-5.67zM764.12,1448.86h5.67v6.36h-5.67zM764.12,1442.74h5.67v6.36h-5.67zM764.12,1436.63h5.67v6.36h-5.67zM764.12,1430.51h5.67v6.36h-5.67zM764.12,1424.4h5.67v6.36h-5.67zM764.12,1399.94h5.67v6.36h-5.67zM764.12,1393.83h5.67v6.36h-5.67zM764.12,1381.6h5.67v6.36h-5.67zM764.12,1375.49h5.67v6.36h-5.67zM764.12,1369.37h5.67v6.36h-5.67zM764.12,1363.26h5.67v6.36h-5.67zM764.12,1357.14h5.67v6.36h-5.67zM764.12,1351.03h5.67v6.36h-5.67zM764.12,1344.91h5.67v6.36h-5.67zM764.12,1338.8h5.67v6.36h-5.67zM769.55,1461.09h5.67v6.36h-5.67zM769.55,1454.97h5.67v6.36h-5.67zM769.55,1448.86h5.67v6.36h-5.67zM769.55,1442.74h5.67v6.36h-5.67zM769.55,1430.51h5.67v6.36h-5.67zM769.55,1424.4h5.67v6.36h-5.67zM769.55,1418.29h5.67v6.36h-5.67zM769.55,1406.06h5.67v6.36h-5.67zM769.55,1399.94h5.67v6.36h-5.67zM769.55,1393.83h5.67v6.36h-5.67zM769.55,1387.71h5.67v6.36h-5.67zM769.55,1381.6h5.67v6.36h-5.67zM769.55,1363.26h5.67v6.36h-5.67zM769.55,1357.14h5.67v6.36h-5.67zM769.55,1351.03h5.67v6.36h-5.67zM780.39,1442.74h5.67v6.36h-5.67zM780.39,1436.63h5.67v6.36h-5.67zM780.39,1430.51h5.67v6.36h-5.67zM780.39,1424.4h5.67v6.36h-5.67zM780.39,1418.29h5.67v6.36h-5.67zM780.39,1412.17h5.67v6.36h-5.67zM780.39,1399.94h5.67v6.36h-5.67zM780.39,1393.83h5.67v6.36h-5.67zM780.39,1387.71h5.67v6.36h-5.67zM780.39,1381.6h5.67v6.36h-5.67zM780.39,1375.49h5.67v6.36h-5.67zM780.39,1369.37h5.67v6.36h-5.67zM785.81,1442.74h5.67v6.36h-5.67zM785.81,1418.29h5.67v6.36h-5.67zM785.81,1412.17h5.67v6.36h-5.67zM785.81,1406.06h5.67v6.36h-5.67zM785.81,1393.83h5.67v6.36h-5.67zM785.81,1363.26h5.67v6.36h-5.67zM785.81,1357.14h5.67v6.36h-5.67zM785.81,1351.03h5.67v6.36h-5.67zM791.24,1424.4h5.67v6.36h-5.67zM791.24,1418.29h5.67v6.36h-5.67zM791.24,1412.17h5.67v6.36h-5.67zM791.24,1406.06h5.67v6.36h-5.67zM791.24,1399.94h5.67v6.36h-5.67zM791.24,1387.71h5.67v6.36h-5.67zM796.66,1485.54h5.67v6.36h-5.67z" fill="#ff4000"/>
<path d="M487.55,1473.31h5.67v6.36h-5.67zM666.51,1503.89h5.67v6.36h-5.67zM666.51,1497.77h5.67v6.36h-5.67zM666.51,1467.2h5.67v6.36h-5.67zM666.51,1448.86h5.67v6.36h-5.67zM671.93,1424.4h5.67v6.36h-5.67zM742.43,1436.63h5.67v6.36h-5.67zM742.43,1375.49h5.67v6.36h-5.67zM742.43,1351.03h5.67v6.36h-5.67zM742.43,1344.91h5.67v6.36h-5.67zM747.85,1448.86h5.67v6.36h-5.67zM747.85,1442.74h5.67v6.36h-5.67zM747.85,1436.63h5.67v6.36h-5.67zM747.85,1430.51h5.67v6.36h-5.67zM747.85,1424.4h5.67v6.36h-5.67zM747.85,1418.29h5.67v6.36h-5.67zM747.85,1412.17h5.67v6.36h-5.67zM747.85,1406.06h5.67v6.36h-5.67zM747.85,1399.94h5.67v6.36h-5.67zM747.85,1393.83h5.67v6.36h-5.67zM747.85,1387.71h5.67v6.36h-5.67zM747.85,1381.6h5.67v6.36h-5.67zM747.85,1375.49h5.67v6.36h-5.67zM747.85,1363.26h5.67v6.36h-5.67zM747.85,1357.14h5.67v6.36h-5.67zM747.85,1351.03h5.67v6.36h-5.67zM747.85,1344.91h5.67v6.36h-5.67zM747.85,1338.8h5.67v6.36h-5.67zM747.85,1332.69h5.67v6.36h-5.67zM764.12,1418.29h5.67v6.36h-5.67zM764.12,1412.17h5.67v6.36h-5.67zM764.12,1406.06h5.67v6.36h-5.67zM764.12,1387.71h5.67v6.36h-5.67zM769.55,1412.17h5.67v6.36h-5.67zM769.55,1375.49h5.67v6.36h-5.67zM785.81,1448.86h5.67v6.36h-5.67zM785.81,1436.63h5.67v6.36h-5.67zM785.81,1430.51h5.67v6.36h-5.67zM785.81,1424.4h5.67v6.36h-5.67zM785.81,1399.94h5.67v6.36h-5.67zM785.81,1387.71h5.67v6.36h-5.67zM785.81,1381.6h5.67v6.36h-5.67zM785.81,1375.49h5.67v6.36h-5.67zM785.81,1369.37h5.67v6.36h-5.67zM791.24,1448.86h5.67v6.36h-5.67zM791.24,1442.74h5.67v6.36h-5.67zM791.24,1393.83h5.67v6.36h-5.67zM791.24,1381.6h5.67v6.36h-5.67zM791.24,1375.49h5.67v6.36h-5.67zM791.24,1369.37h5.67v6.36h-5.67z" fill="#ff0000"/>
<line x1="328.3" y1="1510" x2="328.3" y2="1488" stroke="#000" stroke-width="2.2" />
<line x1="328.3" y1="1465.6" x2="328.3" y2="1443.6" stroke="#000" stroke-width="2.2" />
<line x1="328.3" y1="1421.2" x2="328.3" y2="1399.2" stroke="#000" stroke-width="2.2" />
<line x1="328.3" y1="1376.8" x2="328.3" y2="1354.8" stroke="#000" stroke-width="2.2" />
<line x1="328.3" y1="1332.4" x2="328.3" y2="1310.4" stroke="#000" stroke-width="2.2" />
<line x1="328.3" y1="1288" x2="328.3" y2="1266" stroke="#000" stroke-width="2.2" />
<line x1="328.3" y1="1243.6" x2="328.3" y2="1221.6" stroke="#000" stroke-width="2.2" />
<line x1="359.5" y1="1510" x2="359.5" y2="1488" stroke="#000" stroke-width="2.2" />
<line x1="359.5" y1="1465.6" x2="359.5" y2="1443.6" stroke="#000" stroke-width="2.2" />
<line x1="359.5" y1="1421.2" x2="359.5" y2="1399.2" stroke="#000" stroke-width="2.2" />
<line x1="359.5" y1="1376.8" x2="359.5" y2="1354.8" stroke="#000" stroke-width="2.2" />
<line x1="359.5" y1="1332.4" x2="359.5" y2="1310.4" stroke="#000" stroke-width="2.2" />
<line x1="359.5" y1="1288" x2="359.5" y2="1266" stroke="#000" stroke-width="2.2" />
<line x1="359.5" y1="1243.6" x2="359.5" y2="1221.6" stroke="#000" stroke-width="2.2" />
<line x1="707.1" y1="1510" x2="707.1" y2="1488" stroke="#000" stroke-width="2.2" />
<line x1="707.1" y1="1465.6" x2="707.1" y2="1443.6" stroke="#000" stroke-width="2.2" />
<line x1="707.1" y1="1421.2" x2="707.1" y2="1399.2" stroke="#000" stroke-width="2.2" />
<line x1="707.1" y1="1376.8" x2="707.1" y2="1354.8" stroke="#000" stroke-width="2.2" />
<line x1="707.1" y1="1332.4" x2="707.1" y2="1310.4" stroke="#000" stroke-width="2.2" />
<line x1="707.1" y1="1288" x2="707.1" y2="1266" stroke="#000" stroke-width="2.2" />
<line x1="707.1" y1="1243.6" x2="707.1" y2="1221.6" stroke="#000" stroke-width="2.2" />
<line x1="738.3" y1="1510" x2="738.3" y2="1488" stroke="#000" stroke-width="2.2" />
<line x1="738.3" y1="1465.6" x2="738.3" y2="1443.6" stroke="#000" stroke-width="2.2" />
<line x1="738.3" y1="1421.2" x2="738.3" y2="1399.2" stroke="#000" stroke-width="2.2" />
<line x1="738.3" y1="1376.8" x2="738.3" y2="1354.8" stroke="#000" stroke-width="2.2" />
<line x1="738.3" y1="1332.4" x2="738.3" y2="1310.4" stroke="#000" stroke-width="2.2" />
<line x1="738.3" y1="1288" x2="738.3" y2="1266" stroke="#000" stroke-width="2.2" />
<line x1="738.3" y1="1243.6" x2="738.3" y2="1221.6" stroke="#000" stroke-width="2.2" />
<line x1="810.3" y1="1510" x2="810.3" y2="1488" stroke="#000" stroke-width="2.2" />
<line x1="810.3" y1="1465.6" x2="810.3" y2="1443.6" stroke="#000" stroke-width="2.2" />
<line x1="810.3" y1="1421.2" x2="810.3" y2="1399.2" stroke="#000" stroke-width="2.2" />
<line x1="810.3" y1="1376.8" x2="810.3" y2="1354.8" stroke="#000" stroke-width="2.2" />
<line x1="810.3" y1="1332.4" x2="810.3" y2="1310.4" stroke="#000" stroke-width="2.2" />
<line x1="810.3" y1="1288" x2="810.3" y2="1266" stroke="#000" stroke-width="2.2" />
<line x1="810.3" y1="1243.6" x2="810.3" y2="1221.6" stroke="#000" stroke-width="2.2" />
<line x1="841.6" y1="1510" x2="841.6" y2="1488" stroke="#000" stroke-width="2.2" />
<line x1="841.6" y1="1465.6" x2="841.6" y2="1443.6" stroke="#000" stroke-width="2.2" />
<line x1="841.6" y1="1421.2" x2="841.6" y2="1399.2" stroke="#000" stroke-width="2.2" />
<line x1="841.6" y1="1376.8" x2="841.6" y2="1354.8" stroke="#000" stroke-width="2.2" />
<line x1="841.6" y1="1332.4" x2="841.6" y2="1310.4" stroke="#000" stroke-width="2.2" />
<line x1="841.6" y1="1288" x2="841.6" y2="1266" stroke="#000" stroke-width="2.2" />
<line x1="841.6" y1="1243.6" x2="841.6" y2="1221.6" stroke="#000" stroke-width="2.2" />
<rect x="151.2" y="1210.4" width="867.6" height="299.6" fill="none" stroke="#000" stroke-width="2.3" stroke-linejoin="round"/>
<path d="M151.2,1360.2H168.2M1018.8,1360.2H1001.8M368.1,1510V1504.8M368.1,1210.4V1215.6M585,1510V1504.8M585,1210.4V1215.6M801.9,1510V1504.8M801.9,1210.4V1215.6" stroke="#000" stroke-width="2.3" fill="none"/>
<defs><linearGradient id="jet" x1="0" y1="1" x2="0" y2="0"><stop offset="0.000" stop-color="#000092"/><stop offset="0.025" stop-color="#0000ab"/><stop offset="0.050" stop-color="#0000c5"/><stop offset="0.075" stop-color="#0000de"/><stop offset="0.100" stop-color="#0000f8"/><stop offset="0.125" stop-color="#0012ff"/><stop offset="0.150" stop-color="#002cff"/><stop offset="0.175" stop-color="#0045ff"/><stop offset="0.200" stop-color="#005fff"/><stop offset="0.225" stop-color="#0078ff"/><stop offset="0.250" stop-color="#0092ff"/><stop offset="0.275" stop-color="#00abff"/><stop offset="0.300" stop-color="#00c5ff"/><stop offset="0.325" stop-color="#00deff"/><stop offset="0.350" stop-color="#00f8ff"/><stop offset="0.375" stop-color="#12ffed"/><stop offset="0.400" stop-color="#2cffd3"/><stop offset="0.425" stop-color="#45ffba"/><stop offset="0.450" stop-color="#5fffa0"/><stop offset="0.475" stop-color="#78ff87"/><stop offset="0.500" stop-color="#92ff6d"/><stop offset="0.525" stop-color="#abff54"/><stop offset="0.550" stop-color="#c5ff3a"/><stop offset="0.575" stop-color="#deff21"/><stop offset="0.600" stop-color="#f8ff07"/><stop offset="0.625" stop-color="#ffed00"/><stop offset="0.650" stop-color="#ffd300"/><stop offset="0.675" stop-color="#ffba00"/><stop offset="0.700" stop-color="#ffa000"/><stop offset="0.725" stop-color="#ff8700"/><stop offset="0.750" stop-color="#ff6d00"/><stop offset="0.775" stop-color="#ff5400"/><stop offset="0.800" stop-color="#ff3a00"/><stop offset="0.825" stop-color="#ff2100"/><stop offset="0.850" stop-color="#ff0700"/><stop offset="0.875" stop-color="#ed0000"/><stop offset="0.900" stop-color="#d30000"/><stop offset="0.925" stop-color="#ba0000"/><stop offset="0.950" stop-color="#a00000"/><stop offset="0.975" stop-color="#870000"/><stop offset="1.000" stop-color="#800000"/></linearGradient></defs>
<rect x="1040.9" y="1209.8" width="23" height="300.2" fill="url(#jet)"/>
<path d="M1040.9,1479.98h3.5M1063.9,1479.98h-3.5M1040.9,1449.96h3.5M1063.9,1449.96h-3.5M1040.9,1419.94h3.5M1063.9,1419.94h-3.5M1040.9,1389.92h3.5M1063.9,1389.92h-3.5M1040.9,1359.9h3.5M1063.9,1359.9h-3.5M1040.9,1329.88h3.5M1063.9,1329.88h-3.5M1040.9,1299.86h3.5M1063.9,1299.86h-3.5M1040.9,1269.84h3.5M1063.9,1269.84h-3.5M1040.9,1239.82h3.5M1063.9,1239.82h-3.5" stroke="#000" stroke-width="2" fill="none"/>
<rect x="1040.9" y="1209.8" width="23" height="300.2" fill="none" stroke="#000" stroke-width="2.3" stroke-linejoin="round"/>
<polyline points="1353.25,409.33 1368.82,409.33 1368.82,377.56 1384.39,377.56 1384.39,441.1 1399.96,441.1 1399.96,409.33 1415.53,409.33 1415.53,409.33 1431.1,409.33 1431.1,314.01 1446.67,314.01 1446.67,345.79 1462.24,345.79 1462.24,282.24 1477.81,282.24 1477.81,314.01 1493.38,314.01 1493.38,314.01 1508.95,314.01 1508.95,282.24 1524.52,282.24 1524.52,186.93 1540.09,186.93 1540.09,250.47 1555.66,250.47 1555.66,123.39 1571.23,123.39 1571.23,314.01 1586.8,314.01 1586.8,155.16 1602.37,155.16 1602.37,250.47 1617.94,250.47 1617.94,218.7 1633.51,218.7 1633.51,91.61 1649.08,91.61 1649.08,250.47 1664.65,250.47 1664.65,345.79 1680.22,345.79 1680.22,377.56 1695.79,377.56 1695.79,377.56 1711.36,377.56 1711.36,441.1 1726.93,441.1 1726.93,441.1 1742.5,441.1 1742.5,441.1 1758.07,441.1 1758.07,409.33 1773.64,409.33 1773.64,345.79 1789.21,345.79 1789.21,282.24 1804.78,282.24 1804.78,282.24 1820.35,282.24 1820.35,345.79 1835.92,345.79 1835.92,282.24 1851.49,282.24 1851.49,186.93 1867.06,186.93 1867.06,282.24 1882.63,282.24 1882.63,155.16 1898.2,155.16 1898.2,218.7 1913.77,218.7 1913.77,91.61 1929.34,91.61 1929.34,282.24 1944.91,282.24 1944.91,186.93 1960.48,186.93 1960.48,441.1 1976.05,441.1 1976.05,345.79 1991.62,345.79 1991.62,377.56 2007.19,377.56 2007.19,441.1 2022.76,441.1 2022.76,409.33 2038.33,409.33 2038.33,377.56 2053.9,377.56 2053.9,377.56 2069.47,377.56 2069.47,441.1 2085.04,441.1 2085.04,441.1 2100.61,441.1 2100.61,377.56 2116.18,377.56 2116.18,377.56 2131.75,377.56" fill="none" stroke="#000" stroke-width="2.2" stroke-linejoin="round" stroke-linecap="round" stroke-linecap="butt" stroke-linejoin="miter"/>
<line x1="2116.18" y1="377.56" x2="2116.18" y2="441.1" stroke="#000" stroke-width="2.2" />
<rect x="1352.8" y="58.2" width="778.5" height="382.9" fill="none" stroke="#000" stroke-width="2.3" stroke-linejoin="round"/>
<path d="M1368.82,441.1V437.3M1368.82,58.2V62M1384.39,441.1V437.3M1384.39,58.2V62M1399.96,441.1V437.3M1399.96,58.2V62M1415.53,441.1V437.3M1415.53,58.2V62M1431.1,441.1V433.7M1431.1,58.2V65.6M1446.67,441.1V437.3M1446.67,58.2V62M1462.24,441.1V437.3M1462.24,58.2V62M1477.81,441.1V437.3M1477.81,58.2V62M1493.38,441.1V437.3M1493.38,58.2V62M1508.95,441.1V437.3M1508.95,58.2V62M1524.52,441.1V437.3M1524.52,58.2V62M1540.09,441.1V437.3M1540.09,58.2V62M1555.66,441.1V437.3M1555.66,58.2V62M1571.23,441.1V437.3M1571.23,58.2V62M1586.8,441.1V433.7M1586.8,58.2V65.6M1602.37,441.1V437.3M1602.37,58.2V62M1617.94,441.1V437.3M1617.94,58.2V62M1633.51,441.1V437.3M1633.51,58.2V62M1649.08,441.1V437.3M1649.08,58.2V62M1664.65,441.1V437.3M1664.65,58.2V62M1680.22,441.1V437.3M1680.22,58.2V62M1695.79,441.1V437.3M1695.79,58.2V62M1711.36,441.1V437.3M1711.36,58.2V62M1726.93,441.1V437.3M1726.93,58.2V62M1742.5,441.1V433.7M1742.5,58.2V65.6M1758.07,441.1V437.3M1758.07,58.2V62M1773.64,441.1V437.3M1773.64,58.2V62M1789.21,441.1V437.3M1789.21,58.2V62M1804.78,441.1V437.3M1804.78,58.2V62M1820.35,441.1V437.3M1820.35,58.2V62M1835.92,441.1V437.3M1835.92,58.2V62M1851.49,441.1V437.3M1851.49,58.2V62M1867.06,441.1V437.3M1867.06,58.2V62M1882.63,441.1V437.3M1882.63,58.2V62M1898.2,441.1V433.7M1898.2,58.2V65.6M1913.77,441.1V437.3M1913.77,58.2V62M1929.34,441.1V437.3M1929.34,58.2V62M1944.91,441.1V437.3M1944.91,58.2V62M1960.48,441.1V437.3M1960.48,58.2V62M1976.05,441.1V437.3M1976.05,58.2V62M1991.62,441.1V437.3M1991.62,58.2V62M2007.19,441.1V437.3M2007.19,58.2V62M2022.76,441.1V437.3M2022.76,58.2V62M2038.33,441.1V437.3M2038.33,58.2V62M2053.9,441.1V433.7M2053.9,58.2V65.6M2069.47,441.1V437.3M2069.47,58.2V62M2085.04,441.1V437.3M2085.04,58.2V62M2100.61,441.1V437.3M2100.61,58.2V62M2116.18,441.1V437.3M2116.18,58.2V62M1352.8,434.72H1360.5M2131.3,434.72H2123.6M1352.8,428.33H1360.5M2131.3,428.33H2123.6M1352.8,421.95H1360.5M2131.3,421.95H2123.6M1352.8,415.57H1360.5M2131.3,415.57H2123.6M1352.8,409.19H1360.5M2131.3,409.19H2123.6M1352.8,402.8H1360.5M2131.3,402.8H2123.6M1352.8,396.42H1360.5M2131.3,396.42H2123.6M1352.8,390.04H1360.5M2131.3,390.04H2123.6M1352.8,383.65H1360.5M2131.3,383.65H2123.6M1352.8,377.27H1368.2M2131.3,377.27H2115.9M1352.8,370.89H1360.5M2131.3,370.89H2123.6M1352.8,364.5H1360.5M2131.3,364.5H2123.6M1352.8,358.12H1360.5M2131.3,358.12H2123.6M1352.8,351.74H1360.5M2131.3,351.74H2123.6M1352.8,345.36H1360.5M2131.3,345.36H2123.6M1352.8,338.97H1360.5M2131.3,338.97H2123.6M1352.8,332.59H1360.5M2131.3,332.59H2123.6M1352.8,326.21H1360.5M2131.3,326.21H2123.6M1352.8,319.82H1360.5M2131.3,319.82H2123.6M1352.8,313.44H1368.2M2131.3,313.44H2115.9M1352.8,307.06H1360.5M2131.3,307.06H2123.6M1352.8,300.67H1360.5M2131.3,300.67H2123.6M1352.8,294.29H1360.5M2131.3,294.29H2123.6M1352.8,287.91H1360.5M2131.3,287.91H2123.6M1352.8,281.52H1360.5M2131.3,281.52H2123.6M1352.8,275.14H1360.5M2131.3,275.14H2123.6M1352.8,268.76H1360.5M2131.3,268.76H2123.6M1352.8,262.38H1360.5M2131.3,262.38H2123.6M1352.8,255.99H1360.5M2131.3,255.99H2123.6M1352.8,249.61H1368.2M2131.3,249.61H2115.9M1352.8,243.23H1360.5M2131.3,243.23H2123.6M1352.8,236.84H1360.5M2131.3,236.84H2123.6M1352.8,230.46H1360.5M2131.3,230.46H2123.6M1352.8,224.08H1360.5M2131.3,224.08H2123.6M1352.8,217.69H1360.5M2131.3,217.69H2123.6M1352.8,211.31H1360.5M2131.3,211.31H2123.6M1352.8,204.93H1360.5M2131.3,204.93H2123.6M1352.8,198.55H1360.5M2131.3,198.55H2123.6M1352.8,192.16H1360.5M2131.3,192.16H2123.6M1352.8,185.78H1368.2M2131.3,185.78H2115.9M1352.8,179.4H1360.5M2131.3,179.4H2123.6M1352.8,173.01H1360.5M2131.3,173.01H2123.6M1352.8,166.63H1360.5M2131.3,166.63H2123.6M1352.8,160.25H1360.5M2131.3,160.25H2123.6M1352.8,153.87H1360.5M2131.3,153.87H2123.6M1352.8,147.48H1360.5M2131.3,147.48H2123.6M1352.8,141.1H1360.5M2131.3,141.1H2123.6M1352.8,134.72H1360.5M2131.3,134.72H2123.6M1352.8,128.33H1360.5M2131.3,128.33H2123.6M1352.8,121.95H1368.2M2131.3,121.95H2115.9M1352.8,115.57H1360.5M2131.3,115.57H2123.6M1352.8,109.18H1360.5M2131.3,109.18H2123.6M1352.8,102.8H1360.5M2131.3,102.8H2123.6M1352.8,96.42H1360.5M2131.3,96.42H2123.6M1352.8,90.04H1360.5M2131.3,90.04H2123.6M1352.8,83.65H1360.5M2131.3,83.65H2123.6M1352.8,77.27H1360.5M2131.3,77.27H2123.6M1352.8,70.89H1360.5M2131.3,70.89H2123.6M1352.8,64.5H1360.5M2131.3,64.5H2123.6" stroke="#000" stroke-width="2.0" fill="none"/>
<polyline points="1450.36,976.2 1450.36,928.53 1469.82,928.53 1469.82,928.53 1489.28,928.53 1489.28,904.7 1508.74,904.7 1508.74,904.7 1528.21,904.7 1528.21,833.2 1547.67,833.2 1547.67,833.2 1567.13,833.2 1567.13,714.03 1586.6,714.03 1586.6,785.53 1606.06,785.53 1606.06,714.03 1625.52,714.03 1625.52,714.03 1644.98,714.03 1644.98,737.86 1664.45,737.86 1664.45,761.69 1683.91,761.69 1683.91,714.03 1703.37,714.03 1703.37,857.03 1722.84,857.03 1722.84,785.53 1742.3,785.53 1742.3,809.36 1761.76,809.36 1761.76,857.03 1781.23,857.03 1781.23,714.03 1800.69,714.03 1800.69,666.36 1820.15,666.36 1820.15,785.53 1839.62,785.53 1839.62,833.2 1859.08,833.2 1859.08,809.36 1878.54,809.36 1878.54,809.36 1898,809.36 1898,737.86 1917.47,737.86 1917.47,880.86 1936.93,880.86 1936.93,904.7 1956.39,904.7 1956.39,880.86 1975.86,880.86 1975.86,952.37 1995.32,952.37 1995.32,904.7 2014.78,904.7 2014.78,857.03 2034.24,857.03 2034.24,976.2 2053.71,976.2 2053.71,952.37 2073.17,952.37 2073.17,976.2" fill="none" stroke="#000" stroke-width="2.2" stroke-linejoin="round" stroke-linecap="round" stroke-linecap="butt" stroke-linejoin="miter"/>
<rect x="1352.8" y="592.3" width="778.5" height="383.9" fill="none" stroke="#000" stroke-width="2.3" stroke-linejoin="round"/>
<path d="M1372.5,976.2V972.4M1372.5,592.3V596.1M1391.97,976.2V972.4M1391.97,592.3V596.1M1411.43,976.2V972.4M1411.43,592.3V596.1M1430.89,976.2V972.4M1430.89,592.3V596.1M1450.36,976.2V972.4M1450.36,592.3V596.1M1469.82,976.2V972.4M1469.82,592.3V596.1M1489.28,976.2V972.4M1489.28,592.3V596.1M1508.74,976.2V972.4M1508.74,592.3V596.1M1528.21,976.2V972.4M1528.21,592.3V596.1M1547.67,976.2V968.8M1547.67,592.3V599.7M1567.13,976.2V972.4M1567.13,592.3V596.1M1586.6,976.2V972.4M1586.6,592.3V596.1M1606.06,976.2V972.4M1606.06,592.3V596.1M1625.52,976.2V972.4M1625.52,592.3V596.1M1644.98,976.2V972.4M1644.98,592.3V596.1M1664.45,976.2V972.4M1664.45,592.3V596.1M1683.91,976.2V972.4M1683.91,592.3V596.1M1703.37,976.2V972.4M1703.37,592.3V596.1M1722.84,976.2V972.4M1722.84,592.3V596.1M1742.3,976.2V968.8M1742.3,592.3V599.7M1761.76,976.2V972.4M1761.76,592.3V596.1M1781.23,976.2V972.4M1781.23,592.3V596.1M1800.69,976.2V972.4M1800.69,592.3V596.1M1820.15,976.2V972.4M1820.15,592.3V596.1M1839.62,976.2V972.4M1839.62,592.3V596.1M1859.08,976.2V972.4M1859.08,592.3V596.1M1878.54,976.2V972.4M1878.54,592.3V596.1M1898,976.2V972.4M1898,592.3V596.1M1917.47,976.2V972.4M1917.47,592.3V596.1M1936.93,976.2V968.8M1936.93,592.3V599.7M1956.39,976.2V972.4M1956.39,592.3V596.1M1975.86,976.2V972.4M1975.86,592.3V596.1M1995.32,976.2V972.4M1995.32,592.3V596.1M2014.78,976.2V972.4M2014.78,592.3V596.1M2034.24,976.2V972.4M2034.24,592.3V596.1M2053.71,976.2V972.4M2053.71,592.3V596.1M2073.17,976.2V972.4M2073.17,592.3V596.1M2092.63,976.2V972.4M2092.63,592.3V596.1M2112.1,976.2V972.4M2112.1,592.3V596.1M1352.8,952.21H1360.5M2131.3,952.21H2123.6M1352.8,928.22H1360.5M2131.3,928.22H2123.6M1352.8,904.23H1360.5M2131.3,904.23H2123.6M1352.8,880.24H1368.2M2131.3,880.24H2115.9M1352.8,856.25H1360.5M2131.3,856.25H2123.6M1352.8,832.26H1360.5M2131.3,832.26H2123.6M1352.8,808.27H1360.5M2131.3,808.27H2123.6M1352.8,784.28H1368.2M2131.3,784.28H2115.9M1352.8,760.29H1360.5M2131.3,760.29H2123.6M1352.8,736.3H1360.5M2131.3,736.3H2123.6M1352.8,712.31H1360.5M2131.3,712.31H2123.6M1352.8,688.32H1368.2M2131.3,688.32H2115.9M1352.8,664.33H1360.5M2131.3,664.33H2123.6M1352.8,640.34H1360.5M2131.3,640.34H2123.6M1352.8,616.35H1360.5M2131.3,616.35H2123.6" stroke="#000" stroke-width="2.0" fill="none"/>
<polyline points="1492.93,1509.9 1492.93,1494.29 1508.5,1494.29 1508.5,1510.2 1524.07,1510.2 1524.07,1494.29 1539.64,1494.29 1539.64,1478.39 1555.21,1478.39 1555.21,1478.39 1570.78,1478.39 1570.78,1414.77 1586.35,1414.77 1586.35,1335.24 1601.92,1335.24 1601.92,1398.86 1617.49,1398.86 1617.49,1223.91 1633.06,1223.91 1633.06,1382.96 1648.63,1382.96 1648.63,1223.91 1664.2,1223.91 1664.2,1271.62 1679.77,1271.62 1679.77,1176.19 1695.34,1176.19 1695.34,1271.62 1710.91,1271.62 1710.91,1319.34 1726.48,1319.34 1726.48,1351.15 1742.05,1351.15 1742.05,1319.34 1757.62,1319.34 1757.62,1271.62 1773.19,1271.62 1773.19,1351.15 1788.76,1351.15 1788.76,1446.58 1804.33,1446.58 1804.33,1446.58 1819.9,1446.58 1819.9,1478.39 1835.47,1478.39 1835.47,1478.39 1851.04,1478.39 1851.04,1462.48 1866.61,1462.48 1866.61,1494.29 1882.18,1494.29 1882.18,1509.9" fill="none" stroke="#000" stroke-width="2.2" stroke-linejoin="round" stroke-linecap="round" stroke-linecap="butt" stroke-linejoin="miter"/>
<polyline points="1975.6,1509.9 1975.6,1494.29 1991.17,1494.29 1991.17,1509.9" fill="none" stroke="#000" stroke-width="2.2" stroke-linejoin="round" stroke-linecap="round" stroke-linecap="butt" stroke-linejoin="miter"/>
<rect x="1352.8" y="1126.1" width="778.5" height="383.8" fill="none" stroke="#000" stroke-width="2.3" stroke-linejoin="round"/>
<path d="M1391.72,1509.9V1506.1M1391.72,1126.1V1129.9M1430.65,1509.9V1506.1M1430.65,1126.1V1129.9M1469.57,1509.9V1506.1M1469.57,1126.1V1129.9M1508.5,1509.9V1502.5M1508.5,1126.1V1133.5M1547.42,1509.9V1506.1M1547.42,1126.1V1129.9M1586.35,1509.9V1506.1M1586.35,1126.1V1129.9M1625.28,1509.9V1506.1M1625.28,1126.1V1129.9M1664.2,1509.9V1502.5M1664.2,1126.1V1133.5M1703.12,1509.9V1506.1M1703.12,1126.1V1129.9M1742.05,1509.9V1506.1M1742.05,1126.1V1129.9M1780.98,1509.9V1506.1M1780.98,1126.1V1129.9M1819.9,1509.9V1502.5M1819.9,1126.1V1133.5M1858.83,1509.9V1506.1M1858.83,1126.1V1129.9M1897.75,1509.9V1506.1M1897.75,1126.1V1129.9M1936.68,1509.9V1506.1M1936.68,1126.1V1129.9M1975.6,1509.9V1502.5M1975.6,1126.1V1133.5M2014.53,1509.9V1506.1M2014.53,1126.1V1129.9M2053.45,1509.9V1506.1M2053.45,1126.1V1129.9M2092.38,1509.9V1506.1M2092.38,1126.1V1129.9M1352.8,1493.92H1360.5M2131.3,1493.92H2123.6M1352.8,1477.93H1360.5M2131.3,1477.93H2123.6M1352.8,1461.95H1360.5M2131.3,1461.95H2123.6M1352.8,1445.96H1368.2M2131.3,1445.96H2115.9M1352.8,1429.98H1360.5M2131.3,1429.98H2123.6M1352.8,1413.99H1360.5M2131.3,1413.99H2123.6M1352.8,1398.01H1360.5M2131.3,1398.01H2123.6M1352.8,1382.02H1368.2M2131.3,1382.02H2115.9M1352.8,1366.04H1360.5M2131.3,1366.04H2123.6M1352.8,1350.05H1360.5M2131.3,1350.05H2123.6M1352.8,1334.07H1360.5M2131.3,1334.07H2123.6M1352.8,1318.08H1368.2M2131.3,1318.08H2115.9M1352.8,1302.1H1360.5M2131.3,1302.1H2123.6M1352.8,1286.11H1360.5M2131.3,1286.11H2123.6M1352.8,1270.12H1360.5M2131.3,1270.12H2123.6M1352.8,1254.14H1368.2M2131.3,1254.14H2115.9M1352.8,1238.16H1360.5M2131.3,1238.16H2123.6M1352.8,1222.17H1360.5M2131.3,1222.17H2123.6M1352.8,1206.18H1360.5M2131.3,1206.18H2123.6M1352.8,1190.2H1368.2M2131.3,1190.2H2115.9M1352.8,1174.22H1360.5M2131.3,1174.22H2123.6M1352.8,1158.23H1360.5M2131.3,1158.23H2123.6M1352.8,1142.25H1360.5M2131.3,1142.25H2123.6" stroke="#000" stroke-width="2.0" fill="none"/>
<polyline points="1352.8,1509.89 1355.91,1509.89 1359.03,1509.89 1362.14,1509.89 1365.26,1509.88 1368.37,1509.88 1371.48,1509.88 1374.6,1509.87 1377.71,1509.87 1380.83,1509.86 1383.94,1509.85 1387.05,1509.85 1390.17,1509.84 1393.28,1509.82 1396.4,1509.81 1399.51,1509.79 1402.62,1509.77 1405.74,1509.75 1408.85,1509.73 1411.97,1509.7 1415.08,1509.66 1418.19,1509.62 1421.31,1509.58 1424.42,1509.52 1427.54,1509.46 1430.65,1509.39 1433.76,1509.31 1436.88,1509.22 1439.99,1509.11 1443.11,1508.99 1446.22,1508.86 1449.33,1508.7 1452.45,1508.53 1455.56,1508.33 1458.68,1508.11 1461.79,1507.85 1464.9,1507.57 1468.02,1507.25 1471.13,1506.9 1474.25,1506.5 1477.36,1506.06 1480.47,1505.56 1483.59,1505.01 1486.7,1504.41 1489.82,1503.73 1492.93,1502.99 1496.04,1502.17 1499.16,1501.27 1502.27,1500.27 1505.39,1499.19 1508.5,1498 1511.61,1496.71 1514.73,1495.29 1517.84,1493.76 1520.96,1492.1 1524.07,1490.29 1527.18,1488.35 1530.3,1486.25 1533.41,1483.99 1536.53,1481.57 1539.64,1478.97 1542.75,1476.2 1545.87,1473.24 1548.98,1470.09 1552.1,1466.75 1555.21,1463.2 1558.32,1459.46 1561.44,1455.51 1564.55,1451.35 1567.67,1446.98 1570.78,1442.4 1573.89,1437.62 1577.01,1432.64 1580.12,1427.45 1583.24,1422.08 1586.35,1416.51 1589.46,1410.76 1592.58,1404.85 1595.69,1398.77 1598.81,1392.55 1601.92,1386.2 1605.03,1379.73 1608.15,1373.17 1611.26,1366.52 1614.38,1359.81 1617.49,1353.06 1620.6,1346.3 1623.72,1339.54 1626.83,1332.81 1629.95,1326.13 1633.06,1319.54 1636.17,1313.05 1639.29,1306.7 1642.4,1300.51 1645.52,1294.51 1648.63,1288.73 1651.74,1283.18 1654.86,1277.9 1657.97,1272.92 1661.09,1268.24 1664.2,1263.91 1667.31,1259.93 1670.43,1256.34 1673.54,1253.14 1676.66,1250.36 1679.77,1248 1682.88,1246.08 1686,1244.61 1689.11,1243.6 1692.23,1243.06 1695.34,1242.98 1698.45,1243.36 1701.57,1244.21 1704.68,1245.52 1707.8,1247.28 1710.91,1249.48 1714.02,1252.12 1717.14,1255.17 1720.25,1258.63 1723.37,1262.48 1726.48,1266.69 1729.59,1271.24 1732.71,1276.12 1735.82,1281.3 1738.94,1286.76 1742.05,1292.46 1745.16,1298.39 1748.28,1304.52 1751.39,1310.82 1754.51,1317.26 1757.62,1323.81 1760.73,1330.46 1763.85,1337.18 1766.96,1343.93 1770.08,1350.69 1773.19,1357.45 1776.3,1364.18 1779.42,1370.85 1782.53,1377.45 1785.65,1383.95 1788.76,1390.34 1791.87,1396.61 1794.99,1402.74 1798.1,1408.71 1801.22,1414.52 1804.33,1420.15 1807.44,1425.59 1810.56,1430.85 1813.67,1435.9 1816.79,1440.75 1819.9,1445.4 1823.01,1449.84 1826.13,1454.07 1829.24,1458.1 1832.36,1461.92 1835.47,1465.53 1838.58,1468.94 1841.7,1472.16 1844.81,1475.19 1847.93,1478.02 1851.04,1480.68 1854.15,1483.16 1857.27,1485.48 1860.38,1487.63 1863.5,1489.63 1866.61,1491.48 1869.72,1493.19 1872.84,1494.77 1875.95,1496.23 1879.07,1497.56 1882.18,1498.79 1885.29,1499.91 1888.41,1500.93 1891.52,1501.86 1894.64,1502.71 1897.75,1503.48 1900.86,1504.18 1903.98,1504.81 1907.09,1505.38 1910.21,1505.89 1913.32,1506.35 1916.43,1506.76 1919.55,1507.13 1922.66,1507.46 1925.78,1507.76 1928.89,1508.02 1932,1508.25 1935.12,1508.46 1938.23,1508.64 1941.35,1508.81 1944.46,1508.95 1947.57,1509.07 1950.69,1509.18 1953.8,1509.28 1956.92,1509.36 1960.03,1509.44 1963.14,1509.5 1966.26,1509.56 1969.37,1509.61 1972.49,1509.65 1975.6,1509.69 1978.71,1509.72 1981.83,1509.74 1984.94,1509.77 1988.06,1509.79 1991.17,1509.8 1994.28,1509.82 1997.4,1509.83 2000.51,1509.84 2003.63,1509.85 2006.74,1509.86 2009.85,1509.87 2012.97,1509.87 2016.08,1509.88 2019.2,1509.88 2022.31,1509.88 2025.42,1509.89 2028.54,1509.89 2031.65,1509.89 2034.77,1509.89 2037.88,1509.89 2040.99,1509.89 2044.11,1509.9 2047.22,1509.9 2050.34,1509.9 2053.45,1509.9 2056.56,1509.9 2059.68,1509.9 2062.79,1509.9 2065.91,1509.9 2069.02,1509.9 2072.13,1509.9 2075.25,1509.9 2078.36,1509.9 2081.48,1509.9 2084.59,1509.9 2087.7,1509.9 2090.82,1509.9 2093.93,1509.9 2097.05,1509.9 2100.16,1509.9 2103.27,1509.9 2106.39,1509.9 2109.5,1509.9 2112.62,1509.9 2115.73,1509.9 2118.84,1509.9 2121.96,1509.9 2125.07,1509.9 2128.19,1509.9 2131.3,1509.9" fill="none" stroke="#ff0000" stroke-width="2.2" stroke-linejoin="round" stroke-linecap="round" />
<text transform="translate(118.45 82.60) scale(0.9700 1)" font-size="42.00">3</text>
<text transform="translate(118.69 133.12) scale(0.9700 1)" font-size="42.00">2</text>
<text transform="translate(118.69 194.03) scale(0.9700 1)" font-size="42.00">1</text>
<text transform="translate(118.20 255.20) scale(0.9700 1)" font-size="42.00">0</text>
<text transform="translate(105.11 316.37) scale(0.9700 1)" font-size="42.00">-1</text>
<text transform="translate(105.11 377.78) scale(0.9700 1)" font-size="42.00">-2</text>
<text transform="translate(104.87 425.90) scale(0.9700 1)" font-size="42.00">-3</text>
<text transform="translate(139.72 475.40) scale(0.9700 1)" font-size="42.00">3</text>
<text transform="translate(200.89 475.90) scale(0.9700 1)" font-size="42.00">2</text>
<text transform="translate(261.45 475.90) scale(0.9700 1)" font-size="42.00">1</text>
<text transform="translate(323.10 475.40) scale(0.9700 1)" font-size="42.00">0</text>
<text transform="translate(377.72 475.90) scale(0.9700 1)" font-size="42.00">-1</text>
<text transform="translate(438.89 475.90) scale(0.9700 1)" font-size="42.00">-2</text>
<text transform="translate(499.93 475.40) scale(0.9700 1)" font-size="42.00">-3</text>
<text transform="translate(248.23 518.60) scale(0.9699 1)" font-size="42.00">X<tspan font-size="25.20" dy="9.24">MSM</tspan><tspan dy="-9.24"> (R</tspan><tspan font-size="25.20" dy="9.24">M</tspan><tspan dy="-9.24">)</tspan></text>
<text transform="translate(74.00 326.81) rotate(-90) scale(0.9685 1)" font-size="42.00">Z<tspan font-size="25.20" dy="9.24">MSM</tspan><tspan dy="-9.24"> (R</tspan><tspan font-size="25.20" dy="9.24">M</tspan><tspan dy="-9.24">)</tspan></text>
<text transform="translate(605.57 82.60) scale(0.9700 1)" font-size="42.00">-3</text>
<text transform="translate(605.81 133.12) scale(0.9700 1)" font-size="42.00">-2</text>
<text transform="translate(605.81 194.03) scale(0.9700 1)" font-size="42.00">-1</text>
<text transform="translate(618.90 255.20) scale(0.9700 1)" font-size="42.00">0</text>
<text transform="translate(619.39 316.37) scale(0.9700 1)" font-size="42.00">1</text>
<text transform="translate(619.39 377.78) scale(0.9700 1)" font-size="42.00">2</text>
<text transform="translate(619.14 425.90) scale(0.9700 1)" font-size="42.00">3</text>
<text transform="translate(640.42 475.40) scale(0.9700 1)" font-size="42.00">3</text>
<text transform="translate(701.59 475.90) scale(0.9700 1)" font-size="42.00">2</text>
<text transform="translate(762.15 475.90) scale(0.9700 1)" font-size="42.00">1</text>
<text transform="translate(823.80 475.40) scale(0.9700 1)" font-size="42.00">0</text>
<text transform="translate(878.42 475.90) scale(0.9700 1)" font-size="42.00">-1</text>
<text transform="translate(939.59 475.90) scale(0.9700 1)" font-size="42.00">-2</text>
<text transform="translate(1000.63 475.40) scale(0.9700 1)" font-size="42.00">-3</text>
<text transform="translate(748.93 518.60) scale(0.9699 1)" font-size="42.00">X<tspan font-size="25.20" dy="9.24">MSM</tspan><tspan dy="-9.24"> (R</tspan><tspan font-size="25.20" dy="9.24">M</tspan><tspan dy="-9.24">)</tspan></text>
<text transform="translate(574.20 327.97) rotate(-90) scale(0.9716 1)" font-size="42.00">Y<tspan font-size="25.20" dy="9.24">MSM</tspan><tspan dy="-9.24"> (R</tspan><tspan font-size="25.20" dy="9.24">M</tspan><tspan dy="-9.24">)</tspan></text>
<text transform="translate(173.60 41.30)" font-size="56.00">(a)</text>
<text transform="translate(674.29 41.30) scale(1.0033 1)" font-size="56.00">(b)</text>
<text transform="translate(76.60 598.25)" font-size="39.00">200</text>
<text transform="translate(76.60 648.90)" font-size="39.00">100</text>
<text transform="translate(119.85 709.45)" font-size="39.00">0</text>
<text transform="translate(63.60 770.00)" font-size="39.00">-100</text>
<text transform="translate(63.60 818.00)" font-size="39.00">-200</text>
<text transform="translate(36.70 749.06) rotate(-90) scale(0.9403 1)" font-size="40.00">B (nT)</text>
<text transform="translate(173.72 558.80) scale(0.9957 1)" font-size="56.00">(c)</text>
<text transform="translate(1040.65 634.60)" font-size="40.00" fill="#ff0000">B<tspan font-size="24.80" dy="8.60">X</tspan></text>
<text transform="translate(1040.65 701.00)" font-size="40.00" fill="#008000">B<tspan font-size="24.80" dy="8.60">Y</tspan></text>
<text transform="translate(1040.65 767.80)" font-size="40.00" fill="#0000ff">B<tspan font-size="24.80" dy="8.60">Z</tspan></text>
<text transform="translate(76.70 911.98)" font-size="39.00">150</text>
<text transform="translate(76.70 987.67)" font-size="39.00">100</text>
<text transform="translate(98.45 1063.36)" font-size="39.00">50</text>
<text transform="translate(119.95 1126.80)" font-size="39.00">0</text>
<text transform="translate(49.00 1067.04) rotate(-90) scale(0.9271 1)" font-size="40.50">|B| (nT)</text>
<text transform="translate(173.84 871.40) scale(0.9886 1)" font-size="56.00">(d)</text>
<text transform="translate(98.45 1232.30)" font-size="39.00">10</text>
<text transform="translate(120.45 1373.70)" font-size="39.00">1</text>
<text transform="translate(87.95 1510.40)" font-size="39.00">0.1</text>
<text transform="translate(59.30 1485.58) rotate(-90) scale(0.9475 1)" font-size="39.70">Energy (keV/q)</text>
<text transform="translate(172.95 1259.70) scale(1.0146 1)" font-size="56.00">(e)</text>
<text transform="translate(508.20 1191.10) scale(0.9503 1)" font-size="49.70">H<tspan font-size="30.81" dy="-18.39">+</tspan><tspan dy="18.39"> Flux</tspan></text>
<text transform="translate(77.24 1557.60) scale(0.9750 1)" font-size="38.80">06:55:55</text>
<text transform="translate(291.63 1557.60) scale(0.9750 1)" font-size="38.80">07:02:51</text>
<text transform="translate(511.23 1557.60) scale(0.9750 1)" font-size="38.80">07:09:47</text>
<text transform="translate(728.31 1557.60) scale(0.9750 1)" font-size="38.80">07:16:43</text>
<text transform="translate(945.41 1557.60) scale(0.9750 1)" font-size="38.80">07:23:39</text>
<text transform="translate(442.64 1598.40) scale(0.9617 1)" font-size="39.50">Time (hh:mm:ss)</text>
<text transform="translate(-5.35 1627.10) scale(0.9770 1)" font-size="48.30">16 September 2012</text>
<text transform="translate(1074.00 1231.80)" font-size="38.30">10<tspan font-size="22.98" dy="-17.43">9</tspan></text>
<text transform="translate(1074.00 1282.90)" font-size="38.30">10<tspan font-size="22.98" dy="-17.43">8</tspan></text>
<text transform="translate(1074.00 1342.90)" font-size="38.30">10<tspan font-size="22.98" dy="-17.43">7</tspan></text>
<text transform="translate(1074.00 1402.50)" font-size="38.30">10<tspan font-size="22.98" dy="-17.43">6</tspan></text>
<text transform="translate(1074.00 1463.00)" font-size="38.30">10<tspan font-size="22.98" dy="-17.43">5</tspan></text>
<text transform="translate(1074.00 1510.30)" font-size="38.30">10<tspan font-size="22.98" dy="-17.43">4</tspan></text>
<text transform="translate(1164.50 1485.42) rotate(-90) scale(0.9817 1)" font-size="38.50">cm<tspan font-size="23.10" dy="-17.71">-2</tspan><tspan dy="17.71">s</tspan><tspan font-size="23.10" dy="-17.71">-1</tspan><tspan dy="17.71">keV</tspan><tspan font-size="23.10" dy="-17.71">-1</tspan><tspan dy="17.71">sr</tspan><tspan font-size="23.10" dy="-17.71">-1</tspan></text>
<text transform="translate(1263.11 82.75) scale(0.9670 1)" font-size="42.50">0.06</text>
<text transform="translate(1262.87 135.97) scale(0.9670 1)" font-size="42.50">0.05</text>
<text transform="translate(1262.39 199.81) scale(0.9670 1)" font-size="42.50">0.04</text>
<text transform="translate(1263.11 263.64) scale(0.9670 1)" font-size="42.50">0.03</text>
<text transform="translate(1263.36 327.47) scale(0.9670 1)" font-size="42.50">0.02</text>
<text transform="translate(1263.36 391.30) scale(0.9670 1)" font-size="42.50">0.01</text>
<text transform="translate(1262.87 441.30) scale(0.9670 1)" font-size="42.50">0.00</text>
<text transform="translate(1401.34 492.20) scale(0.9670 1)" font-size="42.50">-20</text>
<text transform="translate(1557.04 492.20) scale(0.9670 1)" font-size="42.50">-10</text>
<text transform="translate(1731.12 492.20) scale(0.9670 1)" font-size="42.50">0</text>
<text transform="translate(1874.73 492.20) scale(0.9670 1)" font-size="42.50">10</text>
<text transform="translate(2030.91 492.20) scale(0.9670 1)" font-size="42.50">20</text>
<text transform="translate(1638.92 535.70) scale(0.9443 1)" font-size="42.50">IMF B<tspan font-size="25.50" dy="9.35">Z</tspan><tspan dy="-9.35"> (nT)</tspan></text>
<text transform="translate(1233.60 459.71) rotate(-90) scale(0.9574 1)" font-size="42.50">Occurrence Frequency</text>
<text transform="translate(1375.40 41.30)" font-size="56.00">(f)</text>
<text transform="translate(1263.11 617.05) scale(0.9670 1)" font-size="42.50">0.08</text>
<text transform="translate(1263.11 702.35) scale(0.9670 1)" font-size="42.50">0.06</text>
<text transform="translate(1262.39 798.30) scale(0.9670 1)" font-size="42.50">0.04</text>
<text transform="translate(1263.36 894.26) scale(0.9670 1)" font-size="42.50">0.02</text>
<text transform="translate(1262.87 976.10) scale(0.9670 1)" font-size="42.50">0.00</text>
<text transform="translate(1312.00 1026.10) scale(0.9670 1)" font-size="42.50">-200</text>
<text transform="translate(1506.63 1026.10) scale(0.9670 1)" font-size="42.50">-100</text>
<text transform="translate(1731.12 1026.10) scale(0.9670 1)" font-size="42.50">0</text>
<text transform="translate(1902.18 1026.10) scale(0.9670 1)" font-size="42.50">100</text>
<text transform="translate(2097.29 1026.10) scale(0.9670 1)" font-size="42.50">200</text>
<text transform="translate(1534.99 1069.70) scale(0.9455 1)" font-size="42.50">Magnetosheath B<tspan font-size="25.50" dy="9.35">Z</tspan><tspan dy="-9.35"> (nT)</tspan></text>
<text transform="translate(1233.60 994.31) rotate(-90) scale(0.9574 1)" font-size="42.50">Occurrence Frequency</text>
<text transform="translate(1375.37 567.20) scale(1.0081 1)" font-size="56.00">(g)</text>
<text transform="translate(1263.36 1150.85) scale(0.9670 1)" font-size="42.50">0.12</text>
<text transform="translate(1262.87 1204.23) scale(0.9670 1)" font-size="42.50">0.10</text>
<text transform="translate(1263.11 1268.17) scale(0.9670 1)" font-size="42.50">0.08</text>
<text transform="translate(1263.11 1332.11) scale(0.9670 1)" font-size="42.50">0.06</text>
<text transform="translate(1262.39 1396.05) scale(0.9670 1)" font-size="42.50">0.04</text>
<text transform="translate(1263.36 1459.99) scale(0.9670 1)" font-size="42.50">0.02</text>
<text transform="translate(1262.87 1510.10) scale(0.9670 1)" font-size="42.50">0.00</text>
<text transform="translate(1323.03 1560.80) scale(0.9670 1)" font-size="42.50">1.0</text>
<text transform="translate(1478.97 1561.30) scale(0.9670 1)" font-size="42.50">1.2</text>
<text transform="translate(1634.31 1561.30) scale(0.9670 1)" font-size="42.50">1.4</text>
<text transform="translate(1790.25 1560.80) scale(0.9670 1)" font-size="42.50">1.6</text>
<text transform="translate(1945.95 1560.80) scale(0.9670 1)" font-size="42.50">1.8</text>
<text transform="translate(2102.01 1560.80) scale(0.9670 1)" font-size="42.50">2.0</text>
<text transform="translate(1667.86 1603.70) scale(0.9546 1)" font-size="42.50">R<tspan font-size="25.50" dy="9.35">SS</tspan><tspan dy="-9.35"> (R</tspan><tspan font-size="25.50" dy="9.35">M</tspan><tspan dy="-9.35">)</tspan></text>
<text transform="translate(1233.60 1528.11) rotate(-90) scale(0.9574 1)" font-size="42.50">Occurrence Frequency</text>
<text transform="translate(1375.40 1108.60)" font-size="56.00">(h)</text></svg>
</body></html>
